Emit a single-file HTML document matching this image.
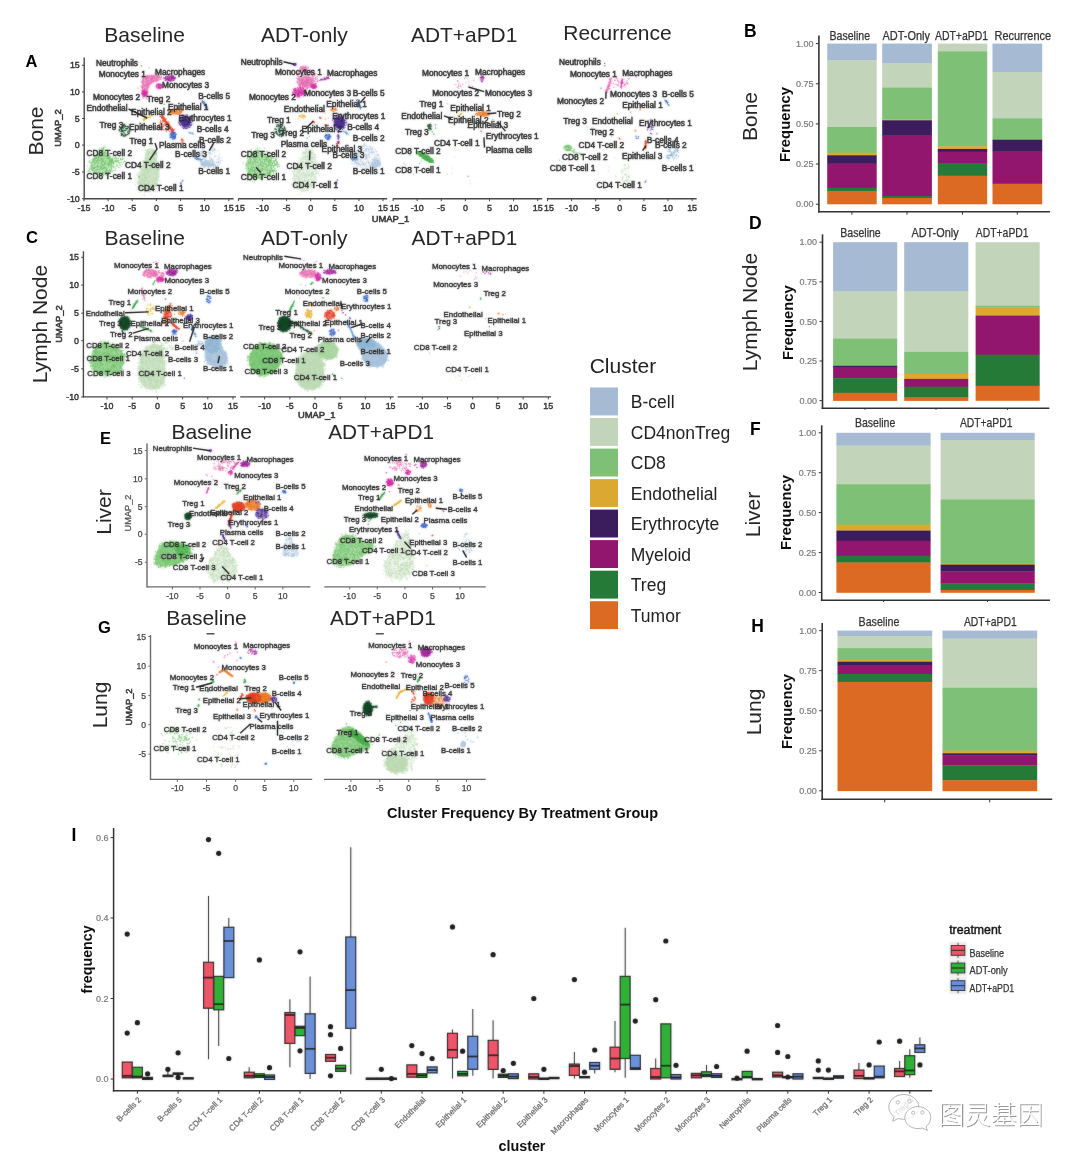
<!DOCTYPE html>
<html lang="en"><head><meta charset="utf-8"><title>Cluster Frequency By Treatment Group</title>
<style>
html,body{margin:0;padding:0;background:#fff}
body{width:1080px;height:1162px;overflow:hidden}
svg{display:block;font-family:"Liberation Sans","Noto Sans CJK SC",sans-serif}
.cjk{font-family:"Liberation Sans","Noto Sans CJK SC",sans-serif;font-weight:300}
.pts path{fill:none;stroke-linecap:round}
.lb{stroke:#2a2a2a;stroke-width:.5px}
.lc{stroke:#2a2a2a;stroke-width:.4px}
.tk{stroke:#363636;stroke-width:.42px}
.um{stroke:#3c3c3c;stroke-width:.6px}
.ul{stroke:#555;stroke-width:.3px}
.tl{stroke:#444;stroke-width:.25px}
.tg{stroke:#7a7a7a;stroke-width:.2px}
.nm{stroke:#333;stroke-width:.25px}
.xl{stroke:#777;stroke-width:.3px}
</style></head>
<body>
<svg width="1080" height="1162" viewBox="0 0 1080 1162">
<defs><filter id="b1" x="-2%" y="-2%" width="104%" height="104%"><feGaussianBlur stdDeviation="0.9" result="b"/><feGaussianBlur in="SourceGraphic" stdDeviation="0.55" result="s"/><feComposite in="s" in2="b" operator="arithmetic" k1="0" k2="0.78" k3="0.22" k4="0"/></filter><filter id="b2" x="-5%" y="-5%" width="110%" height="110%"><feGaussianBlur stdDeviation="0.5"/></filter><filter id="b3" x="-2%" y="-2%" width="104%" height="104%"><feGaussianBlur stdDeviation="0.9" result="b"/><feGaussianBlur in="SourceGraphic" stdDeviation="0.5" result="s"/><feComposite in="s" in2="b" operator="arithmetic" k1="0" k2="0.5" k3="0.5" k4="0"/></filter></defs>
<rect width="1080" height="1162" fill="#fff"/>
<g id="scatter" filter="url(#b3)">
<g class="fills"><path d="M90.2 169.3Q89.6 167.1 90.9 162.9Q92.3 158.8 95.1 156Q97.9 153.2 100.7 150.1Q103.4 147 105.5 151.1Q107.6 155.3 110 157.4Q112.5 159.5 112.1 165.4Q111.8 171.3 109.7 173.4Q107.6 175.4 102.8 174.9Q97.9 174.3 94.4 172.9Q90.9 171.6 90.2 169.3Z" fill="#6CC164" opacity="0.3"/>
<path d="M145.1 154.6Q145.1 150.4 148.6 149.1Q152.1 147.7 154.8 149.8Q157.6 151.8 156.9 156.7Q156.2 161.6 158 164.3Q159.7 167.1 159.3 172.7Q159 178.2 157.6 183.1Q156.2 187.9 152.8 190Q149.3 192.1 145.8 191.8Q142.3 191.4 140.2 188.3Q138.2 185.2 137.8 180.3Q137.5 175.4 139.9 171.3Q142.3 167.1 143.7 162.9Q145.1 158.8 145.1 154.6Z" fill="#B7D7AE" opacity="0.6"/>
<path d="M200.7 164Q199.3 160.9 206.2 160.4Q213.2 159.9 214.2 162.8Q215.2 165.7 208.7 166.4Q202.1 167.1 200.7 164Z" fill="#A2BED9" opacity="0.45"/>
<line x1="195.1" y1="158.1" x2="202.1" y2="159.9" stroke="#4C8CD6" stroke-width="0.9" stroke-linecap="round"/>
<path d="M142 82.4Q142.3 76.8 145.8 75.8Q149.3 74.8 154.8 75.1Q160.4 75.4 160.9 77.7Q161.5 79.9 157.5 81Q153.4 82.1 151.5 83.3Q149.6 84.5 148.9 87.6Q148.2 90.7 147.8 94.2Q147.5 97.7 145.4 97.1Q143.3 96.6 142.5 92.2Q141.6 87.9 142 82.4Z" fill="#E569AE" opacity="0.6"/>
<ellipse cx="144.8" cy="93.4" rx="2.5" ry="2.6" fill="#D327A2" opacity="0.5"/>
<ellipse cx="159.2" cy="86.1" rx="2.7" ry="2.2" fill="#D327A2" opacity="0.6"/>
<ellipse cx="169.7" cy="78.3" rx="4.8" ry="2.5" fill="#9C1596" opacity="0.6"/>
<ellipse cx="175.6" cy="111.4" rx="6.4" ry="2.8" fill="#E8761C" opacity="0.5"/>
<ellipse cx="185.5" cy="121.6" rx="5.5" ry="5.9" fill="#3C1C88" opacity="0.75"/>
<line x1="162.1" y1="116.1" x2="173.9" y2="133.4" stroke="#E0381C" stroke-width="1.3" stroke-linecap="round"/>
<ellipse cx="173" cy="135.5" rx="2.8" ry="3.1" fill="#2E5CC4" opacity="0.6"/>
<path d="M246.5 171.2Q245 166.5 246.9 161.8Q248.9 157 252 153.1Q255.2 149.2 259.9 150.7Q264.6 152.3 267.8 156.2Q270.9 160.2 271.7 164.9Q272.5 169.6 269.4 173.6Q266.2 177.5 261.5 178.4Q256.8 179.4 252.4 177.7Q248.1 175.9 246.5 171.2Z" fill="#6CC164" opacity="0.38"/>
<path d="M293 176.7Q293 169.6 296.1 164.1Q299.3 158.6 302.4 153.9Q305.6 149.2 309.5 148.4Q313.4 147.6 314.6 153.9Q315.8 160.2 317 166.5Q318.1 172.8 316.6 178.3Q315 183.8 311.9 187.3Q308.7 190.9 304 191.3Q299.3 191.7 296.1 187.7Q293 183.8 293 176.7Z" fill="#B7D7AE" opacity="0.3"/>
<path d="M351.2 161.4Q350.4 158.6 353.2 153.9Q355.9 149.2 360.6 146Q365.4 142.9 370.1 145.2Q374.8 147.6 378 153.1Q381.1 158.6 380.7 162.5Q380.3 166.5 376 168.2Q371.7 169.9 365.4 169.4Q359.1 168.8 355.5 166.5Q352 164.1 351.2 161.4Z" fill="#A2BED9" opacity="0.1"/>
<ellipse cx="376.4" cy="163.3" rx="3.8" ry="3.8" fill="#A2BED9" opacity="0.25"/>
<ellipse cx="354.4" cy="158.6" rx="2.8" ry="1.5" fill="#4C8CD6" opacity="0.5"/>
<ellipse cx="304" cy="68.1" rx="3.8" ry="1.9" fill="#E569AE" opacity="0.4"/>
<ellipse cx="305.9" cy="81.5" rx="7.2" ry="5" fill="#E569AE" opacity="0.6"/>
<ellipse cx="299.3" cy="92.1" rx="5.7" ry="4.1" fill="#D327A2" opacity="0.65"/>
<ellipse cx="313.7" cy="86.2" rx="2.5" ry="2.3" fill="#D327A2" opacity="0.6"/>
<ellipse cx="339.6" cy="122.4" rx="5.8" ry="6.5" fill="#3C1C88" opacity="0.8"/>
<ellipse cx="327.8" cy="137" rx="2.6" ry="2.5" fill="#2E5CC4" opacity="0.5"/>
<ellipse cx="481.8" cy="78.7" rx="2.1" ry="2.5" fill="#9C1596" opacity="0.5"/>
<ellipse cx="482.8" cy="113.8" rx="6.4" ry="2.1" fill="#E8761C" opacity="0.7"/>
<ellipse cx="429.5" cy="127.1" rx="1.8" ry="2.8" fill="#0E4420" opacity="0.6"/>
<ellipse cx="425.5" cy="157.2" rx="9.3" ry="2.8" fill="#3FA845" opacity="0.85" transform="rotate(33 425.5 157.2)"/>
<line x1="606.9" y1="92.2" x2="611.1" y2="78" stroke="#E569AE" stroke-width="0.8" stroke-linecap="round"/>
<line x1="621.1" y1="87.5" x2="622.2" y2="79.1" stroke="#D327A2" stroke-width="0.8" stroke-linecap="round"/>
<ellipse cx="567.7" cy="148" rx="3.3" ry="2.5" fill="#6CC164" opacity="0.5"/>
<line x1="645.8" y1="141" x2="645.5" y2="148.4" stroke="#E0381C" stroke-width="1.4" stroke-linecap="round"/>
<path d="M90.5 363.1Q89.7 358.3 91.6 353.6Q93.6 348.9 96.8 346.1Q99.9 343.4 103.1 342.6Q106.2 341.8 110.9 343.8Q115.6 345.7 119.6 348.9Q123.5 352 124.3 356Q125.1 359.9 123.5 364.6Q121.9 369.4 118.8 371.7Q115.6 374.1 110.9 375.3Q106.2 376.4 101.5 374.9Q96.8 373.3 94 370.5Q91.2 367.8 90.5 363.1Z" fill="#6CC164" opacity="0.62"/>
<path d="M140 359.1Q140.8 355.2 143.2 351.2Q145.6 347.3 150.3 345Q155 342.6 158.9 345Q162.9 347.3 163.7 352.8Q164.4 358.3 165.2 364.6Q166 370.9 165.2 377.2Q164.4 383.5 161.3 386.3Q158.1 389 153.4 389.4Q148.7 389.8 144.8 387.5Q140.8 385.1 139.3 379.6Q137.7 374.1 138.5 368.6Q139.3 363.1 140 359.1Z" fill="#B7D7AE" opacity="0.66"/>
<path d="M204.2 347.3Q203.8 342.6 206.2 339.4Q208.5 336.3 212.5 335.9Q216.4 335.5 218.8 338.3Q221.1 341 221.5 344.2Q221.9 347.3 224.7 351.2Q227.4 355.2 227.8 359.1Q228.2 363.1 224.7 365Q221.1 367 216.4 366.6Q211.7 366.2 208.5 363.8Q205.4 361.5 205 356.8Q204.6 352 204.2 347.3Z" fill="#A2BED9" opacity="0.8"/>
<path d="M205 346.5Q204.6 342.6 206.6 339.8Q208.5 337.1 212.5 336.7Q216.4 336.3 218.4 339.1Q220.3 341.8 219.9 346.1Q219.5 350.5 215.6 352Q211.7 353.6 208.5 352Q205.4 350.5 205 346.5Z" fill="#86B2D0" opacity="0.6"/>
<ellipse cx="150.1" cy="273.3" rx="6.4" ry="3.8" fill="#E569AE" opacity="0.5"/>
<ellipse cx="160.4" cy="279.3" rx="3.3" ry="2.5" fill="#D327A2" opacity="0.6"/>
<ellipse cx="172" cy="272.2" rx="5" ry="3.1" fill="#9C1596" opacity="0.75"/>
<line x1="132.2" y1="308.8" x2="137.4" y2="300.4" stroke="#2C9A40" stroke-width="1.2" stroke-linecap="round"/>
<ellipse cx="167.6" cy="314.3" rx="3.8" ry="5" fill="#E0381C" opacity="0.4"/>
<line x1="171.1" y1="322.4" x2="178.6" y2="329.2" stroke="#E0381C" stroke-width="1.2" stroke-linecap="round"/>
<ellipse cx="181.9" cy="313.5" rx="2.6" ry="2.1" fill="#E8761C" opacity="0.3"/>
<ellipse cx="189.4" cy="317.4" rx="3" ry="2.8" fill="#3C1C88" opacity="0.5"/>
<ellipse cx="124.8" cy="323.2" rx="5.8" ry="7" fill="#0E4420" opacity="0.95"/>
<line x1="139.3" y1="325.6" x2="151.9" y2="331.3" stroke="#2C9A40" stroke-width="1.0" stroke-linecap="round"/>
<ellipse cx="174.4" cy="332" rx="2.3" ry="2.5" fill="#2E5CC4" opacity="0.5"/>
<path d="M249.8 365.4Q247.6 359.9 249.8 354.4Q252 348.9 256.8 345.7Q261.5 342.6 267 343.4Q272.5 344.2 276.4 347.3Q280.4 350.5 281.6 354.4Q282.7 358.3 280.8 363.1Q278.8 367.8 274.9 370.9Q270.9 374.1 266.2 375.3Q261.5 376.4 256.8 373.7Q252 370.9 249.8 365.4Z" fill="#6CC164" opacity="0.8"/>
<path d="M295.5 369.4Q296.1 363.1 298.5 359.1Q300.8 355.2 304.8 352.8Q308.7 350.5 313.4 351.2Q318.1 352 321.3 358.3Q324.4 364.6 324.4 371.7Q324.4 378.8 322.1 383.5Q319.7 388.2 314.2 389.4Q308.7 390.6 304 388.6Q299.3 386.7 297.1 381.2Q294.9 375.6 295.5 369.4Z" fill="#B7D7AE" opacity="0.85"/>
<path d="M317.8 350.5Q318.1 345.7 321.3 343.4Q324.4 341 329.2 341.4Q333.9 341.8 336.2 345.3Q338.6 348.9 337.8 352.8Q337 356.8 333.9 358.5Q330.7 360.2 326.8 359.7Q322.9 359.1 320.1 357.2Q317.4 355.2 317.8 350.5Z" fill="#A3D19A" opacity="0.85"/>
<path d="M358.5 348.1Q355.6 344.2 358.1 341.4Q360.6 338.7 365.4 337.9Q370.1 337.1 373.6 339.8Q377.2 342.6 379.1 344.2Q381.1 345.7 384.3 348.9Q387.4 352 387.4 356.8Q387.4 361.5 384.3 364.2Q381.1 367 375.6 367Q370.1 367 366.6 364.2Q363 361.5 362.2 356.8Q361.4 352 358.5 348.1Z" fill="#A2BED9" opacity="0.88"/>
<path d="M357.5 345.7Q355.9 344.2 358.3 341.6Q360.6 339.1 365.4 338.5Q370.1 337.9 373.2 340.2Q376.4 342.6 375.6 345Q374.8 347.3 370.1 348.1Q365.4 348.9 362.2 348.1Q359.1 347.3 357.5 345.7Z" fill="#86B2D0" opacity="0.6"/>
<ellipse cx="308.7" cy="273.6" rx="7.6" ry="3.8" fill="#E569AE" opacity="0.6"/>
<ellipse cx="318.1" cy="276.7" rx="2.8" ry="3.3" fill="#D327A2" opacity="0.7"/>
<ellipse cx="330.1" cy="271.8" rx="5.8" ry="2.1" fill="#9C1596" opacity="0.5"/>
<line x1="289.5" y1="311.1" x2="294.5" y2="300.9" stroke="#2C9A40" stroke-width="1.0" stroke-linecap="round"/>
<ellipse cx="308.7" cy="313.8" rx="3.1" ry="4.4" fill="#E2AE2A" opacity="0.4"/>
<ellipse cx="311.1" cy="304.6" rx="1.5" ry="1.7" fill="#E2AE2A" opacity="0.4"/>
<ellipse cx="329.7" cy="315" rx="4.8" ry="4.4" fill="#E0381C" opacity="0.6"/>
<ellipse cx="336.4" cy="308.6" rx="2" ry="2" fill="#E8761C" opacity="0.3"/>
<ellipse cx="284.5" cy="323.7" rx="6.9" ry="7.8" fill="#0E4420" opacity="0.97"/>
<line x1="289.8" y1="322.9" x2="296.9" y2="322.9" stroke="#0E4420" stroke-width="2.0" stroke-linecap="round"/>
<line x1="296.1" y1="323.7" x2="311.9" y2="333.9" stroke="#0E4420" stroke-width="1.0" stroke-linecap="round"/>
<ellipse cx="332.5" cy="332.4" rx="2.6" ry="3.4" fill="#2E5CC4" opacity="0.4"/>
<ellipse cx="365.9" cy="298.3" rx="2.3" ry="3" fill="#2E5CC4" opacity="0.3"/>
<line x1="346.8" y1="320.9" x2="354.4" y2="338.2" stroke="#4C8CD6" stroke-width="0.9" stroke-linecap="round"/>
<path d="M155.2 563Q154.4 560.6 155.6 555.9Q156.8 551.2 159.1 547.3Q161.5 543.3 166.2 542.2Q170.9 541 176.4 541.8Q181.9 542.5 186.3 544.5Q190.6 546.5 191.2 550.4Q191.7 554.4 188.4 557.5Q185.1 560.6 179.6 563Q174.1 565.4 168.6 566.3Q163.1 567.3 159.5 566.3Q156 565.4 155.2 563Z" fill="#6CC164" opacity="0.7"/>
<ellipse cx="182.7" cy="550" rx="6.9" ry="4.7" fill="#3FA845" opacity="0.45"/>
<path d="M215.9 551.4Q218.2 547.6 222.1 546.8Q225.9 546.1 227.8 549.9Q229.8 553.7 232.8 557.6Q235.9 561.4 236.3 566.8Q236.7 572.2 234.4 575.3Q232.1 578.3 227.5 580Q222.9 581.7 217.5 581.2Q212.1 580.6 209.8 576.4Q207.5 572.2 208.4 567.6Q209.3 563 211.5 559.1Q213.6 555.3 215.9 551.4Z" fill="#B7D7AE" opacity="0.27"/>
<path d="M282 551.4Q282 547.6 283.9 543Q285.9 538.4 288.2 536.8Q290.5 535.3 292 539.9Q293.6 544.5 296.6 548.4Q299.7 552.2 298.9 554.1Q298.2 556 292.8 556.4Q287.4 556.8 284.7 556Q282 555.3 282 551.4Z" fill="#A2BED9" opacity="0.2"/>
<ellipse cx="230.3" cy="472.5" rx="1.8" ry="2.1" fill="#D327A2" opacity="0.5"/>
<ellipse cx="245.1" cy="463.8" rx="3.9" ry="2.8" fill="#9C1596" opacity="0.7"/>
<line x1="206.3" y1="493" x2="208.7" y2="487.5" stroke="#D327A2" stroke-width="0.9" stroke-linecap="round"/>
<line x1="236.7" y1="494.2" x2="240.7" y2="490.1" stroke="#2C9A40" stroke-width="0.9" stroke-linecap="round"/>
<line x1="215.8" y1="508.4" x2="224.4" y2="501.1" stroke="#E2AE2A" stroke-width="1.2" stroke-linecap="round"/>
<ellipse cx="238.6" cy="506.7" rx="6.4" ry="4.9" fill="#E0381C" opacity="0.85"/>
<line x1="232.3" y1="511.9" x2="228.9" y2="524.4" stroke="#E0381C" stroke-width="1.8" stroke-linecap="round"/>
<ellipse cx="252.8" cy="504.8" rx="7.4" ry="5.2" fill="#E8761C" opacity="0.75"/>
<ellipse cx="262" cy="513.8" rx="5.5" ry="5" fill="#3C1C88" opacity="0.5"/>
<line x1="222.6" y1="533.9" x2="224.8" y2="540.5" stroke="#3C1C88" stroke-width="1.0" stroke-linecap="round"/>
<line x1="228.4" y1="520.5" x2="230.7" y2="528.4" stroke="#3C1C88" stroke-width="1.0" stroke-linecap="round"/>
<ellipse cx="188" cy="516.2" rx="3.5" ry="3.7" fill="#0E4420" opacity="0.95"/>
<path d="M332.8 559.9Q332 555.9 334.4 549.6Q336.8 543.3 339.1 539.4Q341.5 535.5 346.2 535.1Q350.9 534.7 356.4 537.4Q361.9 540.2 367.5 541.8Q373 543.3 373 547.3Q373 551.2 367.5 553.6Q361.9 555.9 358 559.9Q354.1 563.8 348.6 565.5Q343.1 567.3 338.3 565.5Q333.6 563.8 332.8 559.9Z" fill="#6CC164" opacity="0.55"/>
<path d="M399.6 537.6Q401.9 533.8 405 533Q408.1 532.2 409.6 538.4Q411.1 544.5 412.7 552.2Q414.2 559.9 413.5 566Q412.7 572.2 408.8 575.3Q405 578.3 398.1 579.1Q391.2 579.9 387.7 576.8Q384.3 573.7 384.6 567.6Q385 561.4 388.1 556Q391.2 550.7 394.2 546.1Q397.3 541.4 399.6 537.6Z" fill="#B7D7AE" opacity="0.22"/>
<ellipse cx="408" cy="472.2" rx="2.5" ry="1.9" fill="#D327A2" opacity="0.5"/>
<ellipse cx="423.3" cy="464.2" rx="2.8" ry="3.1" fill="#9C1596" opacity="0.7"/>
<ellipse cx="389.9" cy="482.4" rx="3.1" ry="3.1" fill="#D327A2" opacity="0.9" transform="rotate(-35 389.9 482.4)"/>
<line x1="378.8" y1="499.3" x2="384.5" y2="492.3" stroke="#2C9A40" stroke-width="1.2" stroke-linecap="round"/>
<line x1="394.2" y1="505.6" x2="401.3" y2="500.4" stroke="#E2AE2A" stroke-width="1.4" stroke-linecap="round"/>
<ellipse cx="371" cy="515.4" rx="7.4" ry="2.8" fill="#0E4420" opacity="0.9"/>
<ellipse cx="424.3" cy="525.6" rx="2.6" ry="1.8" fill="#2E5CC4" opacity="0.7"/>
<line x1="396.6" y1="530.7" x2="400.7" y2="538.6" stroke="#3C1C88" stroke-width="1.6" stroke-linecap="round"/>
<ellipse cx="460.9" cy="490.6" rx="1.7" ry="1.5" fill="#2E5CC4" opacity="0.4"/>
<line x1="219.4" y1="672.3" x2="223.7" y2="670.1" stroke="#E8761C" stroke-width="1.6" stroke-linecap="round"/>
<line x1="223.7" y1="670.1" x2="232.6" y2="676.2" stroke="#E8761C" stroke-width="1.8" stroke-linecap="round"/>
<ellipse cx="253.6" cy="697.8" rx="7.5" ry="5.4" fill="#E0381C" opacity="0.95"/>
<line x1="240.2" y1="699.5" x2="242.5" y2="694" stroke="#E0381C" stroke-width="1.4" stroke-linecap="round"/>
<ellipse cx="263.8" cy="697.9" rx="7.5" ry="5.5" fill="#E8761C" opacity="0.9"/>
<ellipse cx="274" cy="699.5" rx="2.8" ry="2.1" fill="#3C1C88" opacity="0.5"/>
<path d="M332.4 749.9Q331.2 745.9 334 740.4Q336.8 734.9 341.5 729.8Q346.2 724.7 350.1 726.6Q354.1 728.6 358.8 732.5Q363.5 736.5 367.5 740.4Q371.4 744.4 369.8 746.3Q368.2 748.3 362.7 751Q357.2 753.8 350.9 756.2Q344.6 758.5 339.1 756.2Q333.6 753.8 332.4 749.9Z" fill="#6CC164" opacity="0.65"/>
<ellipse cx="359.2" cy="737.7" rx="13.1" ry="3.4" fill="#3FA845" opacity="0.9" transform="rotate(38 359.2 737.7)"/>
<path d="M385.6 766.4Q384 761.7 386.3 756.2Q388.7 750.6 393.4 746.7Q398.1 742.8 401.3 738.1Q404.4 733.3 408.4 732.5Q412.3 731.8 414.7 737.3Q417 742.8 416.2 750.6Q415.5 758.5 413.1 764Q410.7 769.5 404.4 771.7Q398.1 773.9 392.6 772.5Q387.1 771.1 385.6 766.4Z" fill="#B7D7AE" opacity="0.15"/>
<ellipse cx="396.8" cy="763.6" rx="10.4" ry="8.9" fill="#B7D7AE" opacity="0.75"/>
<ellipse cx="463.1" cy="744.4" rx="2.5" ry="2.8" fill="#A2BED9" opacity="0.6"/>
<ellipse cx="411.9" cy="659" rx="3.1" ry="3.7" fill="#D327A2" opacity="0.5"/>
<ellipse cx="426.1" cy="652.3" rx="5" ry="4" fill="#9C1596" opacity="0.85"/>
<line x1="417.5" y1="681.9" x2="419.9" y2="677.8" stroke="#2C9A40" stroke-width="1.4" stroke-linecap="round"/>
<line x1="396.3" y1="698.4" x2="400.5" y2="691.6" stroke="#E2AE2A" stroke-width="1.3" stroke-linecap="round"/>
<line x1="400.5" y1="691.6" x2="407.9" y2="688.8" stroke="#E2AE2A" stroke-width="1.3" stroke-linecap="round"/>
<ellipse cx="428.8" cy="698.3" rx="5.2" ry="6.3" fill="#E0381C" opacity="0.85"/>
<ellipse cx="438.3" cy="701.9" rx="5.9" ry="5.3" fill="#E8761C" opacity="0.3"/>
<ellipse cx="446.9" cy="698.7" rx="2.8" ry="2.8" fill="#3C1C88" opacity="0.5"/>
<ellipse cx="367.8" cy="708.5" rx="4.6" ry="7" fill="#0E4420" opacity="0.97"/>
<line x1="371.4" y1="706.9" x2="376.9" y2="706.6" stroke="#0E4420" stroke-width="1.6" stroke-linecap="round"/>
<line x1="428.4" y1="713.2" x2="432" y2="722.3" stroke="#2E5CC4" stroke-width="1.0" stroke-linecap="round"/></g>
<g class="pts"><g transform="scale(.2)"><path d="M500 815h0m54-14h0m-48 17h0m-37-10h0m51 40h0m-62 2h0m65-28h0m-25 33h0m9-29h0m-2 3h0m-5-55h0m44 62h0m-8-44h0m9-2h0m13 65h0m-6-53h0m-96 22h0m102 19h0m-46-44h0m-42 40h0m-7-12h0m96 22h0m-76 12h0m-11-70h0m74 35h0m-10-44h0m-78 36h0m18 2h0m14-21h0m68 5h0m-44 54h0m38-7h0m-19 18h0m16-48h0m-74 14h0m2 17h0m39-75h0m-48 60h0m44 19h0m6-81h0m-5-21h0m-24 108h0m71-34h0m-33-10h0m1 54h0m-25-33h0m-47-26h0m76 50h0m0-28h0m7 30h0m-51-33h0m63 27h0m-55-12h0m51-31h0m-28-27h0m-4 33h0m-58 4h0m74-36h0m1 28h0m-34 36h0m-41-12h0m46-74h0m25 38h0m-10 60h0m-36-35h0m70-2h0m-54 33h0m-13-32h0m-14-34h0m69 69h0m9-75h0m-34-10h0m-52 26h0m81 50h0m-15 14h0m-30-96h0m-27 20h0m47 11h0m-35 49h0m76-55h0m-31 17h0m-46 32h0m37-50h0m0 30h0m20 43h0m-14-108h0m-24-3h0m28 0h0m-51 24h0m49 25h0m-10 34h0m-25 5h0m62-10h0m-92-39h0m56 65h0m-28-48h0m58 32h0m7-47h0m-34-37h0m8 87h0m-9-14h0m-49 26h0m37-16h0m-25 17h0m62-80h0m-35 60h0m-25 3h0m21-9h0m37-5h0m12-28h0m-83 5h0m8 29h0m40-30h0m23 6h0m-61-26h0m62 74h0m-73-7h0m87-47h0m-46-46h0m-4 43h0m8-67h0m42 69h0m-65 41h0m18-44h0m-2-11h0m-31 8h0m-17-5h0m79 66h0m-39-83h0m-32 43h0m57-42h0m-39 42h0m-28 16h0m2-31h0m47-11h0m-18-3h0m17-36h0m-37 67h0m50-15h0m24 12h0m-12 28h0m-49 16h0m-9-28h0m68-43h0m-49 37h0m32 33h0m-20-22h0m-1-11h0m6-24h0m2-52h0m-12 88h0m-16-43h0m22-5h0m10-59h0m11 118h0m-59-56h0m63-6h0m18 56h0m-21 8h0m-9-65h0m-4 15h0m-39 58h0m56-19h0m8-53h0m10 67h0m-24-16h0m8-51h0m-48 9h0m34 22h0m3-41h0m-1 33h0m-14-26h0m19 53h0m-10-3h0m-41-48h0m0 72h0m34-57h0m48 9h0m-43 27h0m-50-41h0m1 3h0m51-62h0m38 52h0m-48 25h0m-18-44h0m33 39h0m-43 22h0m-14 5h0m26 21h0m5-60h0m11 65h0m23-66h0m-14-51h0m2 49h0m-11-47h0m-9 77h0m1-58h0m14 23h0m23 15h0m-5-41h0m6 55h0m-49-50h0m37 41h0m-10 10h0m37 35h0m-74-65h0m40-46h0m-9-4h0m-52 86h0m53-6h0m-20-22h0m-19-19h0m61 70h0m7-30h0m-44-52h0m45 15h0m-56 26h0m48 53h0m-36-79h0m15 17h0m14-27h0m-54 52h0m59 5h0m-42 4h0m40-22h0m23-19h0m-12-19h0m-56 14h0m-8-6h0m14 1h0m3 3h0m-23 25h0m69-3h0m5 3h0m-76 28h0m42-27h0m49 12h0m-49 19h0m22 16h0m-75-38h0m7 16h0m58-71h0m-49 74h0m35 0h0m-15-61h0m66 48h0m-55-20h0m26 25h0m23-43h0m-11 37h0m4 20h0m-3 11h0m15-35h0m-50 10h0m32-41h0m-7 81h0m-62-81h0m-10 32h0m54 37h0m-40-27h0m41-70h0m-48 76h0m15-30h0m58-10h0m-63 58h0m32 10h0m-7-105h0m37 24h0m-32 18h0m15-39h0m-33 79h0m40-27h0m-45-49h0m62 36h0m-69 3h0m-13 34h0m80 7h0m-42-50h0m54 16h0m-19-24h0m-28 16h0m-44 43h0m17-74h0m18 58h0m-12-4h0m12 40h0m42-45h0m-14-59h0m-17 31h0m6-24h0m-27 36h0m-9-29h0m11 47h0m39-48h0m24 33h0m-25-33h0m-6 54h0m-57-44h0m76 27h0m9-23h0m-47 31h0m30 25h0m-44-70h0m2 52h0m29-12h0m-36 5h0m19 20h0m36-25h0m-76 22h0m85-31h0m-63-7h0m-24 30h0m97-28h0m-31 46h0m-10-91h0m-6 71h0m-29 33h0m4-66h0m21 14h0m2-43h0m29 48h0m-79 32h0m19 11h0m-6-46h0m36-71h0m12 33h0m2 61h0m-33-21h0m-21-18h0m42-41h0m-6 12h0m6 10h0m12-27h0m33 65h0m-56-27h0m17 40h0m16 9h0m9 15h0m-49-60h0m18 67h0m-5-54h0m-11 54h0m34-1h0m1-43h0m2-42h0m-18-33h0m-54 53h0m43-7h0m-51 43h0m54-65h0m-25 22h0m41 67h0m-28-9h0m-23-8h0m40 22h0m-54-15h0m3-37h0m88 40h0m-57-65h0m22-45h0m-32 65h0m19-42h0m-20 102h0m62-81h0m-42-26h0m-31 66h0m-1 35h0m61-81h0m38 12h0m-72-50h0m21 136h0m29-104h0m-2 5h0m17 13h0m-110 75h0m93-100h0m-37-26h0m-34 40h0m9 103h0m-30-73h0m101-29h0m-58-35h0m28-17h0m-86 101h0m7-22h0m-5 49h0m96 21h0m32-62h0m-119-2h0m9 53h0m-11-26h0m-4 12h0m11 17h0m71-134h0m-78 110h0m87-96h0m-94 105h0m122-49h0m-64 74h0m61-86h0m-75-32h0m-21 110h0m-13-15h0m-2-53h0m6 65h0m85 20h0m-39-139h0m4 135h0m109-100h0m-32 24h0m-17 49h0m-15-39h0m9-3h0m8 35h0m-9-40h0m14 3h0m-19-31h0m57 15h0m-42 26h0m-1-7h0m60-8h0m-28-26h0m-18 49h0m-30-25h0m35 4h0m33-1h0m-5-13h0m-38-2h0m18-2h0m-30 4h0m23 8h0m-23 6h0m13-9h0m-29-7h0m21 16h0m0-2h0m-10 46h0m18-14h0m2-54h0m44 19h0m-10 15h0m-62-10h0m16-28h0m-8 45h0m-10-23h0m34 18h0m-25 13h0m11 2h0m35-46h0m-40 10h0m44 10h0m-28 37h0m-14-46h0m10-6h0m-26-15h0m51 43h0m-29 9h0m34-1h0m-40-2h0m-12-17h0m26-29h0m-1 21h0m10-4h0m-29 10h0m27-19h0m17 6h0m-50 8h0m29-15h0m14 44h0m-3 0h0m-16-51h0m3-1h0m8 43h0m-2-21h0m-19-24h0m8 69h0m19-50h0m9-6h0m-17 34h0m42-20h0m-29 4h0m-18-11h0m-33-11h0m41 14h0m-31-10h0m7 39h0m27-23h0m-26 8h0m35 5h0m-2 1h0m-25-17h0m48-3h0m-5-12h0m-18 26h0m-5-9h0m712 47h0m-28-34h0m-18 38h0m50-55h0m2 38h0m-12 46h0m-27-131h0m26 119h0m-31-99h0m44 62h0m-8-45h0m-33 4h0m20 25h0m-38-24h0m-8 50h0m45-1h0m64-44h0m-102 39h0m40-7h0m16-28h0m-19 44h0m-23 27h0m67-46h0m15-31h0m1 55h0m-69-75h0m-4 23h0m5-31h0m-8-14h0m-24 114h0m104-65h0m-75 14h0m-19 23h0m66-72h0m-16 15h0m-57 16h0m44 50h0m26-9h0m-13-9h0m27 24h0m-47-37h0m54-5h0m9 38h0m-72-94h0m-13 109h0m7-70h0m87 45h0m-76-83h0m0-15h0m-31 126h0m-19-52h0m106 48h0m-92-20h0m13-68h0m14 26h0m30 75h0m-53-99h0m6 98h0m35 2h0m-10-106h0m-40 28h0m41 3h0m5-1h0m41-30h0m-33 44h0m29-42h0m-13 49h0m-17-37h0m12 53h0m-30-61h0m8 65h0m-22-40h0m50-23h0m21 55h0m-28-15h0m9 20h0m5-54h0m-79 60h0m86-3h0m-40-90h0m36 114h0m-55-98h0m56-10h0m-57 48h0m50 61h0m-31 3h0m44-81h0m-86-2h0m32 25h0m10 57h0m60-81h0m-95 22h0m30 63h0m43-10h0m-76-63h0m89 38h0m-29-68h0m31 37h0m-79 7h0m35 10h0m29 47h0m-69-43h0m12 21h0m66-63h0m-71 18h0m78 15h0m-92-13h0m87-15h0m3 65h0m-58-93h0m64 32h0m-39 15h0m-60-35h0m-4 83h0m106-12h0m-48-38h0m40 8h0m-94 32h0m-6-47h0m81-6h0m-55-17h0m13 9h0m-39 30h0m25 51h0m82-57h0m-2 7h0m-33-17h0m9-12h0m3 22h0m-60-1h0m19 47h0m3-23h0m31-13h0m-21 45h0m-57-74h0m0 36h0m26 31h0m29-104h0m-45 103h0m-1-10h0m81-22h0m-83 39h0m1-24h0m42-69h0m-49 84h0m73-48h0m36-16h0m-19 2h0m-59 63h0m22 13h0m0-126h0m-26 40h0m-6 89h0m5-91h0m35 10h0m-36 50h0m63-63h0m-46 40h0m-49-7h0m78-64h0m-44 78h0m-26-22h0m54-15h0m-21 38h0m30-29h0m10-42h0m-49 64h0m3-54h0m-27 90h0m90-78h0m-10-18h0m27 80h0m-17-20h0m-58-34h0m9-35h0m16 112h0m-29-74h0m11 53h0m-18 2h0m82-42h0m-69 50h0m15-28h0m45 13h0m-87-5h0m42-67h0m-18-9h0m5 39h0m-23-1h0m26-45h0m10 131h0m64-79h0m-48 47h0m33-71h0m-87 60h0m29-50h0m61 10h0m-82 7h0m38 43h0m44 11h0m3-14h0m-61 37h0m-14-36h0m-20-40h0m1-22h0m20 53h0m42 6h0m-66-66h0m102 24h0m-71 58h0m13-59h0m5 44h0m-31-69h0m26 91h0m-12-75h0m44-29h0m16 36h0m-24 69h0m-43-70h0m40 13h0m-73 27h0m74-4h0m-82-18h0m14 6h0m11 2h0m60-55h0m15 19h0m-100 28h0m112-17h0m-84 16h0m32-40h0m-32 41h0m12 59h0m-42-41h0m81 45h0m25-58h0m-74-42h0m-7 80h0m32-84h0m-32 67h0m58-82h0m-58 4h0m49 74h0m13-16h0m-17 27h0m-38-1h0m39 10h0m-71-44h0m60 19h0m17 28h0m34-6h0m-61-50h0m40 59h0m-58-27h0m13-57h0m83 39h0m-40 47h0m-5-44h0m-47 4h0m7 18h0m65-22h0m-65 26h0m66 13h0m-14-51h0m-50 46h0m62 15h0m-54-97h0m19 107h0m-35-80h0m42 79h0m-19-10h0m67-52h0m-95 14h0m48-10h0m-6-8h0m1 61h0m28-95h0m-73 60h0m51-43h0m24-14h0m-46 95h0m-39-69h0m70 57h0m-37 16h0m2-2h0m36-12h0m7-54h0m-17 62h0m25-32h0m11 5h0m-15 3h0m-88-41h0m45 48h0m-26-95h0m64 25h0m4 26h0m-19 27h0m-9-40h0m-11-48h0m-19 98h0m80-56h0m-16-18h0m-60 61h0m12-43h0m64 33h0m-1-20h0m7 25h0m-43-14h0m-14 46h0m-44-28h0m69-6h0m-9-21h0m-23 56h0m-62-59h0m58 5h0m64-11h0m-52-36h0m40 54h0m-113 3h0m71-15h0m-57-18h0m15 13h0m28-25h0m51-3h0m-87 72h0m29 8h0m-39 9h0m0-10h0m39 7h0m-3-110h0m22-3h0m29 113h0m11 7h0m-96-34h0m48-62h0m-55 29h0m95 11h0m-75-24h0m53-9h0m-9 69h0m-35-18h0m38 22h0m-54-50h0m41-17h0m13 34h0m45 26h0m-95 7h0m53-88h0m-1 72h0m54 5h0m-94-74h0m-4 103h0m83-7h0m-87 7h0m65-67h0m-3-14h0m-12-17h0m-53 9h0m69 51h0m-19-20h0m26 33h0m-3 24h0m-19 6h0m-31-134h0m47 60h0m30 19h0m-54 21h0m-4-52h0m17 45h0m-69-25h0m72 58h0m-17-87h0m5-20h0m-67 101h0m52-45h0m-10 64h0m49-83h0m5 32h0m-44-85h0m1 5h0m-54 36h0m127 24h0m-32-60h0m43 97h0m-70 41h0m46-19h0m13-18h0m-39-115h0m-36-1h0m-62 131h0m36 33h0m47-11h0m-55 7h0m-16-123h0m124 34h0m-106-66h0m-20 128h0m-20-61h0m92 80h0m-75-10h0m104-125h0m10 18h0m21 33h0m-118-47h0m93 4h0m4 109h0m-38 23h0m49-95h0m-135 69h0m138-52h0m-123-31h0m118 7h0m-98-42h0m-3 141h0m42-156h0m-10 3h0m-14 167h0m83-115h0m-96 99h0m-5-129h0m100 92h0m0 7h0m34-35h0m-31-38h0m-11 76h0m20-39h0m1-21h0m-26-24h0m15 58h0m9-10h0m-5-20h0m-14-13h0m5-15h0m21 58h0m-12 10h0m23-41h0m-39 64h0m36-21h0m-7-52h0m-13 16h0m13-11h0m-23 4h0m32-14h0m-29 66h0m13-70h0m21 42h0m-43-50h0m40 41h0m-6-22h0m-8 49h0m3-44h0m12 9h0m-20 21h0m15-20h0m-1-21h0m-2-6h0m19 42h0m-28-43h0m-20 72h0m4-75h0m-8 89h0m27-67h0m-18 4h0m-2-17h0m18 53h0m-19 5h0m3-67h0m34 32h0m-32-33h0m13 23h0m19 3h0m-6-4h0m-31 37h0m24-20h0m-39-45h0m31 74h0m-16 18h0m10-25h0m-6-61h0m-3 83h0m26-48h0m-9-31h0m-29 89h0m17-76h0m11 58h0m1-28h0m-12 21h0m6-3h0m9-22h0m15-10h0m-36 43h0m33-56h0m5 31h0m-46-45h0m30 24h0m8 8h0m-21 3h0m2 27h0m14-25h0m-31 42h0m32-15h0m-12-39h0m-11 51h0m14-1h0m8-23h0m6-49h0m-25 40h0m-11-36h0m15-10h0m35 41h0m-46-21h0m-8-34h0m36 48h0m0-23h0m16 22h0m-25 37h0m-3-58h0m7 18h0m1445-80h0m34-6h0m-7 6h0m-18-10h0m31 13h0m-28-16h0m9 20h0m-4-12h0m-7 2h0m16 10h0m0-10h0m5 9h0m-8 6h0m-4-26h0m-4 7h0m4 18h0m-2 1h0m-14-6h0m20-17h0m16 8h0m-21 18h0m17-22h0m-11 6h0m12-3h0m-9 17h0m6-20h0m4 4h0m-33-3h0m35 4h0m-35-1h0m17 11h0m9-1h0m-6-18h0m0 4h0m-11 21h0m22-3h0m-9-18h0m3-5h0m-24 7h0m28 17h0m3-8h0m-15-16h0m0 25h0m2-4h0m-2-22h0m4 27h0m-17-18h0m1 14h0m5-12h0m24-3h0m-27-3h0m19-1h0m-14 1h0m16 21h0m5-17h0m-17 0h0m3-9h0m-8 22h0m19-5h0m3-9h0m-2375 1021h0m60-15h0m45 125h0m-6-6h0m-128-60h0m93-57h0m-7 111h0m-48-96h0m96 7h0m-115 78h0m131-6h0m-118-55h0m47 100h0m12-97h0m11 89h0m63-89h0m-83 4h0m-4-35h0m-52 64h0m43-98h0m-30 103h0m43-55h0m-11-55h0m56 52h0m-115 57h0m99-67h0m-11 93h0m12-12h0m-21-80h0m-37 51h0m27 66h0m-56-79h0m63 67h0m54-105h0m-14 58h0m-79 49h0m44-102h0m37-12h0m-81-23h0m74 87h0m-55-34h0m-7 72h0m6-65h0m-17 45h0m105-6h0m-36 12h0m-45 10h0m39-99h0m-6 87h0m-38-85h0m80 81h0m-54-22h0m29 50h0m14-90h0m-22 61h0m-6-74h0m-31 25h0m-47 16h0m129 30h0m-69 30h0m21-30h0m-67-17h0m-2 28h0m82-58h0m-59 59h0m3-68h0m-6 74h0m37-73h0m-69-24h0m-32 51h0m37 30h0m-9-60h0m43 34h0m-29-4h0m41 78h0m-18-26h0m99-49h0m-119-5h0m46-28h0m-31 57h0m7-58h0m58 25h0m-24 2h0m-35-79h0m-17 105h0m40-42h0m-33 39h0m34-100h0m19 140h0m-89-62h0m1 25h0m29 22h0m23 28h0m-25-11h0m58-95h0m38 28h0m-57 9h0m47-41h0m-73-9h0m27 91h0m-67-86h0m95-17h0m-97 15h0m71-39h0m24 62h0m-111 11h0m125 43h0m11-4h0m-29 41h0m-78-18h0m36-110h0m28 73h0m-15-59h0m27-23h0m17 70h0m-3-58h0m-43 85h0m-64-29h0m9-39h0m18 75h0m-12 0h0m-1 21h0m85-37h0m24 7h0m-6-73h0m23 4h0m-118 106h0m109-69h0m-52 6h0m-2-52h0m9 100h0m-64-109h0m-20 61h0m16-60h0m20 125h0m28-63h0m-44-38h0m66 26h0m-63-7h0m6-19h0m58-10h0m-63 53h0m105-26h0m-95 32h0m29-10h0m19 9h0m-47-86h0m64 94h0m-38-86h0m20 38h0m7-28h0m-89 83h0m144-25h0m-57 72h0m-56-13h0m86-47h0m-97 46h0m70-65h0m-16 79h0m-58-116h0m52-3h0m81 63h0m-63-36h0m-6 89h0m-63-38h0m7-88h0m28 62h0m-18 3h0m-45-3h0m7-2h0m38 33h0m36-69h0m71 7h0m-120-4h0m-24 27h0m143-28h0m-34 62h0m-46-52h0m46-30h0m-88 64h0m118-55h0m-123 1h0m74 74h0m-33-102h0m-17-8h0m-33 62h0m98 46h0m3 5h0m-62-16h0m31-106h0m14 15h0m18 15h0m-12 53h0m52 4h0m-17 16h0m-92 8h0m-18-49h0m-19 24h0m64 59h0m-19-102h0m-61 37h0m45 54h0m22-30h0m-49-24h0m78 32h0m32-75h0m-93 64h0m77-51h0m44 73h0m-109-68h0m83-18h0m-70 31h0m24-14h0m11 10h0m51 25h0m-86-34h0m86 20h0m-94 36h0m39-104h0m-2 85h0m18 47h0m56-65h0m-94-40h0m-4 33h0m-3-65h0m46 40h0m-73-19h0m89 54h0m-37-12h0m18 0h0m57-13h0m-121 12h0m15 4h0m16-10h0m5-60h0m67 126h0m-99 10h0m-21-19h0m2 22h0m79-14h0m-44-21h0m32-42h0m-17 44h0m41 35h0m31-61h0m-94-10h0m-35-28h0m115-13h0m-28 114h0m-46-91h0m-55 67h0m124 9h0m-112 8h0m65-50h0m-2 60h0m-20-38h0m28-34h0m-13-75h0m-30 115h0m63 42h0m36-82h0m25 11h0m-4 14h0m-63-6h0m54-11h0m-37-6h0m-69-19h0m77-30h0m-5 54h0m-51 62h0m-33-91h0m1 92h0m39-97h0m78 12h0m-137-15h0m70 59h0m-15 31h0m53-91h0m-90 105h0m123-55h0m-30-70h0m-62 26h0m36 15h0m-57-21h0m95 73h0m-11-10h0m-98-3h0m35-46h0m60 86h0m-66-32h0m-40-18h0m-1-44h0m113-27h0m-46-22h0m3 25h0m-39 41h0m58 64h0m2-91h0m-53 75h0m57-94h0m-3 46h0m-85-34h0m53-13h0m7 35h0m-69 34h0m29-19h0m-30 47h0m90 0h0m-12-64h0m57 46h0m-75 49h0m34-29h0m45 11h0m-59-55h0m10-5h0m-37-19h0m73 24h0m-54-18h0m52 30h0m2 52h0m-133-21h0m5-52h0m26 12h0m11-29h0m90-10h0m-12 4h0m-36 15h0m69 18h0m-70 20h0m-4 39h0m36-67h0m5 85h0m19-89h0m-7-32h0m-75 61h0m-11-36h0m99 69h0m-124-53h0m31 54h0m3-109h0m52 97h0m-21 22h0m-16 30h0m30-158h0m-49 1h0m13 0h0m-50 104h0m112-50h0m18 1h0m-106 22h0m0-57h0m115 50h0m-79 42h0m-1-9h0m2 47h0m37-46h0m-107-57h0m61 100h0m-3-79h0m-32-49h0m-17 104h0m57 3h0m86-34h0m-75-50h0m38 72h0m18-49h0m21-5h0m-71-12h0m36 47h0m-118-66h0m108 22h0m25-23h0m-73 72h0m-22 36h0m-24-69h0m86 32h0m-18-29h0m-20-52h0m-8 58h0m47 42h0m-114-28h0m63-46h0m86 47h0m-25-23h0m-5-12h0m-32-35h0m-44 42h0m56-30h0m35-12h0m-26 106h0m31-19h0m-42 46h0m-49-117h0m46 60h0m-19 38h0m4-127h0m-11 2h0m-50 41h0m130 44h0m-53-27h0m30-15h0m-90 20h0m52-37h0m49 14h0m-63-9h0m-45 5h0m77 7h0m54 45h0m-130-73h0m109 5h0m16 5h0m-143 37h0m91 40h0m-83-30h0m94-65h0m-63 119h0m102-106h0m-49 92h0m22 8h0m-6 1h0m-7-73h0m35 39h0m-21 18h0m-23 29h0m-16-77h0m58 61h0m19-78h0m-34-32h0m-96 108h0m52-112h0m-38 127h0m4-49h0m-29 19h0m132-62h0m4 45h0m-54-83h0m24 51h0m-95 8h0m97 53h0m9-30h0m-37-77h0m30 111h0m-35-48h0m-42 66h0m-2-2h0m22-10h0m32-47h0m-69-78h0m53 69h0m29-53h0m-46-7h0m38 83h0m-69-85h0m28 114h0m-43-33h0m65-22h0m-65 6h0m75 65h0m-71-107h0m68 94h0m17-21h0m-12-32h0m-78 5h0m-4-66h0m65-3h0m-11 73h0m-40 57h0m41-153h0m19 131h0m-78-82h0m102 60h0m-93-31h0m115 48h0m-33-112h0m24 69h0m-106 67h0m67-118h0m36 72h0m-18-42h0m-68-3h0m66 44h0m-53-78h0m-3 64h0m91-36h0m-81-44h0m21 12h0m-86 64h0m77 12h0m-15-62h0m57 112h0m-33-114h0m61 86h0m-114-74h0m-10 15h0m59 82h0m-16-97h0m11 8h0m-36 48h0m35-74h0m-9 4h0m22 52h0m-16-72h0m24 29h0m8 54h0m18-56h0m-62 44h0m66 8h0m32-4h0m-30-14h0m-52-53h0m-4 121h0m-8-79h0m45 46h0m38-7h0m-126 24h0m33 5h0m-48-88h0m14-4h0m4 5h0m111 100h0m-49-16h0m18-48h0m-99 55h0m-18-70h0m78-68h0m74 149h0m27-85h0m-129-59h0m-5 154h0m-36-35h0m90-129h0m-15 3h0m93 62h0m-136-46h0m133 125h0m-118 23h0m106-21h0m-156-34h0m141 54h0m-147-77h0m172-43h0m-148-9h0m162 55h0m-32-58h0m-157 48h0m7 23h0m67 70h0m46-166h0m-108 113h0m135 45h0m33-100h0m-12 79h0m-8 6h0m11-9h0m17-67h0m-26 81h0m-32-143h0m-47 167h0m99-120h0m-116-57h0m-48 133h0m14 27h0m137-116h0m-95-49h0m72 31h0m-108-1h0m142 36h0m-76-61h0m5 176h0m-46-171h0m-25 14h0m89 146h0m58-97h0m-41 96h0m45-91h0m-129-76h0m121 77h0m-22 78h0m-118 6h0m1-138h0m140 85h0m-19 38h0m789-51h0m-22-53h0m-22 93h0m-56-42h0m33 74h0m50-23h0m4-97h0m24 11h0m-142 25h0m17 9h0m14-58h0m-6 89h0m60 35h0m-43-73h0m-35 44h0m107 14h0m-47-39h0m-63-67h0m97-18h0m22 20h0m-81 33h0m6 91h0m-7-113h0m-17 11h0m36-37h0m7 55h0m32 48h0m-44-59h0m30 64h0m-92-38h0m42 58h0m60-5h0m-103-82h0m33 39h0m-39 15h0m92-18h0m55-16h0m-108 46h0m55-47h0m-26 43h0m-61-15h0m-1-16h0m58-34h0m39 88h0m-6-72h0m25-14h0m-21 62h0m-64-6h0m-34 1h0m75 4h0m-53-2h0m43-105h0m-3 90h0m43 44h0m-24-102h0m1-4h0m-7 76h0m37-72h0m-70-17h0m3 59h0m53 57h0m5-55h0m-60 23h0m-26 34h0m121-96h0m-48-24h0m-34 31h0m-58 56h0m102-26h0m15 2h0m-51 53h0m-7-11h0m45-93h0m-57 40h0m45-3h0m-14 1h0m0 73h0m-67-34h0m28-43h0m114 5h0m-106-3h0m-5-51h0m-22 52h0m33 79h0m7 9h0m-35-47h0m63-72h0m-22 78h0m62-32h0m-75-72h0m52 113h0m-68 1h0m38-54h0m-19 77h0m-42-37h0m83 1h0m28-25h0m-72 10h0m20-4h0m43-27h0m-100-30h0m4 68h0m114-14h0m-61-10h0m-39 29h0m74-67h0m-1 98h0m-75-108h0m95 75h0m-117-58h0m148 14h0m-53-28h0m-57 102h0m60-27h0m-20 30h0m-86-29h0m101-98h0m-37 23h0m-8 62h0m29-76h0m3 92h0m-30 24h0m20-124h0m40 43h0m-24-35h0m-67 31h0m107 71h0m-118 11h0m-3-109h0m84-4h0m-62 30h0m44 49h0m-47-70h0m18 25h0m-36-24h0m106 86h0m-114-44h0m-1 33h0m48 30h0m-19-10h0m-10-109h0m73 25h0m20 56h0m39-46h0m-51-17h0m-60 115h0m17-108h0m-30 9h0m14 106h0m83-36h0m-75-11h0m103-32h0m-159 13h0m39 15h0m58-74h0m-12-21h0m-28 22h0m74 63h0m7-19h0m-83-15h0m-54 8h0m139-3h0m-77 23h0m-50 12h0m128-17h0m-94-82h0m54 61h0m-52-42h0m-3 47h0m36-70h0m-8 1h0m-60 115h0m57 23h0m-34-97h0m5 25h0m-26-16h0m11 1h0m46-43h0m66 81h0m-98-23h0m20-64h0m11 17h0m-3 58h0m67 44h0m-63 10h0m-5-33h0m-13 2h0m-55-37h0m78-5h0m78 6h0m-119-46h0m60 121h0m53-34h0m-43 5h0m31-3h0m-50-34h0m-21-53h0m-32 120h0m-25-36h0m143-17h0m-66-38h0m5 29h0m55-4h0m-4 38h0m-49-18h0m23-68h0m2 83h0m-111 6h0m76 3h0m22-99h0m-1 112h0m-52-71h0m62-18h0m-94-10h0m133 22h0m-101-22h0m-35 31h0m57 82h0m51-22h0m-83-115h0m98 109h0m-96-88h0m108 30h0m-128 68h0m20-49h0m43 44h0m30-67h0m-17 78h0m8-61h0m-47 88h0m-48-114h0m21-34h0m17 28h0m0-33h0m93 66h0m-36 35h0m-65 0h0m116-51h0m-25-37h0m4 88h0m-89-31h0m22-23h0m40-43h0m2 4h0m20 19h0m-50 94h0m-31-119h0m57 62h0m-36 81h0m21-5h0m-71-36h0m1-12h0m59-12h0m-12-68h0m61 86h0m-35-94h0m10 64h0m-60-68h0m49 43h0m-30 37h0m-17 64h0m15-94h0m13 31h0m78 1h0m-86 49h0m-3-98h0m14 58h0m-44 47h0m53-74h0m41-41h0m-26 31h0m-69 32h0m101 12h0m-33 27h0m-62-45h0m54-16h0m-33 27h0m69-71h0m27 28h0m-73 15h0m42 11h0m-84-76h0m46 144h0m27-8h0m-55-140h0m67 98h0m-32 5h0m-38-58h0m-67 34h0m142-21h0m-117 26h0m53 51h0m9-80h0m-56 36h0m12-44h0m51 52h0m47-23h0m-75 18h0m76-73h0m-123 99h0m22 18h0m97-86h0m-86-47h0m1 93h0m-15-27h0m90-53h0m-80 31h0m-36 5h0m32 84h0m-15-17h0m27-90h0m-15 54h0m39-74h0m27-8h0m-46 122h0m13-8h0m35-85h0m-13 105h0m35-4h0m2-17h0m-111-82h0m42 48h0m57 20h0m48-32h0m-140-52h0m30 71h0m87-19h0m-36 2h0m26-2h0m-89-46h0m38 83h0m-28-69h0m2 112h0m-3-15h0m70-21h0m-59-4h0m-7-31h0m57-17h0m-13 80h0m38-80h0m-115-38h0m56 28h0m-61 46h0m131-13h0m-107 35h0m112-82h0m-122 48h0m-3-34h0m72 66h0m57-70h0m-31 20h0m-65 90h0m7-47h0m38-106h0m-10 3h0m-44 78h0m63 17h0m-87-16h0m-19-5h0m-2 24h0m113-64h0m-39 63h0m-20 2h0m49-14h0m-71-51h0m-4 105h0m19 1h0m-32-58h0m-7-31h0m68-32h0m37 107h0m-26-112h0m-34 44h0m73-15h0m-102 69h0m67 1h0m42-66h0m-28-46h0m-51-11h0m-26 66h0m94-30h0m31 25h0m-114-9h0m18 9h0m35 79h0m-34-109h0m-2 126h0m6-131h0m89 24h0m-43 69h0m-13-94h0m-88 23h0m142 52h0m-118-53h0m10-41h0m64 57h0m-51-41h0m-33 20h0m124 26h0m-43 0h0m-29 53h0m63-61h0m-76 73h0m65-12h0m-103-23h0m-24-13h0m105-4h0m-16-51h0m-1-13h0m-82 107h0m48-88h0m68 86h0m11-44h0m-74-60h0m30 83h0m-51-43h0m-10 0h0m20 27h0m47 16h0m35-80h0m-92 49h0m22 25h0m39-70h0m-12 32h0m14 68h0m-43-90h0m-30 95h0m29 27h0m-29-51h0m88 12h0m-107 5h0m80-7h0m-54 5h0m14-39h0m-29 17h0m22-80h0m72-11h0m-61 124h0m-13-24h0m-41-6h0m93-25h0m23 58h0m-17-87h0m40 74h0m-21-98h0m37 35h0m-138-11h0m-3 12h0m45 17h0m27-52h0m49 1h0m-60 62h0m48-11h0m5 29h0m-51 22h0m69-16h0m-87 39h0m53-71h0m7 9h0m-61-78h0m49 87h0m-76-32h0m89 13h0m-79 8h0m71 19h0m-65 27h0m65-67h0m-84 77h0m80-114h0m-13-12h0m14 110h0m40-65h0m-89 45h0m-8-14h0m85-69h0m14 28h0m-29-16h0m-52 25h0m42-2h0m-93 25h0m50-2h0m-36-24h0m18 101h0m0-118h0m108 34h0m-5 10h0m-143 26h0m125 2h0m-97-47h0m55-33h0m26 69h0m-11 36h0m-49 9h0m23-93h0m-40 99h0m-23-14h0m-4-39h0m118-30h0m-93 55h0m83-41h0m-23 7h0m-96-18h0m30-2h0m-13 60h0m28-94h0m75 78h0m-40 6h0m-52-76h0m77 61h0m-1 39h0m28-122h0m-17-12h0m-84 123h0m100-33h0m14-58h0m-86-28h0m86 83h0m-27-61h0m-51 115h0m-20-127h0m-15 67h0m7-66h0m105 3h0m-47-28h0m-96 132h0m106 14h0m-126-65h0m33-71h0m83-16h0m51 30h0m-115 129h0m119-50h0m-67 54h0m26-158h0m-64-6h0m-62 74h0m136 72h0m-82 23h0m37-1h0m45-18h0m-102-131h0m-23 36h0m12 96h0m-29-59h0m23-64h0m103-20h0m1 152h0m-14-160h0m72 78h0m-151-53h0m121 113h0m-47-134h0m49 26h0m24 45h0m-177-7h0m174-1h0m-42 81h0m1-134h0m-48-12h0m-1 168h0m-26-170h0m-46 57h0m-9 12h0m-4 8h0m172 17h0m-110-89h0m-56 69h0m110 85h0m-52 11h0m47-166h0m65 69h0m-95 100h0m92-83h0m-171 23h0m174-63h0m-38 100h0m40-94h0m-8-1h0m-121 105h0m-33-29h0m117-122h0m-68-5h0m-459 1046h0m-47 26h0m117-45h0m-110 14h0m41 46h0m-6-1h0m-5-74h0m72 52h0m-68-20h0m3 47h0m-57-38h0m143 2h0m-141 26h0m105-64h0m-26 95h0m-18-108h0m-70 91h0m58-84h0m116 21h0m-21 10h0m-92-6h0m-11 9h0m28-54h0m27 14h0m-4 71h0m-75-20h0m71-43h0m-60 65h0m35-44h0m17 54h0m-28-51h0m92 27h0m-98-63h0m-19 44h0m47-12h0m8 22h0m-42-34h0m41 27h0m-36 57h0m-18-76h0m61 60h0m20-74h0m-75-7h0m111 12h0m-2 48h0m-134-13h0m57-45h0m-69 50h0m94-65h0m4 102h0m30-28h0m-52 35h0m48-93h0m-119 33h0m155-25h0m-102 28h0m-38-1h0m52 62h0m-57-82h0m47-3h0m-36 64h0m-28-3h0m100-86h0m-8 14h0m-51 58h0m115-54h0m-115 67h0m71-39h0m-71-44h0m-5 74h0m63-3h0m30-42h0m-91 18h0m82-43h0m-3 83h0m-84 24h0m22-1h0m63-19h0m-77-85h0m-37 100h0m21-69h0m19 40h0m-24-40h0m99 14h0m14-37h0m-77 85h0m-12-35h0m19-3h0m35-8h0m11-16h0m-17-3h0m29-16h0m14 21h0m-38 42h0m-72 25h0m106-61h0m-39-11h0m-72 70h0m-20-43h0m86-30h0m81 2h0m-76 19h0m-39 16h0m120-8h0m-127-33h0m73-23h0m18 87h0m-71-42h0m83 24h0m-70-4h0m62-28h0m-20 23h0m-22 1h0m9-51h0m-6-19h0m-40 38h0m78-6h0m-75 2h0m-10 37h0m8 39h0m114-52h0m-72 3h0m-93-9h0m19-45h0m65 105h0m15-31h0m-41 16h0m91-39h0m-155 16h0m96 22h0m-21-38h0m13-51h0m-45 36h0m22 55h0m47-52h0m-89 4h0m121-37h0m-114 83h0m102-30h0m-53-67h0m-32 100h0m21-9h0m45-86h0m-59 76h0m-25 15h0m133-45h0m-99 50h0m-63 14h0m22 1h0m114-23h0m-19-44h0m-47 38h0m-32-1h0m37-10h0m-4 14h0m18-33h0m-92 4h0m117 24h0m-31 15h0m-36-84h0m80 51h0m-23-30h0m8-24h0m-31 10h0m14 90h0m3-79h0m-54 58h0m63-76h0m-60 87h0m-26 18h0m106-26h0m-70-44h0m53 39h0m-45-71h0m16 43h0m75 2h0m-145-13h0m89-23h0m-83 38h0m9-41h0m80 77h0m-44-96h0m-17 42h0m101 1h0m-5-12h0m-70 57h0m94-31h0m-154-12h0m62-35h0m-32-2h0m91 69h0m-34-20h0m19-36h0m-76 65h0m43-78h0m-51 58h0m29-17h0m-61 22h0m20 5h0m-29 5h0m136 0h0m-64-25h0m52-36h0m-23-5h0m21-8h0m-7 9h0m14-19h0m1 30h0m-43 9h0m1 73h0m12-72h0m-88 67h0m22-78h0m31-30h0m23 97h0m58-40h0m-24-16h0m-98 36h0m12 12h0m6-29h0m57-64h0m55 68h0m-64-67h0m-88 108h0m46-84h0m8 36h0m28-20h0m-41 55h0m-29-48h0m18 36h0m56 1h0m52-21h0m-22-40h0m30 47h0m-147 19h0m123-26h0m-35 3h0m-65 7h0m69 37h0m16-89h0m-22 2h0m-51 24h0m81 54h0m-27-35h0m-46 38h0m7-50h0m-35 16h0m49-55h0m9 54h0m93-36h0m-23 27h0m-35 45h0m39-30h0m-51-51h0m2 78h0m-27-7h0m-61 1h0m94 7h0m65-52h0m-109 30h0m-6 26h0m0-80h0m7 60h0m-29-76h0m35 101h0m49-78h0m-113 55h0m20 16h0m32-79h0m44 47h0m-49 47h0m77-109h0m-39 41h0m-26-13h0m-54 66h0m114-81h0m11 69h0m-12-21h0m-28-46h0m-13 22h0m42 49h0m-90-33h0m106-34h0m23 49h0m-99 9h0m-7-55h0m-54 60h0m59-92h0m12 18h0m-71 72h0m117 14h0m-64-80h0m59 34h0m-8 50h0m-11-19h0m78-35h0m-19 15h0m-105-2h0m8-57h0m89 75h0m-142-15h0m56 25h0m-61-9h0m48 10h0m-10 15h0m-29-37h0m27-42h0m40 32h0m15 31h0m40-58h0m-4 46h0m-5-75h0m-108 63h0m96 13h0m-37-65h0m41 23h0m20 25h0m-46-50h0m52 63h0m-22-9h0m-54-7h0m-44-27h0m43-34h0m31 76h0m26-44h0m-4 31h0m-110 11h0m147 12h0m-36-51h0m-95 36h0m-7 28h0m152-36h0m-3-15h0m-14 23h0m-122-28h0m18 50h0m56-48h0m-64-8h0m87 64h0m-87-19h0m96-68h0m23 68h0m-107-43h0m11 35h0m119-24h0m-12 15h0m-119-41h0m81 17h0m-48 27h0m-36-23h0m104 8h0m19 0h0m-53-40h0m28 78h0m-43 19h0m-58-86h0m83 15h0m-101 20h0m35-37h0m71-14h0m-76-7h0m99 20h0m-45 80h0m-3-76h0m-40 73h0m13-24h0m20-10h0m-18 38h0m-8-20h0m51-9h0m-92-12h0m110 31h0m-92 26h0m55-81h0m49 16h0m-130-32h0m56 50h0m-5 23h0m16-33h0m19 12h0m60-25h0m-97-12h0m-41 24h0m73 28h0m42-51h0m-112-11h0m-2 14h0m98 48h0m-92 19h0m-9-42h0m-5 32h0m88-98h0m48 62h0m-32 32h0m-48-83h0m24 42h0m1 20h0m-54 37h0m112-39h0m-117-48h0m31 18h0m61 50h0m-115-23h0m71-3h0m-81-20h0m47-34h0m49-6h0m-20 25h0m38 57h0m-23 9h0m-47-18h0m-8-8h0m6-10h0m-10 35h0m66-21h0m52-38h0m-124-7h0m-26 56h0m105 19h0m11-56h0m-114 34h0m43-10h0m47 7h0m-54-79h0m-32 74h0m130-37h0m-14-7h0m-1 48h0m-29-22h0m-88 36h0m16-71h0m103 49h0m-69 13h0m106-50h0m-164 17h0m127 35h0m-103-69h0m128 30h0m-89-28h0m-68 90h0m109-60h0m-47 16h0m-42 17h0m52-65h0m-71 49h0m5 38h0m43 4h0m38-98h0m-38 84h0m91-48h0m-85 17h0m27 46h0m34-64h0m-69-6h0m-21 35h0m125-24h0m-52 55h0m-87-60h0m79 70h0m-2-2h0m-71-12h0m61-74h0m-23 79h0m-29-62h0m-4 29h0m25 28h0m64 3h0m-90 19h0m-3-107h0m86 95h0m-74-108h0m-10 120h0m29 2h0m-4-125h0m-32 21h0m-27 78h0m147-1h0m-114 28h0m91-129h0m-96 24h0m141 68h0m-135-84h0m118 96h0m3-99h0m10 88h0m5-81h0m-167 75h0m145-84h0m50 37h0m-3-11h0m-191 58h0m42 45h0m14-4h0m-56-44h0m190-47h0m-135 90h0m-36 0h0m171-68h0m-47 47h0m51-41h0m-52-61h0m-114 12h0m-28 58h0m22 55h0m56-134h0m18-3h0m-76 132h0m-20-12h0m3-5h0m72 17h0m-31-119h0m14 125h0m-51-80h0m165 31h0m-166 32h0m105-113h0m-7 118h0m846-80h0m-5 27h0m-3-52h0m122 34h0m-126 45h0m30 4h0m99-44h0m-75-66h0m-37 109h0m3-16h0m12-22h0m38-2h0m-2-5h0m-2-22h0m12 22h0m75-31h0m-71-1h0m-30 47h0m-39-92h0m27 66h0m2-20h0m-80 25h0m89-13h0m-61-15h0m9-22h0m-2-15h0m40 10h0m104 61h0m-55-31h0m-23-33h0m-9 94h0m-27-4h0m-11-83h0m125 49h0m-145-17h0m22-7h0m-4 2h0m43 18h0m-29-13h0m31 20h0m-7-57h0m43 50h0m-120 30h0m-13 31h0m77-57h0m96-23h0m-159 45h0m24-85h0m56 132h0m-43-31h0m43-18h0m-29-27h0m-20 55h0m15 3h0m13 12h0m-30-18h0m48-68h0m-37 29h0m52-52h0m-61 42h0m122-36h0m-28 59h0m-57-13h0m-51-17h0m94-5h0m-63-38h0m22 126h0m51-90h0m-67 24h0m43-13h0m-74 2h0m83 42h0m-103-10h0m139-35h0m-48 33h0m-91 3h0m80 20h0m-29-84h0m24-12h0m-84 104h0m62-83h0m-38-17h0m12-22h0m67 13h0m-59 107h0m51-74h0m-47 37h0m44-35h0m-10 0h0m14-42h0m31 41h0m28 24h0m-86 61h0m43-32h0m-107-29h0m112-55h0m-45 12h0m-21 56h0m-36 0h0m17-33h0m22-24h0m-50 11h0m8 89h0m149-89h0m-78-25h0m-44 30h0m27-15h0m-56 82h0m13-73h0m6 0h0m60 81h0m-31 17h0m-43-52h0m37 41h0m-10-49h0m72-10h0m53-34h0m-147 86h0m38-41h0m-8 13h0m54-34h0m-87 59h0m33-55h0m20-54h0m64 81h0m-72-41h0m58 31h0m-62-82h0m83 83h0m-66-32h0m-20 20h0m10 60h0m80-81h0m-86-39h0m-22 40h0m5 70h0m41-92h0m81 8h0m-104 0h0m-28 110h0m31-28h0m-64-34h0m81-85h0m-43 73h0m58 27h0m-32-20h0m70 3h0m-15 12h0m48-29h0m-148-19h0m-6 49h0m28 28h0m22-53h0m-12 77h0m13-83h0m70 6h0m-66-35h0m-10 86h0m76-71h0m-8-30h0m-118 50h0m61 37h0m-34-107h0m71 84h0m-85 40h0m31-21h0m75-70h0m-106-7h0m106 6h0m5-3h0m-108 86h0m-8-12h0m-5 12h0m-14-35h0m32-20h0m-32 69h0m42 13h0m31-51h0m25 27h0m67-54h0m25 6h0m-150 79h0m117-100h0m-86 8h0m-26-47h0m23 128h0m119-86h0m-16 30h0m-89-49h0m8 87h0m-66-108h0m22 57h0m129-19h0m-88 59h0m81-50h0m-121 17h0m-4-57h0m-12 120h0m23-25h0m18-118h0m42 111h0m-122-9h0m132-2h0m-93-12h0m-33 20h0m62-36h0m-6-46h0m23 117h0m-8-143h0m-33 117h0m-5 34h0m18-86h0m33 28h0m36 16h0m-5-5h0m-1-7h0m-10-56h0m52 51h0m-108-15h0m5 62h0m123-90h0m-66 29h0m-74 4h0m6-43h0m1 108h0m-6 4h0m17-140h0m25 29h0m-49 24h0m-23 44h0m9-16h0m75 19h0m62-55h0m-33-13h0m-74 46h0m-18-19h0m105-33h0m0 31h0m-85-4h0m94-7h0m-27-2h0m-24 69h0m51-57h0m29 20h0m-9-53h0m7 47h0m-90 47h0m-7-53h0m14-53h0m-13 129h0m-3-112h0m-3 111h0m62-60h0m-91 62h0m54-9h0m13-97h0m-83 2h0m40 48h0m-67 26h0m100-26h0m-28 24h0m-4 11h0m-40-61h0m-31 45h0m32-13h0m117-37h0m-49-57h0m9 32h0m-15 9h0m67 25h0m-55 27h0m47-70h0m-94 66h0m15-61h0m-39-1h0m161 35h0m-88 36h0m-27-95h0m24 46h0m-92 49h0m98-82h0m-54 55h0m-18-50h0m-1 20h0m11 26h0m58 23h0m90-21h0m-117-69h0m-34 29h0m-36 104h0m53-84h0m60-13h0m-83-30h0m81 88h0m-40 18h0m-55-40h0m-7 59h0m26-74h0m123 3h0m-32 31h0m-76-84h0m-21 71h0m16 18h0m-50 28h0m93-105h0m-58 60h0m108-31h0m-135 57h0m89-81h0m98 35h0m-128 42h0m5 12h0m115-80h0m-146 44h0m147-34h0m2-2h0m-62 38h0m-72 21h0m-13 19h0m-32-27h0m142-20h0m-1-41h0m29 17h0m-90-53h0m-27 112h0m-63 14h0m139-42h0m-43-10h0m-31-50h0m78 55h0m-29 46h0m-25-121h0m-86 90h0m110-48h0m-88 105h0m-10-41h0m48-16h0m97-38h0m-78 43h0m30-16h0m-76-23h0m15-56h0m-42 132h0m20-11h0m26-3h0m20 9h0m1-73h0m-11 48h0m-50 37h0m75-106h0m100 7h0m-79-33h0m-30-3h0m100 34h0m-8 10h0m-106 13h0m56-36h0m17 2h0m-51 53h0m-30 20h0m-46-3h0m81-85h0m94 49h0m-117-53h0m50 55h0m36 6h0m-31 5h0m-87 30h0m-12-34h0m163-35h0m-88 17h0m-105 37h0m85-82h0m-88 87h0m67-65h0m117 30h0m-44-17h0m-55-6h0m5 93h0m-40-76h0m55 54h0m89-49h0m-144-32h0m45 24h0m-29-52h0m110 57h0m-40-5h0m-82-2h0m86 27h0m-31 17h0m27-53h0m-84 62h0m61-49h0m-86 81h0m95-76h0m-14 50h0m-83-4h0m39-94h0m-48 46h0m160 20h0m-164 34h0m133-18h0m-48-15h0m11-70h0m-6 115h0m-34 21h0m-35-91h0m66 33h0m-65 23h0m4-19h0m90-6h0m-81 41h0m-4-86h0m100 49h0m30-33h0m-23-28h0m46 17h0m-125 60h0m-63-5h0m35-71h0m-7 66h0m74-87h0m-68 35h0m97 22h0m9-23h0m-49 92h0m-85-61h0m46 54h0m89-89h0m-50 26h0m-16-9h0m89 11h0m-104 45h0m45-80h0m-82 70h0m112-20h0m-82-60h0m26 84h0m12 35h0m-62-59h0m26-18h0m4-55h0m84 31h0m-121 42h0m7 31h0m74 5h0m-111-23h0m43 18h0m135-79h0m-120 87h0m87-52h0m51-4h0m-6-5h0m-125-58h0m-22 48h0m92 2h0m-81-2h0m60-5h0m15 44h0m-77-72h0m34 7h0m-24 16h0m100-4h0m-94 45h0m33 45h0m-90-38h0m94 11h0m73-28h0m-119-22h0m-47 30h0m56-79h0m37 127h0m8-74h0m32-25h0m-24-5h0m-52 4h0m62 5h0m-44 61h0m-7 53h0m-46 4h0m72-117h0m-59 115h0m-12-44h0m3 7h0m-34 27h0m86-99h0m63 6h0m-2 17h0m-111-52h0m42 81h0m14-29h0m-66 13h0m35-9h0m75-6h0m2 37h0m-78-97h0m120 37h0m-110-28h0m-13 109h0m63-66h0m75-13h0m-54 2h0m-91 66h0m30 15h0m-80-17h0m74-18h0m18-10h0m-48 35h0m58-8h0m-66-32h0m-34 31h0m38-7h0m112-27h0m-70 7h0m83-45h0m-112-23h0m89 76h0m-14 6h0m41-46h0m-144 3h0m1 57h0m58-48h0m93-23h0m23 2h0m-2 33h0m-2-20h0m-203 84h0m-3 0h0m109 15h0m15-11h0m-78 23h0m49-8h0m26-20h0m-51-141h0m-66 138h0m141-110h0m34 13h0m-119 129h0m-19-1h0m157-125h0m-187 24h0m23 99h0m73-156h0m-83 155h0m13-139h0m97-5h0m-107 138h0m108-33h0m-138 9h0m25-87h0m161 51h0m-113-96h0m107 35h0m-181 93h0m24-85h0m124-24h0m73 41h0m-168-60h0m105 111h0m34-76h0m-39 75h0m-130-61h0m1-8h0m131-15h0m59 33h0m-207 79h0m29-110h0m-11 25h0m98-48h0m-12-5h0m-95 157h0m195-117h0m-141 945h0m82 48h0m0-26h0m-46 29h0m-53 57h0m34-114h0m93 91h0m-135 18h0m78-34h0m-10-9h0m-73-33h0m100 5h0m-66 70h0m40 1h0m17-52h0m-85 49h0m7 8h0m-25-41h0m62 26h0m-37-39h0m85 48h0m-107-55h0m86-11h0m-31-12h0m16 57h0m-93-8h0m39 22h0m-1 21h0m104-94h0m-91 38h0m20 69h0m36-75h0m29-18h0m5 39h0m-72-83h0m-53 46h0m134 37h0m-3-18h0m-58-23h0m-55 12h0m122 37h0m-87 20h0m-54-62h0m43 89h0m25-56h0m61 8h0m-70 23h0m34-106h0m7 105h0m-18-89h0m-48-25h0m23 27h0m-36 3h0m-30 31h0m7 37h0m29-60h0m-9 13h0m97 15h0m-33-58h0m-15 68h0m7 12h0m35 18h0m10-21h0m-135-6h0m162 5h0m-128 11h0m47-46h0m66 54h0m-77-31h0m93 5h0m-142-26h0m38 21h0m40-69h0m14 6h0m-78 119h0m120-40h0m-19 17h0m11-28h0m-85-36h0m11 17h0m62 31h0m-83 29h0m44-90h0m-63 52h0m-18 7h0m53-76h0m96 49h0m-2-1h0m-166 33h0m71-41h0m-62 47h0m36-66h0m90 4h0m-59 5h0m9 41h0m22-84h0m-84 88h0m70-44h0m-71 55h0m89-67h0m-16 74h0m31-57h0m-83 56h0m62-80h0m17 94h0m-56-62h0m-10-40h0m20 80h0m-67-17h0m144-12h0m-98 41h0m102-17h0m-105-78h0m108 26h0m-112-22h0m29 60h0m-14-12h0m49 47h0m-36-83h0m-23 22h0m31 6h0m-26-41h0m-27 93h0m94-56h0m-73 56h0m42-97h0m-44 36h0m8 8h0m91-15h0m10 21h0m-39 29h0m-97-53h0m55 32h0m68 14h0m-78-89h0m-6 56h0m24 80h0m45-42h0m-79 36h0m-14-101h0m126 78h0m-38-87h0m-55 50h0m1 32h0m34 18h0m-48-118h0m-2 9h0m42 96h0m26-30h0m-102-11h0m85 68h0m32-56h0m-8-44h0m-58 17h0m33 14h0m-58-18h0m110 5h0m-33-35h0m8 20h0m-46-12h0m7 11h0m-49 21h0m53-51h0m81 59h0m-89-35h0m-15 106h0m11-87h0m-41 29h0m17-44h0m58 17h0m-34 9h0m-66 25h0m9-14h0m138 11h0m-148-19h0m142 8h0m-83-56h0m-6 79h0m55-67h0m-32 52h0m-1-64h0m49 32h0m-54-29h0m26 82h0m-20-21h0m-15-87h0m77 73h0m-112 67h0m70-115h0m38 75h0m-84 11h0m2 37h0m29-36h0m-68-48h0m48-12h0m46 35h0m-76 56h0m84-109h0m-3 5h0m-57-25h0m93 71h0m-111 17h0m56-50h0m3 20h0m-2-13h0m-101 54h0m33 6h0m40-70h0m-30-7h0m36-41h0m-31 55h0m79 74h0m27-31h0m-61-41h0m12-1h0m37 40h0m20-11h0m-130-42h0m-23 72h0m102-21h0m-85-66h0m85-4h0m-58 43h0m74 39h0m-92-47h0m68 42h0m58 10h0m-71-32h0m40-33h0m-79 103h0m13-65h0m90-20h0m-89 37h0m8-70h0m-36 111h0m-32-9h0m133-90h0m-45 3h0m-4 73h0m39-72h0m43 36h0m-136 34h0m17-64h0m115 39h0m-169 43h0m2-47h0m80-26h0m-44 18h0m81-30h0m5 51h0m-18-78h0m-53 104h0m19 9h0m33-43h0m16-14h0m-29-69h0m31 60h0m-79-21h0m130 36h0m-81-49h0m-73 54h0m110-48h0m-38 24h0m37 17h0m-60-14h0m47 52h0m-75-37h0m-36-6h0m123-30h0m-56 81h0m-31 11h0m130-35h0m-171 14h0m42-95h0m-45 81h0m2-7h0m49-85h0m-13 102h0m91-56h0m-76 35h0m69-65h0m-69 115h0m41-77h0m-16-58h0m-82 103h0m109-14h0m19-53h0m-73 103h0m-23-104h0m72 65h0m-71 2h0m40 7h0m12-88h0m94 58h0m-130-75h0m7 130h0m-12 5h0m4-135h0m33 26h0m-69 30h0m94 41h0m-71-83h0m107 92h0m-79-65h0m22 32h0m16-72h0m-45 77h0m-31 42h0m51 9h0m-72-15h0m98-15h0m-11 0h0m65-11h0m-34-6h0m60-7h0m-70-12h0m-97-1h0m-9 48h0m94-32h0m9 0h0m-71 38h0m125-23h0m-71-41h0m-43-14h0m-20-14h0m48 6h0m-43 10h0m36 11h0m-68 23h0m75 16h0m-42-45h0m92 12h0m-93 16h0m100 7h0m-5 9h0m-19-32h0m-24 58h0m-13-54h0m76-8h0m-113 30h0m51-51h0m-29-9h0m11 72h0m-47-26h0m53 54h0m-41-36h0m-5 27h0m40-42h0m103 16h0m-164 5h0m72-81h0m42 6h0m-72 66h0m61-79h0m-21 29h0m5 3h0m20 2h0m-25 39h0m27 30h0m-97-2h0m28-70h0m4-2h0m30-45h0m11 94h0m-68 2h0m80 31h0m41-18h0m-76-87h0m23 67h0m-20-80h0m-41 118h0m102-77h0m-84 38h0m47-44h0m-26 67h0m-5-101h0m38 8h0m-85 47h0m-5 68h0m21-26h0m60 5h0m33-28h0m-1 8h0m-98-16h0m22 44h0m100-59h0m-28 50h0m-50-57h0m-72 31h0m176 18h0m-134-54h0m121 58h0m-109-65h0m-32 48h0m61 40h0m-88-37h0m115-66h0m-84 66h0m102-29h0m-120 25h0m135 21h0m-18 8h0m-27-110h0m3 14h0m-92 92h0m124-86h0m-101 32h0m70 74h0m62-53h0m-104 60h0m98-86h0m-101 73h0m57-53h0m-42 5h0m31-69h0m-17 126h0m73-41h0m1-42h0m-35 35h0m47 2h0m-8 12h0m-112-46h0m-24 45h0m42-54h0m38 56h0m-41-76h0m-32 36h0m120 29h0m-72-41h0m46 54h0m7-63h0m-85 97h0m42-106h0m59 44h0m-149 36h0m-5-20h0m62-32h0m39 2h0m-45-17h0m106 32h0m-58-72h0m-89 95h0m45-90h0m-45 96h0m70-92h0m5-17h0m-43 70h0m87 8h0m-13 15h0m-84 12h0m118-50h0m-56 38h0m53 3h0m-13 0h0m-57-12h0m-12-45h0m25 24h0m-8 80h0m-35-25h0m4 35h0m-18-111h0m56 47h0m32-27h0m-19-35h0m-54 99h0m117-38h0m-128-24h0m21 96h0m-11-156h0m94 122h0m41-23h0m-190 14h0m185-6h0m-40 19h0m24-76h0m-174 51h0m41 47h0m124-30h0m-147-66h0m139 68h0m-46-124h0m43 124h0m29-60h0m-42-43h0m-51 135h0m-42-145h0m101 17h0m-69-44h0m129 103h0m-19 17h0m-91 46h0m75-33h0m-120-106h0m-24 23h0m161 72h0m-108 49h0m42-141h0m55 97h0m-101-128h0m-2 6h0m39 18h0m-117 100h0m156-70h0m39 38h0m-92-75h0m100 77h0m-122-95h0m73 53h0m-146 87h0m82 30h0m63-118h0m31 75h0m-174-32h0m10-23h0m6 91h0m1-97h0m27 107h0" stroke="#6CC164" stroke-width="5.5"/>
<path d="M719 905h0m28-114h0m-40 61h0m59-89h0m-28 147h0m3-136h0m3 141h0m-13-18h0m-16 0h0m9-84h0m48 113h0m7-62h0m-45 31h0m23 28h0m19-157h0m-47 121h0m-27 4h0m32-12h0m-3 67h0m36-181h0m-26 56h0m-19 95h0m59-115h0m-50 75h0m0 17h0m17 23h0m-33-69h0m-12 30h0m38-57h0m-33 26h0m76 0h0m-51 72h0m-2-167h0m18 133h0m8-84h0m41 37h0m-18 62h0m-9-92h0m-60 145h0m66-38h0m-8-87h0m8 95h0m-45-27h0m-17 45h0m13-56h0m49-65h0m-19-2h0m-40 122h0m7-36h0m-14 0h0m37-14h0m-5-61h0m-20 30h0m48-96h0m26 72h0m-64 61h0m30 54h0m-36 9h0m-23-79h0m25 2h0m-18-6h0m46-24h0m-7-87h0m30 128h0m-42-6h0m-4-62h0m-21 48h0m38-19h0m-60 25h0m46-8h0m16 75h0m-31-43h0m62-136h0m13 81h0m-84 78h0m46 22h0m21-31h0m-36 43h0m22-165h0m11 45h0m-30 92h0m12-176h0m-10 158h0m-7-121h0m34 136h0m-3-68h0m15 55h0m-62 16h0m54-167h0m2 111h0m-25 58h0m11-151h0m-6 52h0m-40 44h0m-4-6h0m47-94h0m-63 115h0m37-126h0m16 51h0m9 84h0m-37-95h0m6-36h0m24 62h0m21-4h0m-40 22h0m28-60h0m-14 11h0m30 87h0m-44 57h0m-8-42h0m24-66h0m-35-2h0m46 52h0m-50-58h0m-13 107h0m13-105h0m10 89h0m57-51h0m-34-110h0m-20 62h0m40 65h0m-42 51h0m32-95h0m-30-1h0m-6 45h0m33 67h0m-24-32h0m29-28h0m-21-66h0m21-41h0m-32-17h0m3 133h0m28-26h0m11-82h0m7 106h0m-3-136h0m-48 92h0m21-94h0m28 42h0m-31-39h0m6 1h0m-30 144h0m-5-81h0m23 32h0m0 65h0m-39 0h0m47-98h0m9 101h0m39-100h0m-16 72h0m-11-129h0m-21-28h0m49 136h0m-61-125h0m8 128h0m8-34h0m38-24h0m-67 77h0m14-59h0m-8-10h0m10-85h0m9 111h0m-14-72h0m-10 58h0m-9 59h0m20 48h0m21-133h0m-33 54h0m32-66h0m-10 45h0m28-103h0m-54 165h0m18 14h0m-3-127h0m31-45h0m-39 52h0m54 105h0m-19-163h0m13-2h0m-15 112h0m33 19h0m-19-13h0m-37 22h0m-38 23h0m40-7h0m-7-67h0m7-73h0m-13 137h0m57-16h0m-32-123h0m45 100h0m-60-5h0m48-92h0m3 77h0m-55 45h0m61-40h0m-26-23h0m10-63h0m-4 13h0m-18 8h0m-26-8h0m0 95h0m19-45h0m6 101h0m-24-58h0m14 88h0m-17-63h0m45-27h0m10-44h0m-12 12h0m-11 29h0m-18-16h0m-25 59h0m52-41h0m-16-53h0m23 105h0m-74-4h0m49-39h0m-46 34h0m51 30h0m38-46h0m-62 58h0m39-147h0m16 97h0m-42-101h0m3 134h0m-39-4h0m77-55h0m-34 27h0m-1-16h0m28-95h0m-37 31h0m6 43h0m-18-74h0m66 94h0m-93-20h0m23 68h0m-28-46h0m57 71h0m12-29h0m12-74h0m-67 1h0m19-6h0m-18 46h0m25-49h0m15 108h0m1-186h0m-29 45h0m44 134h0m-23-77h0m22 4h0m-9 72h0m-55-15h0m-9-8h0m73-69h0m-12 53h0m-57 8h0m38-102h0m40-16h0m-21 58h0m-27 33h0m13-98h0m47-13h0m-44 135h0m19-116h0m-15-1h0m40-16h0m-61 121h0m38 14h0m-15-158h0m25 37h0m-45 148h0m-25-27h0m72-101h0m1 10h0m-56 47h0m51-26h0m-27-21h0m20 111h0m-25-113h0m8 37h0m4 50h0m-4 41h0m26-5h0m-29-170h0m-19 91h0m-4 50h0m75-74h0m-41 85h0m-15-145h0m-49 127h0m42-158h0m37 35h0m7 64h0m-16-7h0m-44 34h0m12-33h0m29-34h0m-30 126h0m25-104h0m-5 10h0m-23 100h0m-11 5h0m69-12h0m-77-83h0m1 48h0m7-31h0m51-53h0m-14 34h0m40 4h0m-47-55h0m8 81h0m-12-121h0m4 87h0m-25-8h0m-21 79h0m16 7h0m63-128h0m12 55h0m-53 12h0m57-15h0m-51-44h0m40 47h0m-70 74h0m78-33h0m-13 5h0m1 20h0m-70 3h0m37-104h0m31 59h0m-16-121h0m2 10h0m3 144h0m-63-7h0m72 13h0m11-48h0m8 15h0m-50-56h0m-37 91h0m8-31h0m61 9h0m-29-84h0m14 82h0m-39 59h0m36 2h0m17-140h0m-55 42h0m24-108h0m41 111h0m-43 47h0m12-112h0m-6 157h0m12-119h0m-25-39h0m7 160h0m24-43h0m-15-27h0m-34-22h0m-7 50h0m41-110h0m18 101h0m-44 9h0m36-14h0m-21-61h0m-21 59h0m19-126h0m-1 99h0m35-38h0m-88 43h0m103 85h0m7-196h0m-11 182h0m-24 29h0m52-140h0m-104 149h0m-19-106h0m118-47h0m-120 84h0m109-103h0m-79 15h0m-22 37h0m100 42h0m5-31h0m-85-63h0m8 168h0m-39-35h0m69 19h0m43-150h0m-114 91h0m97 50h0m-96-58h0m31-77h0m44-85h0m21 228h0m24-129h0m-1-4h0m-77 154h0m-32-118h0m29-60h0m71 121h0m-71-120h0m63 3h0m-61-53h0m-33 180h0m-12-10h0m124-16h0m-78 59h0m0-229h0m59 2h0m-86 210h0m65-220h0m-34 63h0m-37 158h0m102-134h0m1 112h0m-95 33h0m91-172h0m-101 127h0m785-31h0m61-127h0m10 3h0m-71 136h0m92-110h0m-32 164h0m27-187h0m-35 143h0m-42-79h0m-17 38h0m78-67h0m-44 102h0m63-161h0m22 95h0m-71 74h0m31 11h0m-15 18h0m-5-177h0m2 135h0m-45-3h0m4 24h0m44-35h0m5-54h0m33 40h0m-17-55h0m-16-17h0m5-14h0m17 122h0m-19 46h0m-26-20h0m-26-82h0m42-65h0m21-24h0m-65 66h0m54 40h0m-24 10h0m46-44h0m-2-45h0m-54 145h0m14 24h0m16-99h0m9 51h0m1-163h0m-14 172h0m26-165h0m-80 166h0m33-26h0m64-117h0m-103 110h0m15-20h0m7-18h0m61-62h0m11 79h0m-78 10h0m-10 33h0m62 46h0m11-53h0m7-84h0m-46 58h0m-34 4h0m16 9h0m5 0h0m5 41h0m57-123h0m-20 14h0m-36 57h0m15-7h0m13-101h0m-5 137h0m-3-5h0m-46-56h0m-7 30h0m62-76h0m-1 18h0m31-3h0m9-19h0m-89 52h0m12 94h0m11-25h0m22-126h0m17 110h0m-19-9h0m26-61h0m-9 45h0m-30-26h0m39-77h0m33 78h0m-29-53h0m-45 1h0m38 81h0m-27-116h0m19 56h0m-34 20h0m30-86h0m-44 74h0m-8 11h0m31 85h0m-25-57h0m-1 51h0m76-84h0m-21 120h0m-27-187h0m-2 83h0m-18 30h0m29-93h0m2 37h0m-46 108h0m46-51h0m-8-90h0m-4-20h0m34 106h0m-14 13h0m-25 67h0m13 1h0m41-51h0m-49-18h0m-22 8h0m56-57h0m-23-10h0m-8 105h0m-5-118h0m45 48h0m-40 68h0m-35-49h0m58-91h0m17 92h0m-13-23h0m-17-94h0m16-7h0m-19 111h0m16 51h0m26-111h0m-21-45h0m20 65h0m-10-66h0m18 19h0m-60 25h0m47-10h0m-11 123h0m-64 20h0m28-35h0m28-141h0m-32 51h0m-17 121h0m2-76h0m68 67h0m-7-55h0m24-9h0m-78-30h0m30-2h0m21 92h0m-82-52h0m71 27h0m37-92h0m-3 77h0m-70 74h0m76-91h0m-92-3h0m10 70h0m-4-49h0m-25 42h0m93-121h0m-80 77h0m25-47h0m-1-29h0m9 107h0m21-8h0m-9-28h0m-1-64h0m43-25h0m-8 90h0m-67-17h0m81-62h0m-104 119h0m16-11h0m47 43h0m-3-202h0m11 131h0m-31 31h0m-42-51h0m63 15h0m-4 46h0m1-140h0m4 28h0m-54 35h0m86 2h0m-72 60h0m24-42h0m-25 29h0m27-132h0m13 0h0m-36 175h0m41-72h0m33-74h0m9 32h0m-107 70h0m18-69h0m21 47h0m-40 38h0m30-55h0m41-68h0m-39 102h0m75-35h0m-24-66h0m-50 54h0m26-55h0m-40 75h0m5 72h0m75-35h0m-78-71h0m62 55h0m-26-129h0m9 26h0m-24 172h0m75-83h0m-23 59h0m-37-24h0m-44-51h0m37 28h0m56 16h0m-77-40h0m51-49h0m-40 137h0m48-14h0m-65-32h0m-8 48h0m28-151h0m-47 123h0m36-51h0m36 11h0m21-113h0m0 108h0m-42 46h0m22-143h0m12-20h0m4 51h0m-79 115h0m86-106h0m-70 34h0m67-60h0m-3 80h0m3 59h0m-65-74h0m11-16h0m48 81h0m4-71h0m-37-51h0m-1-26h0m37 155h0m-80-21h0m47 50h0m26-164h0m10-17h0m-43 74h0m55 39h0m-18 8h0m12-23h0m-12 62h0m37-98h0m2 21h0m-36 83h0m18-166h0m-89 198h0m-27-116h0m123-29h0m-2 101h0m-120-68h0m31-70h0m67 169h0m-35-213h0m-55 203h0m33 21h0m82-158h0m-129 112h0m73-183h0m69 138h0m-10-64h0m6 45h0m-31 80h0m13-207h0m-26 229h0m44-95h0m-79-107h0m-48 75h0m115-48h0m-67-25h0m67 172h0m-120-39h0m1676-28h0m-23 64h0m0-49h0m-7-30h0m28-10h0m5-18h0m-20 89h0m20-57h0m0 42h0m-14-47h0m-5 21h0m-11 30h0m34 2h0m-15 21h0m-2-51h0m-15 23h0m33-21h0m-1-38h0m-4 7h0m-5 64h0m-2-19h0m-24 12h0m13-78h0m9 80h0m13-14h0m-22 46h0m6-94h0m-1 86h0m15-96h0m-16-8h0m0 47h0m1 2h0m12 11h0m-17 53h0m3-86h0m6 28h0m-24-9h0m35 46h0m-17 14h0m23-40h0m-33-32h0m18 43h0m-16 8h0m4-1h0m-6-18h0m6-46h0m16 40h0m6-1h0m-28 6h0m-6-29h0m1 33h0m19-14h0m-2 23h0m-19-41h0m3-15h0m-2 72h0m10-94h0m16 81h0m-10-54h0m-1-19h0m-2349 1043h0m-43-22h0m32-41h0m-51 3h0m96 100h0m-92-27h0m33-23h0m38-91h0m-23-37h0m-58 73h0m14 117h0m-27-71h0m92 40h0m-74-104h0m92 119h0m-2-119h0m20 120h0m-57-12h0m51-82h0m-77 42h0m-25-59h0m52-3h0m-47-12h0m82 54h0m-4-8h0m-20 72h0m44-37h0m-69 56h0m40 2h0m20-109h0m-30-76h0m10 47h0m-62 18h0m72 129h0m-67-142h0m56-64h0m-20 152h0m-49-8h0m56-138h0m-74 170h0m68-170h0m-56 108h0m67 58h0m10-50h0m-36 8h0m-13 72h0m37-141h0m-83 51h0m51-32h0m58 120h0m-66-32h0m0-96h0m38 107h0m-35-118h0m44 101h0m27 6h0m-35-14h0m3 12h0m-52-158h0m66 55h0m-24 89h0m13 35h0m1-4h0m21-128h0m-46 153h0m12-23h0m3-71h0m2 21h0m-22-115h0m-18 177h0m51 11h0m-72-23h0m55-156h0m-34 78h0m64-72h0m-34 38h0m15-22h0m34 129h0m-101-99h0m45-13h0m-8-35h0m24 163h0m-56-16h0m7-19h0m-13-23h0m15-65h0m29-32h0m-47 3h0m3 98h0m91-105h0m-67 98h0m80-18h0m-47 99h0m-3-147h0m-62-23h0m10-19h0m73 12h0m-96 88h0m62 49h0m62-119h0m-48 73h0m-18 44h0m68-7h0m-28-143h0m-83 84h0m83-59h0m-47 26h0m6 114h0m-32 9h0m28-118h0m38 33h0m12-58h0m0 86h0m-93-77h0m55 102h0m-50-12h0m15-73h0m20-13h0m-38 8h0m83-33h0m-61-20h0m86 167h0m-48-150h0m27 30h0m20 103h0m-14 3h0m-32 35h0m26-171h0m13 39h0m-101 97h0m53-172h0m-37 54h0m-12-17h0m9 82h0m39 44h0m35-65h0m-31-29h0m-5 64h0m15-18h0m-69 31h0m13-103h0m35 136h0m34 20h0m-23-57h0m-19-104h0m75 12h0m-101 93h0m49-139h0m46 40h0m-3-14h0m-2 7h0m-100 88h0m76-14h0m-41 14h0m-49-13h0m115-109h0m-72 1h0m63 171h0m-107-52h0m-2 0h0m41-42h0m34 52h0m38-84h0m-1-47h0m-51 166h0m29-95h0m4 140h0m-26-69h0m-17-32h0m-33 0h0m30-97h0m19 173h0m30-12h0m-4 6h0m-31-134h0m59 24h0m-26 0h0m8 100h0m-56-55h0m2 4h0m-40-11h0m23 72h0m21-126h0m-34 92h0m53-98h0m-49 70h0m30 50h0m30-58h0m-20 84h0m-4-13h0m33 10h0m2 19h0m-11-89h0m33 55h0m-113-35h0m50 23h0m-22-19h0m17 10h0m-9-134h0m-1 69h0m6 57h0m-7-126h0m79 23h0m-51-33h0m57 75h0m-72-71h0m46 64h0m-52 9h0m-18-8h0m41-85h0m38 10h0m6 28h0m-11 104h0m-25-116h0m-62 98h0m9-10h0m95-32h0m-103 2h0m46 120h0m-46-150h0m60 40h0m-55 2h0m76-80h0m-6 153h0m-2-99h0m-85 69h0m116-10h0m-73 81h0m25-188h0m40 20h0m-30 123h0m12 45h0m9-139h0m-3-44h0m13 177h0m-63-34h0m79-53h0m-38 79h0m-49-116h0m-3 18h0m24 51h0m6 19h0m5-66h0m26-62h0m-27 106h0m-28 4h0m0-96h0m-39 110h0m117-2h0m-17-146h0m-43 151h0m-24-126h0m37 165h0m34-4h0m-56-157h0m19 43h0m-41 87h0m9 12h0m74-164h0m-21 74h0m-2-34h0m-9 18h0m-66 81h0m53-36h0m45 55h0m7-160h0m-8 25h0m-94 3h0m77 104h0m-23-155h0m51 147h0m-82 35h0m80-108h0m-38-27h0m5 99h0m-28 27h0m53-7h0m-4-78h0m-35-77h0m-62 69h0m61 63h0m13-38h0m-50-70h0m39 136h0m-35-84h0m35 130h0m-58-159h0m32 109h0m11-2h0m16 45h0m-1-82h0m-1-42h0m60 70h0m1-38h0m-72-30h0m29 99h0m-13-42h0m23-31h0m-20 92h0m17-24h0m-31 5h0m50-56h0m-97 38h0m70-96h0m-20 22h0m-2 12h0m57 82h0m-65-120h0m-43 120h0m45-45h0m-25-47h0m82 38h0m-64-49h0m10-40h0m-26 14h0m52 113h0m-72-19h0m22-39h0m16-8h0m19 28h0m5-11h0m-55-79h0m87 131h0m-76-90h0m62-58h0m-63 74h0m61 102h0m-54-64h0m-21 55h0m-15-17h0m15-127h0m84-27h0m-36-18h0m-23 121h0m6-83h0m24 37h0m12-19h0m7-22h0m-16 114h0m42-101h0m-65 113h0m1 55h0m47-108h0m-43-16h0m28-74h0m-30 104h0m-38-23h0m8 69h0m6-139h0m3 27h0m51-3h0m-65 107h0m35-154h0m22 164h0m-64-84h0m73-30h0m-22 94h0m-36 47h0m85-138h0m-33 80h0m11-141h0m-76 118h0m-5-71h0m51-37h0m-51 120h0m98-108h0m-18 56h0m-41-78h0m56 187h0m17-48h0m-15-137h0m-39 99h0m-21 35h0m32-42h0m-59 80h0m98-75h0m-55 114h0m5-219h0m-11 171h0m-9-9h0m44-156h0m33 77h0m-56-9h0m-74 63h0m53 42h0m-35 4h0m37-135h0m39 148h0m-4-167h0m-71 98h0m96-101h0m-85 127h0m31-20h0m-36 14h0m1 9h0m32-38h0m-15-58h0m84-8h0m-106 5h0m11 155h0m19-100h0m-4 37h0m62-57h0m-56 73h0m-8-56h0m11-66h0m-40 36h0m95 1h0m-56 114h0m56-76h0m2-35h0m-84 43h0m79-84h0m-2 2h0m-2 171h0m28-128h0m-13 34h0m-13-42h0m-19 18h0m37 72h0m-24-15h0m-72-120h0m76 66h0m-16-86h0m-11 33h0m-24 123h0m-34-114h0m43 102h0m54 37h0m-118-53h0m109-82h0m-47-9h0m-20 46h0m-26 66h0m42-1h0m-2-111h0m-13 111h0m40 45h0m6-172h0m42 147h0m-14-156h0m-45 177h0m-28-48h0m15 27h0m42-3h0m-79-111h0m57-12h0m-59 7h0m7 59h0m106 42h0m-56 22h0m-1-186h0m30 22h0m-83 129h0m107-55h0m-107 63h0m-12-41h0m28-40h0m42-66h0m-18 48h0m50 30h0m18-27h0m-105 11h0m89 96h0m19-36h0m-78 15h0m-13-69h0m-25 36h0m22-12h0m-20-15h0m25-23h0m8-39h0m59 18h0m2-33h0m-96 130h0m65-143h0m37 31h0m-100 53h0m60 25h0m-27 41h0m43-43h0m14 18h0m-27 41h0m-3 48h0m-24-178h0m60 131h0m-77 30h0m49 15h0m-44-83h0m41 80h0m6-188h0m34 97h0m-38-74h0m30 13h0m-19-46h0m-19 51h0m-62 11h0m-16 82h0m77 18h0m-21-112h0m-13 160h0m68-53h0m-47-154h0m58 18h0m-35 153h0m-58-138h0m32 98h0m-22-94h0m74-32h0m-78 153h0m57 21h0m-79-118h0m116 62h0m-106-85h0m44 27h0m66 21h0m-32 121h0m-75-94h0m102 34h0m-73-68h0m58-35h0m-6 29h0m-95-29h0m-14 52h0m7-47h0m69-72h0m41 14h0m1-9h0m-37-13h0m-39 29h0m-37 65h0m103 143h0m-29-231h0m13 247h0m52-142h0m-140 18h0m16-71h0m50 191h0m55-15h0m-123-48h0m125 41h0m-33 25h0m-90-35h0m10 16h0m-9-127h0m8-28h0m1 142h0m-16-82h0m137-39h0m8 53h0m-5 70h0m-10-185h0m-124 167h0m17-143h0m2-16h0m104-10h0m16 65h0m-125-49h0m-15 138h0m15 41h0m22 9h0m-49-68h0m15-85h0m132 19h0m-139 5h0m134 109h0m-114 9h0m66-221h0m-73 71h0m109-58h0m23 150h0m-97-147h0m96 102h0m-97 126h0m45-242h0m42 70h0m-96-48h0m92 13h0m-12 196h0m-79-211h0m50 213h0m42-26h0m-28-189h0m65 12h0m-52-18h0m4 6h0m59 7h0m-26-31h0m14 40h0m-27 10h0m24-19h0m-33 11h0m27-17h0m18 14h0m-31-41h0m-6 39h0m-26-8h0m2-3h0m58 8h0m3-4h0m-37-22h0m19 12h0m-17-14h0m-16 4h0m-3 28h0m45-16h0m-27 24h0m-4-16h0m-3 4h0m11-29h0m30 27h0m-58-27h0m7 35h0m48-14h0m-57 2h0m43-28h0m-23 1h0m13 30h0m-11 2h0m-14-17h0m23-6h0m6 28h0m0-5h0m24 5h0m-1-6h0m-46-13h0m-1 10h0m-7-13h0m29-14h0m18 3h0m-36 32h0m7-39h0m686 163h0m19 31h0m28 18h0m-9-64h0m26 68h0m-42-60h0m26 31h0m-46-49h0m101-35h0m-57 9h0m32 33h0m-49 48h0m-22-71h0m-1 94h0m49 15h0m18-55h0m-30-54h0m-35-49h0m-13 124h0m24-125h0m-32 140h0m99-64h0m-55-74h0m-30 132h0m106-29h0m-86-19h0m72-24h0m-105-13h0m106 27h0m-73 34h0m-23-102h0m59 64h0m-62 86h0m109-77h0m-21 45h0m-61-20h0m-26-51h0m87 20h0m0-43h0m-10 59h0m32-50h0m-125 69h0m48-68h0m8 77h0m20 44h0m-33-125h0m27-8h0m7 44h0m-31-91h0m-26 31h0m94 102h0m-26 12h0m-43-99h0m-27 90h0m41-56h0m55-13h0m-57 29h0m20 87h0m43-41h0m-32-70h0m-81 62h0m80-21h0m42-47h0m-71-62h0m-18 123h0m-35-41h0m45-86h0m-20 61h0m40-12h0m-49 31h0m78-26h0m-65 45h0m-31 8h0m53 3h0m65-6h0m-51-103h0m9 125h0m-82-74h0m87 92h0m-76-38h0m40 19h0m58-104h0m5 40h0m-86 61h0m52-12h0m-19-52h0m23-10h0m-5-2h0m-1-15h0m45 94h0m-116-88h0m24 51h0m-2 52h0m56 30h0m-41-43h0m34-105h0m-63 125h0m108-91h0m-85 22h0m-43-10h0m58-31h0m-42 98h0m26-3h0m27-39h0m64-37h0m-41 49h0m-40 12h0m33-46h0m-4-31h0m-69 72h0m101 62h0m-49-63h0m28-38h0m-48-19h0m17 8h0m-7 17h0m58-24h0m-22 119h0m30-29h0m-68-102h0m22 101h0m44-2h0m-57-112h0m-68 70h0m59-77h0m32 149h0m6-62h0m-45 23h0m11-48h0m11 72h0m-32-123h0m-33 100h0m102-87h0m-25 6h0m-6-19h0m16 99h0m-16 14h0m-24-120h0m-23 7h0m-16-1h0m84 15h0m-51-33h0m-6 46h0m54 49h0m-33 7h0m39 17h0m-1 12h0m21-114h0m-71 33h0m7 36h0m-17-83h0m80 54h0m-84 57h0m17-32h0m64-73h0m-17 61h0m-9 51h0m-68-8h0m55 22h0m43-124h0m-21 40h0m25 75h0m-21-6h0m-20 28h0m18-38h0m-39-71h0m-2 98h0m69-79h0m-83 78h0m45-17h0m29-1h0m-41-138h0m-45 49h0m83 62h0m-109 42h0m81-10h0m-62 29h0m47-83h0m-43 1h0m-13-54h0m-22 77h0m97-55h0m-26 9h0m21 66h0m31-13h0m8-41h0m-15-54h0m-107 53h0m-10 43h0m56-18h0m-53 9h0m36-3h0m12-68h0m62 0h0m-29 93h0m7-50h0m-54 3h0m-8 85h0m-21-57h0m13-30h0m76-50h0m18 120h0m-50-33h0m-9 61h0m-32-55h0m86-88h0m-66 10h0m90 6h0m-104 48h0m47 44h0m-58-95h0m114 10h0m-96 76h0m2-11h0m94-18h0m-74 5h0m60-24h0m-31 77h0m-30-160h0m38 59h0m-71 85h0m51-121h0m44 97h0m10 4h0m-62-55h0m-2 114h0m26-91h0m-5 74h0m-49-78h0m-16-52h0m3 45h0m45-29h0m23 128h0m-76-115h0m9 16h0m19 46h0m-4-50h0m-1-9h0m-18-41h0m-13 75h0m105 52h0m-59 30h0m-6-16h0m56-68h0m-16-51h0m-21 116h0m17-21h0m12-111h0m-14 152h0m-11-136h0m-50-15h0m-10 53h0m21 28h0m54-67h0m28 62h0m-33-50h0m31 99h0m-64-38h0m46 50h0m-85-121h0m103 25h0m-88 72h0m27-87h0m-33 63h0m-8 22h0m94-109h0m29 84h0m-5 0h0m1 9h0m-32-44h0m27 53h0m-71-59h0m-26-28h0m96 17h0m-50 4h0m28 70h0m-25-94h0m22 114h0m-51-127h0m-31 102h0m26-63h0m63 26h0m-54-6h0m44-34h0m-60 63h0m82-48h0m-23 61h0m-24 16h0m-62-83h0m54-2h0m74 49h0m-70 38h0m37-36h0m20-46h0m-28-77h0m14 63h0m29 86h0m1-17h0m-2-33h0m-39-52h0m-57 37h0m48-43h0m-23 46h0m3 65h0m-27-71h0m-9 37h0m43-3h0m-38-71h0m76 113h0m-77-37h0m2-76h0m30 107h0m50-120h0m-74 117h0m64 21h0m-15 5h0m-27-104h0m-3 11h0m-53 6h0m29 10h0m75-24h0m-38 29h0m-33 65h0m54-76h0m-24 92h0m-57-127h0m-16 51h0m15 2h0m-5 2h0m14 0h0m1 58h0m18-120h0m57 86h0m-6-10h0m5-9h0m-29-13h0m2-13h0m28 10h0m-11 22h0m-64-85h0m47 64h0m44-29h0m-20 68h0m-80-87h0m44 107h0m-18-84h0m56 93h0m-14-157h0m-52 151h0m107-51h0m-14-41h0m-97-15h0m64 116h0m45-108h0m-41-5h0m12 15h0m-40-39h0m10 121h0m-55-108h0m21 2h0m-13 69h0m6-53h0m68-55h0m-1-2h0m-93 98h0m125 35h0m-135-49h0m140 37h0m-37-82h0m-23-35h0m-29 170h0m-16-18h0m-26-31h0m54 18h0m61-28h0m-18-66h0m6 92h0m-68-101h0m-28 117h0m45-59h0m4-55h0m38 14h0m-80 48h0m105-23h0m-86 12h0m93 38h0m-46 1h0m2-79h0m2-48h0m5 133h0m7-44h0m34 8h0m-2 29h0m-29-129h0m11 99h0m-60-85h0m42-18h0m-89 128h0m42 14h0m41-72h0m-69 25h0m3-45h0m-18 75h0m90-27h0m-60 45h0m55-76h0m-72 1h0m58 74h0m-31-103h0m50 83h0m-44-92h0m-15 3h0m78 8h0m4 114h0m-117-25h0m69-5h0m36-121h0m-3 104h0m-27 69h0m50-86h0m-88-83h0m95 119h0m-106-121h0m10 45h0m45 27h0m-48 25h0m19-103h0m-10 53h0m53-39h0m-85 52h0m11 11h0m28 62h0m-10 11h0m80-101h0m-18 66h0m-47-8h0m14 9h0m36 50h0m-72-118h0m33 28h0m-11-7h0m-36-33h0m74-17h0m-97 82h0m8-30h0m128-9h0m-33 6h0m-22-2h0m13 27h0m-29-97h0m38 16h0m-44 172h0m46-175h0m-34-18h0m-42 135h0m25 27h0m3 9h0m-24-38h0m57-33h0m-55 6h0m-4-47h0m82-19h0m-92 109h0m47 29h0m4-170h0m36 37h0m-90 4h0m56 114h0m-19-140h0m2 66h0m-42 4h0m113-44h0m-35 5h0m-19 47h0m-12 5h0m13 3h0m12-27h0m-74-36h0m73-30h0m45 103h0m-67-8h0m49 35h0m-15-20h0m9 54h0m6-49h0m11-21h0m-56-53h0m-6 26h0m-46 30h0m45 14h0m24 12h0m-6-15h0m-11 15h0m25 44h0m-73-110h0m65-29h0m-26 103h0m5-102h0m-12 136h0m-25-124h0m33-18h0m55 129h0m-22 20h0m29-43h0m-1 2h0m-2 22h0m-114-97h0m73 63h0m-10-75h0m-25-32h0m57-8h0m4-3h0m-50 151h0m61-102h0m-44 15h0m-35 77h0m20-5h0m58-85h0m-77 98h0m32-59h0m-55 26h0m83 16h0m-97-10h0m65-151h0m-41 26h0m124 72h0m-6 56h0m-91-147h0m93 97h0m-100 104h0m100-124h0m-106-68h0m88 176h0m-60-194h0m-52 38h0m103-23h0m16 168h0m-1-127h0m-14 143h0m-66-186h0m-51 145h0m54 57h0m85-51h0m-51 40h0m15-192h0m-89 23h0m78-31h0m-82 177h0m134-103h0m-118-56h0m82-7h0m-97 32h0m-8 11h0m39 144h0m-39-34h0m138-93h0m-129-37h0m-17 36h0m10-16h0m92-44h0m-101 142h0m83 53h0m4-197h0m54 157h0m-88-155h0m8 197h0m89-130h0m-150-3h0m24 123h0m-26-46h0m137-110h0m-142 91h0m142 45h0m-37-168h0m49 116h0m-77-126h0m75 156h0m-101 42h0m51-197h0m48 65h0m-63-67h0m40 22h0m-535 1102h0m-7 2h0m12-67h0m97 4h0m-69 76h0m12 5h0m12-47h0m40 46h0m-48-104h0m4-28h0m-12 99h0m26-61h0m-21 104h0m-15-147h0m34 95h0m-30-10h0m-11-22h0m14-14h0m45-7h0m-30 92h0m-50-90h0m-12 68h0m73-79h0m-55 84h0m16-118h0m18 134h0m-31-117h0m-21 111h0m27-123h0m16 32h0m19 82h0m-40 9h0m4-55h0m-17-24h0m52-54h0m-36 26h0m77 29h0m-85 51h0m29-54h0m-42 7h0m37 21h0m68-24h0m-72-6h0m57 36h0m-60 65h0m29-69h0m-65 8h0m104-22h0m-93 2h0m57 44h0m27-47h0m-58-3h0m28 86h0m-8-10h0m41 8h0m-13-90h0m-52 44h0m-7 55h0m54-100h0m-12-2h0m-28-62h0m76 137h0m-34-49h0m-11 30h0m12-76h0m-24 109h0m-51-6h0m9-2h0m93-28h0m-52-113h0m0 1h0m25 135h0m-13-38h0m-23-39h0m27 24h0m46-13h0m-114 22h0m67 38h0m23-6h0m-87-27h0m81-42h0m-45-51h0m-1 119h0m-46-49h0m34 62h0m39-97h0m-62 52h0m89-4h0m-1-25h0m-74 37h0m-10-48h0m103 12h0m11 8h0m-92 76h0m31-80h0m10 23h0m-67 35h0m40 22h0m-35 13h0m78-63h0m-34 43h0m32-107h0m6 84h0m-2-38h0m-61 15h0m39-89h0m22 27h0m-47 71h0m21-101h0m14 6h0m-24 80h0m68 13h0m-55 52h0m-1-123h0m-18 98h0m-27-64h0m2 96h0m68-33h0m6-85h0m-55-9h0m-28 127h0m4-108h0m-5 110h0m53-140h0m4-3h0m-70 118h0m48-109h0m22 48h0m-3 34h0m43 25h0m-32-36h0m-65 42h0m27-126h0m31-18h0m-14 151h0m-13-70h0m81 8h0m-39-66h0m-30 16h0m9 85h0m-45-91h0m92 100h0m-50-35h0m39 24h0m-10-94h0m13 91h0m-106-55h0m80-58h0m-21 136h0m2-104h0m-1 78h0m-56-50h0m38-37h0m33 45h0m-80 0h0m38 6h0m-16 84h0m16-10h0m27-110h0m-14 102h0m-31-105h0m101 94h0m-32-116h0m11 19h0m-54 85h0m15-37h0m21-58h0m-29 36h0m-2-25h0m12 82h0m60-12h0m-89-52h0m-18 58h0m78-89h0m-20 126h0m15-29h0m22-67h0m-43 71h0m22-89h0m-48 103h0m-1-77h0m-14-34h0m48 41h0m-79 35h0m63-30h0m9-21h0m37 84h0m-22-135h0m-41 144h0m81-34h0m-99-66h0m49 12h0m-28-12h0m12-11h0m-9 41h0m22-59h0m59 106h0m-70-38h0m-12-9h0m-31 75h0m83-81h0m-28 29h0m11 36h0m-26-132h0m-47 70h0m116 59h0m-46-71h0m6 76h0m4-47h0m-12-14h0m39 54h0m-90-85h0m1 62h0m77-28h0m-37-47h0m-65 63h0m40-35h0m22 10h0m44 56h0m-40-36h0m20-23h0m-15-58h0m11 82h0m-52-29h0m-3-34h0m56 10h0m-27-16h0m59 30h0m-9 15h0m-53 68h0m10-114h0m-6 127h0m-19-22h0m-20 22h0m32-146h0m16 12h0m-51 93h0m57-4h0m31-34h0m-15 80h0m-67 11h0m55-84h0m-83 44h0m54 9h0m48-100h0m-4 44h0m-58-47h0m33 28h0m52 60h0m-100 21h0m6-32h0m108 14h0m-61-37h0m19-40h0m7 18h0m-88 51h0m68 22h0m-79-7h0m120-68h0m-25 16h0m-57-60h0m0 134h0m-22-10h0m41-9h0m19 11h0m-60-12h0m57-103h0m-72 110h0m89-92h0m-11 114h0m5-145h0m16 30h0m-63 11h0m-23 103h0m78-33h0m24-28h0m-75-8h0m24-30h0m27 18h0m-80 54h0m100-17h0m-33-67h0m-3 89h0m-75-47h0m75 28h0m10-90h0m-85 78h0m122 33h0m-89 6h0m40-28h0m-4-113h0m-57 83h0m15 32h0m-22 23h0m111-86h0m-4 21h0m19 39h0m-65-77h0m5 89h0m25-21h0m-107 14h0m122-28h0m-28 44h0m3-15h0m-39-103h0m50 14h0m-55 79h0m-38 3h0m63 28h0m64-39h0m-54 6h0m-79-15h0m59-93h0m33 97h0m-64-40h0m59 8h0m-4-53h0m-24 135h0m63-24h0m-22-58h0m-74 97h0m87-80h0m-89 9h0m9-65h0m41 66h0m16-49h0m34 50h0m-67-67h0m41 6h0m-29 74h0m55-43h0m-86 52h0m36-37h0m24 28h0m-67-65h0m43-12h0m-76 68h0m37-7h0m-6 1h0m53 29h0m1 39h0m-23-84h0m62 28h0m-92 40h0m13-16h0m-2-70h0m77 31h0m-86 49h0m95-41h0m-25 51h0m-11-101h0m-20 57h0m-60 49h0m10-72h0m66 3h0m41-16h0m-22 78h0m-76-108h0m-37 71h0m59 19h0m-30-8h0m17 43h0m30-134h0m-6-10h0m-28 85h0m78-23h0m7 20h0m-78-62h0m59 110h0m11-42h0m-92 15h0m14-1h0m25-6h0m37 0h0m25 13h0m-75-15h0m-44-12h0m13 27h0m98 16h0m-102-46h0m19-64h0m46 111h0m42-84h0m4 80h0m-123-73h0m8-11h0m17 119h0m66-169h0m-90 61h0m-1 6h0m78-79h0m-73 65h0m125 89h0m-93-136h0m31-16h0m-1-2h0m73 95h0m-24 67h0m-127-48h0m100-107h0m-66 174h0m73-4h0m-95-15h0m138-31h0m-136-61h0m79-79h0m-31 7h0m-15 12h0m-26 48h0m-22 57h0m38-90h0m74 149h0m2-2h0m-81 5h0m95-123h0m-52-58h0m-71 141h0m72 46h0m-39-2h0m79-15h0m-47-165h0m50 41h0m-103 27h0m127 72h0m-36-123h0m-98 64h0m142 35h0m-5-24h0m-135-11h0m-5 71h0m6-84h0m29-39h0m45 155h0m59-106h0m845 20h0m-86-14h0m50 4h0m25 33h0m49-7h0m-75-80h0m59 70h0m2-19h0m-29 45h0m2 17h0m-57-110h0m77 11h0m-38-5h0m-76 55h0m117-59h0m18 5h0m-18 89h0m-14-12h0m-67-108h0m-23 113h0m76-15h0m10-130h0m-25 116h0m3-128h0m34 67h0m-67 46h0m10 6h0m14 35h0m-4 15h0m-24-82h0m59 33h0m-101-17h0m78 50h0m14-106h0m-17-28h0m11 126h0m-47-29h0m37 10h0m-33-68h0m-28 31h0m-8 46h0m78 53h0m-20-160h0m-26 64h0m-19 72h0m38-126h0m-3-24h0m-31 98h0m77-32h0m38 29h0m-114 46h0m72 16h0m-22-93h0m-11-53h0m56 57h0m-47-19h0m60-6h0m-98 14h0m20-17h0m-39 73h0m-5 47h0m82-136h0m-77 109h0m113-113h0m-19 77h0m-55-29h0m-35 91h0m-16-19h0m79-39h0m19 51h0m-45-72h0m-11 33h0m31 20h0m53-41h0m-35-63h0m-4-51h0m38 92h0m-55-23h0m-44 116h0m62-39h0m-36-117h0m70 10h0m-80 78h0m59 44h0m-25-144h0m6-22h0m30 55h0m-24 85h0m31-47h0m-19-74h0m13 26h0m-11-54h0m-106 154h0m71-88h0m-28 98h0m39-17h0m-38-71h0m46-86h0m-20 95h0m52-64h0m-6 16h0m-54 74h0m-47 71h0m56-155h0m24-24h0m-53 112h0m75-2h0m-33 29h0m26 28h0m-106 19h0m81-150h0m-9-9h0m7 54h0m-60 6h0m97 45h0m-24-73h0m25 99h0m-42 45h0m-30-7h0m70-96h0m-4-100h0m-23 107h0m-70 85h0m102-164h0m-61 143h0m70 10h0m-79 7h0m-16-15h0m42-33h0m-32 20h0m54 45h0m31-53h0m-33-103h0m27 2h0m-4 64h0m-117 13h0m72-29h0m21-106h0m-79 133h0m42-1h0m52-107h0m-33 48h0m-82 107h0m122-61h0m-7 62h0m-81-72h0m44 93h0m-41-96h0m55-83h0m23 64h0m8 109h0m6-118h0m-16-2h0m-41 28h0m-28-34h0m-28 106h0m67 34h0m-2-19h0m-72-39h0m20 43h0m-7-39h0m43 11h0m41-28h0m-81-33h0m80 8h0m-42-13h0m-39 64h0m72-115h0m-77 108h0m94-121h0m-38 178h0m-44-60h0m-3-32h0m-7 23h0m82-120h0m-12 67h0m-29 115h0m42-31h0m-31-77h0m-13 116h0m-13-85h0m46-80h0m1 45h0m-33-27h0m-38 38h0m35-33h0m-28 150h0m34-76h0m-33-54h0m70 78h0m-19 33h0m42-79h0m-81-21h0m72 82h0m3-151h0m-17 117h0m13-110h0m-63 10h0m-26 157h0m36-69h0m6-10h0m-57 49h0m46-38h0m25-107h0m-2 128h0m16-131h0m10 121h0m-27-76h0m-61 120h0m9-54h0m52 25h0m-28-30h0m53 0h0m20-59h0m-65 132h0m-8-2h0m76-74h0m-108-35h0m105 54h0m-22 20h0m-26-51h0m37 19h0m-34 7h0m19 46h0m-5-12h0m-36-123h0m-42 149h0m40-92h0m36 30h0m26-26h0m-11 46h0m-54 39h0m85-63h0m-61 42h0m43-1h0m-27-64h0m41-19h0m-92 13h0m72-116h0m-30 154h0m-36-21h0m63 36h0m-32-145h0m35 135h0m5 31h0m4-165h0m-49 174h0m-24-94h0m87-21h0m-72-51h0m13 169h0m24-104h0m6-95h0m-8 116h0m-45 72h0m35-10h0m43-66h0m-13-87h0m-24-24h0m-63 197h0m17-75h0m73 37h0m-48-107h0m-49 133h0m-2-44h0m95-76h0m-32 18h0m10 4h0m15 11h0m-57-1h0m15 18h0m-2-49h0m-21 15h0m33 97h0m44-121h0m-49 115h0m-22 6h0m65-182h0m-22 142h0m-18-18h0m-49 86h0m-2-7h0m33-117h0m56-9h0m-11-14h0m-18 0h0m6-47h0m34 21h0m-106 135h0m106-116h0m-124 115h0m31 21h0m73-189h0m-34 174h0m13-105h0m-79 95h0m66-78h0m61 56h0m-12 7h0m6-34h0m-5 77h0m-93-96h0m65-15h0m24 79h0m-25-40h0m-2 70h0m-32-12h0m-38-61h0m56 62h0m-5 14h0m-3-12h0m-5-82h0m39 74h0m-12 21h0m-1-146h0m-9 14h0m23 100h0m3-117h0m-16 121h0m38-18h0m-8-57h0m-37-58h0m26 138h0m24-84h0m-25-45h0m-48 156h0m65-102h0m5 11h0m-3 34h0m-29-60h0m-5 70h0m21 37h0m13-125h0m1 11h0m-29 70h0m-2-96h0m11 141h0m-44-88h0m72 67h0m-52-126h0m21 49h0m-66 10h0m56 90h0m16-52h0m-96 54h0m19-83h0m69-7h0m10-23h0m-113 58h0m4 22h0m83 13h0m-13 12h0m48-127h0m-103 76h0m44-83h0m25 144h0m-4-30h0m37-26h0m-25 16h0m24 31h0m-53-30h0m-23-50h0m20 5h0m49 61h0m-45-11h0m27-82h0m-83 41h0m40 67h0m16-26h0m-3 4h0m70-35h0m-17 45h0m-39-3h0m58-41h0m-124 36h0m67-152h0m24 183h0m-78-20h0m104 2h0m-21-12h0m-16-56h0m-5-1h0m-59 33h0m98 6h0m-65 6h0m40 4h0m-97 32h0m95-123h0m15 83h0m-15-70h0m27 10h0m-98 80h0m30 41h0m27-95h0m-32 24h0m48-132h0m37 135h0m-6 22h0m-55-94h0m21-8h0m-80 42h0m104 86h0m-15-90h0m-10-17h0m14 39h0m-51 82h0m22-156h0m-49 120h0m38 46h0m-42-27h0m22-13h0m24-22h0m1-91h0m14 84h0m-21-51h0m-22 92h0m58-112h0m-60 8h0m31-38h0m4 123h0m51-113h0m-71 25h0m9-44h0m-46 89h0m102-54h0m-14-61h0m-32 98h0m-28-42h0m21 42h0m31-10h0m2-18h0m-42 25h0m30-77h0m-90 154h0m47-83h0m59 49h0m-28-116h0m-20 157h0m-30-72h0m81-101h0m-60 200h0m-14-27h0m0-5h0m-2 24h0m-1-17h0m75-138h0m-2-59h0m-36 76h0m27 65h0m-2-90h0m11 62h0m-76 63h0m-23-43h0m44-83h0m-5 92h0m-26 4h0m8-53h0m-23 52h0m122-47h0m-79 2h0m62-97h0m-8 72h0m-44 54h0m-31-3h0m80 31h0m-10-161h0m-52 153h0m35-152h0m36-17h0m-124 180h0m78-147h0m-30 38h0m14-15h0m-6 6h0m-16 193h0m21-203h0m65 181h0m6-175h0m-130 111h0m144 26h0m-143-40h0m83 89h0m-9 8h0m-79-78h0m0 24h0m48-116h0m102 38h0m-1 11h0m6 9h0m-37-133h0m-109 230h0m110 4h0m-123-27h0m134-173h0m23 142h0m-5 21h0m-6 13h0m-33-217h0m6 247h0m10-231h0m-88 78h0m-27 130h0m-8-51h0m154-39h0m-151 25h0m146-52h0m-12-33h0m-8 150h0m-14 17h0m-36-212h0m52 24h0m17 129h0m-68 65h0m-14-196h0m44-41h0m-39 27h0m76 57h0m-36 939h0m-60 112h0m45 24h0m15 22h0m37-76h0m-9 51h0m-87 45h0m100-148h0m-51 115h0m-56-40h0m-8 55h0m-17-35h0m63-57h0m-47 46h0m2 2h0m-8-42h0m71-18h0m-58 86h0m51-122h0m-18 33h0m15 36h0m-2 66h0m-59 13h0m124-154h0m-129 153h0m-9-4h0m56-74h0m40 39h0m-95 25h0m79 20h0m-61-105h0m101-76h0m-40 125h0m40-120h0m-26 168h0m-48 13h0m54-170h0m35 98h0m-126 58h0m89-38h0m-14-57h0m-28 59h0m-53-18h0m119-73h0m-5-47h0m1-13h0m0 96h0m-117 28h0m59-5h0m-36 11h0m88-29h0m19-68h0m-79 140h0m49-132h0m14 131h0m10-108h0m-57 105h0m-6-85h0m-19 104h0m30-30h0m-73 1h0m25 26h0m26-22h0m61-140h0m10 120h0m-32-55h0m17-9h0m8-44h0m14-1h0m-113 148h0m85-160h0m-55 173h0m-35-21h0m35-60h0m-55 36h0m39-43h0m-34 43h0m35-36h0m77-72h0m18 83h0m6-9h0m-30 46h0m14-46h0m-57 31h0m-53-7h0m108-3h0m17-120h0m-27 15h0m-33 13h0m-4 91h0m43-118h0m23 102h0m-26-95h0m-58 121h0m45 13h0m-12-20h0m-84 31h0m136-102h0m-133 79h0m95 15h0m-10-64h0m-28-50h0m-23 25h0m51-22h0m3 119h0m-12 28h0m-42-84h0m48-48h0m-21 84h0m-54-40h0m40-3h0m-51 35h0m111-105h0m-39 21h0m1 139h0m34-133h0m-20-17h0m12 142h0m-42 2h0m34-178h0m43 93h0m-33 17h0m-50 68h0m89-64h0m-26-41h0m-108 23h0m61 46h0m-16 19h0m-38-2h0m41 24h0m18-64h0m-22-37h0m20-30h0m61-57h0m-43 183h0m12 0h0m-94-71h0m98-1h0m-48-1h0m46-102h0m35 98h0m-68 56h0m10-31h0m34-7h0m-85 54h0m29-126h0m-12 37h0m-1 18h0m80-68h0m-114 124h0m22-75h0m110-12h0m-71 14h0m-54-12h0m113 36h0m-3-94h0m-107 127h0m11-36h0m74 71h0m-51-7h0m-46-52h0m89-62h0m-33 113h0m77-95h0m-6-61h0m-92 65h0m5 31h0m29-6h0m-45 8h0m59-77h0m25-22h0m-50 59h0m-71 64h0m124-55h0m-72 36h0m27-56h0m-19 28h0m32 41h0m-59 36h0m44-128h0m48 25h0m0 13h0m-26-73h0m7 138h0m-19-15h0m-46-57h0m55-70h0m-47 148h0m44-1h0m-89 7h0m77-47h0m58-39h0m-75 108h0m-9 16h0m-42-47h0m126-74h0m-123 35h0m63 2h0m15-46h0m-20 5h0m47 73h0m-60-76h0m63 41h0m-109-10h0m-5 5h0m88-7h0m-90 3h0m113-11h0m3 15h0m-19-59h0m-63 49h0m62 60h0m-28 9h0m-8-127h0m43 52h0m-106 66h0m96 22h0m-47-43h0m-33-14h0m38 55h0m18-10h0m55-16h0m-53-85h0m-56 100h0m113-70h0m14-4h0m-4-4h0m-105-6h0m-9 38h0m-21-17h0m126-37h0m-111 93h0m5-76h0m45-21h0m-34 56h0m60 16h0m-43-3h0m-24 17h0m51-38h0m58-33h0m-55-18h0m32 90h0m-90-19h0m99 31h0m-37-85h0m-91 78h0m86-24h0m-18 9h0m45-91h0m-98 74h0m93-8h0m11-87h0m-63 157h0m42-166h0m24 80h0m-129 54h0m134-46h0m-22-52h0m-3 1h0m41-12h0m-89 140h0m46-1h0m-1-131h0m-43 18h0m68-34h0m-38 37h0m-53 19h0m42-59h0m33-29h0m-29 192h0m43-148h0m-48 41h0m25 62h0m-10-102h0m-70 79h0m129-71h0m-99 44h0m33-49h0m5 5h0m-50 111h0m1-26h0m81 8h0m-53-53h0m47-73h0m1 103h0m-76-40h0m73 41h0m40-77h0m-82-14h0m36 139h0m34-38h0m-10-123h0m-49 112h0m-29 59h0m36-115h0m-1 90h0m-84 15h0m79-41h0m47-34h0m-117 19h0m26-24h0m96-87h0m-64 165h0m-2-20h0m22-56h0m50-49h0m-60-28h0m-31 55h0m-7 12h0m77 14h0m-111 76h0m-5-62h0m38-29h0m48-62h0m-56 94h0m7-25h0m19 88h0m66-108h0m-57 103h0m59-47h0m-20 6h0m-9-19h0m-54 43h0m91-98h0m19-7h0m-52 56h0m-36 24h0m-63 21h0m29-80h0m75 56h0m-26 5h0m-33-32h0m-20-27h0m73 39h0m-69 72h0m-15-80h0m100-40h0m8 98h0m-16 9h0m-4-143h0m-53 28h0m91 2h0m-149 77h0m102-64h0m41-62h0m-18 29h0m-58 7h0m-53 109h0m46-29h0m91-11h0m-139 44h0m34 18h0m56-69h0m-77 59h0m10-51h0m45-59h0m-51 119h0m19 22h0m80-215h0m-134 153h0m37 58h0m-32-31h0m9-59h0m150-16h0m-147 16h0m149 20h0m-165 35h0m116 31h0m51-166h0m-131 171h0m-21-100h0m86 102h0m62-97h0m-9-95h0m4 19h0m-153 103h0m76-101h0m2-1h0m-14 19h0m70 138h0m27-123h0m-138 21h0m107-96h0m-125 193h0m154-150h0m-105 26h0m-49 51h0m-1 0h0m121-118h0m-34 207h0m-95-43h0m67 55h0m71-27h0m29-124h0m3-5h0m-32 120h0m-73 35h0m82-216h0m-9 186h0m-31 21h0m-95-95h0m83 97h0m-65-118h0m95-87h0m16 186h0m-37-183h0m-47 61h0m-14 120h0m5 16h0m49-42h0m-42 46h0m-20-35h0m48-23h0m21-6h0m-87-2h0m16 50h0m20-36h0m-28 5h0m-10-1h0m35 2h0m-5 35h0m-12-68h0m9 8h0m-11 17h0m45 25h0m-8-21h0m-38 21h0m81-38h0m-88 13h0m-9-15h0m54 39h0m-12-64h0m-15 10h0m51 80h0m15-54h0m-96 15h0m19 32h0m-2-59h0m46-20h0m6 80h0m-33-43h0m29-6h0m-33-8h0m-22 12h0m59 23h0m2-10h0m6 25h0m-67-26h0m89 2h0m-80-22h0m82 30h0m-84-7h0m61 12h0m-41-7h0m3-15h0m1-40h0m64 44h0m-63-35h0m0 66h0m17-34h0m38-2h0m-66-37h0m46 35h0m-70-13h0m78 55h0m-59-52h0m60 17h0m-58 37h0m-11-70h0m78 65h0m-97-36h0m74 42h0m8-4h0m-77-48h0m18 33h0m-10-34h0m-7 4h0m6-4h0m9 4h0m21 31h0m65-33h0m-68-2h0m58-9h0m-63 8h0m43 32h0m-37 27h0m-8-12h0m69-3h0m-24-4h0m4 1h0m8-13h0m-29 6h0m-10 30h0m47-27h0m-30-20h0m-8 17h0m33-20h0m-87-10h0m80 39h0m-38 5h0m1 5h0m-11-68h0m0-3h0m14 12h0m-47 32h0m23-30h0m37 46h0m-41-68h0m56 47h0m-23 4h0m-27-51h0m58 50h0m-61 13h0m44-69h0m-35 53h0m12-1h0m9 1h0m38-36h0m-43 68h0m-52-27h0m109-4h0m-23-26h0m-49 7h0m-26 13h0m27-13h0m48 24h0m-10-5h0m26-17h0m-28 50h0m28-57h0m-32 59h0m1-55h0m-62 34h0m72 4h0m-73-27h0m89-33h0m-46 39h0m0 2h0m32-15h0m-48 31h0m9-9h0m0-6h0m45-32h0m-21-18h0m24 16h0m-39 19h0m43 30h0m-86 5h0m16 14h0m43-45h0m-34 30h0m70-51h0m-106 23h0m83-3h0m12 19h0m-64-38h0m6 59h0m71-26h0m-61 25h0m29-58h0m-39 63h0m69-54h0m-15 39h0m-46 24h0m31-67h0m-62 52h0m10-5h0m49-35h0m-35 11h0m-15 17h0m-7-36h0m23 52h0m62-60h0m-69 14h0m1-11h0m-13-14h0m36 74h0m32-25h0m-71 14h0m78-61h0m-75 20h0m39 5h0m8 6h0m12 40h0m-34 1h0m32-6h0m-46 3h0m11-34h0m19 38h0m-38-75h0m15 52h0m17-2h0m18-53h0m-49 53h0m65-14h0m-12 6h0m-25-38h0m-11 8h0m20 24h0m31 24h0m11-46h0m-57-5h0m34 32h0m-74-19h0m80 34h0m-1-63h0m-6 8h0m-2 45h0m21-43h0m-27 14h0m-2-21h0m26 63h0m-37 8h0m6-55h0m-16 40h0m46-23h0m11 9h0m-33-24h0m-9 29h0m40 5h0m-93 14h0m38-76h0m49 22h0m6 40h0m-14-38h0m-57 10h0m-19 3h0m99 19h0m-56 36h0m-2-4h0m-14-28h0m12 3h0m-5-13h0m66 3h0m-62 4h0m1 19h0m37-32h0m-47-24h0m30 11h0m-20-10h0m-13 15h0m32 53h0m-43-2h0m72-42h0m-48-27h0m-9 23h0m47 27h0m-61 3h0m1-23h0m31 47h0m-59-59h0m20-27h0m60 38h0m-30 21h0" stroke="#B7D7AE" stroke-width="5.5"/>
<path d="M1086 812h0m-74-30h0m77 44h0m-84-19h0m68-43h0m-32-3h0m-4 59h0m18-24h0m-49 2h0m17-22h0m12 46h0m68-18h0m-104-38h0m75-16h0m-67 17h0m0 42h0m44-16h0m8 33h0m-59-69h0m68 50h0m-48-27h0m-4 11h0m9-24h0m-15-8h0m9 35h0m-6-56h0m80 42h0m-46-19h0m52 52h0m-37-11h0m10-18h0m-39-14h0m13 10h0m3 7h0m36 43h0m1-32h0m-71-51h0m81 76h0m-25-17h0m8-28h0m-48 12h0m79-1h0m-63-28h0m48 24h0m-99-15h0m68-32h0m-10 97h0m-18-21h0m22-21h0m-58-14h0m101 25h0m-95-27h0m45-13h0m5 35h0m11-49h0m-45 88h0m31-102h0m11 19h0m25 55h0m-48 28h0m-21-83h0m44 42h0m-10-27h0m36-16h0m-15-8h0m-31 93h0m-35-82h0m94 47h0m-95-45h0m85 48h0m19-3h0m-49-34h0m12 13h0m-91 0h0m45 4h0m-8-45h0m37 90h0m-57-49h0m44 32h0m9-62h0m-52 57h0m39 14h0m21-12h0m19-2h0m16-41h0m-4 26h0m-102-37h0m12 42h0m47-31h0m-54 23h0m50-22h0m15-23h0m38 47h0m-69-6h0m-1 20h0m-2 0h0m-12-49h0m65 58h0m-7 17h0m-72-63h0m93 44h0m-16 12h0m-52-31h0m30 34h0m11 8h0m-71-66h0m58-32h0m9 17h0m-43 39h0m-18-19h0m10-9h0m60-21h0m-19 18h0m11-33h0m11 20h0m-33 58h0m-8-48h0m-3-1h0m48 18h0m-8-37h0m-58 80h0m16-16h0m26 14h0m7 4h0m-22 6h0m-14-26h0m13 0h0m6 25h0m-21-25h0m26 22h0m17-7h0m-24 12h0m-24-4h0m28-11h0m-30 5h0m20-3h0m-36-14h0m44 20h0m30 4h0m-55-12h0m17 12h0m-9 5h0m7-19h0m0-2h0m-7-10h0m23 3h0m-43 10h0m36 12h0m-12-17h0m-6 22h0m41-15h0m-60-13h0m60 22h0m-54-10h0m32-15h0m-37 27h0m40-12h0m20 12h0m-23-12h0m-25 17h0m-7-10h0m59-1h0m-50 4h0m47 2h0m-61-9h0m8 0h0m6-13h0m34 21h0m-33-12h0m29 11h0m-19-22h0m-29 2h0m58 11h0m-14-4h0m-22-7h0m-19 19h0m37-3h0m14-1h0m-29 2h0m-3-9h0m0 9h0m-1-11h0m39 16h0m-14 2h0m-23-7h0m-11-12h0m11-7h0m-19 18h0m9 5h0m-3 4h0m11-14h0m-13-7h0m18-1h0m25-8h0m-8 27h0m-25-22h0m38 15h0m-16-10h0m-19 22h0m41-13h0m-62 0h0m25-15h0m28 18h0m-23 5h0m16-23h0m-11 9h0m-1 11h0m827-65h0m-4 4h0m5-6h0m-95 62h0m64-26h0m16 17h0m25 4h0m-92 19h0m9-66h0m-9 45h0m-13-36h0m97-14h0m-81 21h0m-6 29h0m96-67h0m21 49h0m-66-1h0m-24-7h0m38 42h0m-49-95h0m23-13h0m-20 62h0m83 11h0m-80-55h0m56 75h0m-44 11h0m36 0h0m31 2h0m-100-38h0m7-23h0m83 25h0m16 35h0m-120-34h0m123 36h0m-30 2h0m17-35h0m3 22h0m-77-36h0m23 3h0m-58 3h0m84 38h0m-31-52h0m40-35h0m-58 8h0m76 70h0m-66-86h0m17 23h0m18 77h0m-42-71h0m72 71h0m-21-70h0m16 81h0m-107-43h0m117 7h0m11 28h0m-84-15h0m-27-34h0m-13 15h0m3-27h0m73-12h0m-60 60h0m40-29h0m-3 37h0m11-84h0m-9 28h0m-33 38h0m35-63h0m-6 96h0m10-97h0m48 10h0m-63 62h0m-8 5h0m87-18h0m-9-11h0m-122 12h0m26 18h0m99-47h0m-50 27h0m-58 13h0m64-42h0m-57 28h0m-29 15h0m39 4h0m45-73h0m29 90h0m-53-116h0m1 30h0m12 79h0m33-10h0m-105-42h0m55 33h0m68-54h0m-127 39h0m77 46h0m41-66h0m-3 57h0m-41-78h0m21 73h0m9-32h0m-84 15h0m67-1h0m-21-92h0m-32 74h0m-15-36h0m39-24h0m-20 41h0m97 37h0m-124-45h0m93 45h0m-61-53h0m-22 53h0m-20-17h0m51-35h0m6 0h0m59 78h0m-34-31h0m-16-89h0m44 117h0m-95-63h0m74 14h0m-43 10h0m31-19h0m-24-37h0m10-10h0m35 24h0m8 74h0m21-44h0m-35-21h0m-16-33h0m52 42h0m-60-44h0m5 13h0m-48 41h0m-21 18h0m82 18h0m-39-18h0m-1 7h0m53 15h0m-26-39h0m15 34h0m-43 7h0m58-76h0m-73 28h0m96 57h0m-50-47h0m-6 30h0m3-25h0m0 52h0m-41-45h0m5 20h0m55-85h0m-77 28h0m47 61h0m77-33h0m-131-13h0m54-26h0m31-7h0m-18 28h0m19 69h0m-68-73h0m8 50h0m-8-63h0m66-23h0m-71 29h0m75 66h0m-11-73h0m-4 94h0m-30-117h0m50 16h0m-49-3h0m9 76h0m-34-21h0m88 20h0m-68 18h0m-30-29h0m51-11h0m41 6h0m26-29h0m-49-1h0m-16 49h0m-19-48h0m20 5h0m-52-8h0m29-30h0m2 22h0m57 61h0m-62 3h0m-39-21h0m-8-8h0m69 43h0m34-75h0m-16 7h0m23 74h0m-13-112h0m-16 52h0m-24 22h0m32-27h0m-1-36h0m-78 28h0m67 40h0m-20-53h0m-29 70h0m90-44h0m-15-40h0m-6-1h0m8-3h0m-49 103h0m89-21h0m-35-14h0m-2 11h0m22-12h0m-15 21h0m15-7h0m-19-25h0m20 6h0m-17 33h0m20-37h0m-1 21h0m-7-19h0m-5 7h0m-2-8h0m13 21h0m-6 9h0m-22-20h0m26 15h0m-15-11h0m28 2h0m-33 10h0m10-11h0m-1 3h0m26 8h0m0-23h0m-21-6h0m-15 18h0m8 21h0m-13-15h0m14 4h0m-5-24h0m2 16h0m27 8h0m-2 7h0m-33-11h0m16 17h0m4 1h0m18-15h0m-26 13h0m-9-34h0m-4 7h0m17 20h0m0-19h0m0 15h0m8 0h0m12-8h0m-35 7h0m36-14h0m-30-14h0m27 15h0m-5-8h0m-22 15h0m11-15h0m-5 26h0m27-12h0m-12-2h0m8-13h0m-6 14h0m-14 0h0m4 12h0m4-14h0m-9-10h0m2 9h0m2-21h0m21 32h0m-13-19h0m-864 928h0m94 26h0m-57-59h0m22 66h0m3-5h0m14-6h0m-8-57h0m18 96h0m-2-10h0m-65-9h0m39 23h0m-43-19h0m-1-78h0m43 13h0m-16 85h0m60-32h0m1 27h0m-53 36h0m-16-25h0m54 19h0m16-6h0m3-33h0m-78 6h0m30-25h0m21 33h0m-76-24h0m79 56h0m3-20h0m16-12h0m-60-47h0m26 78h0m12-1h0m-49-47h0m78-11h0m-18 39h0m-37-44h0m-30-82h0m-2-3h0m72 131h0m-57-66h0m-23-38h0m6-2h0m13 84h0m-34-84h0m61 33h0m39 36h0m-69-52h0m48 21h0m4 67h0m-42-106h0m27 108h0m0-37h0m32-15h0m-31-63h0m-4 97h0m-46 4h0m4 5h0m6 0h0m17-95h0m-8 106h0m22-101h0m21 93h0m-70-92h0m1 28h0m60 73h0m-32-113h0m37 0h0m-21-2h0m20 118h0m-19-12h0m22-84h0m-61 55h0m76-9h0m-12-64h0m-61 91h0m8-98h0m35 104h0m-15 3h0m-36-84h0m68 17h0m-69 71h0m36 7h0m28-95h0m-59 13h0m17 85h0m62-40h0m-68 43h0m-5-116h0m61 48h0m-82-23h0m47-41h0m24 15h0m7 13h0m-16-17h0m6 105h0m41-4h0m-63 7h0m54-43h0m-25-31h0m-17 69h0m-11 6h0m-42-49h0m32 11h0m27-83h0m-26-9h0m28 17h0m15 62h0m-60 53h0m-24-73h0m71-38h0m7 36h0m-35 88h0m44-33h0m-27 6h0m-5-17h0m33-30h0m-33-68h0m-19 130h0m-21-11h0m74-26h0m-5 16h0m7 9h0m-67 1h0m51-63h0m8 59h0m16-22h0m-24 7h0m-39 2h0m13 13h0m28-90h0m-50-2h0m32 33h0m-1-7h0m14-23h0m-18 114h0m-15-30h0m-1-98h0m39 130h0m-71-127h0m-1 102h0m37-79h0m34 42h0m-12 35h0m-13-16h0m33-20h0m-47-75h0m18 42h0m29 77h0m-15-105h0m-14-3h0m9 63h0m0-9h0m-33-13h0m55 18h0m7 38h0m-42-79h0m32 18h0m-36-37h0m-36 83h0m53 30h0m6-121h0m-48 68h0m58 5h0m-9-56h0m-64 16h0m45 0h0m59 56h0m-4-6h0m-91-79h0m60 68h0m-12 38h0m-62-64h0m74 95h0m-47-28h0m58-50h0m-57 10h0m59 13h0m-69-20h0m54-55h0m-62 87h0m48-75h0m44 88h0m-80-84h0m56 20h0m-16 55h0m-14-55h0m-5 29h0m-48-46h0m45 34h0m0 56h0m-38-55h0m49 12h0m16-74h0m-1 99h0m-63-1h0m41 21h0m-15-52h0m11-13h0m4-55h0m-10-11h0m65 136h0m-24-31h0m26 28h0m-78-134h0m24 103h0m18-83h0m47 87h0m-84-17h0m28 60h0m-24-103h0m30 97h0m-3-55h0m-13-37h0m-30-17h0m82 55h0m-66-87h0m2 44h0m31 69h0m-32-94h0m27 42h0m1-61h0m28 130h0m-14-106h0m-68 21h0m53 53h0m-25 20h0m-31-70h0m12-5h0m20 86h0m2-47h0m-16-70h0m64 92h0m-37 13h0m-35-16h0m-11 8h0m95-6h0m-48-45h0m60 63h0m-53-113h0m43 88h0m-66-26h0m25-7h0m28 26h0m-38 40h0m-5-120h0m-3 4h0m-35 78h0m12-24h0m63 66h0m18-27h0m-6-35h0m-27 43h0m-2 5h0m-47-21h0m56-83h0m13 117h0m29-6h0m-35-18h0m-59-29h0m81 51h0m-5-12h0m-52-87h0m33 38h0m-43-57h0m35 116h0m-43-64h0m32 53h0m-8-87h0m-3 33h0m10-26h0m-27 64h0m-2 2h0m17-62h0m-27 3h0m80 82h0m-56 19h0m27-26h0m-46 20h0m61-58h0m-51 9h0m-17 18h0m64-85h0m19 76h0m-67 20h0m51 23h0m-32-22h0m-40-106h0m-11 76h0m54-54h0m-41 65h0m12 16h0m22 2h0m-43-36h0m11-73h0m39 128h0m-4-80h0m8 35h0m49 29h0m-76-89h0m41 32h0m-61 40h0m10 5h0m6-46h0m-8-22h0m-14 64h0m8 2h0m85-11h0m-18-56h0m-11 106h0m-40-51h0m3 37h0m31-38h0m6 2h0m29 36h0m-25-48h0m-16-26h0m-59 5h0m87 21h0m-61-33h0m49-11h0m-6 68h0m-38-4h0m33 13h0m-62-52h0m63 27h0m17-46h0m-71-22h0m44 42h0m2-59h0m-22 30h0m4 48h0m28 29h0m-23 5h0m-15-9h0m12-23h0m2 43h0m56-2h0m-3-59h0m-63 5h0m75 33h0m-48-45h0m-46 18h0m33 60h0m16-94h0m-46-43h0m87 75h0m-52-77h0m-51 24h0m28 38h0m70 56h0m-39-48h0m-46-66h0m64 66h0m-56 14h0m57 52h0m-6-32h0m-36 21h0m-19-108h0m28-13h0m35 67h0m4-21h0m-49-18h0m6 90h0m-15-36h0m60-15h0m14 40h0m-83-103h0m69 67h0m-62 27h0m41 17h0m34-33h0m-41-13h0m0 1h0m-3-21h0m-26 46h0m25-51h0m3-22h0m-32 83h0m16-110h0m60 124h0m-37-93h0m15 0h0m-31 35h0m42 19h0m-57 38h0m-4 15h0m69-42h0m-72 41h0m63-46h0m-9-13h0m-36-65h0m-41 7h0m31 14h0m-23 44h0m22-28h0m7-29h0m42 54h0m-60 24h0m44-9h0m-59-36h0m100 45h0m7 33h0m-97-96h0m14-34h0m37 111h0m32-10h0m-22-85h0m-68 95h0m16-51h0m-15-23h0m80 63h0m-55 37h0m73-57h0m-27-57h0m-83 99h0m11 7h0m47 24h0m46-81h0m-24-61h0m-70-10h0m103 138h0m-79-151h0m3 159h0m83-14h0m-127-87h0m71-51h0m41 76h0m-42-76h0m12 15h0m-82 33h0m104 105h0m-16-138h0m-87 34h0m97 7h0m-95 46h0m100 48h0m-106-114h0m66 115h0m1-161h0m-3 167h0m-58-93h0m57 89h0m36-96h0m-71 82h0m-14-129h0m79 10h0m-85 105h0m13 15h0m85 10h0m-79-9h0m86 4h0m-47-156h0m-67 41h0m-16 12h0m10-4h0m-30 3h0m28 6h0m0-22h0m2 10h0m-13-13h0m-8 27h0m7-21h0m-8 15h0m-3 0h0m7-5h0m2 1h0m-5 5h0m26-8h0m-9-2h0m-10 1h0m10 7h0m-6-6h0m-8 8h0m0-19h0m-5 17h0m5-3h0m2 5h0m20-16h0m-12-1h0m-1 8h0m5 6h0m-15 7h0m938 36h0m-91-33h0m31 19h0m-20-19h0m74 85h0m-18-86h0m-95 13h0m57-25h0m-6 44h0m-5 13h0m38-50h0m-48 48h0m27-27h0m29-3h0m-11 87h0m-76-133h0m81 71h0m-20-60h0m-89 17h0m110 12h0m4 80h0m14-1h0m4-16h0m-84-90h0m-10 36h0m9 2h0m58 28h0m-19-71h0m-43 93h0m-12-37h0m61 48h0m-15 19h0m75-63h0m-91-53h0m16 101h0m7-72h0m-28-19h0m42 111h0m13-82h0m13-16h0m-103-9h0m102 37h0m19 32h0m-117-99h0m28 96h0m24-36h0m-22-59h0m49 108h0m-98-95h0m45 95h0m13-51h0m41-20h0m-73-23h0m-5 47h0m58-34h0m26 59h0m-64-6h0m-16-6h0m54-37h0m56 69h0m-23 10h0m-108-80h0m88-18h0m31 28h0m-90-1h0m72 27h0m40 6h0m-45-24h0m-47-8h0m18 66h0m62-46h0m-97-12h0m99 54h0m-109-82h0m80 5h0m-59 13h0m23-18h0m-36 76h0m17 2h0m92-19h0m-6-11h0m-25 31h0m-66 6h0m31-99h0m69 71h0m-99-88h0m67 109h0m-44-12h0m60 4h0m-55 20h0m-12 19h0m54-49h0m-120-57h0m52-33h0m54 132h0m15-88h0m-82-44h0m-2 107h0m68-2h0m30 18h0m-94-40h0m-21-27h0m82 67h0m-10-100h0m48 79h0m-82-97h0m-28 92h0m-3-3h0m7-77h0m28 32h0m-29 30h0m26-82h0m71 86h0m-97-2h0m67 59h0m23-89h0m-45-9h0m-13 35h0m5 7h0m25 29h0m-13-106h0m15 78h0m-48-18h0m83 51h0m-80-47h0m11-41h0m-52-7h0m90 93h0m-27-3h0m33-57h0m-20 81h0m-13-51h0m-25-55h0m60-1h0m-43 67h0m-38-54h0m-24-20h0m120 110h0m-73-111h0m6 109h0m51-70h0m37 47h0m-75-87h0m57 77h0m-57-69h0m7-25h0m51 84h0m-8 47h0m-23-12h0m-15-57h0m5-46h0m-8 108h0m55-50h0m-39-32h0m19 62h0m-36-63h0m17 3h0m-54-11h0m33 23h0m5 24h0m-54-45h0m93 7h0m23 48h0m-50-70h0m49 93h0m-11-14h0m-14-42h0m-76 56h0m-8-51h0m72 6h0m-31-13h0m72 9h0m0-8h0m-14 7h0m-79-55h0m6 61h0m79 32h0m-38-40h0m20 48h0m-70-58h0m33 40h0m3-16h0m15-44h0m-26 20h0m62 57h0m-29-18h0m29 17h0m-100-83h0m-23-23h0m96 62h0m-34 4h0m-22-42h0m20 29h0m-39 47h0m40-65h0m-8 60h0m27-87h0m26 102h0m-34-95h0m-55 81h0m33-33h0m78 45h0m-26-32h0m-97-48h0m58 87h0m5-73h0m-12-53h0m-30 44h0m26 82h0m45-53h0m-93-19h0m69 28h0m-23-72h0m19 12h0m34 74h0m-39 21h0m48 14h0m-6-84h0m-12 38h0m-87-69h0m103 107h0m-13-25h0m-34 26h0m21-9h0m-13-101h0m18 23h0m-83-13h0m37 8h0m-1 48h0m-7 0h0m74-6h0m7 0h0m-27-47h0m-62 34h0m72 6h0m12 62h0m-84-92h0m-24-31h0m94 94h0m1-47h0m-6-2h0m-30 15h0m33 61h0m-18-48h0m-54-38h0m91 59h0m-11-18h0m2-10h0m-1 32h0m-80-42h0m56 62h0m-44-10h0m50-87h0m-64 4h0m34-12h0m15 102h0m-36-71h0m91 53h0m-2-43h0m-15 48h0m-7-27h0m-10 56h0m-76-38h0m112-3h0m-75 42h0m79-61h0m-94-5h0m60-5h0m-43-5h0m-51-38h0m74 76h0m17-69h0m-9 7h0m-17 83h0m-50-15h0m16-99h0m54 68h0m-12-34h0m-15 102h0m-15-72h0m74 34h0m-105-14h0m85 21h0m-10-60h0m-37-30h0m-23 13h0m55 6h0m-74-33h0m97 50h0m17 62h0m-99-28h0m-1 20h0m86-38h0m-67-72h0m50 93h0m-30-43h0m-30 50h0m53 21h0m-67-10h0m-2-100h0m71 123h0m22-87h0m-53 81h0m17-97h0m7 3h0m-73 7h0m64 6h0m35 2h0m-97-2h0m98 88h0m-87-114h0m-15 25h0m24 14h0m39 71h0m0-51h0m-10 27h0m55-8h0m-32-55h0m-60 47h0m79-18h0m-2-30h0m-63 15h0m17-27h0m21 100h0m15-97h0m-59 0h0m8 58h0m22-78h0m29 13h0m0 13h0m-52 20h0m42-36h0m-68-9h0m27 50h0m-42-12h0m70 63h0m-47-14h0m36-76h0m-45-15h0m-20 37h0m104 48h0m6 9h0m-55-100h0m-2 15h0m58 43h0m-69 65h0m24-123h0m41 29h0m20 83h0m-72-49h0m34 54h0m-6-48h0m-61-47h0m44 112h0m-7-8h0m30-10h0m-48-82h0m36 2h0m-9 90h0m-5-97h0m-28 21h0m71 26h0m7 31h0m-74-66h0m10 89h0m-31-111h0m-1-7h0m21 83h0m96-22h0m-84-39h0m-46-25h0m48 78h0m11-58h0m-18 23h0m64-11h0m-6-7h0m-36-34h0m12 81h0m-36-13h0m42-41h0m3 18h0m1-12h0m18 104h0m-60-105h0m-25 66h0m100 15h0m-50-104h0m28 109h0m-25-2h0m-37-105h0m-2 16h0m-27 23h0m50-1h0m-3 2h0m30 39h0m-8-61h0m12 81h0m-49 9h0m68-30h0m-98-70h0m54 51h0m-21-54h0m11 26h0m-33-3h0m43-42h0m51 79h0m-50 30h0m-15-47h0m93 18h0m-57 6h0m-75-82h0m90 31h0m14-3h0m-114 17h0m147 20h0m-26 73h0m25-37h0m-24-66h0m-60-44h0m84 98h0m-90 50h0m80-86h0m-91-65h0m0 142h0m78 5h0m-97-148h0m122 72h0m4 48h0m-158-95h0m23 84h0m132 10h0m-107 28h0m102-50h0m-45-69h0m-111 2h0m29 84h0m105 38h0m-55-149h0m34 29h0m-53 119h0m77-4h0m-107-42h0m-19-90h0m46 128h0m-30-52h0m128-21h0m-138-62h0m141 75h0m-152-63h0m99 136h0m-16-145h0m31 26h0m-474 1048h0m50-27h0m-11-4h0m-50-9h0m71 37h0m-45-18h0m12-56h0m-24 86h0m39-22h0m-37-58h0m7 36h0m-8 0h0m25 34h0m-21-80h0m15-3h0m35 69h0m-56-31h0m30 12h0m-17 35h0m-5-1h0m-12-48h0m14 16h0m-7-18h0m53 27h0m-17-10h0m-42 43h0m-1-5h0m-4-34h0m41 5h0m-40 11h0m14-6h0m-15 11h0m45 17h0m-29-42h0m17 30h0m16 12h0m-25-81h0m-21 19h0m23 63h0m1-31h0m12-28h0m7 8h0m21 33h0m-15-18h0m-13 36h0m-8-92h0m19 59h0m-38-42h0m30 38h0m-48 4h0m19 21h0m46-12h0m-57-10h0m45 23h0m-28 2h0m11-55h0m-9 65h0m31-33h0m-48 9h0m11-1h0m38 25h0m-11-53h0m-35 17h0m3 23h0m19-77h0m9 6h0m-34 81h0m1-24h0m-4-32h0m19 22h0m-18 10h0m5 1h0m29 3h0m-35 20h0m41-37h0m3-18h0m-42 16h0m6-40h0m19 17h0m-1-15h0m5 40h0m4 43h0m5-47h0m-4-2h0m1-23h0m-32 16h0m15 34h0m26 9h0m-34 2h0m-8 2h0m9-84h0m24 12h0m-39 76h0m27-51h0m17 54h0m1-11h0m-3 2h0m-2-29h0m-31-21h0m46 16h0m-44 26h0m57 16h0m-7-7h0m-56-24h0m-1 0h0m-1 20h0m68 0h0m-52-23h0m4-7h0m6-47h0m-35 40h0m43 45h0m8-45h0m-23 43h0m-1-4h0m25 0h0m-28-42h0m6-38h0m3 56h0m14-12h0m12 0h0m-48 15h0m24-14h0m23 35h0m7-11h0m-8-14h0m-57 29h0m7-8h0m33-55h0m12 40h0m-8-4h0m-1-55h0m-12 69h0m30 3h0m-16 16h0m22-2h0m-59-9h0m890 941h0m11 16h0m-8-18h0m-1-4h0m6 1h0m-9 14h0m-4 1h0m7 13h0m1-7h0m8 5h0m3-22h0m-13-4h0m-6 12h0m21 0h0m-15 12h0m1 0h0m10-3h0m2-14h0m-13 20h0m-3-12h0m15-3h0m-15 7h0m13-3h0m5 6h0m-5 4h0m0-4h0m-7-20h0m0 5h0m10 15h0m-18 4h0m3-14h0m-7 8h0m22-3h0m-16 0h0m12-7h0m-2-6h0m5 12h0m-17-11h0m5 0h0m-2 21h0" stroke="#A2BED9" stroke-width="5.5"/>
<path d="M995 795h0m10 4h0m-24-3h0m3-2h0m10 6h0m-4-10h0m-15 0h0m33 9h0m-9-4h0m-11-1h0m3 4h0m-11-5h0m14 2h0m17 2h0m-27-11h0m-2 1h0m26 13h0m-26-3h0m24 2h0m-18-2h0m13-3h0m-12 1h0m1-4h0m-4 2h0m-11-1h0m-15-128h0m-13 0h0m19 6h0m-1-1h0m-13-5h0m13 5h0m-1 1h0m-4-6h0m5 7h0m-20-11h0m9 7h0m-6-3h0m16 6h0m-1-4h0m764-4h0m-6-2h0m4-5h0m9 11h0m-3-1h0m-3-5h0m-13-4h0m21 7h0m7 10h0m-6-5h0m-4 3h0m-16-14h0m12 6h0m1-3h0m-773 978h0m-1 6h0m5-2h0m-6 1h0m5 3h0m3 5h0m3 6h0m7 10h0m-10-20h0m13 24h0m-13-24h0m-4-2h0m17 34h0m-1-7h0m-11-14h0m8 14h0m-13-33h0m0 0h0m12 26h0m-4-11h0m7 16h0m-13-19h0m16 21h0m-9-16h0m10 28h0m-9-17h0m-10-29h0m4 10h0m17 33h0m-3-14h0m786 2h0m-14-36h0m19 47h0m0-4h0m-27-46h0m-4-23h0m22 50h0m2 8h0m-21-55h0m4 20h0m20 45h0m-22-48h0m6 11h0m15 33h0m-32-61h0m28 53h0m6 14h0m8 5h0m-3 4h0m-22-53h0m16 42h0m-10-27h0m-17-40h0m34 81h0m-18-47h0m15 41h0m-22-49h0m-13-23h0m12 11h0m24 70h0m-14-40h0m-4-10h0m3 11h0m16 32h0m-9-18h0m-14-34h0m-4-11h0m21 58h0m-21-50h0m19 31h0m6 20h0m-9-22h0m-7-23h0m2 10h0m15 37h0m3-2h0m-3 0h0m-27-45h0m-12-31h0m39 81h0" stroke="#4C8CD6" stroke-width="6"/>
<path d="M791 377h0m-51 39h0m-1-27h0m7 5h0m38 6h0m-68-5h0m24 67h0m13-48h0m-19 53h0m-6-1h0m-8-58h0m56-11h0m-17-17h0m-22 27h0m-22-5h0m16-21h0m-18 40h0m51-14h0m-22 23h0m4-25h0m-33 3h0m25-21h0m-27 42h0m33-4h0m16-48h0m-42 87h0m-5-4h0m85-81h0m-43 38h0m47-24h0m-38-3h0m-33 68h0m5-75h0m25-5h0m-5 34h0m-37 63h0m82-87h0m-49 17h0m23-19h0m-34 35h0m50-21h0m-59 26h0m7-50h0m-22 22h0m-5 3h0m20 63h0m3-30h0m37-43h0m33 7h0m-74 86h0m-15-26h0m38-61h0m9-11h0m-30 14h0m-3 21h0m45-45h0m-32 37h0m-28 37h0m-1 2h0m-4-8h0m38-69h0m-7 39h0m-6 39h0m-17-44h0m29-21h0m58 8h0m-44 4h0m-26 35h0m-20-21h0m21 53h0m46-87h0m-61 79h0m64-67h0m-17-3h0m-33 97h0m11-104h0m29 22h0m-45 4h0m60-24h0m-24-2h0m-48 100h0m3-26h0m66-75h0m-76 73h0m1-20h0m8 22h0m16-49h0m-22-15h0m-1 52h0m25-44h0m-8-9h0m-19 39h0m39-14h0m-37 38h0m18-2h0m1-60h0m-19 24h0m86-35h0m-61-2h0m-22 36h0m12 8h0m-10 12h0m-4-11h0m74-20h0m2-2h0m-81 35h0m21-40h0m26 9h0m7-22h0m-50 4h0m8-5h0m35 4h0m16 2h0m-51 53h0m69-53h0m-52 1h0m19-13h0m-27 36h0m-16 48h0m23-38h0m32-42h0m-11 9h0m7-9h0m-11 2h0m-40 81h0m9-38h0m-9-39h0m2 35h0m6 47h0m41-77h0m-27 78h0m35-91h0m-43 44h0m39-20h0m-54 35h0m16-41h0m36 5h0m17 4h0m-14 1h0m16-4h0m-50 45h0m5-61h0m-27 57h0m20-59h0m53 5h0m-2 15h0m-17 6h0m-33 36h0m12-24h0m-13-35h0m21 6h0m34-10h0m-56 22h0m-3-10h0m-12 38h0m9 13h0m13-20h0m39-29h0m-40 18h0m43-21h0m-16-11h0m-8 9h0m3 22h0m-34 61h0m1-21h0m-1-22h0m29-40h0m-10 31h0m51-37h0m-60 49h0m59-57h0m-57 13h0m-6 32h0m4 21h0m53-44h0m-47 2h0m35 0h0m6-19h0m-46-7h0m-10 53h0m-12-20h0m61-9h0m-30 28h0m-26 51h0m37-83h0m-21 44h0m-18-40h0m10 31h0m49-32h0m-50-17h0m46 3h0m-10 10h0m-28 66h0m19-71h0m-20 72h0m-15-75h0m41 7h0m5 11h0m-43 43h0m19-15h0m4-15h0m-21 39h0m10-38h0m0 22h0m30-56h0m-6 17h0m-19 79h0m-14-36h0m48-79h0m-59 11h0m47 37h0m-37 70h0m12 6h0m-27-40h0m5 38h0m94-101h0m-16-14h0m-84 37h0m0-5h0m10 84h0m54-82h0m-63 56h0m77-90h0m-80 58h0m40 4h0m5-15h0m57-39h0m-72 113h0m781-140h0m55 17h0m-16-13h0m1 47h0m-19 6h0m-4 25h0m1-76h0m-41 23h0m28-19h0m-11 59h0m8-38h0m-20 19h0m40-37h0m43 17h0m-73-15h0m43 52h0m-29 6h0m21-29h0m-2-3h0m-16 31h0m43-34h0m-42 37h0m-26-69h0m30 22h0m49-15h0m-4 56h0m4-53h0m-16 13h0m-59-23h0m53 0h0m12 7h0m-73 61h0m25-25h0m43-25h0m-14-30h0m-5 5h0m-27 74h0m-21-4h0m24 3h0m18-48h0m6-20h0m-29-1h0m22 86h0m-26-69h0m43 35h0m10-8h0m-23 0h0m10-1h0m-13 10h0m-10 0h0m30 17h0m-56-3h0m38 12h0m-12-9h0m6-17h0m29-16h0m15 1h0m-27 5h0m-13 17h0m-26-1h0m5 21h0m-21-9h0m23-79h0m-13 58h0m-20-37h0m89 45h0m-22-54h0m21 70h0m-64 7h0m6-41h0m-11-8h0m11 51h0m53-68h0m-59-12h0m-21 49h0m3-46h0m59-14h0m20 54h0m-19 15h0m29-2h0m-86-11h0m62-50h0m-15 32h0m23 29h0m-77-47h0m34 41h0m13 3h0m-1-56h0m1 82h0m-18-29h0m61 4h0m-21-57h0m30 25h0m-32 13h0m-60-1h0m24 20h0m10 31h0m-30-49h0m33-45h0m18 1h0m-25 66h0m-38-24h0m42 49h0m25-31h0m-37-3h0m38 7h0m22-19h0m-62-8h0m18-27h0m-48 18h0m31 15h0m8 17h0m31-34h0m13 31h0m-58 24h0m50-35h0m-33 12h0m-44-19h0m89-15h0m7 21h0m-21 28h0m-62-65h0m13 24h0m67 33h0m-60 0h0m-25-33h0m39 7h0m28-32h0m7 5h0m-46 8h0m-15 63h0m10 4h0m18-10h0m46-43h0m-49 8h0m-10 12h0m-34-32h0m46 70h0m24-59h0m15-19h0m-25 45h0m-49-48h0m23 74h0m3-56h0m4-13h0m27 57h0m32-20h0m3 1h0m-2-16h0m-96-24h0m77 37h0m-54-5h0m2-46h0m7 47h0m-12 37h0m59-44h0m17 7h0m-54-14h0m-31 9h0m75-2h0m-9-12h0m-55 45h0m52-13h0m-38 2h0m30-52h0m-30-6h0m13 65h0m13 11h0m-24-20h0m15-34h0m23 12h0m-57-40h0m28 93h0m-22-16h0m-19-22h0m19-51h0m-14 70h0m62-55h0m-65 32h0m54 30h0m-20-5h0m29-43h0m-49 48h0m-18-65h0m60 47h0m-10-1h0m-47 10h0m50-47h0m-18-2h0m-13 27h0m22 41h0m-11-82h0m-2-22h0m-12 12h0m17-4h0m-20-3h0m7 3h0m-11-7h0m1-1h0m8-8h0m-12 3h0m9 8h0m15-4h0m10 8h0m-4 0h0m-19-3h0m-3 0h0m1-12h0m-8 15h0m1 1h0m25-7h0m-13 1h0m7-1h0m-18 5h0m2-5h0m18 9h0m2-18h0m-19 14h0m6 0h0m19-11h0m-1 16h0m-32-8h0m4-8h0m17 14h0m-21-9h0m16-3h0m8 15h0m-27-4h0m43-9h0m0 2h0m-21-1h0m5-8h0m11 87h0m8-17h0m11 13h0m-41 8h0m27 6h0m-8-24h0m-48 8h0m46-8h0m-20-1h0m42 29h0m15-40h0m-34 17h0m-20 16h0m48 2h0m-77-12h0m73-1h0m6 13h0m-23-25h0m-39 31h0m3-36h0m0-2h0m31 6h0m-46-6h0m64 17h0m-56 8h0m47-32h0m22 36h0m-22 10h0m-5-19h0m-26-24h0m21 11h0m4 12h0m-28-1h0m34 14h0m-9-46h0m-29 38h0m19 16h0m-24-8h0m43-9h0m-19-10h0m36-17h0m-46 21h0m-6 9h0m1 4h0m25-11h0m8 0h0m-6 14h0m1-10h0m-40-21h0m23 37h0m-13-29h0m42-15h0m-2 36h0m4-12h0m-3-18h0m-29 12h0m-32 11h0m66-22h0m18 9h0m-13 21h0m-31 6h0m-21-22h0m36 27h0m5-44h0m-5-10h0m-44 44h0m43-35h0m9 6h0m-14 38h0m-3-43h0m-24 12h0m20-8h0m41 10h0m-71 23h0m-6-15h0m39-10h0m20 3h0m-63-7h0m41 14h0m0-8h0m9 30h0m-33-22h0m33 11h0m-11-4h0m-29-9h0m57-9h0m-19 5h0m-17-24h0m-30 5h0m31 30h0m-32 4h0m64-31h0m-27-3h0m-19 21h0m-13-20h0m-6 6h0m41 38h0m-13-56h0m-13 23h0m-5 23h0m17 12h0m-2-60h0m-15 41h0m35-41h0m28 48h0m-9-25h0m-35 15h0m-4-26h0m0 29h0m19-16h0m10 0h0m-37 11h0m33-3h0m-7 0h0m-3 15h0m-42-28h0m-1 8h0m7 18h0m37 4h0m2 0h0m-49-18h0m45-22h0m-8 47h0m-22-50h0m41 19h0m-1-1h0m-20 21h0m12 4h0m5 2h0m-12 1h0m15-23h0m4 8h0m-4 22h0m2-49h0m-3 19h0m9 4h0m-5-30h0m-767 985h0m-11-10h0m-4-4h0m-40 19h0m51 9h0m-3-28h0m-25 28h0m14-11h0m-15-22h0m26 27h0m-10-27h0m-27 4h0m5 24h0m-20 3h0m38 4h0m-9 3h0m-15-38h0m2 7h0m46 20h0m-2-22h0m-19 13h0m12 19h0m-1-33h0m-17 36h0m-13 1h0m3-36h0m11 5h0m-2 10h0m7 5h0m17-12h0m-31 9h0m21 7h0m-50-11h0m0 12h0m58-10h0m-4 16h0m-33-21h0m25-12h0m14 20h0m0 13h0m-52-28h0m38 19h0m18-1h0m-44-23h0m-10 14h0m59 13h0m-58-24h0m22 32h0m33-21h0m-29-14h0m7 17h0m-37 11h0m27-20h0m4 1h0m6-10h0m-20 24h0m12 15h0m32-12h0m-60-22h0m-2 20h0m54 3h0m-20-7h0m27-5h0m-36 4h0m-9-6h0m-14 19h0m28-34h0m-11 0h0m43 19h0m-38-16h0m44 21h0m-52 4h0m27 3h0m-12 4h0m-14-9h0m6-29h0m42 31h0m-50-4h0m-16-13h0m39 19h0m-21-18h0m2 27h0m44-12h0m-14-9h0m-35-12h0m-9 7h0m61 4h0m-44 24h0m-19-34h0m20 33h0m4-17h0m-32 1h0m39-16h0m-35 10h0m48 3h0m-11 21h0m-6-40h0m19 28h0m-4-29h0m11 17h0m-51-4h0m4-5h0m13-13h0m2 18h0m32 8h0m4-5h0m-36-21h0m-25 18h0m23 1h0m-12 15h0m25-15h0m-21 19h0m-13-12h0m14 4h0m-9-18h0m84 22h0m-34-24h0m34 7h0m-19-4h0m-18 1h0m23-5h0m22 26h0m-13 7h0m-3-1h0m-2 8h0m14-10h0m-3-15h0m-35 5h0m19-19h0m5 11h0m4 1h0m-43 3h0m7-11h0m49 10h0m-16 16h0m0 3h0m14-14h0m-20 16h0m-6-2h0m2-25h0m28 15h0m-3-11h0m-11 22h0m-12-18h0m3-8h0m-18 18h0m4 12h0m33-25h0m-33 5h0m20 4h0m-31-14h0m14 17h0m-5-20h0m-5 24h0m0-11h0m8 17h0m14-4h0m22-15h0m-35-15h0m9 32h0m-27-25h0m16 7h0m25-5h0m3 18h0m-34-28h0m8 31h0m-4-27h0m5 35h0m-22-32h0m42 18h0m3 11h0m1-19h0m8-2h0m-3-7h0m-10 12h0m721-13h0m50-4h0m-40 24h0m23-2h0m-32-25h0m47 25h0m-65-21h0m-5 7h0m32-7h0m-1 14h0m-1-4h0m-20-18h0m32 3h0m-14 7h0m-4 29h0m19-34h0m14-6h0m-60 24h0m5-9h0m13-14h0m7 22h0m47-5h0m-19 5h0m33 1h0m-67-7h0m52-11h0m-56 15h0m32 0h0m28-15h0m-39-3h0m35 15h0m-55-4h0m-10 3h0m37 7h0m19-15h0m3-2h0m-49-1h0m-2 16h0m64-3h0m-45 12h0m53-13h0m-83-7h0m71-4h0m-67 14h0m1-15h0m62-1h0m-5 1h0m-16 2h0m7 3h0m8 21h0m9-16h0m-67 16h0m7-25h0m32 29h0m-45-11h0m35-6h0m-13 8h0m31-5h0m-26 5h0m-19-11h0m29 11h0m32 4h0m-56-19h0m24 13h0m-20 10h0m36-18h0m-36-5h0m-5-1h0m24 18h0m23-13h0m-1-16h0m-27 29h0m20-10h0m9 7h0m-31-16h0m-29 9h0m1 1h0m63 15h0m-37-38h0m-23 23h0m34-12h0m0 2h0m18 1h0m-2 21h0m-34 4h0m43-28h0m-50 19h0m57-14h0m-67 8h0m58 5h0m-37-14h0m14 7h0m-11 9h0m-29-2h0m58-9h0m29 11h0m-11-7h0m-65-9h0m-4 9h0m31-13h0m37-6h0m-26 2h0m38 8h0m-10 8h0m-50 0h0m20-9h0m8 1h0m-31-4h0m26 29h0m5-34h0m-30 14h0m37 9h0m6-3h0m6-11h0m-5 4h0m-55 17h0m54-8h0m-60 7h0m72-14h0m-46 23h0m4-21h0m9-23h0m24 36h0m-39 4h0m-5-36h0m30 37h0m-53-14h0m0-9h0m-3 0h0m13-1h0m30-17h0m18 43h0m-62-25h0m55 6h0m-2-5h0m18-1h0m-12 8h0" stroke="#E569AE" stroke-width="5.5"/>
<path d="M726 466h0m-16-4h0m5 0h0m4-5h0m3 18h0m1 0h0m4-18h0m-6 25h0m-4-25h0m8 6h0m3 4h0m-10-13h0m2 8h0m13 2h0m-16-6h0m-4-2h0m23 2h0m-12 1h0m-7 21h0m-1-26h0m-5 18h0m25-6h0m-19-9h0m-3 12h0m21 3h0m-1-9h0m-10 0h0m6-3h0m-22 8h0m12 6h0m12-16h0m0 19h0m-9 3h0m1-9h0m-10-7h0m10-4h0m-10 16h0m-3-5h0m15-9h0m-9 12h0m0-22h0m6 1h0m4 24h0m-7-7h0m11 3h0m-12 0h0m2 2h0m10 3h0m-11 3h0m3-7h0m7-10h0m3 10h0m-10 3h0m-5-8h0m3-1h0m-6-5h0m-1 17h0m-4-12h0m27 0h0m-9 1h0m77-41h0m-12-2h0m-10-1h0m13 16h0m6-17h0m-8 10h0m1-15h0m14 5h0m-23-2h0m16-2h0m1 2h0m-14 3h0m8 14h0m-5-16h0m-3-3h0m19 5h0m-2 1h0m-24 2h0m20 10h0m-20-8h0m11 7h0m2-9h0m7 15h0m-13-21h0m17 0h0m-25 12h0m14 6h0m7-4h0m-3-2h0m7-7h0m2 4h0m1 0h0m-10-9h0m-7 15h0m-2 5h0m0-3h0m-4 0h0m-1 0h0m5 5h0m20-10h0m-5-11h0m-5-3h0m9 18h0m-26-4h0m18-12h0m-3 21h0m-6-24h0m-8 2h0m26 7h0m-20 11h0m-9-9h0m4 9h0m-3-5h0m22 8h0m-10-16h0m13 10h0m-26-2h0m29 0h0m-12-11h0m13 12h0m667 46h0m-4-9h0m28-33h0m-25 16h0m31 20h0m22-21h0m-12-9h0m3 17h0m0-3h0m-41-14h0m-10 8h0m3 8h0m44-5h0m-46-13h0m22 26h0m15-8h0m-9 17h0m31-14h0m-59-12h0m44 5h0m-49 16h0m56-25h0m-32 36h0m18-22h0m-19-3h0m33 18h0m-33-9h0m17-15h0m3-5h0m-15 36h0m6 1h0m4-22h0m14 17h0m-24-7h0m-2-9h0m-14-13h0m36-10h0m-45 18h0m47-4h0m4-2h0m-11 12h0m-10-30h0m11 27h0m-8-25h0m7 36h0m-35-24h0m0 22h0m53-19h0m-40 33h0m5-10h0m-26-6h0m63-1h0m-26-25h0m-35 26h0m36-28h0m15 25h0m-31 11h0m20-23h0m10 2h0m-28-16h0m10-2h0m-2 43h0m-25-2h0m31-13h0m-3-2h0m13 7h0m-37-21h0m31 14h0m15 0h0m-32 15h0m-12 2h0m1-18h0m23-20h0m-33 2h0m45 22h0m-30 5h0m32-8h0m-22-29h0m22 7h0m-18 24h0m-32-19h0m53 17h0m-45 13h0m30-38h0m-7 18h0m-10-19h0m6 27h0m19-26h0m10 24h0m-36 18h0m-23-19h0m39-12h0m-18 4h0m34 20h0m-52-1h0m57-24h0m-41 13h0m12 1h0m-30-4h0m65 7h0m1-5h0m-41 12h0m28-20h0m-55 12h0m39-5h0m-11-6h0m-15 0h0m23-15h0m-22 3h0m1 23h0m39 2h0m-21-11h0m-7 30h0m-15-6h0m19-31h0m75-5h0m-2-20h0m-10 6h0m6-10h0m-6 18h0m5-15h0m20 6h0m-16 2h0m18 5h0m-24-6h0m13 6h0m-12 1h0m5-10h0m6 13h0m9-4h0m-3-16h0m-13 6h0m15-1h0m-8 1h0m3 7h0m6 0h0m-26-3h0m8-7h0m22 9h0m-18 0h0m-9-9h0m24 12h0m-12-4h0m0 5h0m-11-3h0m6 9h0m6-13h0m-7 6h0m-4-5h0m8-8h0m9 20h0m-9-2h0m4-17h0m4 15h0m2 0h0m-2-6h0m-1-11h0m-19 14h0m20 1h0m-8 7h0m0-10h0m0 1h0m9 3h0m0-11h0m-16-1h0m-772 971h0m32-6h0m-32 12h0m4 7h0m9-3h0m11-11h0m-1 11h0m-14-23h0m2 22h0m-7 5h0m17-23h0m3 7h0m-28 1h0m1 10h0m25-6h0m3 7h0m-6-7h0m11 5h0m2-13h0m-27 1h0m19-7h0m-12 21h0m13-1h0m-9-17h0m-5 17h0m-17-5h0m20-9h0m11 13h0m-13-2h0m5 4h0m-14-18h0m-1 2h0m10 2h0m4 5h0m4 0h0m-14 14h0m-2-3h0m9-6h0m20-6h0m-32-5h0m20-3h0m2 6h0m-11 0h0m14-2h0m-6 1h0m-20 4h0m0-6h0m8-8h0m3 5h0m8 18h0m12-6h0m-1-3h0m-10 11h0m-13-11h0m-1-7h0m-5 18h0m2-7h0m18-13h0m-24 7h0m30 3h0m780-14h0m-6-19h0m-3 12h0m10 17h0m-6-5h0m15-4h0m-22 17h0m21-11h0m-12 6h0m-8-9h0m16 0h0m-6 2h0m-4-16h0m-2 2h0m-13 14h0m10 10h0m-6-15h0m13-20h0m-15 25h0m20 11h0m2-6h0m-12-18h0m7-9h0m-14 32h0m8-4h0m-3-1h0m14-12h0m-23 2h0m22-2h0m-5 18h0m-1-4h0m0 0h0m-15-23h0m8-2h0m1 20h0m-11-8h0m21 13h0m-1 0h0m11-5h0m-17-9h0m4-19h0m-4 0h0m17 29h0m-3-6h0m-18-14h0m7 0h0m4-4h0m-6 7h0m-3 18h0m6-2h0m-1-1h0m7 1h0m-12-2h0m16-13h0m-20-2h0m20-1h0m-13 27h0m9-4h0m-18-20h0m-3 2h0m12-11h0m-1 1h0m1 31h0m-10-25h0m11 19h0m14-9h0m-20 15h0m-8-22h0m2-2h0m28 15h0m-22 8h0m2 3h0m3 2h0m10-16h0m-18 8h0m0-20h0m-439 988h0m7 10h0m4-12h0m-3 0h0m-6-3h0m8-8h0m-2 12h0m2-12h0m4 2h0m4 15h0m-5 6h0m-2-23h0m5 18h0m-3 5h0m-10-18h0m13 10h0m-2 0h0m-16-6h0m12 11h0m5-13h0m0-5h0m-3 3h0m-13 10h0m12 7h0m-1-15h0m8 4h0m-9-2h0m10-1h0m-12-1h0m6 16h0m886-3h0m-9-19h0m-4 13h0m14-15h0m1 8h0m-6 12h0m0 0h0m-7-7h0m5-1h0m-6 3h0m7-11h0m10 15h0m-2-14h0m-9 8h0m-3-11h0m9 9h0m-13 0h0m19 9h0m-12-20h0m18 7h0m0 8h0m-3-7h0m-11-6h0m-4 20h0m-9-11h0m17-2h0m-10-6h0m14 2h0m-15 11h0m3 0h0m-2 2h0m-4 1h0m13-17h0m2 19h0m1-2h0m3-6h0m-8 9h0m-6-12h0m-5 6h0m9-3h0m-92 42h0m9-10h0m-25 15h0m14-4h0m8 6h0m-7-10h0m17 1h0m-1 13h0m2 7h0m-16 5h0m-6-9h0m5-3h0m14 8h0m-1-8h0m2 1h0m-20 12h0m16-27h0m-20 25h0m19-30h0m-2 34h0m-4-17h0m17 3h0m-9 2h0m-23 6h0m1-11h0m2-4h0m16 5h0m12-4h0m-6 8h0m-3-20h0m6 5h0m-33 8h0m13 18h0m15-4h0m-17-6h0m-7-12h0m9-5h0m-5-7h0m20 1h0m7 15h0m-31-7h0m8 6h0m5-11h0m-6 25h0m-2-5h0m-5 1h0m7-17h0m23 7h0m-23-4h0m3 10h0m-1-19h0m4 25h0m-7-11h0m17 9h0m-11 1h0m-5-7h0m13 10h0m4-13h0m-16-18h0m0 28h0m-5-5h0m15 4h0m-6-17h0m17 6h0m-8-9h0m-11 28h0m-6-15h0m12-20h0m7 25h0m-23-20h0m28 24h0m81 885h0m18-10h0m-5 3h0m19 0h0m-19-6h0m7 14h0m7-30h0m5 18h0m-9-7h0m-13-14h0m14 35h0m-10-36h0m18 9h0m-6 13h0m6-9h0m-18-1h0m13 23h0m-7 0h0m-23-21h0m0 0h0m31 5h0m-16 13h0m5 11h0m2-1h0m-10-41h0m-10 15h0m-1 13h0m18-20h0m8 10h0m-14-2h0m16 20h0m3-15h0m-17 13h0m3 3h0m-18-23h0m28 15h0m-17 7h0m-3-12h0m21-23h0m-13 29h0m-14-21h0m8 27h0m9-29h0m-7 15h0m-8-10h0m13 23h0m-10-1h0m5-2h0m2-9h0m-6 13h0" stroke="#D327A2" stroke-width="5.5"/>
<path d="M837 405h0m-18-13h0m44-11h0m-37 20h0m13-8h0m18-6h0m-3 15h0m-34-10h0m17 13h0m25-11h0m-16-15h0m13 10h0m6 11h0m8-11h0m-14-12h0m-12 19h0m-1-8h0m9 12h0m18-6h0m-13 10h0m14-13h0m-47-4h0m14 8h0m-2-15h0m8 25h0m14-21h0m-6-2h0m-34 11h0m55-7h0m-13-6h0m-25 17h0m-1-3h0m3-1h0m8 4h0m10-16h0m-9-1h0m11 3h0m-14 9h0m-8 3h0m28-5h0m-28 4h0m-9 2h0m38-14h0m-24 20h0m28-16h0m-2 2h0m-15 19h0m-13-30h0m26 2h0m-4 8h0m11 12h0m-3-13h0m-12 3h0m3-8h0m-9 10h0m-32 3h0m15-9h0m0 10h0m-2-13h0m-15 6h0m10 4h0m29 3h0m-31-7h0m20 15h0m32-12h0m-23 10h0m-29 2h0m42-15h0m-38 12h0m-3-17h0m15 17h0m24-8h0m1 11h0m2-18h0m4 3h0m-53 1h0m1589 1h0m5-9h0m-6 0h0m3 27h0m-11-22h0m10 20h0m-4 2h0m11-22h0m-11-7h0m-1 9h0m2-1h0m5-1h0m8 4h0m-11-11h0m1 29h0m5-26h0m-4-2h0m0 4h0m5 7h0m-7-11h0m1 19h0m7-13h0m-1570 971h0m22-7h0m-38 16h0m17-18h0m25 12h0m-29-10h0m-11 12h0m46-2h0m-10 4h0m-26-16h0m0 7h0m43-4h0m-21 27h0m9-9h0m14-14h0m-34 4h0m19 13h0m12-9h0m-37-16h0m22 8h0m6 18h0m-5-7h0m-18 5h0m27-14h0m-32-12h0m25 30h0m5 0h0m-5-19h0m-6 22h0m-6-15h0m3 3h0m-30 2h0m40 5h0m2-17h0m-8 13h0m2-17h0m-33 3h0m-8 10h0m35 13h0m-7-6h0m-7 2h0m22-7h0m-34-1h0m26 13h0m-8-4h0m6-8h0m-6-15h0m-9 3h0m13 22h0m-27-8h0m17-24h0m-8 19h0m3-12h0m14 11h0m5 10h0m-17 3h0m5-17h0m10 4h0m-11 14h0m-1-31h0m-4 16h0m37-12h0m-35 24h0m28-6h0m-7-5h0m9 6h0m-34-17h0m24 7h0m15-9h0m-42 26h0m23-11h0m10 8h0m-38-1h0m-7-14h0m17 7h0m-3 0h0m-9 4h0m46-21h0m-1 2h0m-7 15h0m-11 14h0m-13-5h0m26-17h0m-12-10h0m-7 25h0m18-19h0m-18 7h0m802 2h0m-9 8h0m-17-5h0m-12-4h0m11-6h0m29-4h0m-7-5h0m-7 2h0m1 20h0m0-1h0m-18-3h0m22-12h0m10 13h0m7-1h0m-46-13h0m23 16h0m30-8h0m-33 10h0m-6-17h0m1-1h0m23 15h0m21-2h0m-44 5h0m26-10h0m-12 7h0m26 1h0m-31-7h0m9-6h0m9 14h0m2-16h0m-47 0h0m58 3h0m-27 12h0m-20-13h0m40 7h0m-20 5h0m0-11h0m-2 11h0m-10-12h0m35 0h0m4 9h0m-27 9h0m24-9h0m-40 5h0m6-11h0m-16 8h0m0 1h0m40-11h0m9-3h0m-33 0h0m7 12h0m-8 3h0m-22-4h0m3 2h0m6-6h0m22 6h0m19-8h0m-13-7h0m6 19h0m-3-9h0m20 5h0m-38-2h0m0-16h0m-5 7h0m1 16h0m2-13h0m-1-2h0m22-7h0m-13 14h0m25 2h0m6-7h0m-2-3h0m-19 5h0m22 9h0m-40-12h0m11 14h0m-438 962h0m4-3h0m4-25h0m3 12h0m-3-3h0m14-6h0m-9 13h0m-7 7h0m-1-2h0m17-9h0m-2 2h0m-20 0h0m26 11h0m13-13h0m-3 12h0m-18-22h0m20 13h0m-16 7h0m0-10h0m13-1h0m-25 18h0m13-27h0m-8 16h0m8 8h0m-3-16h0m-12-5h0m-12 2h0m33 21h0m-17-16h0m8 15h0m6-17h0m-26 13h0m-3 1h0m17-14h0m8 16h0m-18-6h0m7 9h0m8-10h0m-25-6h0m11 13h0m17-9h0m-14 5h0m-8-6h0m15-5h0m-7 5h0m9 4h0m12 0h0m-27-1h0m25 1h0m10-2h0m-19-7h0m13 8h0m-32-1h0m30-10h0m0 22h0m-8-30h0m4 23h0m-32-1h0m13 4h0m23-7h0m5-9h0m-12-1h0m-2 8h0m-17-8h0m12-1h0m890 18h0m7 3h0m-17-1h0m13 8h0m9-19h0m-1 6h0m-5-23h0m-17 24h0m15-21h0m-7 6h0m7 25h0m-5-5h0m-10-17h0m8 12h0m-5-22h0m27 16h0m-2 7h0m-21-4h0m20 4h0m-28 1h0m17-11h0m7 15h0m-24-5h0m28-15h0m-15 26h0m16-17h0m0-7h0m-3-2h0m-9 4h0m-3 0h0m9-5h0m-13 16h0m-3-10h0m18-3h0m-25-4h0m18 19h0m-4-23h0m-4 18h0m-4 12h0m10-23h0m-1-2h0m-8 10h0m17-13h0m-9 28h0m11-10h0m-26-2h0m25-13h0m1 5h0m-24 9h0m5 6h0m-839 940h0m3-3h0m-23-21h0m28 18h0m-5-13h0m10 5h0m-23-13h0m-4 24h0m4-1h0m17-12h0m-29-8h0m-10 12h0m5 5h0m12-15h0m20-1h0m-21-3h0m20 16h0m-28-14h0m29 16h0m-7-8h0m6 15h0m-18-20h0m8 3h0m-12 2h0m-9-4h0m25 4h0m2 1h0m-19-11h0m3 13h0m17 8h0m-10-7h0m22-4h0m-24-12h0m23 24h0m-40-3h0m29 6h0m-9-17h0m3 4h0m8 6h0m9 0h0m844-27h0m34 21h0m-1 5h0m-17-2h0m-39 2h0m47 2h0m-13-15h0m-14 2h0m31 7h0m-24 15h0m-10-32h0m16 23h0m8-13h0m-39 6h0m17-13h0m-11 14h0m12-23h0m-3 40h0m19-38h0m-3 4h0m-12 39h0m2-7h0m13 4h0m5-21h0m3 11h0m13-11h0m-22-19h0m2 3h0m-20 35h0m13-40h0m-13 36h0m-3-24h0m10 15h0m22 12h0m-32-35h0m21 11h0m0 15h0m-23-2h0m21 17h0m-8-45h0m-9 7h0m-9 34h0m28 3h0m-3-41h0m-14 13h0m-9 19h0m24 5h0m-28-6h0m38-7h0m-30-19h0m-10 21h0m53-3h0m-38 3h0m-21-13h0m49-2h0m-14 21h0m-1 4h0m6-15h0m-34 15h0m48-24h0m-11 15h0m-3-23h0m13 6h0m-32 33h0m10 0h0m-23-37h0m45 10h0m-48 9h0m30-5h0m-9-9h0m-24-1h0m41 18h0m-38-18h0m18 34h0m26-42h0m-40 9h0m10 12h0m-15 1h0m19 16h0m1-29h0m-15-5h0m5 37h0" stroke="#9C1596" stroke-width="5.5"/>
<path d="M854 557h0m44-1h0m-37 8h0m-6-12h0m13 17h0m19 3h0m9-21h0m2 9h0m18-8h0m-12 13h0m-50-19h0m8 12h0m-8-12h0m11 18h0m21-4h0m-2 9h0m15-22h0m-42 4h0m-6 15h0m8-16h0m27 10h0m-34-1h0m29 11h0m0-7h0m4-19h0m-3 12h0m-38 3h0m61 5h0m2-2h0m-52-1h0m44 8h0m-35-4h0m-13 1h0m3-15h0m28-5h0m20 4h0m-36 3h0m-20 14h0m63-7h0m-61 3h0m61-10h0m-18 16h0m-51-10h0m37 12h0m0-14h0m12 12h0m-25-14h0m3 16h0m46-17h0m-48-9h0m-8 12h0m45-4h0m-44 5h0m14 11h0m-3-17h0m4 16h0m-26-11h0m8 5h0m38 9h0m0-24h0m16 10h0m-45 13h0m-3-12h0m44-1h0m-7-5h0m-8 9h0m13 7h0m-15-21h0m-12 13h0m-33-1h0m63 1h0m-10 4h0m-22-7h0m-33 2h0m52-17h0m-38 18h0m4-5h0m47 7h0m-24 5h0m-27-10h0m39 14h0m-50-14h0m12 14h0m4-8h0m-8-9h0m34-3h0m-22 0h0m808-4h0m9-3h0m3 7h0m-15 3h0m5-8h0m-12 10h0m-4-7h0m28 2h0m-26-11h0m15 10h0m-6 7h0m16-6h0m-7-7h0m-18 9h0m4-7h0m1 3h0m13-1h0m0-6h0m-18 7h0m18-6h0m-2 10h0m2-2h0m-9 7h0m-13-8h0m23-1h0m-5-9h0m6 6h0m-5-1h0m-16 1h0m-4 5h0m751 29h0m-26-11h0m-3 3h0m44-7h0m-2-6h0m17 12h0m-11-10h0m3 16h0m-4-6h0m-10-1h0m-35 2h0m36-15h0m19 0h0m-35 21h0m5-14h0m-2-3h0m20 15h0m17-9h0m-46-7h0m17 14h0m8-6h0m-33 9h0m-5-9h0m3-1h0m54 11h0m-26 2h0m14-12h0m-9-2h0m19 11h0m-9-18h0m0 21h0m-9-2h0m21-11h0m-22 9h0m3 5h0m-8-10h0m37 0h0m-58-7h0m33 16h0m22-19h0m-32 19h0m-19-5h0m18-2h0m8-11h0m12 7h0m-20 4h0m-15-8h0m-8 10h0m39-9h0m-27 10h0m-18-9h0m63 5h0m-2 5h0m-54-6h0m-1 2h0m-4-4h0m20 9h0m7-18h0m6-3h0m-30 17h0m-1474 987h0m-13 0h0m-7 9h0m27-7h0m-11 3h0m3 13h0m10-16h0m2 1h0m-11 4h0m3-12h0m-14 18h0m0-13h0m3 1h0m7-7h0m8 21h0m2-13h0m-8-2h0m6 3h0m-9 16h0m-4-7h0m10-7h0m-15 5h0m2-7h0m-6 5h0m17 1h0m-17-12h0m12 7h0m3 10h0m2-14h0m-15 9h0m12 5h0m2-2h0m-22-5h0m1-5h0m5-5h0m13-2h0m12 9h0m-15 2h0m7-5h0m8 0h0m768-22h0m-9 7h0m4 4h0m-6-1h0m4-12h0m2 2h0m-3-4h0m-5 14h0m-3-9h0m4 10h0m9-15h0m-5 17h0m6-3h0m-17-12h0m10-5h0m9 17h0m-11-4h0m4-8h0m1-2h0m7 10h0m-19 0h0m8 0h0m6 5h0m-16-5h0m18-3h0m-17 3h0m10 2h0m7 1h0m-8-2h0m10-5h0m-421 967h0m-27 9h0m26 9h0m-46-2h0m9 0h0m0 11h0m46-35h0m-18 6h0m0 0h0m11 26h0m5-12h0m-36 26h0m3-15h0m44 10h0m-43-27h0m8 30h0m48-12h0m-7-11h0m-26-15h0m-17 40h0m3 0h0m38-27h0m-7 23h0m0-9h0m-27 18h0m3-50h0m-19 23h0m19 6h0m20-27h0m-41 19h0m42 22h0m4-33h0m3 26h0m12-20h0m-40-21h0m31 29h0m-1 18h0m8-29h0m-57 8h0m51-16h0m-9 20h0m-14 8h0m-24-12h0m11-2h0m-1 22h0m36-30h0m-4 22h0m-3-12h0m-1-5h0m-31 6h0m31 0h0m-46-16h0m36 42h0m13-19h0m-13 21h0m-5-44h0m-27 40h0m14-14h0m21 14h0m-1-45h0m27 19h0m-17 4h0m-23-13h0m-13 7h0m-2 25h0m48-28h0m-27 14h0m10 19h0m-23-11h0m-23-21h0m27-10h0m22 3h0m-23 19h0m-33-5h0m65 11h0m-20 8h0m22-8h0m-51-4h0m13-26h0m44 25h0m-1-8h0m-19-23h0m5 15h0m-29 7h0m-17 0h0m-13-3h0m37 32h0m-35-19h0m12-16h0m35-20h0m11 46h0m-42-18h0m-2 23h0m51-34h0m-61 6h0m57 22h0m-43-21h0m5 28h0m6-7h0m33-25h0m-6 16h0m-17-23h0m29 32h0m-26-7h0m29-1h0m-40-4h0m36 15h0m-18-41h0m-23 15h0m0 2h0m-26-4h0m11 11h0m51 10h0m-42-13h0m31-19h0m-40 8h0m3 16h0m6-19h0m5 22h0m-15-28h0m-6 6h0m28 42h0m-29-33h0m22-21h0m5 40h0m-15 7h0m48-1h0m-20-5h0m13-3h0m-24-14h0m3-26h0m-26 23h0m37 18h0m-38-8h0m-2-10h0m30 14h0m27-23h0m789 39h0m10 5h0m6-6h0m8-9h0m1-1h0m-18 20h0m19-16h0m-3-13h0m-14 0h0m11 8h0m-8 12h0m-9 7h0m21-19h0m-4 18h0m-14-2h0m19-15h0m0 0h0m-23 12h0m25-10h0m0 14h0m-13-20h0m-11 13h0m-4 4h0m8-21h0m-6 21h0m20-16h0m-4 8h0m-15 3h0m1-12h0m21 4h0m-13 15h0m12-18h0m1 3h0m-2 8h0m-21 1h0m74-25h0m-1 7h0m-13-9h0m12 8h0m0-10h0m4 7h0m-5 5h0m-7 4h0m11-5h0m-10-13h0m1 4h0m-3 4h0m9-7h0m1 20h0m-7-5h0m3 3h0m2-4h0m5 3h0m-5-22h0m-8 16h0m-832 972h0m3-26h0m1 27h0m19 3h0m-26-38h0m25 22h0m5-4h0m1 15h0m-58-12h0m12 13h0m64-15h0m-31 14h0m-33-29h0m17 47h0m-15-29h0m46 8h0m-30 13h0m24-35h0m6 19h0m-20-11h0m14 2h0m-9-11h0m-10 3h0m-15 16h0m26 5h0m-45-4h0m5-4h0m6 19h0m5-22h0m1 12h0m34 1h0m-41 0h0m-6-22h0m56 15h0m-59-10h0m3 10h0m24-16h0m-5 35h0m35-36h0m-37 20h0m5 0h0m0-3h0m11 9h0m9-19h0m-42 6h0m43-26h0m5 46h0m-20-36h0m-5 41h0m25-47h0m18 11h0m-42 26h0m-19-33h0m53 27h0m-18 11h0m-12-4h0m37-16h0m-32-1h0m-30 4h0m45 15h0m-7 4h0m17-12h0m-1 5h0m-45 7h0m39-38h0m7 38h0m-20-2h0m-39-4h0m34 12h0m-13-23h0m29 12h0m-10-29h0m28 13h0m-52-25h0m33 5h0m-10-2h0m-41 14h0m19-10h0m26-2h0m-26 32h0m20-7h0m16-10h0m-41-7h0m-2-7h0m14 32h0m27 14h0m3-14h0m-22-21h0m-19-10h0m34-1h0m8-4h0m-40 26h0m29-20h0m-43 8h0m0-6h0m13 2h0m29 14h0m-17 28h0m-4-52h0m0 16h0m20 12h0m-16 6h0m37-5h0m-1-19h0m-47 24h0m25-16h0m-29 1h0m20-11h0m2 3h0m7 26h0m1-2h0m-28 13h0m35-9h0m-44-15h0m18 24h0m-17-38h0m5 32h0m-4-34h0m40 10h0m-44 0h0m59-4h0m-45 15h0m21 16h0m23-28h0m-45 15h0m14-32h0m-14 25h0m-11-15h0m4 3h0m15 1h0m-21 24h0m59 0h0m-47 11h0m28-45h0m5 18h0m-9-16h0m7 28h0m881 2h0m-34-9h0m44 9h0m-8 17h0m-17-21h0m14 23h0m-31-26h0m20 28h0m7-30h0m14 0h0m-10 37h0m7-39h0m-19 11h0m-4-8h0m-15 28h0m43-22h0m-38 14h0m-14-12h0m58 9h0m-37-21h0m33 5h0m-17 41h0m-48-13h0m21-4h0m-23-1h0m23 0h0m13 1h0m-27-31h0m41-1h0m-43 22h0m11-16h0m8-10h0m37 18h0m-60-5h0m2 27h0m32-15h0m19-3h0m6-10h0m-24 26h0m-29 12h0m25-33h0m28 26h0m-29-33h0m20 33h0m-11-36h0m-26 14h0m-8 26h0m-1-34h0m56 24h0m-23-31h0m-16-6h0m12 54h0m3-40h0m7 31h0m0-45h0m-1 32h0m-24-7h0m-11-1h0m45-23h0m-13 17h0m-3 37h0m-33-41h0m44-17h0m14 10h0m-19 43h0m13-25h0m5 8h0m-32 4h0m-25 4h0m13-37h0m-3 21h0" stroke="#E8761C" stroke-width="5.5"/>
<path d="M916 575h0m10 67h0m-32-28h0m64-23h0m-10 22h0m-46-23h0m-2-1h0m36 34h0m12-36h0m-27 14h0m18 12h0m13-1h0m-43-4h0m27 13h0m-40-18h0m26 23h0m-24-21h0m19 37h0m4-4h0m-9-44h0m36 23h0m-36-5h0m20-9h0m-6 16h0m-4-20h0m5-18h0m-25 6h0m45 49h0m-44-29h0m34-33h0m6 12h0m-9 22h0m-5 20h0m-27-27h0m43 17h0m-30-42h0m26 38h0m10-18h0m-26 10h0m31 16h0m-56-36h0m-1 19h0m40 33h0m8-57h0m-3 52h0m-14-8h0m32-19h0m-3 5h0m-45-22h0m3 13h0m14 31h0m19-5h0m12-22h0m-42 8h0m0-7h0m28-15h0m-51 27h0m6 8h0m8-19h0m18-7h0m19 11h0m-48-1h0m16-14h0m19 45h0m4-56h0m-12 54h0m3-20h0m3-11h0m-17 18h0m18 15h0m-19-63h0m31 58h0m-12-28h0m20 0h0m-37 10h0m18-18h0m24 20h0m-23 6h0m-20 7h0m38-23h0m-33 2h0m-9-18h0m10 33h0m6-31h0m13 26h0m-12-24h0m24 3h0m-24-21h0m-11 34h0m7 8h0m-15-34h0m22 20h0m23 18h0m-46-50h0m11 13h0m-10-14h0m10 13h0m7-7h0m29 45h0m-29-21h0m-12-10h0m38-3h0m-29-17h0m-16 9h0m-8 38h0m51 12h0m-20-61h0m14 19h0m9 8h0m-58 7h0m15 28h0m-13-15h0m21-38h0m14 7h0m15 17h0m-33-7h0m-15 11h0m48-17h0m-52 26h0m6-26h0m11 30h0m19 17h0m8-34h0m-17 15h0m21-3h0m-19 21h0m-28-48h0m34 4h0m-23 21h0m20-30h0m20 35h0m-15-7h0m-23-31h0m-5 10h0m30 49h0m-17-14h0m38-28h0m768 0h0m-8 3h0m-38 42h0m5 3h0m33-28h0m-41-37h0m39 30h0m-1 1h0m-33-5h0m40 24h0m0 9h0m0-61h0m8 11h0m-17 4h0m-2 16h0m10 0h0m-49 13h0m19-7h0m-16 12h0m20-23h0m-22 21h0m37 5h0m-2-58h0m-10 47h0m5 25h0m-3-51h0m-12 38h0m-9-21h0m43 5h0m-56-18h0m66 12h0m-46 9h0m15-13h0m5 30h0m-18 6h0m37-27h0m-20-2h0m-3 9h0m14 4h0m20-18h0m-37 21h0m-12-9h0m12-39h0m-17 10h0m21 33h0m9 7h0m-19-21h0m-9 8h0m3-46h0m4 41h0m-16-18h0m1 30h0m33-33h0m-30 44h0m48-13h0m-18 5h0m2-53h0m-38 52h0m39 11h0m-45-44h0m50-8h0m-16 40h0m10-21h0m-15 34h0m37-18h0m-45-47h0m-16 45h0m61-8h0m-17-25h0m-25 7h0m3 41h0m9-65h0m11 76h0m-21-49h0m12-8h0m17 27h0m5 18h0m-21-5h0m16-6h0m-40-14h0m9-37h0m19 56h0m-3 7h0m-27-15h0m-13-23h0m21 7h0m-15 6h0m8 0h0m4 16h0m-16-37h0m11 29h0m32-2h0m-12 25h0m-15-50h0m31-17h0m-37 65h0m3-31h0m34 24h0m-26-45h0m-6-7h0m37 37h0m-42-35h0m41 52h0m-37 11h0m-18-46h0m43-18h0m-16 48h0m7-6h0m34-15h0m-41-11h0m32 3h0m-36-3h0m18 9h0m-26 18h0m46-24h0m-49 2h0m20 3h0m26-23h0m-47 34h0m-3-10h0m37-30h0m-20 49h0m23-21h0m-13-24h0m-1 50h0m18 4h0m-28-27h0m-1-1h0m44-8h0m-30 45h0m-14-26h0m-13-35h0m15-10h0m-15 15h0m32 31h0m13 20h0m-8-38h0m1548 67h0m-12-38h0m7 36h0m5-22h0m9-26h0m-24-15h0m13 16h0m-13 7h0m16 43h0m-21-20h0m22-20h0m4 17h0m-23-15h0m18 7h0m5-3h0m-7-1h0m-4 15h0m-16-33h0m17 14h0m12 5h0m-23-3h0m5 1h0m9-19h0m-18 32h0m15-49h0m2 1h0m-3 2h0m-8 36h0m11-35h0m8 45h0m-2304 932h0m-24 15h0m27-16h0m-11-6h0m-23 18h0m21-9h0m1 6h0m-7 1h0m-4-2h0m13-15h0m-5 31h0m11-4h0m3-4h0m-21-23h0m-4 14h0m14 11h0m-15-9h0m-6 6h0m22-6h0m-7 10h0m-7-8h0m2 5h0m17-19h0m-24 9h0m6 6h0m10-10h0m10 14h0m-20-9h0m13 15h0m2-22h0m-11 20h0m9 0h0m-12-19h0m8 11h0m6-9h0m8 6h0m-28-2h0m9 18h0m-4-27h0m12 16h0m-7-10h0m-1 14h0m8-11h0m-21-3h0m0 3h0m6-6h0m4 14h0m20-10h0m-25 10h0m15-20h0m389 980h0m-53-1h0m-2 30h0m3 6h0m-5-10h0m46 9h0m-46-34h0m20 27h0m8-29h0m-24 19h0m3-21h0m10 33h0m16-35h0m2 1h0m-4 12h0m21 23h0m-44-31h0m-5 10h0m4 6h0m17-7h0m-3 22h0m6-4h0m-19-16h0m41 1h0m-5-4h0m-16-1h0m32 19h0m-21 0h0m-40-7h0m29-27h0m-23 5h0m34 5h0m-10 30h0m24 4h0m6-13h0m-16-14h0m1 13h0m-22-5h0m1 10h0m6-8h0m-14-30h0m33 46h0m-35-21h0m35-18h0m-51 29h0m15-8h0m1 0h0m5 22h0m30-14h0m10 3h0m-54-15h0m40-4h0m-43 3h0m10 16h0m32 13h0m-14-39h0m-12-6h0m12 5h0m-6 19h0m29-10h0m-25-16h0m-3 24h0m29-17h0m-3 11h0m-43-1h0m1 17h0m41-11h0m-8-13h0m1 1h0m-46 12h0m29-15h0m0 30h0m6 10h0m-22-18h0m32-10h0m-27-18h0m11 28h0m-16-32h0m39 41h0m-16 14h0m-33-37h0m33 9h0m8-26h0m-19 9h0m32 3h0m-31-11h0m-11 46h0m-5-38h0m36 2h0m-7 40h0m-11-27h0m27 15h0m6-19h0m24 936h0m-4-7h0m15 16h0m8-9h0m-15 2h0m-13-3h0m0-4h0m9 3h0m20-1h0m-23-3h0m0-2h0m21 7h0m-17 10h0m16-13h0m-15-11h0m3-1h0m-13 6h0m9-1h0m8 4h0m-9 1h0m0-6h0m-2 12h0m23 4h0m-15-2h0m6-18h0m-15 4h0m20-1h0m-15 21h0m2-2h0m-5-7h0m9-15h0m-5 23h0m0-22h0m14 22h0m-13-4h0m17-11h0m-24 15h0m11-19h0m-16 3h0m7 17h0m874-9h0m-2-10h0m-3 15h0m-10-1h0m15-25h0m-9 24h0m20 3h0m-22-1h0m14-4h0m-13-6h0m14 11h0m-5-11h0m-7-13h0m-3 7h0m10-7h0m-16 10h0m28 3h0m-16 10h0m6-18h0m-4 13h0m-7-14h0m8-9h0m6 10h0m-22 10h0m17-14h0m17 12h0m-27-14h0m8 4h0m8 17h0m-7-7h0m17-5h0m-3-1h0m-2 16h0m-10-27h0m0 21h0m9-1h0m-11-3h0m-12 6h0m19-14h0m-20 11h0" stroke="#3C1C88" stroke-width="5.5"/>
<path d="M814 575h0m14 24h0m-14-10h0m9 6h0m18 26h0m18 32h0m-40-54h0m21 12h0m-26-29h0m47 75h0m2-1h0m-14-13h0m-35-42h0m24 45h0m29 8h0m4 12h0m-9-12h0m-40-53h0m28 38h0m-20-27h0m41 35h0m-66-68h0m26 40h0m-19-32h0m9 0h0m32 51h0m9 23h0m13 4h0m-75-83h0m41 38h0m-28-30h0m18 3h0m27 67h0m-10-2h0m-1-21h0m17 12h0m-3-4h0m-48-63h0m30 45h0m-25-33h0m29 34h0m3 18h0m-9 0h0m-30-60h0m0-9h0m46 62h0m10 27h0m-48-73h0m4 14h0m41 38h0m-3 13h0m-43-68h0m32 53h0m-31-53h0m35 41h0m-11-8h0m-34-37h0m52 57h0m-42-58h0m57 77h0m-47-52h0m0-15h0m9 16h0m23 54h0m-55-80h0m36 37h0m18 27h0m-20-21h0m-28-35h0m-4-3h0m50 66h0m-3-1h0m-38-68h0m11 24h0m22 26h0m-3 2h0m-13-23h0m11 15h0m-13 2h0m11-10h0m-3-4h0m17 33h0m-17-34h0m-7-10h0m36 43h0m-7 0h0m-29-29h0m30 28h0m4 18h0m-4-7h0m46 33h0m0 16h0m2 5h0m4-4h0m-8-15h0m6 13h0m1 7h0m-3-16h0m-1-2h0m4-1h0m-5 5h0m6-1h0m-4-1h0m1 11h0m2316 24h0m-1-29h0m-3 22h0m5 6h0m3-21h0m-5 0h0m2 11h0m-1 3h0m3-10h0m-1 11h0m-5-11h0m1 16h0m-1-27h0m2 35h0m3-38h0m-4 32h0m1-6h0m1 8h0m2-13h0m-1 18h0m1-35h0m-1 26h0m-3 2h0m1 7h0m1-9h0m-2-2h0m3-25h0m-2 14h0m1-8h0m-1 25h0m-2399 881h0m18-75h0m-9 25h0m-11 24h0m14-47h0m10 2h0m-13 38h0m-7-32h0m-14 64h0m22-46h0m2-5h0m-6 2h0m20-51h0m-18 50h0m2 3h0m-2 28h0m5-35h0m-18 51h0m11-68h0m8 11h0m-12 33h0m3-1h0m0 6h0m6-15h0m3-49h0m-6 19h0m-7 14h0m-10 52h0m23-75h0m9-22h0m-31 66h0m20-48h0m-14 53h0m2-6h0m17-52h0m-21 69h0m2-3h0m9-5h0m-4-24h0m20-43h0m-8 14h0m-5 26h0m-3-13h0m-4 54h0m0-17h0m22-57h0m-17 24h0m2-23h0m4 22h0m2-25h0m-15 64h0m2-7h0m-2-14h0m8-3h0m17-43h0m-25 67h0m22-72h0m-1 2h0m0 2h0m-1 25h0m-7-4h0m-20 58h0m26-77h0m-1 28h0m-6 11h0m-21 26h0m12-24h0m-15 39h0m30-55h0m-10 43h0m34 27h0m-6 0h0m29 19h0m-27-21h0m11 13h0m20 8h0m-36-17h0m9-2h0m4 3h0m0 2h0m15 10h0m-19-7h0m2-2h0m-8-10h0m16 22h0m2-3h0m-11-15h0m24 19h0m-10-7h0m-12-13h0m7 10h0m-20-18h0m6 2h0m-10-1h0m36 29h0m-14-11h0m-12-6h0m-16-15h0m28 20h0m-14-5h0m0-9h0m29 27h0m-33-29h0m15 16h0m3 6h0m5-1h0m-8-7h0m-21-14h0m23 20h0m4-7h0m33 75h0m-148 6h0m383 894h0m-2-11h0m3 13h0m-1 12h0m13-57h0m-19 60h0m9-27h0m3-8h0m-2-7h0m-3 28h0m-8 7h0m11-32h0m4 0h0m0-13h0m-9 42h0m3-23h0m-12 34h0m12-35h0m4 19h0m-6-13h0m9-9h0m-13 31h0m8-25h0m2-24h0m3-3h0m-5 13h0m-1 10h0m-5 24h0m0-8h0m4 5h0m9-45h0m-10 27h0m11-12h0m-17 39h0m6-16h0m8-37h0m-7 34h0m-9 22h0m7-8h0m10-33h0m-7 2h0m7-19h0m-2 11h0m-4 25h0m-8 21h0m5-20h0m11-38h0m-18 51h0m8-21h0m1-6h0m60 888h0m2 4h0m-5 2h0m-9 15h0m4-13h0m-3 1h0m9-9h0m4 3h0m-10 6h0m-3 7h0m5-3h0m-5 11h0m-2-5h0m7-12h0m0 5h0m-5 5h0m-1 5h0m6-13h0m3-15h0m-11 28h0" stroke="#E0381C" stroke-width="6"/>
<path d="M815 648h0m-17-14h0m51-1h0m-45 5h0m33 0h0m-23-35h0m30 6h0m-2 9h0m-22 10h0m7 22h0m-1-32h0m-8-13h0m-15 3h0m10 29h0m-12-21h0m13-8h0m7 20h0m-24-5h0m7-3h0m-9 9h0m47 21h0m-50-16h0m53-3h0m-43-21h0m1-9h0m5 44h0m11-22h0m-15-8h0m42 3h0m-18 5h0m-17 20h0m21 14h0m5-38h0m-34 1h0m21-19h0m1-2h0m-30 29h0m25 20h0m24-24h0m-39 14h0m14 11h0m28-9h0m-7 1h0m-23-33h0m23 34h0m-16-26h0m-32 20h0m24-4h0m-9-7h0m-10 20h0m41 935h0m14-18h0m-31 20h0m11 3h0m10-39h0m12 19h0m1 7h0m0-5h0m-32-8h0m19 42h0m-5-57h0m8 38h0m-4-1h0m-13-11h0m2-18h0m4 3h0m-13 31h0m-3-29h0m35 25h0m-16 10h0m14-44h0m-19 22h0m-4-22h0m10-5h0m-11 19h0m9 24h0m-1 1h0m16 0h0m-28-34h0m11 43h0m20-13h0m-31-12h0m9 13h0m18-37h0m-29 23h0m-6-4h0m19 1h0m12-13h0m11 27h0m-28-4h0m13-3h0m-15 19h0m15-33h0m-2 27h0m-4-41h0m-16 33h0m20 3h0m-9-29h0m27 23h0m-23 20h0m-10-3h0m-8-12h0m14-19h0m25 12h0m-4 8h0m-4 17h0m-12-7h0m11-29h0m-14 10h0m4 28h0m-6-14h0m14-30h0m-22 16h0m9 12h0m4 7h0m825-37h0m-23 14h0m19 6h0m-11-23h0m23 25h0m-14-28h0m-20 42h0m29-12h0m-12-26h0m-9 47h0m-7-21h0m35 12h0m-5-31h0m8 18h0m-10 6h0m-16-34h0m-24 15h0m-2 20h0m29-19h0m1 35h0m-20-28h0m26 22h0m9-7h0m-39-5h0m27-14h0m-32 11h0m53-2h0m-22 13h0m-6-23h0m21 3h0m-23-3h0m17 6h0m7-12h0m-34-6h0m4 8h0m-2 25h0m32-11h0m-21 24h0m-5-8h0m23-14h0m-17-20h0m-14 1h0m3-10h0m9 29h0m16-18h0m2 3h0m1 17h0m-19-30h0m-16 29h0m11 17h0m21-16h0m1-10h0m8-2h0m-34 31h0m3-4h0m-19-23h0m7-11h0m5 6h0m8-2h0m-12 4h0m25-17h0m-27 8h0m42 12h0m-12 10h0m12-18h0m-12 19h0m-27-6h0m25-27h0m-9 10h0m14-7h0m7 11h0m-44 8h0m16 4h0m-2 16h0m20-10h0m-6-29h0m-22 18h0m3 16h0m-3-21h0m32 5h0m-35-9h0m14-6h0m31 19h0m-26 4h0m-16 3h0m24 6h0m17-8h0m-34-6h0m11 12h0m-14-29h0m24 25h0m-21-31h0m9 12h0m-432 973h0m-19-25h0m-1 21h0m-1-11h0m9 22h0m6-21h0m-35 31h0m30-5h0m-25-13h0m3 15h0m4 6h0m-16-27h0m32-16h0m9 37h0m-24-38h0m-7 16h0m37-14h0m8 28h0m-14-31h0m-4 22h0m0-6h0m-14-7h0m31 23h0m-18-10h0m-17 25h0m2-44h0m-3 20h0m-16 10h0m21 13h0m-16-8h0m14-24h0m-24-11h0m23 37h0m32-17h0m-57-18h0m24 42h0m36-24h0m-59-10h0m26-3h0m22 17h0m-34-24h0m-2 42h0m-6-5h0m-5-29h0m33 25h0m-15-41h0m25 14h0m-25 19h0m-14 0h0m-2-5h0m-9-12h0m45-7h0m-32 0h0m5 11h0m26 19h0m-42-26h0m18 35h0m13-5h0m4 2h0m20-22h0m-2 20h0m-46-5h0m51 2h0m-53 2h0m41-38h0m15 33h0m-24 9h0m2-3h0m-39-22h0m9-3h0m0 6h0m31 25h0m3-34h0m-7 32h0m-21-26h0m28-15h0m-13 19h0m-25-11h0m51 12h0m-19-5h0m-32 11h0m11 9h0m14 0h0m4-3h0m-30-16h0m20-8h0m0 22h0m22-8h0m-47-3h0m23-8h0m4-5h0m12-8h0m-6 12h0m2 2h0m5 8h0m8 9h0m12-19h0m-35 28h0m16-21h0m5-11h0m-34 1h0m10-10h0m-11 23h0m31-20h0m5 27h0m-15 13h0m-6-27h0m10-1h0m-3 7h0m-11 5h0m22 11h0m2-33h0m-1 7h0m-6 21h0m-30 8h0m21-38h0m-18 31h0m10 10h0m6 1h0m26-18h0m6-11h0m-17 23h0m-8-41h0m26 39h0m-5 3h0m-24 6h0m-22-42h0m0 16h0m31-16h0m-3 37h0m-12-25h0m37 15h0m-19-17h0m1-10h0m-41 24h0m25-23h0m8 18h0m35 943h0m61-5h0m-13-2h0m-31 17h0m19-22h0m22 30h0m-29-26h0m18 31h0m9-18h0m-38 6h0m41-8h0m-49 11h0m62-8h0m-73 2h0m28 23h0m16-31h0m-6 12h0m-12-19h0m39 12h0m-51 30h0m43-40h0m-47 15h0m51 17h0m-51-21h0m44-15h0m-12 22h0m-44-3h0m15-1h0m28-5h0m-32 22h0m53-34h0m-47 31h0m43-27h0m-43 19h0m-6-9h0m-7-6h0m12 28h0m-3-15h0m23-17h0m-13 14h0m4-12h0m-7 2h0m20-8h0m-25 30h0m7-13h0m53-4h0m-67 23h0m-8-17h0m2 0h0m31-17h0m24 7h0m-4 22h0m6-28h0m-57 25h0m16-4h0m40-8h0m-44 18h0m34 4h0m-18-33h0m8 10h0m14-14h0m16 10h0m-14 17h0m-29 2h0m2-7h0m26 15h0m-42-14h0m59 4h0m-24-22h0m-19 38h0m5 4h0m-5-25h0m46 8h0m-59-6h0m48 0h0m-18 22h0m-28-11h0m51-13h0m-38 3h0m18 1h0m-31-20h0m32-5h0m21 34h0m-45-38h0m-25 17h0m3 12h0m40-1h0m20 2h0m-1-18h0m-24 26h0m-7-3h0m14-34h0m-33 26h0m9 14h0m39-21h0m-17 25h0m-8-24h0m-20 16h0m18-11h0m40-3h0m-1 5h0m-52 13h0m8-42h0m0 41h0m-3-22h0m17 5h0m-26 3h0m56-12h0m-69 2h0m26 12h0m-7 6h0m-10 8h0m17-2h0m28-1h0m5 5h0m-13 0h0m-17 4h0m32-7h0m-23-10h0m22-2h0m-10-10h0m10-4h0m4 19h0m-58-1h0m0-23h0m12-3h0m44 5h0m-20 26h0m5 0h0m23-21h0m-57 19h0m15-37h0m45 21h0m-62 16h0m11-2h0m2-6h0m-9-12h0m902-16h0m-14 40h0m-17-12h0m6 13h0m37-4h0m1-17h0m-31-16h0m36 8h0m-31 46h0m-6-35h0m24 32h0m-2-56h0m-14-4h0m6 20h0m-16 10h0m14-28h0m12 26h0m0 9h0m3-3h0m-19-24h0m-9 42h0m17 5h0m-21-10h0m14-2h0m29-36h0m0 34h0m-22 17h0m-6-61h0m7 49h0m-13-28h0m-10-3h0m6 19h0m26-1h0m-12 24h0m15-59h0m2 56h0m-23-29h0m-9 30h0m-3-36h0m11-15h0m-1 10h0m31-1h0m-8-4h0m-3 0h0m-9 46h0m6-31h0m-5-23h0m3 47h0m-5-30h0m16 15h0m-2-4h0m-5-13h0m-21-16h0m5 8h0m-6 14h0m30 5h0m-28 31h0m3-45h0m-22 9h0m47 29h0m-29-24h0m-3 1h0m23-11h0m-1 42h0m-17-56h0m-7 28h0m-2-6h0m44-9h0m-25 39h0m-2-35h0m-9 13h0m-12 16h0m15-45h0m-12 33h0m27-11h0m-21 19h0m12 7h0m18-7h0m-35-27h0m37-5h0m-47 23h0m53-20h0m-43 15h0m5-32h0m1 11h0m5 20h0m-9-13h0m-10 20h0m38-30h0m-29 46h0m25-39h0m1-17h0m-15 24h0m8 20h0m23-17h0m-26 5h0m-5 23h0m-19-24h0m35 27h0m-2-17h0m-21-15h0m6 36h0m4-29h0m0 16h0m-3-33h0m20 16h0m-32 17h0m11-34h0m26-2h0m-21 44h0m-2 3h0m12-20h0m-20 4h0m-11-32h0m33 11h0" stroke="#E0381C" stroke-width="5.5"/>
<path d="M723 598h0m-5-2h0m20-11h0m-3 6h0m15-4h0m-31 10h0m11-7h0m-1 5h0m-9 4h0m29-20h0m8-2h0m-25 13h0m-13 7h0m26-12h0m-2 3h0m-1-1h0m-15 5h0m23-12h0m-17 13h0m-10-1h0m6 4h0m-11 4h0m39-21h0m-39 15h0m17-7h0m-13 7h0m43-14h0m-45 24h0m17-17h0m15-7h0m1552-8h0m3-4h0m-15 9h0m10-8h0m-5 5h0m14-10h0m-11 10h0m5-3h0m-11 6h0m-5 4h0m-1175 1926h0m-4 13h0m-16 11h0m-7 8h0m13-14h0m-8 7h0m8-7h0m-21 12h0m41-29h0m0-2h0m-23 23h0m-18 11h0m31-22h0m-15 11h0m3-9h0m1 5h0m-5 1h0m30-18h0m-32 19h0m10-2h0m17-20h0m-31 33h0m33-32h0m-34 24h0m33-23h0m-32 25h0m6-5h0m0-4h0m-1 10h0m-12 4h0m33-23h0m-22 18h0m-2 1h0m34-28h0m-46 35h0m42-30h0m-8 10h0m-28 20h0m-5 1h0m17-14h0m885-9h0m19-10h0m-9 9h0m15-15h0m-25 20h0m12-11h0m-2-1h0m-1 8h0m-16 8h0m-4-2h0m1 2h0m25-21h0m-9 9h0m-8 7h0m8-6h0m-13 13h0m-1-8h0m28-16h0m2-1h0m-9 8h0m-7 7h0m-15 9h0m28-19h0m-23 13h0m2 1h0m-6 3h0m30-22h0m-2 1h0m-14 9h0m12-2h0m-860 947h0m-11 10h0m0 2h0m-2-1h0m10-6h0m-13 10h0m-7 6h0m2-1h0m17-16h0m-20 18h0m12-9h0m6-9h0m-11 15h0m16-13h0m-16 13h0m9-10h0m862-1h0m-10 23h0m10-20h0m-8 12h0m16-21h0m-14 24h0m4-9h0m4-4h0m4-9h0m-14 26h0m-3 0h0m15-23h0m2-6h0m0 3h0m-14 19h0m11-19h0m-8 21h0m2-15h0m-4 11h0m-3 9h0m19-31h0m-17 32h0m-1-6h0m19-21h0m-9 8h0m20-14h0m19-8h0m-28 7h0m11 0h0m16-7h0m6-5h0m-31 12h0m4-3h0m-8 4h0m27-8h0m4 0h0m2 0h0m-11-2h0m10-2h0m-9 1h0m-4 4h0m-14 12h0m-4-3h0m21-11h0m-20 10h0" stroke="#E2AE2A" stroke-width="6"/>
<path d="M619 677h0m-13-19h0m0 10h0m24-26h0m16 16h0m-26 7h0m18 7h0m-19-38h0m-1 20h0m15-10h0m-26 5h0m41-7h0m-10 1h0m4 26h0m-14 10h0m-16-7h0m5-49h0m3 41h0m-23-17h0m16 24h0m9-48h0m-19 21h0m8 12h0m0-1h0m-3 18h0m30-13h0m-9-9h0m-21-10h0m37 27h0m-25-32h0m-11-2h0m1 1h0m8-8h0m-12 29h0m29-23h0m-17 47h0m27-28h0m-14 23h0m17-20h0m-10 18h0m-5-28h0m-17 34h0m5 2h0m-24-27h0m24-30h0m-14 54h0m5-26h0m13-24h0m-9 14h0m7 10h0m-11 5h0m-5 20h0m19-4h0m15-41h0m-31 41h0m35-12h0m-18-29h0m22 24h0m-7-20h0m-22 43h0m758-34h0m40 0h0m-37 3h0m14 11h0m12-20h0m-2 16h0m-5-26h0m-5-2h0m-4-3h0m24 28h0m-16 20h0m25-9h0m-32 12h0m26-11h0m-20-18h0m17 17h0m-14-24h0m-4 12h0m-22-6h0m35 27h0m-16-17h0m22 14h0m-30 0h0m14 2h0m11 6h0m11-42h0m-24 27h0m28-16h0m-44 22h0m3-43h0m13 19h0m0 9h0m15-26h0m1 39h0m-9-34h0m-9 18h0m0 0h0m27-11h0m-47 21h0m32 23h0m-17-49h0m33 7h0m-24-7h0m22 32h0m-41-19h0m6 24h0m12 9h0m-16-48h0m-1 32h0m17-7h0m-1 15h0m8 1h0m-11-19h0m23 0h0m-24-9h0m11 24h0m-12-16h0m18-10h0m-8-19h0m8 5h0m-29 29h0m27 22h0m8-16h0m-39-3h0m4-1h0" stroke="#0E4420" stroke-width="7.5"/>
<path d="M868 666h0m-11 5h0m17-6h0m-8 2h0m11 13h0m-20-5h0m11-5h0m-1 25h0m0-32h0m7 24h0m-13-2h0m16-1h0m-5-2h0m6 2h0m-1-13h0m0 16h0m-27-14h0m3-7h0m-2 19h0m16-6h0m-4-21h0m9 37h0m-16-32h0m6-2h0m13 31h0m-24-4h0m27-15h0m-15-12h0m-13 24h0m19 10h0m-9-5h0m22-18h0m-17-9h0m5 17h0m-15-11h0m12 15h0m10 7h0m-15-30h0m9 0h0m0 7h0m4-1h0m-19 0h0m12 21h0m9-12h0m-15 3h0m-2-7h0m15 15h0m-17-15h0m18 18h0m-9-24h0m4 24h0m-14-11h0m19 12h0m-21-4h0m10-24h0m1-3h0m-17 15h0m21-9h0m-7 30h0m-7-26h0m780 7h0m18 7h0m-10 12h0m-4-4h0m12-13h0m-12 13h0m11-9h0m-25 5h0m17 8h0m5-13h0m-13 14h0m-1-24h0m-4 5h0m18-5h0m-5 16h0m1 10h0m-8 0h0m3-7h0m-1-4h0m4-15h0m-2 22h0m-12-21h0m3 2h0m18 17h0m-2-20h0m-10 16h0m6 10h0m-10-28h0m1 7h0m-8 2h0m-3 1h0m16 13h0m7-16h0m-20 13h0m11 7h0m-10-22h0m8 2h0m15 3h0m-1 6h0m-6-6h0m-778 973h0m2 3h0m10 2h0m-5-3h0m3-1h0m-11 1h0m0 1h0m19-2h0m-10 5h0m-8-8h0m18 4h0m-15 6h0m2-10h0m15 5h0m-10-3h0m-9 3h0m4-6h0m3 6h0m7 15h0m-16-17h0m15 6h0m-11 9h0m1-15h0m3 4h0m8-5h0m-11-6h0m-4 23h0m17-21h0m-8 1h0m-2-2h0m0 7h0m-6-1h0m-6 2h0m14 11h0m-2-18h0m-6 4h0m3-6h0m-5 11h0m0 11h0m10-18h0m164-145h0m2-31h0m11 34h0m-5 5h0m-8-31h0m10 5h0m-11 6h0m-2 10h0m1-23h0m9 18h0m-6 5h0m2 8h0m0-34h0m2 3h0m-4 13h0m6-11h0m-1 17h0m4 4h0m7-16h0m-5 4h0m-6 11h0m1 8h0m-9-15h0m11-14h0m4-1h0m-17 11h0m17-1h0m-13 13h0m-6-8h0m6-12h0m15 21h0m-12-10h0m-2-17h0m-3 18h0m-3 13h0m0-15h0m17-2h0m-3 20h0m-11-19h0m18-2h0m619 166h0m-18 12h0m8-24h0m-13 25h0m18-3h0m-11-3h0m16 3h0m-3-23h0m-5 3h0m5 17h0m-13-13h0m12 10h0m-16-11h0m14 20h0m5 0h0m3-1h0m-16 4h0m-1-1h0m-1-26h0m1 9h0m11-11h0m-19 25h0m15 0h0m12-7h0m-3 5h0m-8 11h0m-8-33h0m7 13h0m4-13h0m-18 21h0m1-10h0m-5 0h0m15 7h0m-10-9h0m-4 0h0m1 19h0m10 6h0m-4-5h0m13-22h0m-20 1h0m181-175h0m1 26h0m3-10h0m6 3h0m-16-18h0m15-2h0m-9 13h0m0-5h0m5 14h0m6-20h0m-10 24h0m-8-14h0m13 19h0m-6-24h0m-5 8h0m1 14h0m13-5h0m-18-10h0m0-7h0m11 8h0m0-5h0m-1-2h0m10 0h0m-7 15h0m-14-20h0m16 20h0m-5 2h0m-7-19h0m11 6h0m2-6h0m-7 22h0m-1-2h0m-4-14h0m14 15h0m-20-14h0m18 5h0m-19 5h0m17-24h0m-14 8h0m12 12h0m288 1133h0m-6 5h0m16-13h0m-16 14h0m2-12h0m9-6h0m4 12h0m-2 8h0m5-10h0m-18-8h0m-9 8h0m30-4h0m-17 11h0m6 0h0m-14 0h0m15-13h0m10 5h0m-4 8h0m-15-15h0m-7 0h0m23 6h0m-21-5h0m9-4h0m3 16h0m-15-3h0m8 4h0m-2-8h0m12 3h0m2 5h0m4 1h0m-21-8h0m26 0h0m-28-1h0m21-4h0m-6 8h0m-8-10h0m2 17h0m-4-18h0m23 7h0m-31 6h0m193-187h0m6 8h0m-2-8h0m-1 8h0m0-3h0m-2-5h0m12 3h0m-7 8h0m-7-4h0m10-1h0m-6 4h0m-3-1h0m12 5h0m-8-5h0m6-7h0m5 3h0m-5 10h0m-8-4h0m4-3h0m6 5h0m12 932h0m14-10h0m-14 11h0m17 13h0m-3-21h0m-10 4h0m-1 14h0m12-18h0m-16 3h0m5 8h0m-1-10h0m8-3h0m-5 35h0m1-40h0m4 40h0m-12-23h0m10-7h0m12 11h0m0 11h0m-10-6h0m-11 11h0m20-23h0m-17-10h0m16 30h0m-18-22h0" stroke="#2E5CC4" stroke-width="5.5"/>
<path d="M1032 537h0m-4-10h0m3 5h0m-19-20h0m18 17h0m0 4h0m-7-19h0m12 25h0m-19-24h0m5-3h0m1 12h0m-13-15h0m20 19h0m-4-11h0m-14-8h0m13 15h0m-5-8h0m-2 1h0m-4-13h0m14 20h0m-3 0h0m11 10h0m-22-31h0m0 6h0m6-2h0m19 33h0m-3 4h0m-8-16h0m-6-14h0m11 25h0m-13-20h0m12 17h0m3-3h0m-4 5h0m-6-22h0m-110 388h0m-3 1h0m-5 13h0m0-5h0m-1 4h0m0-1h0m9-14h0m-11 17h0m0-3h0m1 3h0m879-418h0m19 30h0m-1 13h0m-13-34h0m12 22h0m7 5h0m-11-18h0m8 18h0m-3-4h0m-8-20h0m-1-3h0m-2 8h0m7 3h0m-1-2h0m-12-16h0m14 23h0m-1 0h0m3 1h0m-5-11h0m4 15h0m-5-14h0m2 6h0m-8-25h0m14 46h0m-16-34h0m14 21h0m1-1h0m1 8h0m-17-37h0m13 34h0m-118 382h0m8-15h0m-4 13h0m2-16h0m-2 15h0m-1-3h0m-2-2h0m-1 6h0m-1 4h0m4-9h0m1660-387h0m-10-12h0m-6-8h0m9 10h0m-7-7h0m2-4h0m14 25h0m-11-18h0m-4 0h0m13 15h0m-3-12h0m-2 8h0m-4-15h0m-1 4h0m-8-8h0m12 14h0m-2416 1375h0m1 2h0m58-132h0m4 8h0m725 122h0m1 2h0m434 1676h0m9 31h0m-1 3h0m2-10h0m-4 1h0m-2-3h0m6 2h0m0 4h0m3 2h0m-8-5h0m0-3h0m-8-21h0m12 13h0m1 11h0m-13-21h0m16 28h0m-4 0h0m6 12h0m-3-10h0m-2-8h0m-5-3h0m14 12h0m-12-19h0m-5-13h0m13 36h0m-4 3h0m-6-31h0m-6-15h0m13 34h0m0 6h0" stroke="#2E5CC4" stroke-width="6"/>
<path d="M821 522h0m-62 169h0m22 78h0m-85 115h0m130 609h0m2 4h0m786-8h0m2 2h0m46 379h0m4 3h0m3 4h0m735-383h0m0 4h0m-1-8h0m-428 2090h0m4 47h0m24-15h0m-107 63h0m16 78h0m24 40h0" stroke="#2C9A40" stroke-width="7"/>
<path d="M706 329h0m988 352h0m1-2h0m-5-25h0m-1 38h0m7 17h0m-4-25h0m-6-4h0m7 37h0m0-33h0m0 10h0m-2-40h0m0 26h0m4 33h0m-4-19h0m0 13h0m-2-33h0m0-16h0m4 50h0m2-21h0m-4 22h0m0 2h0m2-36h0m-2 34h0m2-13h0m-1-10h0m2 31h0m-4-57h0m3 2h0m-3 50h0m0-37h0m1333-358h0m1 12h0m-1909 2353h0m10 20h0m-8-17h0m4 9h0m3 1h0m2 8h0m-16-30h0m12 30h0m-5-22h0m0 1h0m-3-8h0m2 14h0m6 1h0m0 3h0m-5 1h0m1-15h0m-5 2h0m2 5h0m0-13h0m7 16h0m19-80h0m6-1h0m4 24h0m2 9h0m-9-36h0m5 13h0m-2 13h0m-5-26h0m13 32h0m-2 4h0m-1-1h0m-5-21h0m-2-4h0m-1 14h0m-2-23h0m10 25h0m-1 0h0m-3-5h0m-1-10h0m-1 15h0m857 58h0m-8-3h0m7-1h0m-9-10h0m-11-20h0m18 34h0m0 1h0m-3-8h0m3 10h0m-13-34h0m7 16h0m-11-18h0m17 32h0m-6-16h0m-6-9h0m11 18h0m-9-11h0m9 16h0m-9-9h0m1-1h0m14 18h0m-5-7h0m3 5h0m-7-17h0m-7-15h0m12 29h0m3-2h0m-15-21h0m-4-8h0m20 35h0" stroke="#3C1C88" stroke-width="6"/>
<path d="M745 338h0m-55 103h0m1639-54h0m-40 19h0m6 37h0m68-11h0m-60-4h0m20-35h0m22 34h0m-41 5h0m-11 0h0m37-17h0m39-13h0m-76 22h0m20-2h0m-27 15h0m58-29h0m-48 7h0m-8-13h0m-12 21h0m-38 96h0m846-96h0m-25-5h0m20-34h0m11 20h0m-23 11h0m2 22h0m36-19h0m14-4h0m-25 0h0m-6 13h0m-1-27h0m39 35h0m-37-42h0m-21-8h0m9 0h0m31 54h0m30-23h0m-7-6h0m-58-8h0m47-4h0m20 16h0m-38 20h0m31-18h0m-11 6h0m1 5h0m-31-1h0m-17-3h0m1-22h0m18 6h0m14 25h0m28-29h0m-17 26h0m-37-38h0m-36 42h0m82-11h0m10-3h0m-82-27h0m-19 48h0m2-3h0m-1 14h0m1-19h0m9-2h0m-3 13h0m8-42h0m-11 27h0m13-28h0m0 9h0m-11 17h0m3 18h0m-6-14h0m16-40h0m-9 35h0m2 0h0m-8 20h0m5-13h0m-10 5h0m4 0h0m7-14h0m-6 1h0m2-2h0m-7 23h0m5-14h0m5 1h0m-4-19h0m-12 43h0m11-28h0m5-10h0m-12 43h0m14-68h0m-9 33h0m13-19h0m-11 34h0m-9 6h0m21-44h0m-6-6h0m1 23h0m1-13h0m-7 27h0m-12 21h0m18-48h0m-23 47h0m25-56h0m-1 9h0m-16 44h0m16-42h0m-20 43h0m11-18h0m-7 18h0m6-15h0m-4 11h0m13-5h0m-4-20h0m-11 37h0m16-57h0m-1 10h0m1 4h0m-2339 1039h0m8 27h0m4 11h0m-1 0h0m-9-55h0m-1 1h0m9 35h0m-8-8h0m7 20h0m-10-44h0m4 21h0m-5-22h0m6 54h0m-7-47h0m18 53h0m-4-14h0m-4-20h0m-3 9h0m1 1h0m6 13h0m-1-11h0m-9-36h0m9 35h0m-9-27h0m4 19h0m51-159h0m12-4h0m12 5h0m784-3h0m8-4h0m-63-4h0m-16 121h0m24 5h0m-38 50h0m10 11h0m819-129h0m11-5h0m8 10h0m12-14h0m12-32h0m-61 62h0m77 5h0m7 4h0m-11 7h0m7-34h0m-1267 975h0m0 4h0m30-35h0m-52 24h0m65-22h0m-21 7h0m-21 23h0m-42-5h0m19-29h0m13 48h0m23-47h0m-37 37h0m58-23h0m-45-11h0m-11 38h0m25-7h0m-17 5h0m9-28h0m2 16h0m10 5h0m-46 0h0m71-28h0m13 21h0m-23-5h0m-38 17h0m15 8h0m4-52h0m30 19h0m-38-6h0m9 0h0m-18 12h0m37-12h0m-24 40h0m-17-17h0m6 6h0m30 2h0m37-6h0m-56 9h0m66-30h0m-14 31h0m-12-10h0m-47-29h0m2 33h0m-12-4h0m17-31h0m42 3h0m1 1h0m15 5h0m-20-8h0m-57 27h0m76 14h0m-37-5h0m8-14h0m-14 26h0m47-34h0m-51-10h0m-23 36h0m39-33h0m5-5h0m-68 38h0m98-16h0m5-6h0m-60-23h0m-1 7h0m-16 39h0m62-4h0m-97-3h0m32-6h0m-5-10h0m77-15h0m-5-3h0m-81 23h0m-15-11h0m68-20h0m-56 6h0m65 3h0m-8 26h0m-21-33h0m-21 50h0m56-9h0m-21-37h0m-33 29h0m-28-17h0m22 1h0m5 14h0m7 3h0m-26 10h0m914-25h0m-11-19h0m20 10h0m-23 3h0m25 9h0m22-3h0m-11 14h0m8-19h0m-3 26h0m-32-30h0m-24 30h0m48 3h0m-8-28h0m44 16h0m-75 5h0m7 15h0m29-9h0m33-25h0m-45 23h0m53-8h0m-57-23h0m-26 32h0m61 0h0m3-17h0m-49-20h0m30 8h0m-40 22h0m3 9h0m-28-10h0m80 1h0m-67-19h0m39-3h0m52 10h0m-68-5h0m67-1h0m-18 20h0m-16 16h0m-29-22h0m-7-17h0m-31 0h0m-2 22h0m98-16h0m-41-14h0m-19 16h0m12 4h0m36-7h0m-6 30h0m-66-5h0m88-12h0m-35-8h0m-13-2h0m-29 29h0m34 2h0m-46-9h0m26-41h0m6 2h0m-9 41h0m0-5h0m0 7h0m-15-43h0m9 37h0m28-16h0m-33-12h0m2 22h0m20-10h0m28 16h0m-34-28h0m-24-5h0m73 38h0m-41-14h0m-43 4h0" stroke="#E569AE" stroke-width="6"/>
<path d="M1771 793h0m2 2h0m-6 2h0m9-3h0m-3 1h0m9 5h0m-15-6h0m10-4h0m-5 5h0m6-7h0m-17 2h0m21-4h0m-6 1h0m-7 2h0m11-1h0m2 6h0m-1-3h0m3 8h0m-24-3h0m6 1h0m-2 4h0m-7-7h0m8-4h0m21-2h0m-12 7h0m-3-6h0m9-1h0m-17 5h0m0-2h0m21 3h0m-2-6h0m-26 7h0m23-1h0m-9 0h0m15 4h0m-27-4h0m20 7h0m3-11h0m-6 8h0m-6 1h0" stroke="#4C8CD6" stroke-width="5.5"/>
<path d="M1625 392h0m-19 9h0m8-3h0m13-2h0m-20 3h0m34-7h0m-38 5h0m27-3h0m-2-2h0m16 1h0m-8-1h0m-14 7h0m-19 0h0m30-13h0m-13 3h0m2 5h0m-1 0h0m0-4h0m-25 13h0m24-7h0m22-4h0m-35 5h0m33-9h0m-32 7h0m3 3h0m31-12h0m-4 2h0m-31 9h0m27-3h0m10-3h0" stroke="#9C1596" stroke-width="6"/>
<path d="M1567 608h0m4 4h0m28-24h0m4 3h0m23 33h0m4 2h0m55 92h0m2 8h0m1-16h0m378 2754h0m3 6h0m4 16h0m-11 11h0m7 6h0m7-9h0m-18 15h0m11-55h0" stroke="#E0381C" stroke-width="9"/>
<path d="M1518 583h0m-9-9h0m17 7h0m-20 4h0m21-2h0m-24-4h0m21 10h0m-7-5h0m-1 9h0m7-16h0m2 5h0m-29-1h0m-1 3h0m19-2h0m1-5h0m-2-5h0m-2 18h0m-1-5h0m-8-1h0m-7 10h0m25-18h0m-26 19h0m3-19h0m10 9h0m12-7h0m-775 975h0m20 14h0m-25-2h0m0 8h0m-1-52h0m15 0h0m17 21h0m-2-13h0m-4 15h0m-11-16h0m3 26h0m16-6h0m-13-8h0m6 1h0m-12 6h0m-1 9h0m-2-33h0m13 16h0m-25-9h0m14 23h0m12-16h0m-24 25h0m24 6h0m-34-11h0m22-10h0m-4 31h0m6-10h0m-21-26h0m27 26h0m6-20h0m3-6h0m-29 1h0m29-1h0m-36 9h0m8 19h0m11-14h0m2-37h0m-20 26h0m4 15h0m16-19h0m790 38h0m-17-16h0m24 23h0m-9-35h0m9 36h0m-7-31h0m3 2h0m10 10h0m-15-11h0m11 12h0m-7-8h0m2 16h0m9-22h0m-6 12h0m7-8h0m-15 1h0m11 8h0m2-9h0m-2 25h0m-9-24h0m16 12h0m-29-22h0m28 20h0m-17-16h0m-18 19h0m18-5h0m-14 1h0m30 7h0m-21-30h0m-5 5h0m21 39h0m-4-20h0m-14-1h0m-4 13h0m-2-2h0m19 2h0m5-25h0m-18 23h0m22-22h0m-17 16h0m-14 0h0m10-10h0m20 15h0m-21-19h0m-6 21h0m11-28h0m11 3h0m7 14h0m-18-22h0m-7 1h0m0 38h0m1-3h0m22 1h0m-2-3h0m-11 4h0m-9-16h0m22-19h0m-21 21h0m-3 6h0m9 0h0m18-49h0m0 1h0m1-1h0m1-3h0m-2 5h0m-5-14h0m2-1h0m2 6h0m2 3h0m-6-1h0m2-4h0m6 6h0m-4-7h0m1 4h0m4 3h0m-14-6h0m0-5h0m14 13h0m-11-3h0m3-12h0" stroke="#E2AE2A" stroke-width="5.5"/>
<path d="M1474 322h0m2 2h0m-3-3h0m4 0h0m-5 3h0" stroke="#4E1C96" stroke-width="13"/>
<path d="M1626 565h0m16 25h0m27 18h0m-15-59h0m-28 47h0m47 63h0m791-63h0m-1345 2754h0m-9 2h0m-4 5h0m-7 1h0m4 2h0m16-7h0m-23 7h0m8 1h0m-3 1h0m14-9h0m-5 3h0m-4 2h0m7-7h0m7-1h0m-18 6h0m0 2h0m16-9h0m-11 9h0m10-7h0m-15 5h0m19-3h0m38 24h0m-6 1h0m-21-19h0m-14-7h0m5 1h0m13 10h0m-16-12h0m23 12h0m-29-11h0m23 13h0m18 11h0m-28-18h0m8 4h0m17 8h0m-5-5h0m-26-14h0m19 12h0m20 18h0m-19-14h0m-4-5h0m-12-4h0m12 6h0m22 15h0m-33-27h0m16 17h0m11 7h0m-33-23h0m34 26h0m-10-6h0m4-4h0m-7-4h0m-11-13h0m-6 0h0m6 6h0m7 0h0m-7 1h0m7 1h0m17 17h0m-9-2h0" stroke="#E8761C" stroke-width="6"/>
<path d="M1591 524h0m-55 167h0m11-10h0m-774 727h0m-7 15h0m2-6h0m-2 1h0m9-16h0m-8 16h0m6-13h0m-8 16h0m5-8h0m-1 2h0m-105 123h0m0 4h0m15-28h0m1-5h0m-15 28h0m10-13h0m-7 6h0m4 2h0m-5-1h0m13-16h0m-11 13h0m20-17h0m-6-1h0m6-7h0m-8 7h0m-2 2h0m3 3h0m-18 22h0m10-17h0m6-9h0m-11 24h0m-1 1h0m6-16h0m-3-1h0m11-9h0m-13 16h0m-5 10h0m9-8h0m2-4h0m2-1h0m75 129h0m-36-12h0m16 4h0m-12-6h0m-4-1h0m38 18h0m-45-19h0m33 13h0m-16-10h0m26 11h0m-34-12h0m7 0h0m-10-2h0m13 5h0m3 1h0m22 15h0m-12-9h0m2 0h0m-29-13h0m-13-6h0m7 6h0m4 0h0m5 9h0m-1-7h0m24 13h0m-13-11h0m-28-7h0m1-3h0m52 22h0m3 0h0m-25-6h0m-15-11h0m24 11h0m-35-10h0m26 10h0m-1-3h0m-11-6h0m7 5h0m27 12h0m3 3h0m802-235h0m1-1h0m0-4h0m4-3h0m-5 3h0m9-2h0m-13 7h0m12-7h0m-2-1h0m-4 2h0m-100 116h0m-8 18h0m12-23h0m-7 17h0m-2-10h0m-10 28h0m11-16h0m8-18h0m-11 16h0m-4 12h0m14-25h0m-8 24h0m3-16h0m8-16h0m-5 10h0m0-1h0m5-11h0m-15 27h0m8-14h0m-7 18h0m9-21h0m9-22h0m-18 34h0m5-4h0m13-24h0m-8 9h0m-7 25h0m-3-8h0m12-11h0m2 2h0m-278 935h0m-2 3h0m9-9h0m12-10h0m-6-2h0m-11 17h0m12-12h0m2 4h0m-6-1h0m-11 11h0m16-16h0m-12 17h0m6-12h0m8-5h0m-14 11h0m4-3h0m-80-119h0m-161 286h0m955-145h0m16-19h0m-26 33h0m-4 0h0m10-10h0m-5 10h0m0-6h0m-1 8h0m-3-3h0m14-11h0m0-3h0m-14 15h0m26-29h0m-10 10h0m-4 4h0m6-4h0m-2 4h0m-2-8h0m3 2h0m-6 9h0m2-6h0m11-6h0m-3-2h0m-8 11h0m3-3h0m-10 10h0m4 3h0m-10 3h0m15-13h0m6-8h0m174 934h0m5-7h0m-5 8h0m0-7h0m4-2h0m4 3h0m-8 3h0m-1-5h0m2 0h0m3-2h0m-8 10h0m5-7h0m5-5h0m-6 8h0m-3 5h0m7-13h0" stroke="#2C9A40" stroke-width="6"/>
<path d="M2141 624h0m16 20h0m-1-19h0m-10 25h0m1-19h0m8 16h0m-2-26h0m-12 7h0m-3-2h0m7 15h0m4-7h0m-4-8h0m7-4h0m1 22h0m-8-10h0m6-9h0m-9 18h0m11 6h0m4-18h0m-2 15h0m-2-4h0m-5-20h0m2 18h0m-12-12h0m3 5h0m-1539 1005h0m26-50h0m14 26h0m3 18h0m-38-47h0m12 1h0m12 55h0m1-5h0m-6 13h0m26-48h0m-34 47h0m-7-60h0m18 60h0m1-3h0m-33-24h0m10 23h0m15 2h0m-2-5h0m15-43h0m-4 4h0m-4 24h0m1 16h0m13-26h0m-33 27h0m-9-17h0m23-37h0m-19 12h0m41 23h0m3-17h0m-33 9h0m24 25h0m-20 2h0m20 5h0m-9-46h0m-2 35h0m11-27h0m-34-21h0m32 17h0m9-10h0m-21 51h0m10-37h0m3 40h0m-1-42h0m-6-22h0m6-5h0m-30 49h0m27-16h0m-34-13h0m23 34h0m0-53h0m23 56h0m-11-53h0m-11 30h0m-9-23h0m11 32h0m8 13h0m3-40h0m-33-3h0m15 21h0m2 28h0m5-44h0m3-18h0m-22 21h0m17-10h0m21 31h0m-24 15h0m33-21h0m-32-3h0m-23-13h0m28 25h0m14-4h0m-9-20h0m-13 12h0m26-16h0m-35 21h0m2-10h0m9 22h0m-12-36h0m20 1h0m2-8h0m22 36h0m-58-20h0m24 35h0m30-29h0m-54-6h0m38 14h0m-17 9h0m-13 13h0m32-33h0m11-19h0m-3 47h0m7-21h0m-11-10h0m-6 9h0m0 12h0m4 16h0m-24-53h0m11 2h0m19 22h0m-28 30h0m22 3h0m-11-34h0m-8 34h0m23-25h0m-3 20h0m14-32h0m-14 8h0m-20-20h0m25-2h0m-20 35h0m1-26h0m15 5h0m14 22h0m-22-2h0m10-44h0m-34 39h0m22 15h0m11-19h0m3-21h0m-10 30h0m8-17h0m-15 39h0m24-30h0m-38 10h0m9 19h0m18-52h0m11 28h0m-7 9h0m-2-21h0m-29-30h0m39 22h0m-16 35h0m2-4h0m1 2h0m-8-44h0m-31 3h0m44 0h0m800 33h0m-36 25h0m47-40h0m-28-36h0m7 78h0m-45-40h0m19 27h0m49-23h0m-59-2h0m60 1h0m-36-18h0m2 36h0m-30 3h0m15-48h0m9 59h0m-9-54h0m7 7h0m20-19h0m-6 68h0m-31-63h0m13 57h0m43-7h0m-30-16h0m-9-25h0m24 34h0m-30 19h0m-14-44h0m-4 22h0m21-43h0m20 49h0m1-19h0m-4-8h0m-16 16h0m32-27h0m-46 44h0m24 12h0m-24-17h0m11-14h0m19-8h0m14 20h0m-21-30h0m4 50h0m-31-52h0m11 3h0m-3-9h0m51 21h0m-7-22h0m-36-14h0m11 28h0m10 3h0m-14 36h0m-25-45h0m29 46h0m-9-45h0m25 12h0m-28 28h0m3-1h0m-5-27h0m-13-1h0m64-5h0m-58 37h0m11 9h0m43-27h0m-38-19h0m-8-19h0m9 52h0m-23-22h0m48 23h0m-47-18h0m24-9h0m-23 2h0m21 21h0m18-49h0m-26 43h0m34-43h0m2 12h0m-7-19h0m-35 31h0m27 24h0m-11-40h0m12 49h0m2-32h0m2 13h0m4-48h0m-24-1h0m4 44h0m3-26h0m-14 18h0m14-13h0m27-12h0m-1 57h0m-6-42h0m-6 48h0m18-37h0m-17 26h0m-30-15h0m-12-36h0m22-9h0m35 17h0m-5 37h0m-10-51h0m13 11h0m-46 47h0m-4-59h0m18 37h0m-18-12h0m50 30h0m-19-24h0m21 22h0m-37-16h0m-25-12h0m8-20h0m16 14h0m-9-15h0m13 69h0m15-69h0m7 42h0m3-38h0m-50 29h0m28-27h0m22 49h0m-5-1h0m0-30h0m-41-22h0m4-6h0m38 9h0m6 23h0m-33-22h0m3 61h0m-11-2h0m3-7h0m2-4h0m7-20h0m-13 2h0m17-51h0m8 10h0m-37 23h0m32 39h0m22-64h0m-9 0h0m-44 47h0m1 1h0m20 8h0m14-53h0m16 31h0m3-6h0m6 8h0m-57 14h0m19-6h0m-7 26h0m33-51h0m5 13h0m-12 3h0m-4 33h0m-24 0h0m-7-2h0m-5-6h0m29-24h0m-4 3h0m-11-31h0m33 8h0m-16-11h0m-20 9h0m40 40h0m-24 10h0m5-52h0m-20 7h0m17 27h0m2-20h0m20 21h0m-505 934h0m-7 29h0m3-9h0m11-8h0m6 14h0m-17-21h0m14 6h0m-13 8h0m6-8h0m-18 4h0m7-12h0m-1 16h0m2 3h0m-2 8h0m16-3h0m-11-9h0m9 16h0m-9-13h0m13-18h0m-8 4h0m-10 3h0m20 10h0m5 3h0m-13-1h0m15-3h0m-4-6h0m-16-1h0m-11 16h0m-1-21h0m1 5h0m0 1h0m10 6h0m10-5h0m8 6h0m-3 3h0m-19-4h0m12-20h0m-4 15h0m17-6h0m-32 17h0m32-3h0m-8-10h0m-5-11h0m5 4h0m-17 3h0m-2 1h0m20-2h0m1 18h0m-16-5h0m18 4h0m-2-2h0m-16-19h0m-1 29h0m-1-19h0m-1-1h0m19 7h0m-13 0h0m7-14h0m-1 19h0m-3-19h0m11 3h0m-4 4h0m-3-4h0m4-1h0m-4 18h0m-8-23h0m-1 8h0m16-5h0m-22 19h0m13 2h0m4 5h0m912-27h0m16 0h0m-15 9h0m-2 13h0m-15-15h0m10 0h0m26 3h0m-52-3h0m-5-4h0m1-1h0m36 15h0m1-5h0m27 3h0m-52-7h0m23-6h0m9-7h0m-30 4h0m50 12h0m-68-7h0m14 15h0m-5-2h0m55-3h0m-39 8h0m-20-16h0m55-3h0m-23-10h0m8 17h0m9-11h0m-30 16h0m-20-3h0m17-6h0m16 1h0m-36 7h0m30 7h0m-1 1h0m39-22h0m-14-5h0m-25 3h0m25 8h0m-49 0h0m12 7h0m6-8h0m22 9h0m-51-6h0m21-12h0m40 5h0m-52 8h0m23 5h0m-21-14h0m48-5h0m11 19h0m-16-3h0m6-7h0m-44-3h0m37 14h0m-26-17h0m37 3h0m-39 19h0m37-2h0m2-16h0m-36 3h0m39-1h0m-42 6h0m29 6h0m-19 7h0m-28-17h0m37 15h0m27-22h0m-42-2h0m4 8h0m15 5h0m-12 2h0m14 3h0m-21 7h0m2-8h0m5-19h0m10 20h0m19-10h0m-21 6h0m-33 0h0m39-3h0m-30 1h0m5 5h0m50-15h0m-43-4h0m34 3h0m4 2h0m-53 2h0m23 14h0m4-16h0m15-5h0m-23 19h0m15-17h0m-25 977h0m7 17h0m-28-3h0m31 3h0m-19-31h0m4-11h0m-14 30h0m22 11h0m-22-41h0m2 29h0m15-28h0m-16 44h0m-8-24h0m7 8h0m13 33h0m8-8h0m11-29h0m-15 22h0m17-28h0m-8-30h0m-18 14h0m34 15h0m-40 4h0m-1 9h0m42-3h0m-48 13h0m26-12h0m17 6h0m-8-13h0m-21-33h0m22 61h0m2-22h0m-9-2h0m-29-13h0m27-9h0m-14 19h0m4-31h0m-1 19h0m-6 35h0m1-29h0m18 43h0m-5-68h0m-18 9h0m0 37h0m6 18h0m13-57h0m11 36h0m-36 1h0m42-19h0m-37 9h0m23-5h0m-27-14h0m10-4h0m32 36h0m-10 9h0m-12-40h0m24 17h0m-23 18h0m-11-18h0m-2-6h0m28-5h0m-28-14h0m19-13h0m0 10h0m6 21h0m-18-19h0m-6-1h0m30 1h0m-11 37h0m4 12h0m0-32h0m-14-2h0m2 32h0m1-23h0m-20 8h0m11-28h0m-10 18h0m13 2h0m-11-17h0m19 22h0m15 12h0m-17-5h0m-18-8h0m6-26h0m7 4h0m6 49h0m11-51h0m9 27h0m-12-24h0m-18 3h0m12 9h0m1 31h0m9-33h0m-11-30h0m15 23h0m-1 23h0m-29-13h0m19 2h0m-12-9h0m21 40h0m-17-30h0m7-17h0m11 11h0m-21 34h0m4-58h0m12 14h0m-8 31h0m-11-44h0m-7 35h0m40 8h0m-32-46h0m26 57h0m-5-16h0m-11-12h0m5 29h0m-13 10h0m8 1h0m-10-49h0m29 29h0m-9-36h0m-15-10h0m-21 32h0m39 29h0m-7-56h0m-32 35h0m34-37h0m12 34h0m-6-19h0m-23 12h0m9 30h0m16-22h0m-3 5h0m-34-24h0m27-20h0m5 63h0m-9 5h0m-9-28h0" stroke="#0E4420" stroke-width="5.5"/>
<path d="M2177 624h0m1 16h0m-9 31h0m-8-12h0m-1547 1009h0m3-1h0m-5-9h0m-2-6h0m3 15h0m-3-15h0m3 12h0m0-3h0m-1 2h0m4 1h0m-3 4h0m-2-12h0m3-2h0m3 9h0m839-45h0m21-7h0m-23 2h0m30-2h0m-15-1h0m-9 10h0m28-6h0m-26-5h0m6 4h0m12-4h0m1 11h0m-14-7h0m-11-4h0m13 11h0m15-5h0m-28 6h0m4-8h0m14 5h0m2-4h0m-26 6h0m23-4h0m-14-3h0m22-5h0m-16 7h0m14 0h0m-19 0h0m16 1h0m-23 0h0m29 2h0m-25-5h0m33 15h0m-9-12h0m71 49h0m-69-37h0m48 28h0m-16-7h0m-8-10h0m28 14h0m2-3h0m-58-37h0m80 54h0m-53-29h0m50 23h0m-54-29h0m38 29h0m8 4h0m-69-45h0m45 30h0m-18-12h0m-14-15h0m24 18h0m-2-4h0m-33-16h0m68 37h0m-22-9h0m-24-14h0m-6-7h0m33 23h0m22 16h0m-35-24h0m-25-15h0m25 19h0m-37-23h0m56 26h0m6 4h0m-9 1h0m-30-15h0m33 16h0m-34-24h0m7 3h0m684-1h0m4 8h0m-6 6h0m7-15h0m-365 967h0m12 6h0m8-7h0m-12 22h0m29 913h0m11 3h0m-20-4h0m4-2h0m2 4h0m18 2h0m-6-2h0m4-5h0m-14 6h0m2 0h0m-9 2h0m8-2h0m10-7h0m-1 5h0m-11 3h0m9-4h0m-3 1h0m7 4h0m-1-2h0m-20-3h0" stroke="#0E4420" stroke-width="6"/>
<path d="M2121 796h0m-21-33h0m-3 2h0m33 12h0m-30-1h0m-7-9h0m7 8h0m-14-15h0m50 41h0m8-20h0m14 25h0m-31-23h0m12 2h0m22 9h0m-65-31h0m10-1h0m20 39h0m-35-31h0m37 5h0m23 17h0m-30-9h0m11 10h0m-30-32h0m67 52h0m-51-37h0m-16-6h0m9 22h0m54 17h0m-5-9h0m-28-8h0m14 16h0m1-23h0m-20 12h0m20 4h0m-28-25h0m26 27h0m-18-20h0m-23-11h0m34 24h0m-18-24h0m-28-3h0m35 26h0m-16-3h0m34-6h0m1 23h0m-41-49h0m22 13h0m20 29h0m-26-6h0m20-18h0m11 27h0m-49-44h0m28 19h0m16 31h0m-49-37h0m65 38h0m-61-30h0m53 29h0m-35-23h0m-29-14h0m34 10h0m35 28h0m-58-42h0m65 32h0m-30-11h0m-39-11h0m35 1h0m28 14h0m3 10h0m-27-12h0m15 2h0m-51-14h0m10-12h0m-7 8h0m39 18h0m-44-24h0m57 22h0m-16-10h0m-22 5h0m26 7h0m-11-9h0m-8 7h0m38 12h0m-75-47h0m63 53h0m-48-47h0m15 27h0m15 1h0m-18-29h0m24 40h0m-30-41h0m19 35h0m-41-31h0m54 42h0m-5-26h0m-26-14h0m36 35h0m7 7h0m-20-25h0m-41-12h0m8-15h0m57 50h0m-10-12h0m-12-15h0m2 0h0m-43-19h0m-4-3h0m20 18h0m-11-1h0m1 1h0m37 15h0m10-4h0m-14 14h0m6-8h0m-35-20h0m-1192 1985h0m-9 3h0m-2-28h0m-6 8h0m43 18h0m-2-34h0m-54 25h0m20 25h0m-14-30h0m58 18h0m-17-25h0m-22 17h0m-10 12h0m38-10h0m-47 11h0m27-10h0m-18-30h0m13 17h0m-14 29h0m-4-21h0m58 12h0m-72-14h0m47-3h0m-35 17h0m41-29h0m-38 8h0m32-17h0m-13 8h0m-3-12h0m6 16h0m-22 10h0m-3-3h0m28-6h0m-8 15h0m-8 4h0m21 6h0m7-9h0m-15 8h0m2-42h0m-13 10h0m-13 15h0m30-24h0m-33 12h0m63 5h0m-43-17h0m-36 19h0m24 33h0m23-6h0m14-38h0m8 2h0m-66 7h0m17 16h0m0-28h0m4 1h0m29 1h0m-25 4h0m-18 0h0m19 31h0m19-20h0m-9-14h0m-30 20h0m7-6h0m37 33h0m-43-43h0m40-4h0m-1 40h0m4 0h0m3 6h0m-27-39h0m8-4h0m16 13h0m-28-5h0m-1-2h0m-11 21h0m50-35h0m-43 26h0m42 9h0m-2-2h0m6-18h0m-9 5h0m-15 15h0m-24-30h0m958 989h0m-92-68h0m72 74h0m12-6h0m-68-61h0m67 62h0m-93-60h0m42 7h0m3 16h0m2-9h0m-23 4h0m33 12h0m-28-11h0m5-22h0m11 21h0m48 41h0m-58-30h0m54 27h0m-51-37h0m-27-27h0m51 53h0m26-4h0m-49-43h0m-27 11h0m28 15h0m-23-5h0m42 32h0m-1-29h0m30 23h0m-58-38h0m65 63h0m-61-68h0m-29-4h0m74 49h0m-35-45h0m-11 13h0m33 43h0m-25-17h0m-23-26h0m4 8h0m69 22h0m-79-35h0m57 50h0m-9-27h0m-27-20h0m16 21h0m-18-23h0m42 19h0m-32-9h0m34 24h0m-67-57h0m83 68h0m-74-61h0m77 54h0m-89-50h0m9 9h0m46 46h0m-10-25h0m-6-22h0m-4 11h0m29 11h0m16 12h0m-62-16h0m53 10h0m-39 3h0m27 18h0m-17-22h0m-52-47h0m20 14h0m44 53h0m-44-69h0m1 6h0m22 45h0m31 11h0m-27-10h0m54 21h0m-60-32h0m54 27h0m-81-47h0m25-4h0m8 34h0m30 15h0m-35-19h0m55 36h0m0-6h0m-36-18h0m-34-48h0m43 57h0m-20-34h0m30 15h0m-56-25h0m53 23h0m-54-43h0m-10 12h0m34 5h0m12 3h0m-44-11h0m1 15h0m12-15h0m22 33h0m11 14h0m11-6h0m22 9h0m-60-35h0m-10-3h0m56 18h0m27 41h0m-37-32h0m-51-28h0m8 8h0m64 47h0m-15-14h0m-12-18h0m19 29h0m11-14h0m-5-3h0m-56-39h0m13 23h0m3 1h0m-8-7h0m62 40h0m-35-48h0m-8-2h0m-12 30h0m35-13h0m-9 20h0m-11-19h0m-37-34h0m26 48h0m34 18h0m-23-48h0m-34-25h0m-6 11h0m28 28h0m-26-21h0m41 15h0m-37-13h0m8 22h0m45 31h0m-72-68h0m42 34h0m4-1h0m-5 17h0m37-10h0m-9-1h0m-12 7h0m-23-24h0m39 27h0m-39-8h0m63 35h0m-78-69h0m-1-2h0m57 32h0m-69-41h0m4 3h0m66 67h0m-68-53h0m71 34h0m-33-19h0m4 14h0m13 8h0m-46-19h0m-8-21h0m-8 1h0m76 35h0m10 14h0m-83-70h0m62 37h0m-50-27h0m59 43h0" stroke="#3FA845" stroke-width="5.5"/>
<path d="M2043 762h0m8 14h0m-32 41h0m8 8h0m71-8h0m8-12h0m-39 67h0m86-40h0m185 48h0m4 2h0m557-114h0m-33-5h0m41 13h0m2 0h0m-31-11h0m43 10h0m-54-17h0m43 12h0m-24-7h0m-28-10h0m37 15h0m-27-17h0m31 14h0m4 5h0m-20-4h0m-11-5h0m-1-1h0m15 13h0m-25-18h0m6 2h0m-69 44h0m12 9h0m8-17h0m55-47h0m87 47h0m-813 971h0m282-171h0m-430 1037h0m98 39h0m37 159h0m-1271 855h0m61 0h0m11 34h0m-71-25h0m44 60h0m-94-74h0m52 57h0m43 27h0m-39-72h0m30 12h0m45 15h0m-90-69h0m50 56h0m79-4h0m-138 7h0m27-61h0m15 79h0m-72-7h0m11 13h0m65-72h0m-13 80h0m82-52h0m-28-20h0m-66 42h0m-27 54h0m29-76h0m38 77h0m-81-110h0m19 74h0m107-20h0m-59 63h0m-12-112h0m65 58h0m-43-27h0m31-36h0m-50 54h0m-7-9h0m-51 4h0m50 4h0m55 39h0m-65-103h0m0 63h0m-64 27h0m111-19h0m-35-57h0m-21 81h0m52-89h0m22 112h0m-30-39h0m-50-57h0m30 70h0m-73-67h0m66 65h0m49-38h0m-44-27h0m45 80h0m24-54h0m-63 39h0m29-4h0m-79-61h0m121 76h0m-75-30h0m67-50h0m6 3h0m-96-15h0m50 37h0m18-7h0m-27 3h0m35 17h0m-24-31h0m25 6h0m-25 17h0m7 8h0m13-6h0m-41-1h0m8-8h0m-1-3h0m-7 10h0m16-13h0m-3 28h0m17-25h0m-10-12h0m21 17h0m13 9h0m-14-8h0m-3-2h0m9 13h0m-41-5h0m31-4h0m-30-15h0m40 19h0m9-2h0m-12-6h0m-10 15h0m-29-23h0m-22-29h0m16 14h0m-39-8h0m-3-4h0m2-7h0m34-4h0m6 4h0m-38 6h0m1 7h0m35 5h0m-12 3h0m4-23h0m-11 6h0m-10 0h0m1-12h0m5 1h0m26 3h0m-2 5h0m-21 5h0m4-16h0" stroke="#6CC164" stroke-width="6"/>
<path d="M2271 742h0m4 12h0m-4 31h0m-8 55h0m-4 24h0m-23 8h0m114 31h0m4 16h0m-20-189h0m712 106h0m-4 20h0m32-67h0m12-35h0m8-16h0m-16 142h0m-2177 805h0m4-11h0m-146-12h0m8-4h0m1512 227h0m12-7h0m10-4h0m10 16h0m31-8h0m12-4h0m20 12h0m-67 12h0m-8-20h0m-1093 1815h0m-100 43h0m47-34h0m-40 30h0m-4 98h0m43-170h0m-24 74h0m71-61h0m-9 94h0m-14 65h0m-9-108h0m11-44h0m-40 62h0m-27 76h0m52-154h0m-95 66h0m85 11h0m32 83h0m-15-22h0m-76-7h0m61-161h0m44 97h0m-37-79h0m-6 31h0m-37 104h0m-11 29h0m58-1h0m-39-176h0m38 92h0m-23-98h0m30 150h0m-68-111h0m-18 8h0m90 95h0m-21-36h0m-10 26h0m10 16h0m-50 41h0m29-185h0m-12-2h0m33 194h0m-41-154h0m28 67h0m24-2h0m-5 78h0m-76-50h0m101 49h0m-37-117h0m-45 66h0m87-108h0m-88 116h0m95-75h0m-124 53h0m21-22h0m113-35h0m-48 136h0m-68-63h0m102-43h0m-37-68h0m-50 75h0" stroke="#B7D7AE" stroke-width="6"/>
<path d="M2405 655h0m2 3h0m-69-21h0m-174 2039h0m-4 3h0" stroke="#E0381C" stroke-width="7"/>
<path d="M2488 612h0m2-4h0m-789 932h0m16 23h0m11 12h0m20 14h0m4 4h0m-43-41h0m341 2001h0m-24 47h0m18 35h0" stroke="#3C1C88" stroke-width="7"/>
<path d="M3109 406h0m-2 17h0m-1-4h0m2-2h0m-3-3h0m7-17h0m-5 27h0m0 5h0m3-35h0m-3 10h0m2 5h0m0-4h0m-2 12h0m6-6h0m-3 0h0m-2 20h0m2-22h0m2-9h0m-6 12h0m4-4h0m2 9h0m0-15h0m-7 31h0m3-19h0m-1 26h0m-3-6h0m-1921 1884h0m-14 22h0m21-29h0m-8 7h0m-22 22h0m29-25h0m-4 2h0m-18 20h0m27-25h0m-14 13h0m-17 17h0m11-10h0m-7 1h0m15-18h0m-9 20h0m3-4h0m10-14h0m-15 14h0m14-9h0m-4-3h0m-11 15h0m8-9h0m-5 6h0m-10 11h0m24-24h0m-150 140h0m2-13h0m2-2h0m-5 20h0m4-19h0m3-1h0m-9 21h0m1-5h0m8-20h0m-5 11h0m4-8h0m-1-3h0m-1 6h0m3 2h0m-2-5h0m-1 5h0" stroke="#D327A2" stroke-width="6"/>
<path d="M3390 753h0m-45 1h0m33-9h0m16 39h0m-8-32h0m-9 30h0m-8 6h0m-18-54h0m-5 13h0m13-17h0m3 56h0m-26-30h0m52 2h0m-36-7h0m19-32h0m-23 40h0m34 19h0m-14 21h0m-33-23h0m45-46h0m11 49h0m-48 14h0m3-63h0m11 31h0m26 17h0m-17-19h0m13-26h0m-27-17h0m10 14h0m-6 49h0m2-12h0m25 5h0m-35 20h0m36 0h0m-17-29h0m-18-16h0m22 45h0m-3-16h0m3-58h0m8 23h0m-32 36h0m15 4h0m-9-23h0m-10-3h0m45 0h0m5 7h0m-52-34h0m14 13h0m3 38h0m3-54h0m-24 52h0m29-48h0m8 45h0m-23 2h0m16-10h0m-23-21h0m-12-2h0m55 5h0m-39 41h0m12-11h0m-2291 970h0m9 2h0m3-54h0m-10 39h0m0-4h0m-9-23h0m31-7h0m-57 50h0m40-19h0m-26 30h0m33-19h0m-13-46h0m-29 34h0m35-31h0m-12 35h0m9-38h0m-14 57h0m1-44h0m-8 54h0m14-1h0m4-18h0m-38-9h0m65 11h0m-64-17h0m47 3h0m-23 17h0m30-45h0m-5 32h0m-3 20h0m0-3h0m-24-41h0m5 17h0m25-1h0m-2 14h0m8-46h0m-17 57h0m-27 5h0m-3-42h0m24-17h0m-8 17h0m-2-18h0m0 54h0m34-30h0m-13-6h0m-17 45h0m-23-53h0m1 39h0m53-6h0m-38-52h0m5-4h0m13 3h0m20 34h0m-16 10h0m-7-9h0m8-25h0m-23 25h0m-13 8h0m5 20h0m-20-26h0m0 21h0m54 2h0m-18-65h0m4 70h0m32-13h0m-41-50h0m-6 11h0m-5-15h0m10 28h0m-18 35h0m36-9h0m-46-3h0m55 18h0m-13-63h0m-29 60h0m9-25h0m-4-8h0m-6 3h0m39 7h0m-51-17h0m9 22h0m3-35h0m-14 14h0m13 7h0m18 40h0m37-46h0m-7 40h0m-5-40h0m5-22h0m-28 21h0m-6 34h0m-19-40h0m64 0h0m-63 17h0m-9 3h0m67 17h0m-48-17h0m24 18h0m-25 12h0m-2-67h0m13 22h0m-28 27h0m53 19h0m2-59h0m7-6h0m-33 59h0m-14-42h0m23 19h0m-39-7h0m29-10h0m2 1h0m31 26h0m-27-9h0m24-17h0m3 2h0m-33-7h0m-11-17h0m8 23h0m20-18h0m20 26h0m-44 2h0m6 25h0m15 7h0m-9-70h0m2 63h0m24 2h0m-50-18h0m30 12h0m-5-38h0m32 38h0m-9-33h0m-12 26h0m-26-29h0m1 40h0m26-15h0m-29-27h0m34-6h0m-47 30h0m816-39h0m-61 23h0m32 22h0m47-29h0m-38 4h0m19 9h0m-10-22h0m-29 27h0m65 10h0m-6-14h0m-44-29h0m-32 36h0m27-18h0m23-7h0m-17 30h0m-38-19h0m74 9h0m-37 11h0m-36-12h0m72 4h0m0-25h0m-26 20h0m13-17h0m-7 33h0m-43-24h0m37 16h0m-21-9h0m24-29h0m6 36h0m-8-22h0m32 30h0m-17 1h0m-27-32h0m22 18h0m3-15h0m-21 22h0m47-8h0m-59-12h0m-6 16h0m14 1h0m6-15h0m16 13h0m-2 7h0m9-39h0m5 19h0m8 16h0m-17-21h0m-41-1h0m45 22h0m4 7h0m-32-22h0m1-16h0m2-2h0m-8-1h0m25 8h0m24 29h0m-43-17h0m27-20h0m25 20h0m-3 2h0m2-8h0m-36 9h0m-37-21h0m-6 17h0m12 1h0m66 6h0m-1 6h0m1-9h0m-43-1h0m17-5h0m27 21h0m-15-15h0m-55 8h0m22-4h0m13 16h0m0-32h0m-41-2h0m73 20h0m-8-18h0m9 3h0m-38 4h0m15 22h0m-23-30h0m23-4h0m-42 28h0m11-17h0m19 18h0m-14-37h0m14 31h0m-25-20h0m-31 15h0m30 11h0m-21-8h0m55-3h0m-58-6h0m28-4h0m28 23h0m-31 3h0m34-39h0m-27 45h0m10-14h0m12-9h0m-3 20h0m-2-23h0m10-1h0m4-12h0m-4-2h0m-26-4h0m25 21h0m-34-19h0m-8 37h0m49-20h0m-18-21h0m-15 8h0m22 16h0m13 18h0m-27-34h0m-24 19h0m33 20h0m13-10h0m-50-23h0m-9 10h0m4 1h0m44-8h0m-38 7h0m35-6h0m-35-7h0m36-12h0m-9 43h0m-26-28h0m19 24h0m12-33h0m-29 10h0m55-2h0m20 9h0m-59-13h0m-7 1h0m509 1059h0m18-25h0m1-17h0m16 31h0m-36-70h0m-24 66h0m31 30h0m-12-51h0m7 28h0m18-6h0m-18 24h0m26-22h0m-16 19h0m3-103h0m-11 6h0m2 67h0m7-40h0m-41 20h0m71 1h0m-19 39h0m-31-50h0m39 17h0m-20-58h0m-37 79h0m51 2h0m-24-31h0m-6 13h0m35-18h0m9 2h0m-32-42h0m19 88h0m14-36h0m-17-23h0m14 15h0m-32-11h0m4 47h0m-38-14h0m35 0h0m5-39h0m0 46h0m8-52h0m-18 18h0m11 61h0m24-22h0m-38-23h0m11 26h0m28-64h0m-5 52h0m-63-33h0m53 21h0" stroke="#86B2D0" stroke-width="5.5"/>
<path d="M3372 765h0m9-11h0m-17 19h0m-22 16h0m51-46h0m-42 36h0m7-10h0m-22 19h0m52-34h0m-37 22h0m-15 9h0m9-8h0m42-31h0m-28 24h0m35-27h0m-33 27h0m-3 6h0m27-28h0m-46 39h0m4-9h0m-3 16h0m37-38h0m-34 20h0m12-3h0m22-16h0m-2 2h0m-33 31h0m45-39h0m-12 11h0m12-11h0m0 3h0m-36 26h0m-20 4h0m25-13h0m10-8h0m-11 14h0m26-23h0m-22 18h0m13-19h0m-17 20h0" stroke="#86B2D0" stroke-width="6"/>
<path d="M3180 681h0m12 3h0m-2 8h0m-8-1h0m47 214h0m-3 6h0m58-242h0" stroke="#2E5CC4" stroke-width="7"/>
<path d="M3200 549h0m2-4h0m-26 106h0m2 4h0m-25-94h0m-663 1008h0m5-2h0m19 6h0" stroke="#E8761C" stroke-width="8"/>
<path d="M3086 569h0m-738 968h0m1-1h0" stroke="#E2AE2A" stroke-width="8"/>
<path d="M3097 691h0m2 4h0m-1827 2854h0m4 6h0" stroke="#E0381C" stroke-width="8"/>
<path d="M3005 441h0m175-57h0m-35 10h0m-698 1240h0m-515 730h0m15 95h0m83-187h0" stroke="#D327A2" stroke-width="7"/>
<path d="M2936 636h0m24 4h0m-8 23h0m106 18h0" stroke="#2C9A40" stroke-width="5"/>
<path d="M862 1528h0m31 4h0m-20 39h0m4-23h0m32-8h0m804 25h0m-20 85h0m-2 4h0m-120 0h0m-439 996h0m-41 78h0m900-304h0m4 3h0m185 110h0m8 3h0m-56-44h0" stroke="#E8761C" stroke-width="7"/>
<path d="M1665 1792h0m-49-58h0m-16 15h0m66 18h0m21-27h0m-96-6h0m22 38h0m34 15h0m-38-8h0m38-28h0m-4 4h0m15 25h0m-53-20h0m-4-18h0m26 25h0m5-26h0m32-9h0m9-16h0m-25 34h0m17-16h0m-35-20h0m61 37h0m-30 21h0m29-20h0m-12-8h0m-79 26h0m40-53h0m35 21h0m-27 36h0m7-65h0m10 16h0m-44 35h0m65-2h0m-52-44h0m51 35h0m6-3h0m-53 17h0m-7-38h0m-35 1h0m58 54h0m-23 11h0m4-38h0m-5 17h0m37-18h0m-25 0h0m15 43h0m-6-55h0m-17-27h0m19 18h0m-28 47h0m23-56h0m4 61h0m-38-53h0m-4 6h0m1 19h0m-15 8h0m60-40h0m11 2h0m-68 36h0m3 23h0m1-42h0m41 46h0m-29-26h0m27-37h0m23 62h0m15-13h0m-57-7h0m15-26h0m-30 36h0m65 5h0m-7 4h0m-6-46h0m-14 51h0m-18-70h0m27 34h0m-37 16h0m67-4h0m-1-30h0m-35 29h0m-9 0h0m0 14h0m6-22h0m35-22h0m-45-24h0m6 72h0m1-19h0m15 0h0m-49-28h0m30-4h0m41 41h0m9-31h0m-81 15h0m69-4h0m-46-40h0m9 25h0m-21 45h0m20 13h0m16-61h0m-24 37h0m-10-63h0m22 14h0m-49 11h0m97 19h0m-58-32h0m-10 56h0m2-10h0m28-40h0m35 8h0m-3 47h0m-36 5h0m19 0h0m2-50h0m-12-28h0m0 67h0m-21-28h0m-30-4h0m12-32h0m-22 39h0m78-34h0m-41 57h0m14-53h0m-6 58h0m-35-9h0m9 24h0m4-16h0m40-10h0m17 11h0m-58-39h0m30-14h0m-8 48h0m1-46h0m-48 30h0m12-38h0m-14 54h0m57 1h0m-19 7h0m-1-3h0m2-67h0m4 39h0m-11-38h0m28 8h0m6 13h0m5 33h0m17-40h0m-45 28h0m27-3h0m-5-19h0m-20 2h0m-18 36h0m33 18h0m-22-61h0m6 19h0m46 38h0m-14-69h0m-31 32h0m25-5h0m25 31h0m-35 6h0m19-62h0m-72 48h0m65-27h0m-63 32h0m80-16h0m3-4h0m-40 31h0m-3 3h0m-13-74h0m-5 62h0m-17-3h0m58-21h0m19 12h0m-52 10h0m26-26h0m-8-2h0m-3-8h0m-37-18h0m23 18h0m37-5h0m-48 7h0m-21 31h0m34-60h0m5 33h0m-22-17h0m42 57h0m22-16h0m-33-1h0m-43-11h0m31 39h0m13-35h0m-37-10h0m44 46h0m-13-62h0m38-7h0m-48 76h0m-35-79h0m84 65h0m-79 2h0m-13-59h0m22-19h0m14 90h0m13-95h0m-46 19h0m-7 39h0m5-36h0m15-11h0m10-10h0m44-1h0m-45 90h0m68-10h0m-95-60h0m-2 44h0m110-24h0" stroke="#A3D19A" stroke-width="5.5"/>
<path d="M1502 1294h0m2 2h0m913 64h0m8 7h0m19-2h0m8 6h0m2-4h0m-21-8h0m-360 968h0m12 10h0m-6-15h0" stroke="#9C1596" stroke-width="7"/>
<path d="M1032 2373h0m4 5h0m23 4h0m8 16h0m-12 12h0" stroke="#E569AE" stroke-width="7"/>
<path d="M1415 2455h0m6 4h0m7 3h0m-11-1h0m7-6h0m-4 7h0m-190 162h0m6 8h0m44-118h0m14-4h0" stroke="#2E5CC4" stroke-width="10"/>
<path d="M1051 2254h0m2 2h0m2-4h0m-5 0h0" stroke="#5A1F98" stroke-width="11"/>
<path d="M2215 2553h0m4 5h0m-16-14h0" stroke="#6A2AA8" stroke-width="7"/>
<path d="M1406 3659h0m11 4h0m20 67h0m32-4h0m15-16h0m8-4h0m-134-161h0m4-4h0" stroke="#A2BED9" stroke-width="6"/>
<path d="M1179 3210h0m2 8h0m6 43h0m-37 4h0m-12 7h0m-12 7h0m-5 8h0m-54 20h0m2 4h0m23 25h0m93-33h0m-104 72h0m6-3h0m960-166h0m3 12h0m-118 93h0m26 49h0m1 8h0" stroke="#E569AE" stroke-width="7.5"/>
<path d="M1203 3290h0m266 125h0m1-2h0m-142 407h0m2-2h0m-50-236h0m4 4h0m-6 2h0" stroke="#2E5CC4" stroke-width="11"/>
<path d="M1063 3403h0m4 4h0m-8 8h0m7-5h0m-30 44h0m4 2h0m183-57h0m2 6h0m1 4h0m-5 2h0m-225 86h0m-3 28h0m-1 6h0" stroke="#2C9A40" stroke-width="10"/>
<path d="M1185 3547h0m2 3h0" stroke="#E8761C" stroke-width="9"/>
<path d="M2290 3665h0m35-2h0m4 19h0m36 28h0m23-24h0m-51 12h0m16 8h0m-110-138h0" stroke="#86B2D0" stroke-width="7"/>
<path d="M1973 3278h0m58-32h0m-10 15h0m-26 19h0m2-20h0m-18-17h0m22 4h0m16 1h0m19 14h0m-7-1h0m-32 5h0m34-21h0m-36 23h0m11-8h0m-31 2h0m30 23h0m-2-11h0m35-18h0m-55 7h0m17 0h0m-15 17h0m40-34h0m-26 36h0m25 3h0m-28 3h0m32-17h0m11 4h0m-49 10h0m13-22h0m-12 6h0m21 8h0m3 0h0m-34-25h0m-18 17h0m8-22h0m54 25h0m-32-2h0m-27 8h0m32 11h0m18-39h0m18 31h0m2-16h0m4-10h0m-64 28h0m51-23h0m-52-14h0m46 29h0m-31-7h0m23-14h0m-51 9h0m45-15h0m-12 16h0m2-10h0m23 6h0m-58 2h0m64-13h0m-1 16h0m-3 6h0m-38 0h0m-14-19h0m35 29h0m12-20h0m-54 11h0m40-27h0m-34 5h0m39-1h0m6 19h0m-27-6h0m33 4h0m-11-15h0m-40 13h0m35-25h0m26 29h0m-40-3h0m12-23h0m14 33h0" stroke="#E569AE" stroke-width="6.5"/></g></g>
</g>
<g id="sharp" filter="url(#b2)">
<rect x="827.2" y="43.6" width="49.5" height="17" fill="#A6BAD4"/>
<rect x="827.2" y="60.3" width="49.5" height="67" fill="#C2D5BA"/>
<rect x="827.2" y="127" width="49.5" height="26" fill="#7EC076"/>
<rect x="827.2" y="152.7" width="49.5" height="3" fill="#DBA832"/>
<rect x="827.2" y="155.3" width="49.5" height="8.6" fill="#3A1D5C"/>
<rect x="827.2" y="163.7" width="49.5" height="24.3" fill="#92166D"/>
<rect x="827.2" y="187.7" width="49.5" height="4" fill="#277A38"/>
<rect x="827.2" y="191.3" width="49.5" height="13" fill="#DC6B20"/>
<text x="849.8" y="39.8" font-size="12.2" fill="#333" text-anchor="middle" textLength="40.5" lengthAdjust="spacingAndGlyphs" class="nm">Baseline</text>
<rect x="882.2" y="43.6" width="49.7" height="19.7" fill="#A6BAD4"/>
<rect x="882.2" y="63" width="49.7" height="25" fill="#C2D5BA"/>
<rect x="882.2" y="87.7" width="49.7" height="32" fill="#7EC076"/>
<rect x="882.2" y="119.3" width="49.7" height="1.3" fill="#DBA832"/>
<rect x="882.2" y="120.3" width="49.7" height="15" fill="#3A1D5C"/>
<rect x="882.2" y="135" width="49.7" height="61.3" fill="#92166D"/>
<rect x="882.2" y="196" width="49.7" height="2.3" fill="#277A38"/>
<rect x="882.2" y="198" width="49.7" height="6.3" fill="#DC6B20"/>
<text x="906.2" y="39.8" font-size="12.2" fill="#333" text-anchor="middle" textLength="47.5" lengthAdjust="spacingAndGlyphs" class="nm">ADT-Only</text>
<rect x="937.8" y="43.6" width="49.4" height="8" fill="#C2D5BA"/>
<rect x="937.8" y="51.3" width="49.4" height="95.3" fill="#7EC076"/>
<rect x="937.8" y="146.3" width="49.4" height="3" fill="#DBA832"/>
<rect x="937.8" y="149" width="49.4" height="3" fill="#3A1D5C"/>
<rect x="937.8" y="151.7" width="49.4" height="11.6" fill="#92166D"/>
<rect x="937.8" y="163" width="49.4" height="13" fill="#277A38"/>
<rect x="937.8" y="175.7" width="49.4" height="28.6" fill="#DC6B20"/>
<text x="961.5" y="39.8" font-size="12.2" fill="#333" text-anchor="middle" textLength="53" lengthAdjust="spacingAndGlyphs" class="nm">ADT+aPD1</text>
<rect x="992.5" y="43.6" width="49.7" height="28.7" fill="#A6BAD4"/>
<rect x="992.5" y="72" width="49.7" height="46.6" fill="#C2D5BA"/>
<rect x="992.5" y="118.3" width="49.7" height="21.6" fill="#7EC076"/>
<rect x="992.5" y="139.7" width="49.7" height="11.6" fill="#3A1D5C"/>
<rect x="992.5" y="151" width="49.7" height="32.3" fill="#92166D"/>
<rect x="992.5" y="183" width="49.7" height="1.3" fill="#277A38"/>
<rect x="992.5" y="184" width="49.7" height="20.3" fill="#DC6B20"/>
<text x="1022.8" y="39.8" font-size="12.2" fill="#333" text-anchor="middle" textLength="56.5" lengthAdjust="spacingAndGlyphs" class="nm">Recurrence</text>
<line x1="818.9" y1="35.5" x2="818.9" y2="212.5" stroke="#333" stroke-width="1.6"/>
<line x1="818.1" y1="211.7" x2="1050" y2="211.7" stroke="#333" stroke-width="1.6"/>
<line x1="815.9" y1="43.6" x2="818.9" y2="43.6" stroke="#333" stroke-width="1"/>
<text x="813.5" y="46.8" font-size="9" fill="#7a7a7a" text-anchor="end" class="tg">1.00</text>
<line x1="815.9" y1="83.8" x2="818.9" y2="83.8" stroke="#333" stroke-width="1"/>
<text x="813.5" y="87" font-size="9" fill="#7a7a7a" text-anchor="end" class="tg">0.75</text>
<line x1="815.9" y1="123.9" x2="818.9" y2="123.9" stroke="#333" stroke-width="1"/>
<text x="813.5" y="127.1" font-size="9" fill="#7a7a7a" text-anchor="end" class="tg">0.50</text>
<line x1="815.9" y1="164" x2="818.9" y2="164" stroke="#333" stroke-width="1"/>
<text x="813.5" y="167.2" font-size="9" fill="#7a7a7a" text-anchor="end" class="tg">0.25</text>
<line x1="815.9" y1="204.2" x2="818.9" y2="204.2" stroke="#333" stroke-width="1"/>
<text x="813.5" y="207.4" font-size="9" fill="#7a7a7a" text-anchor="end" class="tg">0.00</text>
<line x1="851.9" y1="211.7" x2="851.9" y2="214.7" stroke="#333" stroke-width="1"/>
<line x1="907" y1="211.7" x2="907" y2="214.7" stroke="#333" stroke-width="1"/>
<line x1="962.5" y1="211.7" x2="962.5" y2="214.7" stroke="#333" stroke-width="1"/>
<line x1="1017.3" y1="211.7" x2="1017.3" y2="214.7" stroke="#333" stroke-width="1"/>
<text x="789.7" y="124.5" font-size="14.8" fill="#111" text-anchor="middle" font-weight="bold" transform="rotate(-90 789.7 124.5)">Frequency</text>
<text x="744" y="36.6" font-size="17.5" fill="#000" font-weight="bold">B</text>
<text x="757" y="116.5" font-size="21" fill="#262626" text-anchor="middle" transform="rotate(-90 757 116.5)">Bone</text>
<rect x="833.1" y="242.2" width="64.1" height="49.5" fill="#A6BAD4"/>
<rect x="833.1" y="291.4" width="64.1" height="47.5" fill="#C2D5BA"/>
<rect x="833.1" y="338.6" width="64.1" height="27.5" fill="#7EC076"/>
<rect x="833.1" y="365.8" width="64.1" height="1.4" fill="#3A1D5C"/>
<rect x="833.1" y="366.9" width="64.1" height="11.4" fill="#92166D"/>
<rect x="833.1" y="378.1" width="64.1" height="15" fill="#277A38"/>
<rect x="833.1" y="392.8" width="64.1" height="8.1" fill="#DC6B20"/>
<text x="860.5" y="237.2" font-size="12.2" fill="#333" text-anchor="middle" textLength="40.5" lengthAdjust="spacingAndGlyphs" class="nm">Baseline</text>
<rect x="904.2" y="242.2" width="64.1" height="49.5" fill="#A6BAD4"/>
<rect x="904.2" y="291.4" width="64.1" height="60.9" fill="#C2D5BA"/>
<rect x="904.2" y="351.9" width="64.1" height="22.2" fill="#7EC076"/>
<rect x="904.2" y="373.9" width="64.1" height="5.3" fill="#DBA832"/>
<rect x="904.2" y="378.9" width="64.1" height="8.1" fill="#92166D"/>
<rect x="904.2" y="386.7" width="64.1" height="11.1" fill="#277A38"/>
<rect x="904.2" y="397.5" width="64.1" height="3.4" fill="#DC6B20"/>
<text x="935" y="237.2" font-size="12.2" fill="#333" text-anchor="middle" textLength="47.2" lengthAdjust="spacingAndGlyphs" class="nm">ADT-Only</text>
<rect x="975.6" y="242.2" width="64.1" height="63.9" fill="#C2D5BA"/>
<rect x="975.6" y="305.8" width="64.1" height="2" fill="#7EC076"/>
<rect x="975.6" y="307.5" width="64.1" height="8.4" fill="#DBA832"/>
<rect x="975.6" y="315.6" width="64.1" height="39.5" fill="#92166D"/>
<rect x="975.6" y="354.7" width="64.1" height="31.4" fill="#277A38"/>
<rect x="975.6" y="385.8" width="64.1" height="15" fill="#DC6B20"/>
<text x="1002.2" y="237.2" font-size="12.2" fill="#333" text-anchor="middle" textLength="52.8" lengthAdjust="spacingAndGlyphs" class="nm">ADT+aPD1</text>
<line x1="822.5" y1="234.4" x2="822.5" y2="409" stroke="#333" stroke-width="1.6"/>
<line x1="821.7" y1="408.2" x2="1049.4" y2="408.2" stroke="#333" stroke-width="1.6"/>
<line x1="819.5" y1="242.2" x2="822.5" y2="242.2" stroke="#333" stroke-width="1"/>
<text x="817.1" y="245.4" font-size="9" fill="#7a7a7a" text-anchor="end" class="tg">1.00</text>
<line x1="819.5" y1="281.8" x2="822.5" y2="281.8" stroke="#333" stroke-width="1"/>
<text x="817.1" y="285" font-size="9" fill="#7a7a7a" text-anchor="end" class="tg">0.75</text>
<line x1="819.5" y1="321.4" x2="822.5" y2="321.4" stroke="#333" stroke-width="1"/>
<text x="817.1" y="324.6" font-size="9" fill="#7a7a7a" text-anchor="end" class="tg">0.50</text>
<line x1="819.5" y1="361" x2="822.5" y2="361" stroke="#333" stroke-width="1"/>
<text x="817.1" y="364.2" font-size="9" fill="#7a7a7a" text-anchor="end" class="tg">0.25</text>
<line x1="819.5" y1="400.6" x2="822.5" y2="400.6" stroke="#333" stroke-width="1"/>
<text x="817.1" y="403.8" font-size="9" fill="#7a7a7a" text-anchor="end" class="tg">0.00</text>
<line x1="865" y1="408.2" x2="865" y2="409.8" stroke="#333" stroke-width="1"/>
<line x1="936" y1="408.2" x2="936" y2="409.8" stroke="#333" stroke-width="1"/>
<line x1="1007.5" y1="408.2" x2="1007.5" y2="409.8" stroke="#333" stroke-width="1"/>
<text x="793.5" y="322.6" font-size="14.8" fill="#111" text-anchor="middle" font-weight="bold" transform="rotate(-90 793.5 322.6)">Frequency</text>
<text x="749" y="228.6" font-size="17.5" fill="#000" font-weight="bold">D</text>
<text x="757" y="312" font-size="21" fill="#262626" text-anchor="middle" transform="rotate(-90 757 312)">Lymph Node</text>
<rect x="836.4" y="432.8" width="94.2" height="13.1" fill="#A6BAD4"/>
<rect x="836.4" y="445.6" width="94.2" height="38.9" fill="#C2D5BA"/>
<rect x="836.4" y="484.2" width="94.2" height="40.9" fill="#7EC076"/>
<rect x="836.4" y="524.7" width="94.2" height="6.1" fill="#DBA832"/>
<rect x="836.4" y="530.6" width="94.2" height="10.6" fill="#3A1D5C"/>
<rect x="836.4" y="540.8" width="94.2" height="15.3" fill="#92166D"/>
<rect x="836.4" y="555.8" width="94.2" height="7" fill="#277A38"/>
<rect x="836.4" y="562.5" width="94.2" height="30.3" fill="#DC6B20"/>
<text x="875.1" y="427.2" font-size="12.2" fill="#333" text-anchor="middle" textLength="40.3" lengthAdjust="spacingAndGlyphs" class="nm">Baseline</text>
<rect x="940.6" y="432.8" width="94.1" height="7.5" fill="#A6BAD4"/>
<rect x="940.6" y="440" width="94.1" height="59.7" fill="#C2D5BA"/>
<rect x="940.6" y="499.4" width="94.1" height="64.5" fill="#7EC076"/>
<rect x="940.6" y="563.6" width="94.1" height="1.4" fill="#DBA832"/>
<rect x="940.6" y="564.7" width="94.1" height="7" fill="#3A1D5C"/>
<rect x="940.6" y="571.4" width="94.1" height="12" fill="#92166D"/>
<rect x="940.6" y="583.1" width="94.1" height="7.2" fill="#277A38"/>
<rect x="940.6" y="590" width="94.1" height="2.8" fill="#DC6B20"/>
<text x="986.2" y="427.2" font-size="12.2" fill="#333" text-anchor="middle" textLength="52.5" lengthAdjust="spacingAndGlyphs" class="nm">ADT+aPD1</text>
<line x1="821.7" y1="425.3" x2="821.7" y2="601.1" stroke="#333" stroke-width="1.6"/>
<line x1="820.9" y1="600.3" x2="1050" y2="600.3" stroke="#333" stroke-width="1.6"/>
<line x1="818.7" y1="432.8" x2="821.7" y2="432.8" stroke="#333" stroke-width="1"/>
<text x="816.3" y="436" font-size="9" fill="#7a7a7a" text-anchor="end" class="tg">1.00</text>
<line x1="818.7" y1="472.7" x2="821.7" y2="472.7" stroke="#333" stroke-width="1"/>
<text x="816.3" y="475.9" font-size="9" fill="#7a7a7a" text-anchor="end" class="tg">0.75</text>
<line x1="818.7" y1="512.6" x2="821.7" y2="512.6" stroke="#333" stroke-width="1"/>
<text x="816.3" y="515.9" font-size="9" fill="#7a7a7a" text-anchor="end" class="tg">0.50</text>
<line x1="818.7" y1="552.6" x2="821.7" y2="552.6" stroke="#333" stroke-width="1"/>
<text x="816.3" y="555.8" font-size="9" fill="#7a7a7a" text-anchor="end" class="tg">0.25</text>
<line x1="818.7" y1="592.5" x2="821.7" y2="592.5" stroke="#333" stroke-width="1"/>
<text x="816.3" y="595.7" font-size="9" fill="#7a7a7a" text-anchor="end" class="tg">0.00</text>
<line x1="883.6" y1="600.3" x2="883.6" y2="602.1" stroke="#333" stroke-width="1"/>
<line x1="987.5" y1="600.3" x2="987.5" y2="602.1" stroke="#333" stroke-width="1"/>
<text x="791.2" y="512.5" font-size="14.8" fill="#111" text-anchor="middle" font-weight="bold" transform="rotate(-90 791.2 512.5)">Frequency</text>
<text x="750" y="434.5" font-size="17.5" fill="#000" font-weight="bold">F</text>
<text x="759.5" y="514.5" font-size="21" fill="#262626" text-anchor="middle" transform="rotate(-90 759.5 514.5)">Liver</text>
<rect x="837.5" y="630.6" width="94.7" height="5.8" fill="#A6BAD4"/>
<rect x="837.5" y="636.1" width="94.7" height="12.2" fill="#C2D5BA"/>
<rect x="837.5" y="648.1" width="94.7" height="12" fill="#7EC076"/>
<rect x="837.5" y="659.7" width="94.7" height="2.2" fill="#DBA832"/>
<rect x="837.5" y="661.7" width="94.7" height="3.6" fill="#3A1D5C"/>
<rect x="837.5" y="665" width="94.7" height="9.2" fill="#92166D"/>
<rect x="837.5" y="673.9" width="94.7" height="8.4" fill="#277A38"/>
<rect x="837.5" y="681.9" width="94.7" height="109.2" fill="#DC6B20"/>
<text x="879" y="625.9" font-size="12.2" fill="#333" text-anchor="middle" textLength="40.8" lengthAdjust="spacingAndGlyphs" class="nm">Baseline</text>
<rect x="942.5" y="630.6" width="94.7" height="8.3" fill="#A6BAD4"/>
<rect x="942.5" y="638.6" width="94.7" height="49.5" fill="#C2D5BA"/>
<rect x="942.5" y="687.8" width="94.7" height="63.1" fill="#7EC076"/>
<rect x="942.5" y="750.6" width="94.7" height="3.1" fill="#DBA832"/>
<rect x="942.5" y="753.3" width="94.7" height="2.5" fill="#3A1D5C"/>
<rect x="942.5" y="755.6" width="94.7" height="10" fill="#92166D"/>
<rect x="942.5" y="765.3" width="94.7" height="15.3" fill="#277A38"/>
<rect x="942.5" y="780.3" width="94.7" height="10.9" fill="#DC6B20"/>
<text x="990.3" y="625.9" font-size="12.2" fill="#333" text-anchor="middle" textLength="52.8" lengthAdjust="spacingAndGlyphs" class="nm">ADT+aPD1</text>
<line x1="822.2" y1="623" x2="822.2" y2="800.1" stroke="#333" stroke-width="1.6"/>
<line x1="821.4" y1="799.3" x2="1052.2" y2="799.3" stroke="#333" stroke-width="1.6"/>
<line x1="819.2" y1="630.6" x2="822.2" y2="630.6" stroke="#333" stroke-width="1"/>
<text x="816.8" y="633.8" font-size="9" fill="#7a7a7a" text-anchor="end" class="tg">1.00</text>
<line x1="819.2" y1="670.6" x2="822.2" y2="670.6" stroke="#333" stroke-width="1"/>
<text x="816.8" y="673.9" font-size="9" fill="#7a7a7a" text-anchor="end" class="tg">0.75</text>
<line x1="819.2" y1="710.7" x2="822.2" y2="710.7" stroke="#333" stroke-width="1"/>
<text x="816.8" y="713.9" font-size="9" fill="#7a7a7a" text-anchor="end" class="tg">0.50</text>
<line x1="819.2" y1="750.8" x2="822.2" y2="750.8" stroke="#333" stroke-width="1"/>
<text x="816.8" y="754" font-size="9" fill="#7a7a7a" text-anchor="end" class="tg">0.25</text>
<line x1="819.2" y1="790.8" x2="822.2" y2="790.8" stroke="#333" stroke-width="1"/>
<text x="816.8" y="794" font-size="9" fill="#7a7a7a" text-anchor="end" class="tg">0.00</text>
<line x1="884.7" y1="799.3" x2="884.7" y2="802.3" stroke="#333" stroke-width="1"/>
<line x1="989.7" y1="799.3" x2="989.7" y2="802.3" stroke="#333" stroke-width="1"/>
<text x="791.5" y="711.5" font-size="14.8" fill="#111" text-anchor="middle" font-weight="bold" transform="rotate(-90 791.5 711.5)">Frequency</text>
<text x="751.3" y="632.3" font-size="17.5" fill="#000" font-weight="bold">H</text>
<text x="761" y="712" font-size="21" fill="#262626" text-anchor="middle" transform="rotate(-90 761 712)">Lung</text>
<text x="589.7" y="373.4" font-size="20.8" fill="#222" textLength="66.6" lengthAdjust="spacingAndGlyphs">Cluster</text>
<rect x="590" y="387.5" width="28" height="27.9" fill="#A6BAD4"/>
<text x="630.8" y="408.1" font-size="17.5" fill="#222">B-cell</text>
<rect x="590" y="418" width="28" height="27.9" fill="#C2D5BA"/>
<text x="630.8" y="438.6" font-size="17.5" fill="#222">CD4nonTreg</text>
<rect x="590" y="448.6" width="28" height="27.9" fill="#7EC076"/>
<text x="630.8" y="469.2" font-size="17.5" fill="#222">CD8</text>
<rect x="590" y="479.1" width="28" height="27.9" fill="#DBA832"/>
<text x="630.8" y="499.7" font-size="17.5" fill="#222">Endothelial</text>
<rect x="590" y="509.6" width="28" height="27.9" fill="#3A1D5C"/>
<text x="630.8" y="530.2" font-size="17.5" fill="#222">Erythrocyte</text>
<rect x="590" y="540.1" width="28" height="27.9" fill="#92166D"/>
<text x="630.8" y="560.8" font-size="17.5" fill="#222">Myeloid</text>
<rect x="590" y="570.7" width="28" height="27.9" fill="#277A38"/>
<text x="630.8" y="591.3" font-size="17.5" fill="#222">Treg</text>
<rect x="590" y="601.2" width="28" height="27.9" fill="#DC6B20"/>
<text x="630.8" y="621.8" font-size="17.5" fill="#222">Tumor</text>
<text x="71.4" y="840.9" font-size="17.5" fill="#000" font-weight="bold">I</text>
<text x="387.1" y="818.4" font-size="14.5" fill="#111" font-weight="bold" textLength="271" lengthAdjust="spacingAndGlyphs">Cluster Frequency By Treatment Group</text>
<text x="92" y="959.4" font-size="14.3" fill="#111" text-anchor="middle" font-weight="bold" transform="rotate(-90 92 959.4)">frequency</text>
<text x="522" y="1150.5" font-size="14.3" fill="#111" text-anchor="middle" font-weight="bold">cluster</text>
<line x1="113.6" y1="827.9" x2="113.6" y2="1091.4" stroke="#333" stroke-width="1.5"/>
<line x1="112.9" y1="1090.7" x2="932.2" y2="1090.7" stroke="#333" stroke-width="1.5"/>
<line x1="110.6" y1="837.6" x2="113.6" y2="837.6" stroke="#333" stroke-width="1"/>
<text x="108.4" y="840.7" font-size="9" fill="#777" text-anchor="end" class="tg">0.6</text>
<line x1="110.6" y1="918" x2="113.6" y2="918" stroke="#333" stroke-width="1"/>
<text x="108.4" y="921.1" font-size="9" fill="#777" text-anchor="end" class="tg">0.4</text>
<line x1="110.6" y1="998.5" x2="113.6" y2="998.5" stroke="#333" stroke-width="1"/>
<text x="108.4" y="1001.6" font-size="9" fill="#777" text-anchor="end" class="tg">0.2</text>
<line x1="110.6" y1="1079" x2="113.6" y2="1079" stroke="#333" stroke-width="1"/>
<text x="108.4" y="1082.1" font-size="9" fill="#777" text-anchor="end" class="tg">0.0</text>
<line x1="137.4" y1="1090.7" x2="137.4" y2="1093.7" stroke="#333" stroke-width="1"/>
<text x="141.7" y="1100.3" font-size="8.1" fill="#6f6f6f" text-anchor="end" transform="rotate(-45 141.7 1100.3)" class="xl">B-cells 2</text>
<line x1="178.1" y1="1090.7" x2="178.1" y2="1093.7" stroke="#333" stroke-width="1"/>
<text x="182.4" y="1100.3" font-size="8.1" fill="#6f6f6f" text-anchor="end" transform="rotate(-45 182.4 1100.3)" class="xl">B-cells 5</text>
<line x1="218.7" y1="1090.7" x2="218.7" y2="1093.7" stroke="#333" stroke-width="1"/>
<text x="223" y="1100.3" font-size="8.1" fill="#6f6f6f" text-anchor="end" transform="rotate(-45 223 1100.3)" class="xl">CD4 T-cell 1</text>
<line x1="259.4" y1="1090.7" x2="259.4" y2="1093.7" stroke="#333" stroke-width="1"/>
<text x="263.7" y="1100.3" font-size="8.1" fill="#6f6f6f" text-anchor="end" transform="rotate(-45 263.7 1100.3)" class="xl">CD4 T-cell 2</text>
<line x1="300" y1="1090.7" x2="300" y2="1093.7" stroke="#333" stroke-width="1"/>
<text x="304.3" y="1100.3" font-size="8.1" fill="#6f6f6f" text-anchor="end" transform="rotate(-45 304.3 1100.3)" class="xl">CD8 T-cell 1</text>
<line x1="340.6" y1="1090.7" x2="340.6" y2="1093.7" stroke="#333" stroke-width="1"/>
<text x="344.9" y="1100.3" font-size="8.1" fill="#6f6f6f" text-anchor="end" transform="rotate(-45 344.9 1100.3)" class="xl">CD8 T-cell 2</text>
<line x1="381.3" y1="1090.7" x2="381.3" y2="1093.7" stroke="#333" stroke-width="1"/>
<text x="385.6" y="1100.3" font-size="8.1" fill="#6f6f6f" text-anchor="end" transform="rotate(-45 385.6 1100.3)" class="xl">CD8 T-cell 3</text>
<line x1="422" y1="1090.7" x2="422" y2="1093.7" stroke="#333" stroke-width="1"/>
<text x="426.3" y="1100.3" font-size="8.1" fill="#6f6f6f" text-anchor="end" transform="rotate(-45 426.3 1100.3)" class="xl">Endothelial</text>
<line x1="462.6" y1="1090.7" x2="462.6" y2="1093.7" stroke="#333" stroke-width="1"/>
<text x="466.9" y="1100.3" font-size="8.1" fill="#6f6f6f" text-anchor="end" transform="rotate(-45 466.9 1100.3)" class="xl">Epithelial 1</text>
<line x1="503.2" y1="1090.7" x2="503.2" y2="1093.7" stroke="#333" stroke-width="1"/>
<text x="507.6" y="1100.3" font-size="8.1" fill="#6f6f6f" text-anchor="end" transform="rotate(-45 507.6 1100.3)" class="xl">Epithelial 2</text>
<line x1="543.9" y1="1090.7" x2="543.9" y2="1093.7" stroke="#333" stroke-width="1"/>
<text x="548.2" y="1100.3" font-size="8.1" fill="#6f6f6f" text-anchor="end" transform="rotate(-45 548.2 1100.3)" class="xl">Epithelial 3</text>
<line x1="584.5" y1="1090.7" x2="584.5" y2="1093.7" stroke="#333" stroke-width="1"/>
<text x="588.8" y="1100.3" font-size="8.1" fill="#6f6f6f" text-anchor="end" transform="rotate(-45 588.8 1100.3)" class="xl">Macrophages</text>
<line x1="625.2" y1="1090.7" x2="625.2" y2="1093.7" stroke="#333" stroke-width="1"/>
<text x="629.5" y="1100.3" font-size="8.1" fill="#6f6f6f" text-anchor="end" transform="rotate(-45 629.5 1100.3)" class="xl">Monocytes 1</text>
<line x1="665.8" y1="1090.7" x2="665.8" y2="1093.7" stroke="#333" stroke-width="1"/>
<text x="670.1" y="1100.3" font-size="8.1" fill="#6f6f6f" text-anchor="end" transform="rotate(-45 670.1 1100.3)" class="xl">Monocytes 2</text>
<line x1="706.5" y1="1090.7" x2="706.5" y2="1093.7" stroke="#333" stroke-width="1"/>
<text x="710.8" y="1100.3" font-size="8.1" fill="#6f6f6f" text-anchor="end" transform="rotate(-45 710.8 1100.3)" class="xl">Monocytes 3</text>
<line x1="747.1" y1="1090.7" x2="747.1" y2="1093.7" stroke="#333" stroke-width="1"/>
<text x="751.4" y="1100.3" font-size="8.1" fill="#6f6f6f" text-anchor="end" transform="rotate(-45 751.4 1100.3)" class="xl">Neutrophils</text>
<line x1="787.8" y1="1090.7" x2="787.8" y2="1093.7" stroke="#333" stroke-width="1"/>
<text x="792.1" y="1100.3" font-size="8.1" fill="#6f6f6f" text-anchor="end" transform="rotate(-45 792.1 1100.3)" class="xl">Plasma cells</text>
<line x1="828.4" y1="1090.7" x2="828.4" y2="1093.7" stroke="#333" stroke-width="1"/>
<text x="832.7" y="1100.3" font-size="8.1" fill="#6f6f6f" text-anchor="end" transform="rotate(-45 832.7 1100.3)" class="xl">Treg 1</text>
<line x1="869.1" y1="1090.7" x2="869.1" y2="1093.7" stroke="#333" stroke-width="1"/>
<text x="873.4" y="1100.3" font-size="8.1" fill="#6f6f6f" text-anchor="end" transform="rotate(-45 873.4 1100.3)" class="xl">Treg 2</text>
<line x1="909.8" y1="1090.7" x2="909.8" y2="1093.7" stroke="#333" stroke-width="1"/>
<text x="914" y="1100.3" font-size="8.1" fill="#6f6f6f" text-anchor="end" transform="rotate(-45 914 1100.3)" class="xl">Treg 3</text>
<text x="949.2" y="934" font-size="12.3" fill="#1a1a1a" textLength="52" lengthAdjust="spacingAndGlyphs" stroke="#1a1a1a" stroke-width="0.45">treatment</text>
<rect x="949.3" y="941.7" width="17.4" height="17.4" fill="#F1F1F1"/>
<text x="969.6" y="956.8" font-size="10" fill="#333" textLength="34.5" lengthAdjust="spacingAndGlyphs" class="nm">Baseline</text>
<rect x="949.3" y="959.3" width="17.4" height="17.4" fill="#F1F1F1"/>
<text x="969.6" y="974.4" font-size="10" fill="#333" textLength="38" lengthAdjust="spacingAndGlyphs" class="nm">ADT-only</text>
<rect x="949.3" y="976.9" width="17.4" height="17.4" fill="#F1F1F1"/>
<text x="969.6" y="992" font-size="10" fill="#333" textLength="44.5" lengthAdjust="spacingAndGlyphs" class="nm">ADT+aPD1</text>
<text x="104.3" y="41.9" font-size="21" fill="#262626" textLength="80.7" lengthAdjust="spacingAndGlyphs">Baseline</text>
<text x="261" y="41.9" font-size="21" fill="#262626" textLength="86.7" lengthAdjust="spacingAndGlyphs">ADT-only</text>
<text x="411" y="41.9" font-size="21" fill="#262626" textLength="106.3" lengthAdjust="spacingAndGlyphs">ADT+aPD1</text>
<text x="563.3" y="39.6" font-size="21" fill="#262626" textLength="108.4" lengthAdjust="spacingAndGlyphs">Recurrence</text>
<text x="25.5" y="66.7" font-size="16.5" fill="#000" font-weight="bold">A</text>
<text x="42.5" y="131" font-size="21" fill="#262626" text-anchor="middle" transform="rotate(-90 42.5 131)">Bone</text>
<text x="60.6" y="128" font-size="9.4" fill="#3c3c3c" text-anchor="middle" transform="rotate(-90 60.6 128)" class="um">UMAP_2</text>
<text x="390.5" y="221.6" font-size="9.4" fill="#444" text-anchor="middle" class="um">UMAP_1</text>
<line x1="84.2" y1="57.5" x2="84.2" y2="199.4" stroke="#484848" stroke-width="1.4"/>
<line x1="82" y1="65.3" x2="84.2" y2="65.3" stroke="#484848" stroke-width="1"/>
<text x="79.8" y="68.4" font-size="8.9" fill="#363636" text-anchor="end" class="tk">15</text>
<line x1="82" y1="91.9" x2="84.2" y2="91.9" stroke="#484848" stroke-width="1"/>
<text x="79.8" y="95" font-size="8.9" fill="#363636" text-anchor="end" class="tk">10</text>
<line x1="82" y1="118.5" x2="84.2" y2="118.5" stroke="#484848" stroke-width="1"/>
<text x="79.8" y="121.6" font-size="8.9" fill="#363636" text-anchor="end" class="tk">5</text>
<line x1="82" y1="145.1" x2="84.2" y2="145.1" stroke="#484848" stroke-width="1"/>
<text x="79.8" y="148.2" font-size="8.9" fill="#363636" text-anchor="end" class="tk">0</text>
<line x1="82" y1="172" x2="84.2" y2="172" stroke="#484848" stroke-width="1"/>
<text x="79.8" y="175.1" font-size="8.9" fill="#363636" text-anchor="end" class="tk">-5</text>
<line x1="82" y1="198.7" x2="84.2" y2="198.7" stroke="#484848" stroke-width="1"/>
<text x="79.8" y="201.8" font-size="8.9" fill="#363636" text-anchor="end" class="tk">-10</text>
<line x1="84.2" y1="198.7" x2="233.6" y2="198.7" stroke="#484848" stroke-width="1.4"/>
<line x1="84" y1="198.7" x2="84" y2="201.2" stroke="#484848" stroke-width="1"/>
<text x="84" y="210.6" font-size="8.9" fill="#363636" text-anchor="middle" class="tk">-15</text>
<line x1="108.1" y1="198.7" x2="108.1" y2="201.2" stroke="#484848" stroke-width="1"/>
<text x="108.1" y="210.6" font-size="8.9" fill="#363636" text-anchor="middle" class="tk">-10</text>
<line x1="132.2" y1="198.7" x2="132.2" y2="201.2" stroke="#484848" stroke-width="1"/>
<text x="132.2" y="210.6" font-size="8.9" fill="#363636" text-anchor="middle" class="tk">-5</text>
<line x1="156.4" y1="198.7" x2="156.4" y2="201.2" stroke="#484848" stroke-width="1"/>
<text x="156.4" y="210.6" font-size="8.9" fill="#363636" text-anchor="middle" class="tk">0</text>
<line x1="180.6" y1="198.7" x2="180.6" y2="201.2" stroke="#484848" stroke-width="1"/>
<text x="180.6" y="210.6" font-size="8.9" fill="#363636" text-anchor="middle" class="tk">5</text>
<line x1="204.7" y1="198.7" x2="204.7" y2="201.2" stroke="#484848" stroke-width="1"/>
<text x="204.7" y="210.6" font-size="8.9" fill="#363636" text-anchor="middle" class="tk">10</text>
<line x1="228.8" y1="198.7" x2="228.8" y2="201.2" stroke="#484848" stroke-width="1"/>
<text x="228.8" y="210.6" font-size="8.9" fill="#363636" text-anchor="middle" class="tk">15</text>
<text x="235" y="210.5" font-size="8.9" fill="#333" class="tk">15</text>
<line x1="238.2" y1="198.7" x2="387.2" y2="198.7" stroke="#484848" stroke-width="1.4"/>
<line x1="238.4" y1="198.7" x2="238.4" y2="201.2" stroke="#484848" stroke-width="1"/>
<line x1="262.5" y1="198.7" x2="262.5" y2="201.2" stroke="#484848" stroke-width="1"/>
<text x="262.5" y="210.6" font-size="8.9" fill="#363636" text-anchor="middle" class="tk">-10</text>
<line x1="286.6" y1="198.7" x2="286.6" y2="201.2" stroke="#484848" stroke-width="1"/>
<text x="286.6" y="210.6" font-size="8.9" fill="#363636" text-anchor="middle" class="tk">-5</text>
<line x1="310.7" y1="198.7" x2="310.7" y2="201.2" stroke="#484848" stroke-width="1"/>
<text x="310.7" y="210.6" font-size="8.9" fill="#363636" text-anchor="middle" class="tk">0</text>
<line x1="334.8" y1="198.7" x2="334.8" y2="201.2" stroke="#484848" stroke-width="1"/>
<text x="334.8" y="210.6" font-size="8.9" fill="#363636" text-anchor="middle" class="tk">5</text>
<line x1="358.9" y1="198.7" x2="358.9" y2="201.2" stroke="#484848" stroke-width="1"/>
<text x="358.9" y="210.6" font-size="8.9" fill="#363636" text-anchor="middle" class="tk">10</text>
<line x1="383" y1="198.7" x2="383" y2="201.2" stroke="#484848" stroke-width="1"/>
<text x="383" y="210.6" font-size="8.9" fill="#363636" text-anchor="middle" class="tk">15</text>
<text x="389.7" y="210.5" font-size="8.9" fill="#333" class="tk">15</text>
<line x1="392.8" y1="198.7" x2="542.2" y2="198.7" stroke="#484848" stroke-width="1.4"/>
<line x1="393.1" y1="198.7" x2="393.1" y2="201.2" stroke="#484848" stroke-width="1"/>
<line x1="417.2" y1="198.7" x2="417.2" y2="201.2" stroke="#484848" stroke-width="1"/>
<text x="417.2" y="210.6" font-size="8.9" fill="#363636" text-anchor="middle" class="tk">-10</text>
<line x1="441.3" y1="198.7" x2="441.3" y2="201.2" stroke="#484848" stroke-width="1"/>
<text x="441.3" y="210.6" font-size="8.9" fill="#363636" text-anchor="middle" class="tk">-5</text>
<line x1="465.4" y1="198.7" x2="465.4" y2="201.2" stroke="#484848" stroke-width="1"/>
<text x="465.4" y="210.6" font-size="8.9" fill="#363636" text-anchor="middle" class="tk">0</text>
<line x1="489.5" y1="198.7" x2="489.5" y2="201.2" stroke="#484848" stroke-width="1"/>
<text x="489.5" y="210.6" font-size="8.9" fill="#363636" text-anchor="middle" class="tk">5</text>
<line x1="513.6" y1="198.7" x2="513.6" y2="201.2" stroke="#484848" stroke-width="1"/>
<text x="513.6" y="210.6" font-size="8.9" fill="#363636" text-anchor="middle" class="tk">10</text>
<line x1="537.7" y1="198.7" x2="537.7" y2="201.2" stroke="#484848" stroke-width="1"/>
<text x="537.7" y="210.6" font-size="8.9" fill="#363636" text-anchor="middle" class="tk">15</text>
<text x="544.1" y="210.5" font-size="8.9" fill="#333" class="tk">15</text>
<line x1="546.8" y1="198.7" x2="696.6" y2="198.7" stroke="#484848" stroke-width="1.4"/>
<line x1="547.5" y1="198.7" x2="547.5" y2="201.2" stroke="#484848" stroke-width="1"/>
<line x1="571.6" y1="198.7" x2="571.6" y2="201.2" stroke="#484848" stroke-width="1"/>
<text x="571.6" y="210.6" font-size="8.9" fill="#363636" text-anchor="middle" class="tk">-10</text>
<line x1="595.7" y1="198.7" x2="595.7" y2="201.2" stroke="#484848" stroke-width="1"/>
<text x="595.7" y="210.6" font-size="8.9" fill="#363636" text-anchor="middle" class="tk">-5</text>
<line x1="619.8" y1="198.7" x2="619.8" y2="201.2" stroke="#484848" stroke-width="1"/>
<text x="619.8" y="210.6" font-size="8.9" fill="#363636" text-anchor="middle" class="tk">0</text>
<line x1="643.9" y1="198.7" x2="643.9" y2="201.2" stroke="#484848" stroke-width="1"/>
<text x="643.9" y="210.6" font-size="8.9" fill="#363636" text-anchor="middle" class="tk">5</text>
<line x1="668" y1="198.7" x2="668" y2="201.2" stroke="#484848" stroke-width="1"/>
<text x="668" y="210.6" font-size="8.9" fill="#363636" text-anchor="middle" class="tk">10</text>
<line x1="692.1" y1="198.7" x2="692.1" y2="201.2" stroke="#484848" stroke-width="1"/>
<text x="692.1" y="210.6" font-size="8.9" fill="#363636" text-anchor="middle" class="tk">15</text>
<text x="104.4" y="245.2" font-size="21" fill="#262626" textLength="80.5" lengthAdjust="spacingAndGlyphs">Baseline</text>
<text x="261" y="245.2" font-size="21" fill="#262626" textLength="86.5" lengthAdjust="spacingAndGlyphs">ADT-only</text>
<text x="411.5" y="245.2" font-size="21" fill="#262626" textLength="105.8" lengthAdjust="spacingAndGlyphs">ADT+aPD1</text>
<text x="26" y="243" font-size="16.5" fill="#000" font-weight="bold">C</text>
<text x="46.5" y="324" font-size="21" fill="#262626" text-anchor="middle" transform="rotate(-90 46.5 324)">Lymph Node</text>
<text x="62.3" y="324" font-size="9.4" fill="#444" text-anchor="middle" transform="rotate(-90 62.3 324)" class="um">UMAP_2</text>
<text x="316.7" y="417.5" font-size="9.4" fill="#444" text-anchor="middle" class="um">UMAP_1</text>
<line x1="83.4" y1="251.3" x2="83.4" y2="397.6" stroke="#484848" stroke-width="1.4"/>
<line x1="81.2" y1="257.3" x2="83.4" y2="257.3" stroke="#484848" stroke-width="1"/>
<text x="79" y="260.4" font-size="8.9" fill="#363636" text-anchor="end" class="tk">15</text>
<line x1="81.2" y1="285.1" x2="83.4" y2="285.1" stroke="#484848" stroke-width="1"/>
<text x="79" y="288.2" font-size="8.9" fill="#363636" text-anchor="end" class="tk">10</text>
<line x1="81.2" y1="313.2" x2="83.4" y2="313.2" stroke="#484848" stroke-width="1"/>
<text x="79" y="316.3" font-size="8.9" fill="#363636" text-anchor="end" class="tk">5</text>
<line x1="81.2" y1="340.7" x2="83.4" y2="340.7" stroke="#484848" stroke-width="1"/>
<text x="79" y="343.8" font-size="8.9" fill="#363636" text-anchor="end" class="tk">0</text>
<line x1="81.2" y1="368.9" x2="83.4" y2="368.9" stroke="#484848" stroke-width="1"/>
<text x="79" y="372" font-size="8.9" fill="#363636" text-anchor="end" class="tk">-5</text>
<line x1="81.2" y1="396.9" x2="83.4" y2="396.9" stroke="#484848" stroke-width="1"/>
<text x="79" y="400" font-size="8.9" fill="#363636" text-anchor="end" class="tk">-10</text>
<line x1="83.4" y1="396.9" x2="236" y2="396.9" stroke="#484848" stroke-width="1.4"/>
<line x1="107" y1="396.9" x2="107" y2="399.4" stroke="#484848" stroke-width="1"/>
<text x="107" y="408.8" font-size="8.9" fill="#363636" text-anchor="middle" class="tk">-10</text>
<line x1="132.2" y1="396.9" x2="132.2" y2="399.4" stroke="#484848" stroke-width="1"/>
<text x="132.2" y="408.8" font-size="8.9" fill="#363636" text-anchor="middle" class="tk">-5</text>
<line x1="157.4" y1="396.9" x2="157.4" y2="399.4" stroke="#484848" stroke-width="1"/>
<text x="157.4" y="408.8" font-size="8.9" fill="#363636" text-anchor="middle" class="tk">0</text>
<line x1="182.6" y1="396.9" x2="182.6" y2="399.4" stroke="#484848" stroke-width="1"/>
<text x="182.6" y="408.8" font-size="8.9" fill="#363636" text-anchor="middle" class="tk">5</text>
<line x1="207.8" y1="396.9" x2="207.8" y2="399.4" stroke="#484848" stroke-width="1"/>
<text x="207.8" y="408.8" font-size="8.9" fill="#363636" text-anchor="middle" class="tk">10</text>
<line x1="233" y1="396.9" x2="233" y2="399.4" stroke="#484848" stroke-width="1"/>
<text x="233" y="408.8" font-size="8.9" fill="#363636" text-anchor="middle" class="tk">15</text>
<line x1="240.2" y1="396.9" x2="393.7" y2="396.9" stroke="#484848" stroke-width="1.4"/>
<line x1="264.6" y1="396.9" x2="264.6" y2="399.4" stroke="#484848" stroke-width="1"/>
<text x="264.6" y="408.8" font-size="8.9" fill="#363636" text-anchor="middle" class="tk">-10</text>
<line x1="289.8" y1="396.9" x2="289.8" y2="399.4" stroke="#484848" stroke-width="1"/>
<text x="289.8" y="408.8" font-size="8.9" fill="#363636" text-anchor="middle" class="tk">-5</text>
<line x1="315" y1="396.9" x2="315" y2="399.4" stroke="#484848" stroke-width="1"/>
<text x="315" y="408.8" font-size="8.9" fill="#363636" text-anchor="middle" class="tk">0</text>
<line x1="340.2" y1="396.9" x2="340.2" y2="399.4" stroke="#484848" stroke-width="1"/>
<text x="340.2" y="408.8" font-size="8.9" fill="#363636" text-anchor="middle" class="tk">5</text>
<line x1="365.4" y1="396.9" x2="365.4" y2="399.4" stroke="#484848" stroke-width="1"/>
<text x="365.4" y="408.8" font-size="8.9" fill="#363636" text-anchor="middle" class="tk">10</text>
<line x1="390.6" y1="396.9" x2="390.6" y2="399.4" stroke="#484848" stroke-width="1"/>
<text x="390.6" y="408.8" font-size="8.9" fill="#363636" text-anchor="middle" class="tk">15</text>
<line x1="397.6" y1="396.9" x2="551" y2="396.9" stroke="#484848" stroke-width="1.4"/>
<line x1="422.3" y1="396.9" x2="422.3" y2="399.4" stroke="#484848" stroke-width="1"/>
<text x="422.3" y="408.8" font-size="8.9" fill="#363636" text-anchor="middle" class="tk">-10</text>
<line x1="447.5" y1="396.9" x2="447.5" y2="399.4" stroke="#484848" stroke-width="1"/>
<text x="447.5" y="408.8" font-size="8.9" fill="#363636" text-anchor="middle" class="tk">-5</text>
<line x1="472.7" y1="396.9" x2="472.7" y2="399.4" stroke="#484848" stroke-width="1"/>
<text x="472.7" y="408.8" font-size="8.9" fill="#363636" text-anchor="middle" class="tk">0</text>
<line x1="497.9" y1="396.9" x2="497.9" y2="399.4" stroke="#484848" stroke-width="1"/>
<text x="497.9" y="408.8" font-size="8.9" fill="#363636" text-anchor="middle" class="tk">5</text>
<line x1="523.1" y1="396.9" x2="523.1" y2="399.4" stroke="#484848" stroke-width="1"/>
<text x="523.1" y="408.8" font-size="8.9" fill="#363636" text-anchor="middle" class="tk">10</text>
<line x1="548.3" y1="396.9" x2="548.3" y2="399.4" stroke="#484848" stroke-width="1"/>
<text x="548.3" y="408.8" font-size="8.9" fill="#363636" text-anchor="middle" class="tk">15</text>
<text x="171.4" y="439.2" font-size="21" fill="#262626" textLength="80.5" lengthAdjust="spacingAndGlyphs">Baseline</text>
<text x="328.2" y="439.2" font-size="21" fill="#262626" textLength="105.8" lengthAdjust="spacingAndGlyphs">ADT+aPD1</text>
<text x="100" y="444.3" font-size="16.5" fill="#000" font-weight="bold">E</text>
<text x="111.3" y="512" font-size="21" fill="#262626" text-anchor="middle" transform="rotate(-90 111.3 512)">Liver</text>
<text x="130.5" y="513" font-size="9.2" fill="#555" text-anchor="middle" transform="rotate(-90 130.5 513)" class="ul">UMAP_2</text>
<line x1="147" y1="443.4" x2="147" y2="587.6" stroke="#6a6a6a" stroke-width="1.4"/>
<line x1="144.8" y1="450.5" x2="147" y2="450.5" stroke="#6a6a6a" stroke-width="1"/>
<text x="142.6" y="453.6" font-size="8.6" fill="#444" text-anchor="end" class="tl">15</text>
<line x1="144.8" y1="478.8" x2="147" y2="478.8" stroke="#6a6a6a" stroke-width="1"/>
<text x="142.6" y="481.9" font-size="8.6" fill="#444" text-anchor="end" class="tl">10</text>
<line x1="144.8" y1="506.7" x2="147" y2="506.7" stroke="#6a6a6a" stroke-width="1"/>
<text x="142.6" y="509.8" font-size="8.6" fill="#444" text-anchor="end" class="tl">5</text>
<line x1="144.8" y1="534.2" x2="147" y2="534.2" stroke="#6a6a6a" stroke-width="1"/>
<text x="142.6" y="537.3" font-size="8.6" fill="#444" text-anchor="end" class="tl">0</text>
<line x1="144.8" y1="562.2" x2="147" y2="562.2" stroke="#6a6a6a" stroke-width="1"/>
<text x="142.6" y="565.3" font-size="8.6" fill="#444" text-anchor="end" class="tl">-5</text>
<line x1="147" y1="586.9" x2="310.3" y2="586.9" stroke="#6a6a6a" stroke-width="1.4"/>
<line x1="172.4" y1="586.9" x2="172.4" y2="589.4" stroke="#6a6a6a" stroke-width="1"/>
<text x="172.4" y="598.8" font-size="8.6" fill="#444" text-anchor="middle" class="tl">-10</text>
<line x1="200" y1="586.9" x2="200" y2="589.4" stroke="#6a6a6a" stroke-width="1"/>
<text x="200" y="598.8" font-size="8.6" fill="#444" text-anchor="middle" class="tl">-5</text>
<line x1="227.6" y1="586.9" x2="227.6" y2="589.4" stroke="#6a6a6a" stroke-width="1"/>
<text x="227.6" y="598.8" font-size="8.6" fill="#444" text-anchor="middle" class="tl">0</text>
<line x1="255.2" y1="586.9" x2="255.2" y2="589.4" stroke="#6a6a6a" stroke-width="1"/>
<text x="255.2" y="598.8" font-size="8.6" fill="#444" text-anchor="middle" class="tl">5</text>
<line x1="282.8" y1="586.9" x2="282.8" y2="589.4" stroke="#6a6a6a" stroke-width="1"/>
<text x="282.8" y="598.8" font-size="8.6" fill="#444" text-anchor="middle" class="tl">10</text>
<line x1="324.3" y1="586.9" x2="485.7" y2="586.9" stroke="#6a6a6a" stroke-width="1.4"/>
<line x1="349.7" y1="586.9" x2="349.7" y2="589.4" stroke="#6a6a6a" stroke-width="1"/>
<text x="349.7" y="598.8" font-size="8.6" fill="#444" text-anchor="middle" class="tl">-10</text>
<line x1="377.3" y1="586.9" x2="377.3" y2="589.4" stroke="#6a6a6a" stroke-width="1"/>
<text x="377.3" y="598.8" font-size="8.6" fill="#444" text-anchor="middle" class="tl">-5</text>
<line x1="404.9" y1="586.9" x2="404.9" y2="589.4" stroke="#6a6a6a" stroke-width="1"/>
<text x="404.9" y="598.8" font-size="8.6" fill="#444" text-anchor="middle" class="tl">0</text>
<line x1="432.5" y1="586.9" x2="432.5" y2="589.4" stroke="#6a6a6a" stroke-width="1"/>
<text x="432.5" y="598.8" font-size="8.6" fill="#444" text-anchor="middle" class="tl">5</text>
<line x1="460.1" y1="586.9" x2="460.1" y2="589.4" stroke="#6a6a6a" stroke-width="1"/>
<text x="460.1" y="598.8" font-size="8.6" fill="#444" text-anchor="middle" class="tl">10</text>
<text x="166.3" y="625.3" font-size="21" fill="#262626" textLength="80.5" lengthAdjust="spacingAndGlyphs">Baseline</text>
<text x="330.1" y="625.3" font-size="21" fill="#262626" textLength="105.8" lengthAdjust="spacingAndGlyphs">ADT+aPD1</text>
<text x="98" y="633" font-size="16.5" fill="#000" font-weight="bold">G</text>
<text x="106.7" y="705" font-size="21" fill="#262626" text-anchor="middle" transform="rotate(-90 106.7 705)">Lung</text>
<text x="131.6" y="707" font-size="9.2" fill="#444" text-anchor="middle" transform="rotate(-90 131.6 707)" class="um">UMAP_2</text>
<line x1="150.5" y1="635" x2="150.5" y2="780.1" stroke="#6a6a6a" stroke-width="1.4"/>
<line x1="148.3" y1="636.5" x2="150.5" y2="636.5" stroke="#6a6a6a" stroke-width="1"/>
<text x="146.1" y="639.6" font-size="8.6" fill="#444" text-anchor="end" class="tl">15</text>
<line x1="148.3" y1="666.1" x2="150.5" y2="666.1" stroke="#6a6a6a" stroke-width="1"/>
<text x="146.1" y="669.2" font-size="8.6" fill="#444" text-anchor="end" class="tl">10</text>
<line x1="148.3" y1="695.6" x2="150.5" y2="695.6" stroke="#6a6a6a" stroke-width="1"/>
<text x="146.1" y="698.7" font-size="8.6" fill="#444" text-anchor="end" class="tl">5</text>
<line x1="148.3" y1="724.7" x2="150.5" y2="724.7" stroke="#6a6a6a" stroke-width="1"/>
<text x="146.1" y="727.8" font-size="8.6" fill="#444" text-anchor="end" class="tl">0</text>
<line x1="148.3" y1="754.1" x2="150.5" y2="754.1" stroke="#6a6a6a" stroke-width="1"/>
<text x="146.1" y="757.2" font-size="8.6" fill="#444" text-anchor="end" class="tl">-5</text>
<line x1="150.5" y1="779.4" x2="312.2" y2="779.4" stroke="#6a6a6a" stroke-width="1.4"/>
<line x1="177.4" y1="779.4" x2="177.4" y2="781.9" stroke="#6a6a6a" stroke-width="1"/>
<text x="177.4" y="791.3" font-size="8.6" fill="#444" text-anchor="middle" class="tl">-10</text>
<line x1="206.5" y1="779.4" x2="206.5" y2="781.9" stroke="#6a6a6a" stroke-width="1"/>
<text x="206.5" y="791.3" font-size="8.6" fill="#444" text-anchor="middle" class="tl">-5</text>
<line x1="235.6" y1="779.4" x2="235.6" y2="781.9" stroke="#6a6a6a" stroke-width="1"/>
<text x="235.6" y="791.3" font-size="8.6" fill="#444" text-anchor="middle" class="tl">0</text>
<line x1="264.7" y1="779.4" x2="264.7" y2="781.9" stroke="#6a6a6a" stroke-width="1"/>
<text x="264.7" y="791.3" font-size="8.6" fill="#444" text-anchor="middle" class="tl">5</text>
<line x1="293.8" y1="779.4" x2="293.8" y2="781.9" stroke="#6a6a6a" stroke-width="1"/>
<text x="293.8" y="791.3" font-size="8.6" fill="#444" text-anchor="middle" class="tl">10</text>
<line x1="323.9" y1="779.4" x2="485.7" y2="779.4" stroke="#6a6a6a" stroke-width="1.4"/>
<line x1="350.9" y1="779.4" x2="350.9" y2="781.9" stroke="#6a6a6a" stroke-width="1"/>
<text x="350.9" y="791.3" font-size="8.6" fill="#444" text-anchor="middle" class="tl">-10</text>
<line x1="379.8" y1="779.4" x2="379.8" y2="781.9" stroke="#6a6a6a" stroke-width="1"/>
<text x="379.8" y="791.3" font-size="8.6" fill="#444" text-anchor="middle" class="tl">-5</text>
<line x1="408.7" y1="779.4" x2="408.7" y2="781.9" stroke="#6a6a6a" stroke-width="1"/>
<text x="408.7" y="791.3" font-size="8.6" fill="#444" text-anchor="middle" class="tl">0</text>
<line x1="437.6" y1="779.4" x2="437.6" y2="781.9" stroke="#6a6a6a" stroke-width="1"/>
<text x="437.6" y="791.3" font-size="8.6" fill="#444" text-anchor="middle" class="tl">5</text>
<line x1="466.5" y1="779.4" x2="466.5" y2="781.9" stroke="#6a6a6a" stroke-width="1"/>
<text x="466.5" y="791.3" font-size="8.6" fill="#444" text-anchor="middle" class="tl">10</text>
<line x1="206.5" y1="633.8" x2="214.5" y2="633.8" stroke="#444" stroke-width="1.4"/>
<line x1="375.8" y1="633.8" x2="383.8" y2="633.8" stroke="#444" stroke-width="1.4"/>
</g>
<g id="soft" filter="url(#b1)">
<rect x="122.3" y="1062.1" width="9.9" height="15.7" fill="#EE5468" stroke="#2a2a2a" stroke-width="1.25"/>
<line x1="122.3" y1="1075.8" x2="132.2" y2="1075.8" stroke="#1c1c1c" stroke-width="1.7"/>
<circle cx="127.2" cy="934.1" r="2.6" fill="#1e1e1e"/>
<circle cx="127.2" cy="1033.1" r="2.6" fill="#1e1e1e"/>
<rect x="132.5" y="1067.3" width="9.9" height="10.5" fill="#2FB135" stroke="#2a2a2a" stroke-width="1.25"/>
<line x1="132.5" y1="1076.6" x2="142.3" y2="1076.6" stroke="#1c1c1c" stroke-width="1.7"/>
<circle cx="137.4" cy="1022.7" r="2.6" fill="#1e1e1e"/>
<rect x="142.6" y="1077.4" width="9.9" height="2" fill="#6A90DA" stroke="#2a2a2a" stroke-width="1.25"/>
<line x1="142.6" y1="1078.6" x2="152.5" y2="1078.6" stroke="#1c1c1c" stroke-width="1.7"/>
<circle cx="147.6" cy="1073.8" r="2.6" fill="#1e1e1e"/>
<line x1="167.9" y1="1075.4" x2="167.9" y2="1069.3" stroke="#3a3a3a" stroke-width="1.1"/>
<rect x="163" y="1075.4" width="9.9" height="1.2" fill="#EE5468" stroke="#2a2a2a" stroke-width="1.25"/>
<line x1="163" y1="1075.6" x2="172.8" y2="1075.6" stroke="#1c1c1c" stroke-width="1.7"/>
<circle cx="167.9" cy="1069.3" r="2.6" fill="#1e1e1e"/>
<line x1="178.1" y1="1073.6" x2="178.1" y2="1077.4" stroke="#3a3a3a" stroke-width="1.1"/>
<rect x="173.1" y="1073.2" width="9.9" height="1.2" fill="#2FB135" stroke="#2a2a2a" stroke-width="1.25"/>
<line x1="173.1" y1="1073.4" x2="183" y2="1073.4" stroke="#1c1c1c" stroke-width="1.7"/>
<circle cx="178.1" cy="1052.8" r="2.6" fill="#1e1e1e"/>
<circle cx="178.1" cy="1077.4" r="2.6" fill="#1e1e1e"/>
<rect x="183.3" y="1077.8" width="9.9" height="1.2" fill="#6A90DA" stroke="#2a2a2a" stroke-width="1.25"/>
<line x1="183.3" y1="1078.2" x2="193.2" y2="1078.2" stroke="#1c1c1c" stroke-width="1.7"/>
<line x1="208.5" y1="962.3" x2="208.5" y2="895.9" stroke="#3a3a3a" stroke-width="1.1"/>
<line x1="208.5" y1="1008.2" x2="208.5" y2="1059.3" stroke="#3a3a3a" stroke-width="1.1"/>
<rect x="203.6" y="962.3" width="9.9" height="45.9" fill="#EE5468" stroke="#2a2a2a" stroke-width="1.25"/>
<line x1="203.6" y1="977.6" x2="213.5" y2="977.6" stroke="#1c1c1c" stroke-width="1.7"/>
<circle cx="208.5" cy="839.6" r="2.6" fill="#1e1e1e"/>
<line x1="218.7" y1="1009.8" x2="218.7" y2="1046" stroke="#3a3a3a" stroke-width="1.1"/>
<rect x="213.8" y="976.4" width="9.9" height="33.4" fill="#2FB135" stroke="#2a2a2a" stroke-width="1.25"/>
<line x1="213.8" y1="1004.2" x2="223.6" y2="1004.2" stroke="#1c1c1c" stroke-width="1.7"/>
<circle cx="218.7" cy="853.3" r="2.6" fill="#1e1e1e"/>
<line x1="228.8" y1="927.3" x2="228.8" y2="918" stroke="#3a3a3a" stroke-width="1.1"/>
<rect x="223.9" y="927.3" width="9.9" height="50.3" fill="#6A90DA" stroke="#2a2a2a" stroke-width="1.25"/>
<line x1="223.9" y1="941" x2="233.8" y2="941" stroke="#1c1c1c" stroke-width="1.7"/>
<circle cx="228.8" cy="1058.5" r="2.6" fill="#1e1e1e"/>
<line x1="249.2" y1="1072.2" x2="249.2" y2="1067.3" stroke="#3a3a3a" stroke-width="1.1"/>
<rect x="244.3" y="1072.2" width="9.9" height="5.6" fill="#EE5468" stroke="#2a2a2a" stroke-width="1.25"/>
<line x1="244.3" y1="1075.8" x2="254.2" y2="1075.8" stroke="#1c1c1c" stroke-width="1.7"/>
<rect x="254.4" y="1073.8" width="9.9" height="3.6" fill="#2FB135" stroke="#2a2a2a" stroke-width="1.25"/>
<line x1="254.4" y1="1075.8" x2="264.3" y2="1075.8" stroke="#1c1c1c" stroke-width="1.7"/>
<circle cx="259.4" cy="959.9" r="2.6" fill="#1e1e1e"/>
<rect x="264.6" y="1075" width="9.9" height="4.4" fill="#6A90DA" stroke="#2a2a2a" stroke-width="1.25"/>
<line x1="264.6" y1="1077" x2="274.4" y2="1077" stroke="#1c1c1c" stroke-width="1.7"/>
<circle cx="269.5" cy="1067.7" r="2.6" fill="#1e1e1e"/>
<line x1="289.9" y1="1012.6" x2="289.9" y2="999.3" stroke="#3a3a3a" stroke-width="1.1"/>
<line x1="289.9" y1="1043.4" x2="289.9" y2="1067.3" stroke="#3a3a3a" stroke-width="1.1"/>
<rect x="284.9" y="1012.6" width="9.9" height="30.8" fill="#EE5468" stroke="#2a2a2a" stroke-width="1.25"/>
<line x1="284.9" y1="1015" x2="294.8" y2="1015" stroke="#1c1c1c" stroke-width="1.7"/>
<rect x="295.1" y="1026.3" width="9.9" height="9.3" fill="#2FB135" stroke="#2a2a2a" stroke-width="1.25"/>
<line x1="295.1" y1="1027.9" x2="304.9" y2="1027.9" stroke="#1c1c1c" stroke-width="1.7"/>
<circle cx="300" cy="951.8" r="2.6" fill="#1e1e1e"/>
<circle cx="300" cy="1050.8" r="2.6" fill="#1e1e1e"/>
<line x1="310.1" y1="1013.8" x2="310.1" y2="976.4" stroke="#3a3a3a" stroke-width="1.1"/>
<line x1="310.1" y1="1073.4" x2="310.1" y2="1079" stroke="#3a3a3a" stroke-width="1.1"/>
<rect x="305.2" y="1013.8" width="9.9" height="59.6" fill="#6A90DA" stroke="#2a2a2a" stroke-width="1.25"/>
<line x1="305.2" y1="1048.8" x2="315.1" y2="1048.8" stroke="#1c1c1c" stroke-width="1.7"/>
<rect x="325.6" y="1054.5" width="9.9" height="6.8" fill="#EE5468" stroke="#2a2a2a" stroke-width="1.25"/>
<line x1="325.6" y1="1057.7" x2="335.4" y2="1057.7" stroke="#1c1c1c" stroke-width="1.7"/>
<circle cx="330.5" cy="1026.7" r="2.6" fill="#1e1e1e"/>
<circle cx="330.5" cy="1034.7" r="2.6" fill="#1e1e1e"/>
<circle cx="330.5" cy="1075.8" r="2.6" fill="#1e1e1e"/>
<rect x="335.7" y="1065.3" width="9.9" height="6" fill="#2FB135" stroke="#2a2a2a" stroke-width="1.25"/>
<line x1="335.7" y1="1068.5" x2="345.6" y2="1068.5" stroke="#1c1c1c" stroke-width="1.7"/>
<circle cx="340.6" cy="1048.4" r="2.6" fill="#1e1e1e"/>
<line x1="350.8" y1="937" x2="350.8" y2="847.2" stroke="#3a3a3a" stroke-width="1.1"/>
<line x1="350.8" y1="1028.3" x2="350.8" y2="1074.2" stroke="#3a3a3a" stroke-width="1.1"/>
<rect x="345.8" y="937" width="9.9" height="91.3" fill="#6A90DA" stroke="#2a2a2a" stroke-width="1.25"/>
<line x1="345.8" y1="990.1" x2="355.7" y2="990.1" stroke="#1c1c1c" stroke-width="1.7"/>
<rect x="366.2" y="1078.2" width="9.9" height="1.2" fill="#EE5468" stroke="#2a2a2a" stroke-width="1.25"/>
<line x1="366.2" y1="1078.6" x2="376.1" y2="1078.6" stroke="#1c1c1c" stroke-width="1.7"/>
<rect x="376.3" y="1078.2" width="9.9" height="1.2" fill="#2FB135" stroke="#2a2a2a" stroke-width="1.25"/>
<line x1="376.3" y1="1078.6" x2="386.2" y2="1078.6" stroke="#1c1c1c" stroke-width="1.7"/>
<circle cx="381.3" cy="1069.3" r="2.6" fill="#1e1e1e"/>
<rect x="386.5" y="1078.2" width="9.9" height="1.2" fill="#6A90DA" stroke="#2a2a2a" stroke-width="1.25"/>
<line x1="386.5" y1="1078.6" x2="396.4" y2="1078.6" stroke="#1c1c1c" stroke-width="1.7"/>
<circle cx="391.4" cy="1078.6" r="2.6" fill="#1e1e1e"/>
<rect x="406.9" y="1064.9" width="9.9" height="12.3" fill="#EE5468" stroke="#2a2a2a" stroke-width="1.25"/>
<line x1="406.9" y1="1073.8" x2="416.8" y2="1073.8" stroke="#1c1c1c" stroke-width="1.7"/>
<circle cx="411.8" cy="1045.6" r="2.6" fill="#1e1e1e"/>
<rect x="417" y="1073.8" width="9.9" height="3.6" fill="#2FB135" stroke="#2a2a2a" stroke-width="1.25"/>
<line x1="417" y1="1075.4" x2="426.9" y2="1075.4" stroke="#1c1c1c" stroke-width="1.7"/>
<circle cx="422" cy="1053.6" r="2.6" fill="#1e1e1e"/>
<rect x="427.2" y="1066.9" width="9.9" height="6" fill="#6A90DA" stroke="#2a2a2a" stroke-width="1.25"/>
<line x1="427.2" y1="1070.1" x2="437.1" y2="1070.1" stroke="#1c1c1c" stroke-width="1.7"/>
<circle cx="432.1" cy="1058.5" r="2.6" fill="#1e1e1e"/>
<line x1="452.5" y1="1033.3" x2="452.5" y2="1029.5" stroke="#3a3a3a" stroke-width="1.1"/>
<line x1="452.5" y1="1057.8" x2="452.5" y2="1078.6" stroke="#3a3a3a" stroke-width="1.1"/>
<rect x="447.5" y="1033.3" width="9.9" height="24.5" fill="#EE5468" stroke="#2a2a2a" stroke-width="1.25"/>
<line x1="447.5" y1="1049.8" x2="457.4" y2="1049.8" stroke="#1c1c1c" stroke-width="1.7"/>
<circle cx="452.5" cy="926.9" r="2.6" fill="#1e1e1e"/>
<rect x="457.7" y="1071.4" width="9.9" height="4.4" fill="#2FB135" stroke="#2a2a2a" stroke-width="1.25"/>
<line x1="457.7" y1="1073.8" x2="467.6" y2="1073.8" stroke="#1c1c1c" stroke-width="1.7"/>
<circle cx="462.6" cy="1051.2" r="2.6" fill="#1e1e1e"/>
<line x1="472.8" y1="1036.3" x2="472.8" y2="1009" stroke="#3a3a3a" stroke-width="1.1"/>
<line x1="472.8" y1="1069.3" x2="472.8" y2="1075.8" stroke="#3a3a3a" stroke-width="1.1"/>
<rect x="467.8" y="1036.3" width="9.9" height="33" fill="#6A90DA" stroke="#2a2a2a" stroke-width="1.25"/>
<line x1="467.8" y1="1056.5" x2="477.7" y2="1056.5" stroke="#1c1c1c" stroke-width="1.7"/>
<line x1="493.1" y1="1040.4" x2="493.1" y2="1020.2" stroke="#3a3a3a" stroke-width="1.1"/>
<line x1="493.1" y1="1069.3" x2="493.1" y2="1078.6" stroke="#3a3a3a" stroke-width="1.1"/>
<rect x="488.2" y="1040.4" width="9.9" height="29" fill="#EE5468" stroke="#2a2a2a" stroke-width="1.25"/>
<line x1="488.2" y1="1055.3" x2="498.1" y2="1055.3" stroke="#1c1c1c" stroke-width="1.7"/>
<circle cx="493.1" cy="954.7" r="2.6" fill="#1e1e1e"/>
<rect x="498.3" y="1074.2" width="9.9" height="3.2" fill="#2FB135" stroke="#2a2a2a" stroke-width="1.25"/>
<line x1="498.3" y1="1075.8" x2="508.2" y2="1075.8" stroke="#1c1c1c" stroke-width="1.7"/>
<circle cx="503.2" cy="1070.5" r="2.6" fill="#1e1e1e"/>
<rect x="508.4" y="1073.8" width="9.9" height="4.8" fill="#6A90DA" stroke="#2a2a2a" stroke-width="1.25"/>
<line x1="508.4" y1="1076.6" x2="518.4" y2="1076.6" stroke="#1c1c1c" stroke-width="1.7"/>
<circle cx="513.4" cy="1063.3" r="2.6" fill="#1e1e1e"/>
<rect x="528.8" y="1073.8" width="9.9" height="5.2" fill="#EE5468" stroke="#2a2a2a" stroke-width="1.25"/>
<line x1="528.8" y1="1077" x2="538.7" y2="1077" stroke="#1c1c1c" stroke-width="1.7"/>
<circle cx="533.8" cy="998.5" r="2.6" fill="#1e1e1e"/>
<rect x="538.9" y="1078.2" width="9.9" height="1.2" fill="#2FB135" stroke="#2a2a2a" stroke-width="1.25"/>
<line x1="538.9" y1="1078.6" x2="548.9" y2="1078.6" stroke="#1c1c1c" stroke-width="1.7"/>
<circle cx="543.9" cy="1069.3" r="2.6" fill="#1e1e1e"/>
<rect x="549.1" y="1077.4" width="9.9" height="1.2" fill="#6A90DA" stroke="#2a2a2a" stroke-width="1.25"/>
<line x1="549.1" y1="1078.2" x2="559" y2="1078.2" stroke="#1c1c1c" stroke-width="1.7"/>
<line x1="574.4" y1="1064.1" x2="574.4" y2="1052" stroke="#3a3a3a" stroke-width="1.1"/>
<line x1="574.4" y1="1075.4" x2="574.4" y2="1078.6" stroke="#3a3a3a" stroke-width="1.1"/>
<rect x="569.4" y="1064.1" width="9.9" height="11.3" fill="#EE5468" stroke="#2a2a2a" stroke-width="1.25"/>
<line x1="569.4" y1="1066.1" x2="579.4" y2="1066.1" stroke="#1c1c1c" stroke-width="1.7"/>
<circle cx="574.4" cy="979.6" r="2.6" fill="#1e1e1e"/>
<rect x="579.6" y="1076.6" width="9.9" height="1.2" fill="#2FB135" stroke="#2a2a2a" stroke-width="1.25"/>
<line x1="579.6" y1="1077" x2="589.5" y2="1077" stroke="#1c1c1c" stroke-width="1.7"/>
<circle cx="584.5" cy="1072.2" r="2.6" fill="#1e1e1e"/>
<line x1="594.7" y1="1069.3" x2="594.7" y2="1073.4" stroke="#3a3a3a" stroke-width="1.1"/>
<rect x="589.7" y="1062.5" width="9.9" height="6.8" fill="#6A90DA" stroke="#2a2a2a" stroke-width="1.25"/>
<line x1="589.7" y1="1065.7" x2="599.6" y2="1065.7" stroke="#1c1c1c" stroke-width="1.7"/>
<circle cx="594.7" cy="1050" r="2.6" fill="#1e1e1e"/>
<line x1="615" y1="1047.2" x2="615" y2="1021.1" stroke="#3a3a3a" stroke-width="1.1"/>
<line x1="615" y1="1069.3" x2="615" y2="1072.2" stroke="#3a3a3a" stroke-width="1.1"/>
<rect x="610.1" y="1047.2" width="9.9" height="22.1" fill="#EE5468" stroke="#2a2a2a" stroke-width="1.25"/>
<line x1="610.1" y1="1058.5" x2="620" y2="1058.5" stroke="#1c1c1c" stroke-width="1.7"/>
<line x1="625.2" y1="976.4" x2="625.2" y2="927.7" stroke="#3a3a3a" stroke-width="1.1"/>
<line x1="625.2" y1="1058.5" x2="625.2" y2="1077.8" stroke="#3a3a3a" stroke-width="1.1"/>
<rect x="620.2" y="976.4" width="9.9" height="82.1" fill="#2FB135" stroke="#2a2a2a" stroke-width="1.25"/>
<line x1="620.2" y1="1004.6" x2="630.1" y2="1004.6" stroke="#1c1c1c" stroke-width="1.7"/>
<rect x="630.4" y="1055.3" width="9.9" height="14.1" fill="#6A90DA" stroke="#2a2a2a" stroke-width="1.25"/>
<line x1="630.4" y1="1068.1" x2="640.3" y2="1068.1" stroke="#1c1c1c" stroke-width="1.7"/>
<circle cx="635.3" cy="1021.1" r="2.6" fill="#1e1e1e"/>
<line x1="655.7" y1="1068.5" x2="655.7" y2="1058.5" stroke="#3a3a3a" stroke-width="1.1"/>
<rect x="650.7" y="1068.5" width="9.9" height="10.5" fill="#EE5468" stroke="#2a2a2a" stroke-width="1.25"/>
<line x1="650.7" y1="1077" x2="660.6" y2="1077" stroke="#1c1c1c" stroke-width="1.7"/>
<circle cx="655.7" cy="999.7" r="2.6" fill="#1e1e1e"/>
<rect x="660.9" y="1023.9" width="9.9" height="53.9" fill="#2FB135" stroke="#2a2a2a" stroke-width="1.25"/>
<line x1="660.9" y1="1065.7" x2="670.8" y2="1065.7" stroke="#1c1c1c" stroke-width="1.7"/>
<circle cx="665.8" cy="941" r="2.6" fill="#1e1e1e"/>
<rect x="671" y="1074.6" width="9.9" height="4.4" fill="#6A90DA" stroke="#2a2a2a" stroke-width="1.25"/>
<line x1="671" y1="1077.4" x2="680.9" y2="1077.4" stroke="#1c1c1c" stroke-width="1.7"/>
<circle cx="676" cy="1065.3" r="2.6" fill="#1e1e1e"/>
<rect x="691.4" y="1073.4" width="9.9" height="4.4" fill="#EE5468" stroke="#2a2a2a" stroke-width="1.25"/>
<line x1="691.4" y1="1075.4" x2="701.3" y2="1075.4" stroke="#1c1c1c" stroke-width="1.7"/>
<line x1="706.5" y1="1071.8" x2="706.5" y2="1064.9" stroke="#3a3a3a" stroke-width="1.1"/>
<rect x="701.5" y="1071.8" width="9.9" height="4.8" fill="#2FB135" stroke="#2a2a2a" stroke-width="1.25"/>
<line x1="701.5" y1="1075" x2="711.5" y2="1075" stroke="#1c1c1c" stroke-width="1.7"/>
<rect x="711.7" y="1073.8" width="9.9" height="3.6" fill="#6A90DA" stroke="#2a2a2a" stroke-width="1.25"/>
<line x1="711.7" y1="1075.8" x2="721.6" y2="1075.8" stroke="#1c1c1c" stroke-width="1.7"/>
<circle cx="716.6" cy="1066.5" r="2.6" fill="#1e1e1e"/>
<rect x="732" y="1078.6" width="9.9" height="1.2" fill="#EE5468" stroke="#2a2a2a" stroke-width="1.25"/>
<line x1="732" y1="1078.8" x2="742" y2="1078.8" stroke="#1c1c1c" stroke-width="1.7"/>
<circle cx="737" cy="1078.2" r="2.6" fill="#1e1e1e"/>
<rect x="742.2" y="1071.4" width="9.9" height="6.4" fill="#2FB135" stroke="#2a2a2a" stroke-width="1.25"/>
<line x1="742.2" y1="1077" x2="752.1" y2="1077" stroke="#1c1c1c" stroke-width="1.7"/>
<circle cx="747.1" cy="1051.2" r="2.6" fill="#1e1e1e"/>
<rect x="752.3" y="1078.6" width="9.9" height="1.2" fill="#6A90DA" stroke="#2a2a2a" stroke-width="1.25"/>
<line x1="752.3" y1="1078.8" x2="762.2" y2="1078.8" stroke="#1c1c1c" stroke-width="1.7"/>
<rect x="772.7" y="1072.2" width="9.9" height="4.8" fill="#EE5468" stroke="#2a2a2a" stroke-width="1.25"/>
<line x1="772.7" y1="1075.4" x2="782.6" y2="1075.4" stroke="#1c1c1c" stroke-width="1.7"/>
<circle cx="777.6" cy="1025.5" r="2.6" fill="#1e1e1e"/>
<circle cx="777.6" cy="1052.4" r="2.6" fill="#1e1e1e"/>
<rect x="782.8" y="1076.6" width="9.9" height="1.2" fill="#2FB135" stroke="#2a2a2a" stroke-width="1.25"/>
<line x1="782.8" y1="1077" x2="792.8" y2="1077" stroke="#1c1c1c" stroke-width="1.7"/>
<circle cx="787.8" cy="1056.5" r="2.6" fill="#1e1e1e"/>
<circle cx="787.8" cy="1077" r="2.6" fill="#1e1e1e"/>
<rect x="793" y="1073.8" width="9.9" height="5.2" fill="#6A90DA" stroke="#2a2a2a" stroke-width="1.25"/>
<line x1="793" y1="1076.6" x2="802.9" y2="1076.6" stroke="#1c1c1c" stroke-width="1.7"/>
<rect x="813.3" y="1077.4" width="9.9" height="1.2" fill="#EE5468" stroke="#2a2a2a" stroke-width="1.25"/>
<line x1="813.3" y1="1078.2" x2="823.2" y2="1078.2" stroke="#1c1c1c" stroke-width="1.7"/>
<circle cx="818.3" cy="1060.9" r="2.6" fill="#1e1e1e"/>
<circle cx="818.3" cy="1070.1" r="2.6" fill="#1e1e1e"/>
<rect x="823.5" y="1078.2" width="9.9" height="1.2" fill="#2FB135" stroke="#2a2a2a" stroke-width="1.25"/>
<line x1="823.5" y1="1078.6" x2="833.4" y2="1078.6" stroke="#1c1c1c" stroke-width="1.7"/>
<circle cx="828.4" cy="1070.1" r="2.6" fill="#1e1e1e"/>
<rect x="833.6" y="1075.8" width="9.9" height="2.4" fill="#6A90DA" stroke="#2a2a2a" stroke-width="1.25"/>
<line x1="833.6" y1="1077" x2="843.5" y2="1077" stroke="#1c1c1c" stroke-width="1.7"/>
<line x1="858.9" y1="1070.1" x2="858.9" y2="1062.9" stroke="#3a3a3a" stroke-width="1.1"/>
<rect x="854" y="1070.1" width="9.9" height="8.5" fill="#EE5468" stroke="#2a2a2a" stroke-width="1.25"/>
<line x1="854" y1="1075.8" x2="863.9" y2="1075.8" stroke="#1c1c1c" stroke-width="1.7"/>
<rect x="864.1" y="1077.8" width="9.9" height="1.2" fill="#2FB135" stroke="#2a2a2a" stroke-width="1.25"/>
<line x1="864.1" y1="1078.2" x2="874" y2="1078.2" stroke="#1c1c1c" stroke-width="1.7"/>
<circle cx="869.1" cy="1064.9" r="2.6" fill="#1e1e1e"/>
<rect x="874.3" y="1066.1" width="9.9" height="11.7" fill="#6A90DA" stroke="#2a2a2a" stroke-width="1.25"/>
<line x1="874.3" y1="1076.6" x2="884.2" y2="1076.6" stroke="#1c1c1c" stroke-width="1.7"/>
<circle cx="879.2" cy="1042" r="2.6" fill="#1e1e1e"/>
<line x1="899.6" y1="1068.5" x2="899.6" y2="1060.9" stroke="#3a3a3a" stroke-width="1.1"/>
<rect x="894.6" y="1068.5" width="9.9" height="8" fill="#EE5468" stroke="#2a2a2a" stroke-width="1.25"/>
<line x1="894.6" y1="1071.4" x2="904.6" y2="1071.4" stroke="#1c1c1c" stroke-width="1.7"/>
<circle cx="899.6" cy="1041.2" r="2.6" fill="#1e1e1e"/>
<line x1="909.8" y1="1055.7" x2="909.8" y2="1049.2" stroke="#3a3a3a" stroke-width="1.1"/>
<line x1="909.8" y1="1074.6" x2="909.8" y2="1077.8" stroke="#3a3a3a" stroke-width="1.1"/>
<rect x="904.8" y="1055.7" width="9.9" height="18.9" fill="#2FB135" stroke="#2a2a2a" stroke-width="1.25"/>
<line x1="904.8" y1="1070.5" x2="914.7" y2="1070.5" stroke="#1c1c1c" stroke-width="1.7"/>
<line x1="919.9" y1="1044.8" x2="919.9" y2="1037.6" stroke="#3a3a3a" stroke-width="1.1"/>
<rect x="914.9" y="1044.8" width="9.9" height="7.6" fill="#6A90DA" stroke="#2a2a2a" stroke-width="1.25"/>
<line x1="914.9" y1="1048.4" x2="924.9" y2="1048.4" stroke="#1c1c1c" stroke-width="1.7"/>
<circle cx="919.9" cy="1064.9" r="2.6" fill="#1e1e1e"/>
<line x1="958" y1="942.9" x2="958" y2="957.9" stroke="#333" stroke-width="0.9"/>
<rect x="951.2" y="945.5" width="13.6" height="9.8" fill="#EE5468" stroke="#2a2a2a" stroke-width="1.0"/>
<line x1="951.2" y1="950.4" x2="964.8" y2="950.4" stroke="#222" stroke-width="1.1"/>
<line x1="958" y1="960.5" x2="958" y2="975.5" stroke="#333" stroke-width="0.9"/>
<rect x="951.2" y="963.1" width="13.6" height="9.8" fill="#2FB135" stroke="#2a2a2a" stroke-width="1.0"/>
<line x1="951.2" y1="968" x2="964.8" y2="968" stroke="#222" stroke-width="1.1"/>
<line x1="958" y1="978.1" x2="958" y2="993.1" stroke="#333" stroke-width="0.9"/>
<rect x="951.2" y="980.7" width="13.6" height="9.8" fill="#6A90DA" stroke="#2a2a2a" stroke-width="1.0"/>
<line x1="951.2" y1="985.6" x2="964.8" y2="985.6" stroke="#222" stroke-width="1.1"/>
<text x="96" y="65.7" font-size="8.3" fill="#2a2a2a" class="lb">Neutrophils</text>
<text x="98.8" y="76.7" font-size="8.3" fill="#2a2a2a" class="lb">Monocytes 1</text>
<text x="155" y="75.3" font-size="8.3" fill="#2a2a2a" class="lb">Macrophages</text>
<text x="162.1" y="88.2" font-size="8.3" fill="#2a2a2a" class="lb">Monocytes 3</text>
<text x="93.1" y="99.6" font-size="8.3" fill="#2a2a2a" class="lb">Monocytes 2</text>
<text x="146.7" y="102.1" font-size="8.3" fill="#2a2a2a" class="lb">Treg 2</text>
<text x="198.3" y="98.5" font-size="8.3" fill="#2a2a2a" class="lb">B-cells 5</text>
<text x="86.5" y="111.4" font-size="8.3" fill="#2a2a2a" class="lb">Endothelial</text>
<text x="167.9" y="109.5" font-size="8.3" fill="#2a2a2a" class="lb">Epithelial 1</text>
<text x="131.1" y="115" font-size="8.3" fill="#2a2a2a" class="lb">Epithelial 2</text>
<text x="178.6" y="120.8" font-size="8.3" fill="#2a2a2a" class="lb">Erythrocytes 1</text>
<text x="99.6" y="127.6" font-size="8.3" fill="#2a2a2a" class="lb">Treg 3</text>
<text x="129" y="130.4" font-size="8.3" fill="#2a2a2a" class="lb">Epithelial 3</text>
<text x="196.7" y="132" font-size="8.3" fill="#2a2a2a" class="lb">B-cells 4</text>
<text x="129.5" y="144.1" font-size="8.3" fill="#2a2a2a" class="lb">Treg 1</text>
<text x="158.9" y="147.7" font-size="8.3" fill="#2a2a2a" class="lb">Plasma cells</text>
<text x="199.1" y="143.3" font-size="8.3" fill="#2a2a2a" class="lb">B-cells 2</text>
<text x="175.1" y="156.7" font-size="8.3" fill="#2a2a2a" class="lb">B-cells 3</text>
<text x="86.5" y="155.9" font-size="8.3" fill="#2a2a2a" class="lb">CD8 T-cell 2</text>
<text x="125.1" y="168.2" font-size="8.3" fill="#2a2a2a" class="lb">CD4 T-cell 2</text>
<text x="198.3" y="173.7" font-size="8.3" fill="#2a2a2a" class="lb">B-cells 1</text>
<text x="86.5" y="179.2" font-size="8.3" fill="#2a2a2a" class="lb">CD8 T-cell 1</text>
<text x="138" y="190.6" font-size="8.3" fill="#2a2a2a" class="lb">CD4 T-cell 1</text>
<line x1="128.6" y1="109" x2="147.1" y2="118" stroke="#1c1c1c" stroke-width="1.4"/>
<line x1="155" y1="142.9" x2="156.9" y2="148.4" stroke="#1c1c1c" stroke-width="1.4"/>
<line x1="157.4" y1="148.4" x2="149.5" y2="160.2" stroke="#1c1c1c" stroke-width="1.4"/>
<line x1="213.6" y1="143.2" x2="209.3" y2="150.7" stroke="#1c1c1c" stroke-width="1.4"/>
<text x="240.7" y="65.4" font-size="8.3" fill="#2a2a2a" class="lb">Neutrophils</text>
<text x="274.9" y="75.3" font-size="8.3" fill="#2a2a2a" class="lb">Monocytes 1</text>
<text x="327.1" y="76" font-size="8.3" fill="#2a2a2a" class="lb">Macrophages</text>
<text x="304" y="96.1" font-size="8.3" fill="#2a2a2a" class="lb">Monocytes 3</text>
<text x="352.8" y="95.8" font-size="8.3" fill="#2a2a2a" class="lb">B-cells 5</text>
<text x="248.9" y="100" font-size="8.3" fill="#2a2a2a" class="lb">Monocytes 2</text>
<text x="326.3" y="107.1" font-size="8.3" fill="#2a2a2a" class="lb">Epithelial 1</text>
<text x="283.8" y="111.5" font-size="8.3" fill="#2a2a2a" class="lb">Endothelial</text>
<text x="332.3" y="118.6" font-size="8.3" fill="#2a2a2a" class="lb">Erythrocytes 1</text>
<text x="267" y="122.6" font-size="8.3" fill="#2a2a2a" class="lb">Treg 1</text>
<text x="301.6" y="131.5" font-size="8.3" fill="#2a2a2a" class="lb">Epithelial 2</text>
<text x="347.3" y="130" font-size="8.3" fill="#2a2a2a" class="lb">B-cells 4</text>
<text x="251.2" y="137.8" font-size="8.3" fill="#2a2a2a" class="lb">Treg 3</text>
<text x="280.4" y="135.9" font-size="8.3" fill="#2a2a2a" class="lb">Treg 2</text>
<text x="352.8" y="141" font-size="8.3" fill="#2a2a2a" class="lb">B-cells 2</text>
<text x="280.7" y="146.8" font-size="8.3" fill="#2a2a2a" class="lb">Plasma cells</text>
<text x="321.6" y="152" font-size="8.3" fill="#2a2a2a" class="lb">Epithelial 3</text>
<text x="332.6" y="157.5" font-size="8.3" fill="#2a2a2a" class="lb">B-cells 3</text>
<text x="240.7" y="156.7" font-size="8.3" fill="#2a2a2a" class="lb">CD8 T-cell 2</text>
<text x="286.4" y="169" font-size="8.3" fill="#2a2a2a" class="lb">CD4 T-cell 2</text>
<text x="352.8" y="173.7" font-size="8.3" fill="#2a2a2a" class="lb">B-cells 1</text>
<text x="240.7" y="179.5" font-size="8.3" fill="#2a2a2a" class="lb">CD8 T-cell 1</text>
<text x="292.6" y="187.9" font-size="8.3" fill="#2a2a2a" class="lb">CD4 T-cell 1</text>
<line x1="283.5" y1="61.8" x2="294.2" y2="64.2" stroke="#1c1c1c" stroke-width="1.4"/>
<line x1="365.4" y1="96.9" x2="360.3" y2="102.7" stroke="#1c1c1c" stroke-width="1.4"/>
<line x1="305.2" y1="129" x2="313.4" y2="121.1" stroke="#1c1c1c" stroke-width="1.4"/>
<line x1="310" y1="150.7" x2="309.5" y2="160.2" stroke="#1c1c1c" stroke-width="1.4"/>
<line x1="256" y1="167.3" x2="260.7" y2="172.5" stroke="#1c1c1c" stroke-width="1.4"/>
<text x="422" y="76" font-size="8.3" fill="#2a2a2a" class="lb">Monocytes 1</text>
<text x="475" y="75.3" font-size="8.3" fill="#2a2a2a" class="lb">Macrophages</text>
<text x="432.2" y="95.8" font-size="8.3" fill="#2a2a2a" class="lb">Monocytes 2</text>
<text x="485" y="95.8" font-size="8.3" fill="#2a2a2a" class="lb">Monocytes 3</text>
<text x="419.6" y="107.4" font-size="8.3" fill="#2a2a2a" class="lb">Treg 1</text>
<text x="450.3" y="110.6" font-size="8.3" fill="#2a2a2a" class="lb">Epithelial 1</text>
<text x="497.1" y="116.6" font-size="8.3" fill="#2a2a2a" class="lb">Treg 2</text>
<text x="401.2" y="118.6" font-size="8.3" fill="#2a2a2a" class="lb">Endothelial</text>
<text x="448" y="123.2" font-size="8.3" fill="#2a2a2a" class="lb">Epithelial 2</text>
<text x="467.6" y="127.9" font-size="8.3" fill="#2a2a2a" class="lb">Epithelial 3</text>
<text x="405" y="135.1" font-size="8.3" fill="#2a2a2a" class="lb">Treg 3</text>
<text x="485.7" y="139.1" font-size="8.3" fill="#2a2a2a" class="lb">Erythrocytes 1</text>
<text x="434.1" y="145.7" font-size="8.3" fill="#2a2a2a" class="lb">CD4 T-cell 1</text>
<text x="485.7" y="153.1" font-size="8.3" fill="#2a2a2a" class="lb">Plasma cells</text>
<text x="395.2" y="153.9" font-size="8.3" fill="#2a2a2a" class="lb">CD8 T-cell 2</text>
<text x="395.2" y="172.8" font-size="8.3" fill="#2a2a2a" class="lb">CD8 T-cell 1</text>
<line x1="468.4" y1="87" x2="484.2" y2="91.7" stroke="#1c1c1c" stroke-width="1.4"/>
<line x1="487.3" y1="113.8" x2="496.4" y2="113" stroke="#1c1c1c" stroke-width="1.4"/>
<line x1="444" y1="115.8" x2="451.1" y2="118.5" stroke="#1c1c1c" stroke-width="1.4"/>
<line x1="497.5" y1="121.6" x2="505.4" y2="131.1" stroke="#1c1c1c" stroke-width="1.4"/>
<line x1="483.9" y1="137.4" x2="484.5" y2="147.6" stroke="#1c1c1c" stroke-width="1.4"/>
<text x="558.9" y="65.4" font-size="8.3" fill="#2a2a2a" class="lb">Neutrophils</text>
<text x="569.9" y="76.7" font-size="8.3" fill="#2a2a2a" class="lb">Monocytes 1</text>
<text x="622.2" y="76.1" font-size="8.3" fill="#2a2a2a" class="lb">Macrophages</text>
<text x="610" y="96.9" font-size="8.3" fill="#2a2a2a" class="lb">Monocytes 3</text>
<text x="662" y="97.2" font-size="8.3" fill="#2a2a2a" class="lb">B-cells 5</text>
<text x="557" y="104.3" font-size="8.3" fill="#2a2a2a" class="lb">Monocytes 2</text>
<text x="622.2" y="108.2" font-size="8.3" fill="#2a2a2a" class="lb">Epithelial 1</text>
<text x="563.3" y="124" font-size="8.3" fill="#2a2a2a" class="lb">Treg 3</text>
<text x="591.9" y="123.7" font-size="8.3" fill="#2a2a2a" class="lb">Endothelial</text>
<text x="638.9" y="126.3" font-size="8.3" fill="#2a2a2a" class="lb">Erythrocytes 1</text>
<text x="590.1" y="135" font-size="8.3" fill="#2a2a2a" class="lb">Treg 2</text>
<text x="646.7" y="142.5" font-size="8.3" fill="#2a2a2a" class="lb">B-cells 4</text>
<text x="578.6" y="148.4" font-size="8.3" fill="#2a2a2a" class="lb">CD4 T-cell 2</text>
<text x="654.9" y="147.7" font-size="8.3" fill="#2a2a2a" class="lb">B-cells 2</text>
<text x="562" y="159.9" font-size="8.3" fill="#2a2a2a" class="lb">CD8 T-cell 2</text>
<text x="621.9" y="159.4" font-size="8.3" fill="#2a2a2a" class="lb">Epithelial 3</text>
<text x="549.8" y="170.9" font-size="8.3" fill="#2a2a2a" class="lb">CD8 T-cell 1</text>
<text x="661.7" y="170.6" font-size="8.3" fill="#2a2a2a" class="lb">B-cells 1</text>
<text x="596.4" y="187.9" font-size="8.3" fill="#2a2a2a" class="lb">CD4 T-cell 1</text>
<line x1="605.8" y1="98.8" x2="606.1" y2="91.7" stroke="#1c1c1c" stroke-width="1.4"/>
<line x1="642.6" y1="150.7" x2="645.8" y2="146" stroke="#1c1c1c" stroke-width="1.4"/>
<text x="114.1" y="267.7" font-size="7.9" fill="#2a2a2a" class="lc">Monocytes 1</text>
<text x="164" y="269.3" font-size="7.9" fill="#2a2a2a" class="lc">Macrophages</text>
<text x="164.4" y="283.1" font-size="7.9" fill="#2a2a2a" class="lc">Monocytes 3</text>
<text x="127.5" y="294.4" font-size="7.9" fill="#2a2a2a" class="lc">Monocytes 2</text>
<text x="199.4" y="293.8" font-size="7.9" fill="#2a2a2a" class="lc">B-cells 5</text>
<text x="108.6" y="305.1" font-size="7.9" fill="#2a2a2a" class="lc">Treg 1</text>
<text x="155" y="310.6" font-size="7.9" fill="#2a2a2a" class="lc">Epithelial 1</text>
<text x="85.7" y="315.8" font-size="7.9" fill="#2a2a2a" class="lc">Endothelial</text>
<text x="99.1" y="326.1" font-size="7.9" fill="#2a2a2a" class="lc">Treg 3</text>
<text x="130.6" y="325.6" font-size="7.9" fill="#2a2a2a" class="lc">Epithelial 2</text>
<text x="161.3" y="322.9" font-size="7.9" fill="#2a2a2a" class="lc">Epithelial 3</text>
<text x="183" y="328" font-size="7.9" fill="#2a2a2a" class="lc">Erythrocytes 1</text>
<text x="110.1" y="337.1" font-size="7.9" fill="#2a2a2a" class="lc">Treg 2</text>
<text x="133.8" y="341.3" font-size="7.9" fill="#2a2a2a" class="lc">Plasma cells</text>
<text x="203" y="338.7" font-size="7.9" fill="#2a2a2a" class="lc">B-cells 2</text>
<text x="86.2" y="347.6" font-size="7.9" fill="#2a2a2a" class="lc">CD8 T-cell 2</text>
<text x="174.4" y="349.5" font-size="7.9" fill="#2a2a2a" class="lc">B-cells 4</text>
<text x="125.9" y="355.5" font-size="7.9" fill="#2a2a2a" class="lc">CD4 T-cell 2</text>
<text x="86.5" y="361" font-size="7.9" fill="#2a2a2a" class="lc">CD8 T-cell 1</text>
<text x="167.9" y="361.8" font-size="7.9" fill="#2a2a2a" class="lc">B-cells 3</text>
<text x="203" y="371.3" font-size="7.9" fill="#2a2a2a" class="lc">B-cells 1</text>
<text x="87.3" y="375.7" font-size="7.9" fill="#2a2a2a" class="lc">CD8 T-cell 3</text>
<text x="138.5" y="376.4" font-size="7.9" fill="#2a2a2a" class="lc">CD4 T-cell 1</text>
<line x1="125.1" y1="312.7" x2="148.7" y2="311.9" stroke="#1c1c1c" stroke-width="1.4"/>
<line x1="133" y1="333.1" x2="148.7" y2="328.4" stroke="#1c1c1c" stroke-width="1.4"/>
<line x1="189.6" y1="341.8" x2="194.4" y2="326.9" stroke="#1c1c1c" stroke-width="1.4"/>
<line x1="218" y1="363.1" x2="219.5" y2="356" stroke="#1c1c1c" stroke-width="1.4"/>
<text x="243.1" y="259.8" font-size="7.9" fill="#2a2a2a" class="lc">Neutrophils</text>
<text x="278.5" y="268.1" font-size="7.9" fill="#2a2a2a" class="lc">Monocytes 1</text>
<text x="328.4" y="268.5" font-size="7.9" fill="#2a2a2a" class="lc">Macrophages</text>
<text x="322.1" y="282.6" font-size="7.9" fill="#2a2a2a" class="lc">Monocytes 3</text>
<text x="284.8" y="293.8" font-size="7.9" fill="#2a2a2a" class="lc">Monocytes 2</text>
<text x="356.7" y="293.5" font-size="7.9" fill="#2a2a2a" class="lc">B-cells 5</text>
<text x="302.7" y="305.9" font-size="7.9" fill="#2a2a2a" class="lc">Endothelial</text>
<text x="341" y="308.8" font-size="7.9" fill="#2a2a2a" class="lc">Erythrocytes 1</text>
<text x="275.3" y="315.1" font-size="7.9" fill="#2a2a2a" class="lc">Treg 1</text>
<text x="288.2" y="325.9" font-size="7.9" fill="#2a2a2a" class="lc">Epithelial 2</text>
<text x="324.4" y="324.8" font-size="7.9" fill="#2a2a2a" class="lc">Epithelial 1</text>
<text x="360.6" y="327.5" font-size="7.9" fill="#2a2a2a" class="lc">B-cells 4</text>
<text x="258.6" y="329.5" font-size="7.9" fill="#2a2a2a" class="lc">Treg 3</text>
<text x="289.5" y="338.2" font-size="7.9" fill="#2a2a2a" class="lc">Treg 2</text>
<text x="317.7" y="341.7" font-size="7.9" fill="#2a2a2a" class="lc">Plasma cells</text>
<text x="360.6" y="337.9" font-size="7.9" fill="#2a2a2a" class="lc">B-cells 2</text>
<text x="243.1" y="348.9" font-size="7.9" fill="#2a2a2a" class="lc">CD8 T-cell 2</text>
<text x="281.2" y="351.6" font-size="7.9" fill="#2a2a2a" class="lc">CD4 T-cell 2</text>
<text x="360.6" y="353.5" font-size="7.9" fill="#2a2a2a" class="lc">B-cells 1</text>
<text x="262.3" y="362.6" font-size="7.9" fill="#2a2a2a" class="lc">CD8 T-cell 1</text>
<text x="339.7" y="365.7" font-size="7.9" fill="#2a2a2a" class="lc">B-cells 3</text>
<text x="244.5" y="374.4" font-size="7.9" fill="#2a2a2a" class="lc">CD8 T-cell 3</text>
<text x="293.8" y="380.4" font-size="7.9" fill="#2a2a2a" class="lc">CD4 T-cell 1</text>
<line x1="284.3" y1="256.3" x2="300.5" y2="258.9" stroke="#1c1c1c" stroke-width="1.4"/>
<line x1="341" y1="302.5" x2="342.1" y2="308.8" stroke="#1c1c1c" stroke-width="1.4"/>
<line x1="351.2" y1="327.6" x2="360.3" y2="324.5" stroke="#1c1c1c" stroke-width="1.4"/>
<line x1="366.2" y1="342.6" x2="370.1" y2="337.9" stroke="#1c1c1c" stroke-width="1.4"/>
<text x="431.9" y="268.5" font-size="7.9" fill="#2a2a2a" class="lc">Monocytes 1</text>
<text x="481.5" y="270.5" font-size="7.9" fill="#2a2a2a" class="lc">Macrophages</text>
<text x="433.3" y="286.7" font-size="7.9" fill="#2a2a2a" class="lc">Monocytes 3</text>
<text x="483.4" y="295.7" font-size="7.9" fill="#2a2a2a" class="lc">Treg 2</text>
<text x="443.6" y="316.5" font-size="7.9" fill="#2a2a2a" class="lc">Endothelial</text>
<text x="434.6" y="323.6" font-size="7.9" fill="#2a2a2a" class="lc">Treg 3</text>
<text x="487.6" y="323.2" font-size="7.9" fill="#2a2a2a" class="lc">Epithelial 1</text>
<text x="464" y="336.1" font-size="7.9" fill="#2a2a2a" class="lc">Epithelial 3</text>
<text x="413.8" y="349.7" font-size="7.9" fill="#2a2a2a" class="lc">CD8 T-cell 2</text>
<text x="445.6" y="371.6" font-size="7.9" fill="#2a2a2a" class="lc">CD4 T-cell 1</text>
<text x="152.8" y="451.2" font-size="7.8" fill="#2a2a2a" class="lc">Neutrophils</text>
<text x="196.9" y="459.9" font-size="7.8" fill="#2a2a2a" class="lc">Monocytes 1</text>
<text x="246.5" y="461.5" font-size="7.8" fill="#2a2a2a" class="lc">Macrophages</text>
<text x="234.2" y="478.3" font-size="7.8" fill="#2a2a2a" class="lc">Monocytes 3</text>
<text x="173.8" y="485.4" font-size="7.8" fill="#2a2a2a" class="lc">Monocytes 2</text>
<text x="223.7" y="489" font-size="7.8" fill="#2a2a2a" class="lc">Treg 2</text>
<text x="275.6" y="489" font-size="7.8" fill="#2a2a2a" class="lc">B-cells 5</text>
<text x="243.3" y="500" font-size="7.8" fill="#2a2a2a" class="lc">Epithelial 1</text>
<text x="182.3" y="505.8" font-size="7.8" fill="#2a2a2a" class="lc">Treg 1</text>
<text x="263.8" y="510.9" font-size="7.8" fill="#2a2a2a" class="lc">B-cells 4</text>
<text x="189" y="515.6" font-size="7.8" fill="#2a2a2a" class="lc">Endothelial</text>
<text x="210.3" y="514.8" font-size="7.8" fill="#2a2a2a" class="lc">Epithelial 2</text>
<text x="167.8" y="527.1" font-size="7.8" fill="#2a2a2a" class="lc">Treg 3</text>
<text x="228.4" y="525.2" font-size="7.8" fill="#2a2a2a" class="lc">Erythrocytes 1</text>
<text x="219.7" y="535" font-size="7.8" fill="#2a2a2a" class="lc">Plasma cells</text>
<text x="275.6" y="536.1" font-size="7.8" fill="#2a2a2a" class="lc">B-cells 2</text>
<text x="163.4" y="546.5" font-size="7.8" fill="#2a2a2a" class="lc">CD8 T-cell 2</text>
<text x="212.2" y="544.9" font-size="7.8" fill="#2a2a2a" class="lc">CD4 T-cell 2</text>
<text x="275.6" y="548.8" font-size="7.8" fill="#2a2a2a" class="lc">B-cells 1</text>
<text x="161" y="558.6" font-size="7.8" fill="#2a2a2a" class="lc">CD8 T-cell 1</text>
<text x="172.8" y="569.6" font-size="7.8" fill="#2a2a2a" class="lc">CD8 T-cell 3</text>
<text x="220.5" y="580.1" font-size="7.8" fill="#2a2a2a" class="lc">CD4 T-cell 1</text>
<line x1="193" y1="448.1" x2="210" y2="450.8" stroke="#1c1c1c" stroke-width="1.4"/>
<line x1="201.6" y1="561.9" x2="203.7" y2="557.2" stroke="#1c1c1c" stroke-width="1.4"/>
<line x1="201.6" y1="561.9" x2="199.3" y2="560.6" stroke="#1c1c1c" stroke-width="1.4"/>
<line x1="222.1" y1="566.6" x2="229.2" y2="574" stroke="#1c1c1c" stroke-width="1.4"/>
<text x="364" y="460.7" font-size="7.8" fill="#2a2a2a" class="lc">Monocytes 1</text>
<text x="413.4" y="461.5" font-size="7.8" fill="#2a2a2a" class="lc">Macrophages</text>
<text x="393.4" y="480.7" font-size="7.8" fill="#2a2a2a" class="lc">Monocytes 3</text>
<text x="342" y="489.8" font-size="7.8" fill="#2a2a2a" class="lc">Monocytes 2</text>
<text x="397.7" y="492.5" font-size="7.8" fill="#2a2a2a" class="lc">Treg 2</text>
<text x="452.5" y="499.1" font-size="7.8" fill="#2a2a2a" class="lc">B-cells 5</text>
<text x="358" y="500.3" font-size="7.8" fill="#2a2a2a" class="lc">Treg 1</text>
<text x="404.9" y="502.7" font-size="7.8" fill="#2a2a2a" class="lc">Epithelial 1</text>
<text x="354.5" y="510.9" font-size="7.8" fill="#2a2a2a" class="lc">Endothelial</text>
<text x="447.7" y="512.1" font-size="7.8" fill="#2a2a2a" class="lc">B-cells 4</text>
<text x="343.8" y="521.9" font-size="7.8" fill="#2a2a2a" class="lc">Treg 3</text>
<text x="380.8" y="521.6" font-size="7.8" fill="#2a2a2a" class="lc">Epithelial 2</text>
<text x="423.6" y="522.7" font-size="7.8" fill="#2a2a2a" class="lc">Plasma cells</text>
<text x="348.9" y="532.1" font-size="7.8" fill="#2a2a2a" class="lc">Erythrocytes 1</text>
<text x="339.9" y="542.8" font-size="7.8" fill="#2a2a2a" class="lc">CD8 T-cell 2</text>
<text x="409.2" y="544.7" font-size="7.8" fill="#2a2a2a" class="lc">Epithelial 3</text>
<text x="452.5" y="547.2" font-size="7.8" fill="#2a2a2a" class="lc">B-cells 2</text>
<text x="361.9" y="553.1" font-size="7.8" fill="#2a2a2a" class="lc">CD4 T-cell 1</text>
<text x="405.2" y="555.1" font-size="7.8" fill="#2a2a2a" class="lc">CD4 T-cell 2</text>
<text x="326.5" y="563.6" font-size="7.8" fill="#2a2a2a" class="lc">CD8 T-cell 1</text>
<text x="452.5" y="564.9" font-size="7.8" fill="#2a2a2a" class="lc">B-cells 1</text>
<text x="412" y="575.6" font-size="7.8" fill="#2a2a2a" class="lc">CD8 T-cell 3</text>
<line x1="412.3" y1="514.2" x2="417" y2="510.3" stroke="#1c1c1c" stroke-width="1.4"/>
<line x1="435.9" y1="508.2" x2="446.9" y2="509.2" stroke="#1c1c1c" stroke-width="1.4"/>
<line x1="404.4" y1="541.8" x2="410.7" y2="548.4" stroke="#1c1c1c" stroke-width="1.4"/>
<line x1="462.7" y1="550.4" x2="466.6" y2="557.5" stroke="#1c1c1c" stroke-width="1.4"/>
<line x1="461.1" y1="493" x2="461.9" y2="496.1" stroke="#1c1c1c" stroke-width="1.4"/>
<text x="193.8" y="649.1" font-size="7.8" fill="#2a2a2a" class="lc">Monocytes 1</text>
<text x="243" y="648.3" font-size="7.8" fill="#2a2a2a" class="lc">Macrophages</text>
<text x="221.6" y="669.9" font-size="7.8" fill="#2a2a2a" class="lc">Monocytes 3</text>
<text x="169.8" y="680.1" font-size="7.8" fill="#2a2a2a" class="lc">Monocytes 2</text>
<text x="278.8" y="679.6" font-size="7.8" fill="#2a2a2a" class="lc">B-cells 5</text>
<text x="172.8" y="690.3" font-size="7.8" fill="#2a2a2a" class="lc">Treg 1</text>
<text x="199.3" y="691.1" font-size="7.8" fill="#2a2a2a" class="lc">Endothelial</text>
<text x="244.6" y="690.7" font-size="7.8" fill="#2a2a2a" class="lc">Treg 2</text>
<text x="271.7" y="695.8" font-size="7.8" fill="#2a2a2a" class="lc">B-cells 4</text>
<text x="202.7" y="702.9" font-size="7.8" fill="#2a2a2a" class="lc">Epithelial 2</text>
<text x="242.5" y="707.3" font-size="7.8" fill="#2a2a2a" class="lc">Epithelial 1</text>
<text x="175.6" y="713.2" font-size="7.8" fill="#2a2a2a" class="lc">Treg 3</text>
<text x="213" y="719" font-size="7.8" fill="#2a2a2a" class="lc">Epithelial 3</text>
<text x="259.4" y="717.6" font-size="7.8" fill="#2a2a2a" class="lc">Erythrocytes 1</text>
<text x="249.6" y="729.4" font-size="7.8" fill="#2a2a2a" class="lc">Plasma cells</text>
<text x="163.8" y="732.1" font-size="7.8" fill="#2a2a2a" class="lc">CD8 T-cell 2</text>
<text x="212.2" y="739.9" font-size="7.8" fill="#2a2a2a" class="lc">CD4 T-cell 2</text>
<text x="278.8" y="739.9" font-size="7.8" fill="#2a2a2a" class="lc">B-cells 2</text>
<text x="153.6" y="751.4" font-size="7.8" fill="#2a2a2a" class="lc">CD8 T-cell 1</text>
<text x="271.7" y="753.6" font-size="7.8" fill="#2a2a2a" class="lc">B-cells 1</text>
<text x="196.9" y="762" font-size="7.8" fill="#2a2a2a" class="lc">CD4 T-cell 1</text>
<line x1="196.1" y1="687.2" x2="211.9" y2="683" stroke="#1c1c1c" stroke-width="1.4"/>
<line x1="240.2" y1="733.3" x2="250.4" y2="723.9" stroke="#1c1c1c" stroke-width="1.4"/>
<line x1="257.5" y1="718.4" x2="262.2" y2="722.3" stroke="#1c1c1c" stroke-width="1.4"/>
<line x1="274.8" y1="701.9" x2="281.1" y2="710.5" stroke="#1c1c1c" stroke-width="1.4"/>
<line x1="277.5" y1="720.7" x2="277.5" y2="735.7" stroke="#1c1c1c" stroke-width="1.4"/>
<line x1="240.2" y1="698.7" x2="251.2" y2="697.9" stroke="#1c1c1c" stroke-width="1.4"/>
<text x="368.2" y="648.2" font-size="7.8" fill="#2a2a2a" class="lc">Monocytes 1</text>
<text x="417.8" y="649.7" font-size="7.8" fill="#2a2a2a" class="lc">Macrophages</text>
<text x="415.8" y="667.2" font-size="7.8" fill="#2a2a2a" class="lc">Monocytes 3</text>
<text x="350.6" y="676.5" font-size="7.8" fill="#2a2a2a" class="lc">Monocytes 2</text>
<text x="400.8" y="677.7" font-size="7.8" fill="#2a2a2a" class="lc">Treg 2</text>
<text x="361.6" y="689.2" font-size="7.8" fill="#2a2a2a" class="lc">Endothelial</text>
<text x="405.7" y="690" font-size="7.8" fill="#2a2a2a" class="lc">Epithelial 2</text>
<text x="444.6" y="688" font-size="7.8" fill="#2a2a2a" class="lc">B-cells 5</text>
<text x="422.5" y="696.3" font-size="7.8" fill="#2a2a2a" class="lc">B-cells 4</text>
<text x="410.7" y="708.9" font-size="7.8" fill="#2a2a2a" class="lc">Epithelial 1</text>
<text x="434.4" y="709.2" font-size="7.8" fill="#2a2a2a" class="lc">Erythrocytes 1</text>
<text x="349.8" y="715.5" font-size="7.8" fill="#2a2a2a" class="lc">Treg 3</text>
<text x="385.6" y="719.9" font-size="7.8" fill="#2a2a2a" class="lc">Epithelial 3</text>
<text x="430.4" y="719.9" font-size="7.8" fill="#2a2a2a" class="lc">Plasma cells</text>
<text x="397.4" y="730.5" font-size="7.8" fill="#2a2a2a" class="lc">CD4 T-cell 2</text>
<text x="452.1" y="730.5" font-size="7.8" fill="#2a2a2a" class="lc">B-cells 2</text>
<text x="336.4" y="735.2" font-size="7.8" fill="#2a2a2a" class="lc">Treg 1</text>
<text x="364.3" y="742.3" font-size="7.8" fill="#2a2a2a" class="lc">CD8 T-cell 2</text>
<text x="326.2" y="753" font-size="7.8" fill="#2a2a2a" class="lc">CD8 T-cell 1</text>
<text x="381.6" y="756.1" font-size="7.8" fill="#2a2a2a" class="lc">CD4 T-cell 1</text>
<text x="441" y="753.3" font-size="7.8" fill="#2a2a2a" class="lc">B-cells 1</text>
</g>
<g id="wm"><g fill="#fff" fill-opacity=".8" stroke="#b4b4b4" stroke-width="1"><path d="M903.8 1094.5c-8.3 0-15 5.6-15 12.6 0 3.9 2.1 7.3 5.4 9.6l-1.6 4.6 5.6-2.8c1.7.5 3.6.8 5.6.8 8.3 0 15-5.6 15-12.2 0-7-6.7-12.6-15-12.6z"/><path d="M918 1106.6c-7.3 0-13.2 4.9-13.2 11 0 6.1 5.9 11 13.2 11 1.6 0 3.1-.2 4.5-.6l4.9 2.5-1.4-4c2.9-2 4.8-5.2 4.8-8.9 0-6.1-5.9-11-12.8-11z"/></g><g fill="#fff" stroke="#b5b5b5" stroke-width=".9"><circle cx="897.7" cy="1102.3" r="1.7"/><circle cx="909.3" cy="1101.5" r="1.7"/><circle cx="913.2" cy="1112.8" r="1.6"/><circle cx="922.4" cy="1112.5" r="1.6"/></g><text x="939.5" y="1125" font-size="26.2" fill="#9a9a9a" class="cjk" textLength="104.5" lengthAdjust="spacingAndGlyphs">图灵基因</text><text x="938.3" y="1123.8" font-size="26.2" fill="#fff" class="cjk" textLength="104.5" lengthAdjust="spacingAndGlyphs">图灵基因</text></g>
</svg>
</body></html>
